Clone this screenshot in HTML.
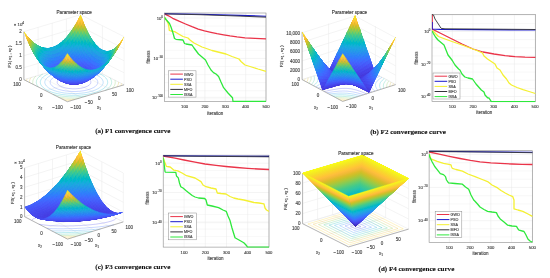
<!DOCTYPE html>
<html><head><meta charset="utf-8"><title>Convergence curves</title>
<style>html,body{margin:0;padding:0;background:#fff}svg{display:block}text{font-family:"Liberation Sans", sans-serif;stroke:#444;stroke-width:.13px;paint-order:stroke}</style></head>
<body><svg width="550" height="278" viewBox="0 0 550 278">
<rect width="550" height="278" fill="#fff"/>
<defs><filter id="bl" x="-5%" y="-5%" width="110%" height="110%"><feGaussianBlur stdDeviation=".7"/><feComponentTransfer><feFuncA type="linear" slope="2" intercept="-.5"/></feComponentTransfer></filter></defs>
<path d="M67.4 101.7L23.9 79.7M23.9 79.7L23.9 31.6M81.6 97.5L38.1 75.5M38.1 75.5L38.1 27.4M95.8 93.2L52.2 71.2M52.2 71.2L52.2 23.1M109.9 89L66.4 67M66.4 67L66.4 18.9M124.1 84.8L80.6 62.8M80.6 62.8L80.6 14.7M67.4 101.7L124.1 84.8M124.1 84.8L124.1 36.7M45.7 90.7L102.4 73.8M102.4 73.8L102.4 25.7M23.9 79.7L80.6 62.8M80.6 62.8L80.6 14.7M23.9 79.7L80.6 62.8M80.6 62.8L124.1 84.8M23.9 67.7L80.6 50.8M80.6 50.8L124.1 72.8M23.9 55.7L80.6 38.8M80.6 38.8L124.1 60.8M23.9 43.6L80.6 26.7M80.6 26.7L124.1 48.7M23.9 31.6L80.6 14.7M80.6 14.7L124.1 36.7" stroke="#e9e9e9" stroke-width=".5" fill="none"/>
<path d="M80.3 88.3L79.5 88.4L77.6 88.6L76.6 88.7L75.6 88.8L74.1 88.8L72.7 88.8L71.4 88.7L70.2 88.6L69.1 88.5L68.1 88.4L66.4 88.1L65.4 87.9L64.3 87.6L63.1 87.2L61.8 86.8L60.6 86.2L59.6 85.7L58.8 85L58.2 84.5L57.8 84L57.5 83.6L57.2 82.9L57.2 82.5L57.2 82L57.3 81.6L57.4 81.1L57.8 80.5L58.2 80L58.6 79.6L59 79.2L60 78.6L60.6 78.3L61.8 77.8L63.1 77.3L64.5 76.9L66 76.5L67.7 76.2L68.5 76.1L70.4 75.9L71.4 75.8L72.4 75.7L73.9 75.7L75.3 75.7L76.6 75.8L77.8 75.9L78.9 76L79.9 76.1L81.6 76.4L82.6 76.6L83.7 76.9L84.9 77.3L86.2 77.7L87.4 78.3L88.4 78.8L89.2 79.5L89.8 80L90.2 80.5L90.5 80.9L90.8 81.6L90.8 82L90.8 82.5L90.7 82.9L90.6 83.4L90.2 84L89.8 84.5L89.4 84.9L89 85.3L88 85.9L87.4 86.2L86.2 86.7L84.9 87.2L83.5 87.6L82 88L80.3 88.3L80.3 88.3" fill="none" stroke="#4747eb" stroke-width="0.45" opacity=".62"/>
<path d="M84.7 90.5L83.9 90.7L82.2 90.9L81 91.1L79.4 91.3L78.4 91.3L76.9 91.4L75.4 91.5L74.3 91.5L73.1 91.5L71.9 91.5L70.7 91.4L69.4 91.3L68 91.2L66.6 91L65.5 90.9L64.6 90.7L63.3 90.5L61.9 90.2L61.1 90L59.6 89.6L58.8 89.4L57.5 88.9L56.2 88.4L55.1 87.9L54.1 87.3L53.1 86.7L52.4 86.1L52 85.8L51.3 85.1L51 84.7L50.7 84.1L50.4 83.6L50.3 83.2L50.2 82.8L50.2 82.2L50.2 81.6L50.4 81.1L50.5 80.6L50.8 80.2L51.1 79.8L51.4 79.4L51.9 78.8L52.5 78.2L53 77.9L53.8 77.3L54.5 76.9L55.6 76.4L56.2 76.1L57.5 75.6L58.8 75.1L60.2 74.7L61.7 74.3L63.3 74L64.1 73.8L65.8 73.6L67 73.4L68.6 73.2L69.6 73.2L71.1 73.1L72.6 73L73.7 73L74.9 73L76.1 73L77.3 73.1L78.6 73.2L80 73.3L81.4 73.5L82.5 73.6L83.4 73.8L84.7 74L86.1 74.3L86.9 74.5L88.4 74.9L89.2 75.1L90.5 75.6L91.8 76.1L92.9 76.6L93.9 77.2L94.9 77.8L95.6 78.4L96 78.7L96.7 79.4L97 79.8L97.3 80.4L97.6 80.9L97.7 81.3L97.8 81.7L97.8 82.3L97.8 82.9L97.6 83.4L97.5 83.9L97.2 84.3L96.9 84.7L96.6 85.1L96.1 85.7L95.5 86.3L95 86.6L94.2 87.2L93.5 87.6L92.4 88.1L91.8 88.4L90.5 88.9L89.2 89.4L87.8 89.8L86.3 90.2L84.7 90.5L84.7 90.5" fill="none" stroke="#3e6fff" stroke-width="0.45" opacity=".62"/>
<path d="M87.2 92.3L86.4 92.5L84.7 92.8L83.6 92.9L82 93.1L81.1 93.2L79.1 93.4L78.1 93.5L77.1 93.5L75.7 93.6L74.1 93.6L72.7 93.6L71.5 93.5L70.3 93.5L69 93.4L67.7 93.3L66.6 93.2L65.5 93.1L64.5 93L63.3 92.8L61.6 92.5L60.7 92.3L59.8 92.1L58.2 91.8L57.4 91.6L55.9 91.1L54.9 90.8L53.8 90.4L52.6 89.9L51.4 89.4L50.3 88.9L49.3 88.3L48.4 87.7L47.8 87.2L47.2 86.7L46.5 86.1L46.2 85.7L45.7 85L45.5 84.6L45.3 84.2L45 83.5L44.9 83.1L44.8 82.6L44.8 82.2L44.9 81.8L44.9 81.2L45.1 80.7L45.3 80.3L45.5 79.8L45.9 79.3L46.3 78.7L46.8 78.2L47.2 77.8L47.6 77.4L48.5 76.8L49 76.4L49.9 75.9L50.6 75.5L51.7 75L52.3 74.7L53.5 74.2L54.9 73.7L56.2 73.3L57.7 72.9L59.2 72.5L60.8 72.2L61.6 72L63.3 71.7L64.4 71.6L66 71.4L66.9 71.3L68.9 71.1L69.9 71L70.9 71L72.3 70.9L73.9 70.9L75.3 70.9L76.5 71L77.7 71L79 71.1L80.3 71.2L81.4 71.3L82.5 71.4L83.5 71.5L84.7 71.7L86.4 72L87.3 72.2L88.2 72.4L89.8 72.7L90.6 72.9L92.1 73.4L93.1 73.7L94.2 74.1L95.4 74.6L96.6 75.1L97.7 75.6L98.7 76.2L99.6 76.8L100.2 77.3L100.8 77.8L101.5 78.4L101.8 78.8L102.3 79.5L102.5 79.9L102.7 80.3L103 81L103.1 81.4L103.2 81.9L103.2 82.3L103.1 82.7L103.1 83.3L102.9 83.8L102.7 84.2L102.5 84.7L102.1 85.2L101.7 85.8L101.2 86.3L100.8 86.7L100.4 87.1L99.5 87.7L99 88.1L98.1 88.6L97.4 89L96.3 89.5L95.7 89.8L94.5 90.3L93.1 90.8L91.8 91.2L90.3 91.6L88.8 92L87.2 92.3L87.2 92.3" fill="none" stroke="#2797eb" stroke-width="0.45" opacity=".62"/>
<path d="M89.2 93.9L88.4 94.1L86.7 94.4L85.6 94.5L84 94.7L83.1 94.8L81.2 95L80.3 95.1L79 95.2L77.3 95.3L76.1 95.3L75.1 95.3L73.9 95.3L72.7 95.3L71.3 95.3L70 95.2L68.8 95.2L67.6 95.1L66.4 95L65.2 94.9L63.7 94.7L62.2 94.5L61.2 94.4L60.3 94.2L58.8 93.9L57.6 93.7L56.8 93.5L55.2 93.1L54.4 92.9L52.9 92.5L51.7 92.1L50.9 91.8L49.6 91.3L48.4 90.8L47.3 90.2L46.2 89.7L45.2 89.1L44.4 88.5L43.8 88.1L43.2 87.5L42.5 86.8L42.1 86.5L41.6 85.8L41.3 85.4L41 84.9L40.7 84.3L40.6 83.9L40.5 83.5L40.4 82.9L40.3 82.3L40.3 81.8L40.4 81.3L40.5 80.9L40.7 80.4L40.9 79.9L41.1 79.4L41.4 78.9L41.8 78.5L42.1 78.1L42.5 77.7L43.1 77L43.6 76.6L44.1 76.2L45 75.6L45.5 75.3L46.5 74.7L47.1 74.4L48.3 73.8L48.9 73.5L50.1 73L51.4 72.5L52.8 72.1L54.2 71.7L55.7 71.3L57.2 70.9L58.8 70.6L59.6 70.4L61.3 70.1L62.4 70L64 69.8L64.9 69.7L66.8 69.5L67.7 69.4L69 69.3L70.7 69.2L71.9 69.2L72.9 69.2L74.1 69.2L75.3 69.2L76.7 69.2L78 69.3L79.2 69.3L80.4 69.4L81.6 69.5L82.8 69.6L84.3 69.8L85.8 70L86.8 70.1L87.7 70.3L89.2 70.6L90.4 70.8L91.2 71L92.8 71.4L93.6 71.6L95.1 72L96.3 72.4L97.1 72.7L98.4 73.2L99.6 73.7L100.7 74.3L101.8 74.8L102.8 75.4L103.6 76L104.2 76.4L104.8 77L105.5 77.7L105.9 78L106.4 78.7L106.7 79.1L107 79.6L107.3 80.2L107.4 80.6L107.5 81L107.6 81.6L107.7 82.2L107.7 82.7L107.6 83.2L107.5 83.6L107.3 84.1L107.1 84.6L106.9 85.1L106.6 85.6L106.2 86L105.9 86.4L105.5 86.8L104.9 87.5L104.4 87.9L103.9 88.3L103 88.9L102.5 89.2L101.5 89.8L100.9 90.1L99.7 90.7L99.1 91L97.9 91.5L96.6 92L95.2 92.4L93.8 92.8L92.3 93.2L90.8 93.6L89.2 93.9L89.2 93.9" fill="none" stroke="#08b5d0" stroke-width="0.45" opacity=".62"/>
<path d="M86.3 96.1L84.8 96.3L83.8 96.4L82 96.5L81 96.6L79.8 96.7L78 96.8L76.9 96.8L75.8 96.9L74.7 96.9L73.3 96.9L71.9 96.8L70.6 96.8L69.3 96.8L68.1 96.7L66.9 96.6L65.7 96.5L64.6 96.4L63.5 96.3L62 96.1L60.5 95.9L59.5 95.7L58.6 95.6L57 95.3L55.9 95.1L55.1 94.9L53.4 94.5L52.9 94.4" fill="none" stroke="#31c69f" stroke-width="0.45" opacity=".62"/>
<path d="M109.6 77.5L110.1 78.1L110.4 78.4L110.8 79.1L111 79.5L111.2 80L111.4 80.7L111.5 81.1L111.6 81.5L111.7 82L111.7 82.5L111.6 83L111.5 83.6L111.4 84.1L111.2 84.5L111 85L110.7 85.5L110.5 85.9L110.2 86.3L109.7 86.9L109.2 87.5L108.8 87.9L108.4 88.2L107.6 88.8L107 89.3L106.6 89.6L105.5 90.2L105.2 90.4" fill="none" stroke="#31c69f" stroke-width="0.45" opacity=".62"/>
<path d="M38.4 87L37.9 86.4L37.6 86.1L37.2 85.4L37 85L36.8 84.5L36.6 83.8L36.5 83.4L36.4 83L36.3 82.5L36.3 82L36.4 81.5L36.5 80.9L36.6 80.4L36.8 80L37 79.5L37.3 79L37.5 78.6L37.8 78.2L38.3 77.6L38.8 77L39.2 76.6L39.6 76.3L40.4 75.7L41 75.2L41.4 74.9L42.5 74.3L42.8 74.1" fill="none" stroke="#31c69f" stroke-width="0.45" opacity=".62"/>
<path d="M61.7 68.4L63.2 68.2L64.2 68.1L66 68L67 67.9L68.2 67.8L70 67.7L71.1 67.7L72.2 67.6L73.3 67.6L74.7 67.6L76.1 67.7L77.4 67.7L78.7 67.7L79.9 67.8L81.1 67.9L82.3 68L83.4 68.1L84.5 68.2L86 68.4L87.5 68.6L88.5 68.8L89.4 68.9L91 69.2L92.1 69.4L92.9 69.6L94.6 70L95.1 70.1" fill="none" stroke="#31c69f" stroke-width="0.45" opacity=".62"/>
<path d="M79.4 98.1L77.7 98.2L76.3 98.2L75.2 98.3L74.1 98.3L73 98.3L71.7 98.2L70.3 98.2L69 98.2L67.8 98.1L66.6 98L65.4 97.9L64.2 97.8L62.8 97.7L61.3 97.5L60.1 97.3L59.1 97.2L58.2 97.1" fill="none" stroke="#81cc59" stroke-width="0.45" opacity=".62"/>
<path d="M114.9 80.2L115.1 80.8L115.2 81.3L115.2 81.8L115.3 82.2L115.2 82.6L115.2 83.1L115.1 83.7L115 84.2L114.8 84.6L114.6 85.1L114.4 85.6L114.1 86L113.7 86.6L113.3 87.2L112.8 87.6L112.5 88L112.1 88.4" fill="none" stroke="#81cc59" stroke-width="0.45" opacity=".62"/>
<path d="M33.1 84.3L32.9 83.7L32.8 83.2L32.8 82.7L32.7 82.3L32.8 81.9L32.8 81.4L32.9 80.8L33 80.3L33.2 79.9L33.4 79.4L33.6 78.9L33.9 78.5L34.3 77.9L34.7 77.3L35.2 76.9L35.5 76.5L35.9 76.1" fill="none" stroke="#81cc59" stroke-width="0.45" opacity=".62"/>
<path d="M68.6 66.4L70.3 66.3L71.7 66.3L72.8 66.2L73.9 66.2L75 66.2L76.3 66.3L77.7 66.3L79 66.3L80.2 66.4L81.4 66.5L82.6 66.6L83.8 66.7L85.2 66.8L86.7 67L87.9 67.2L88.9 67.3L89.8 67.4" fill="none" stroke="#81cc59" stroke-width="0.45" opacity=".62"/>
<path d="M74.6 99.5L73.3 99.5L72.1 99.5L71 99.5L69.8 99.5L68.5 99.4L67.3 99.4L66 99.3L64.6 99.2L63.3 99L62.1 98.9L61.9 98.9" fill="none" stroke="#dcbd29" stroke-width="0.45" opacity=".62"/>
<path d="M118.6 82L118.6 82.5L118.5 83L118.5 83.4L118.4 83.9L118.2 84.4L118.1 84.9L117.8 85.4L117.6 85.9L117.3 86.4L116.9 86.9L116.9 87" fill="none" stroke="#dcbd29" stroke-width="0.45" opacity=".62"/>
<path d="M29.4 82.5L29.4 82L29.5 81.5L29.5 81.1L29.6 80.6L29.8 80.1L29.9 79.6L30.2 79.1L30.4 78.6L30.7 78.1L31.1 77.6L31.1 77.5" fill="none" stroke="#dcbd29" stroke-width="0.45" opacity=".62"/>
<path d="M73.4 65L74.7 65L75.9 65L77 65L78.2 65L79.5 65.1L80.7 65.1L82 65.2L83.4 65.3L84.7 65.5L85.9 65.6L86.1 65.6" fill="none" stroke="#dcbd29" stroke-width="0.45" opacity=".62"/>
<path d="M70.7 100.7L69.4 100.7L68.1 100.6L66.9 100.5L65.7 100.5L64.8 100.4" fill="none" stroke="#fccf30" stroke-width="0.45" opacity=".62"/>
<path d="M121.5 83.5L121.4 84L121.3 84.5L121.1 85L120.9 85.5L120.8 85.8" fill="none" stroke="#fccf30" stroke-width="0.45" opacity=".62"/>
<path d="M26.5 81L26.6 80.5L26.7 80L26.9 79.5L27.1 79L27.2 78.7" fill="none" stroke="#fccf30" stroke-width="0.45" opacity=".62"/>
<path d="M77.3 63.8L78.6 63.8L79.9 63.9L81.1 64L82.3 64L83.2 64.1" fill="none" stroke="#fccf30" stroke-width="0.45" opacity=".62"/>
<path d="M67.4 101.7L124.1 84.8" stroke="#8a8a8a" stroke-width="0.6"/>
<path d="M23.9 79.7L67.4 101.7" stroke="#8a8a8a" stroke-width="0.6"/>
<path d="M23.9 79.7L23.9 31.6" stroke="#8a8a8a" stroke-width="0.6"/>
<g fill="currentColor" stroke="currentColor" stroke-width=".4" stroke-linejoin="round" filter="url(#bl)">
<path color="#f6df29" d="M80.2 21.7l1.8-3.4-1.4-3.6-1.8 3.4z"/>
<path color="#fec438" d="M78.4 25l1.8-3.3-1.4-3.6-1.7 3.3z"/>
<path color="#e7bb2e" d="M76.6 28.1l1.8-3.1-1.3-3.6-1.8 3.1z"/>
<path color="#bfc32d" d="M74.9 30.9l1.7-2.8-1.3-3.6-1.8 2.8z"/>
<path color="#92ca4b" d="M73.1 33.6l1.8-2.7-1.4-3.6-1.8 2.7z"/>
<path color="#68cd6c" d="M71.3 36.1l1.8-2.5-1.4-3.6-1.7 2.5z"/>
<path color="#46cb88" d="M69.6 38.4l1.7-2.3-1.3-3.6-1.8 2.3z"/>
<path color="#33c79d" d="M67.8 40.6l1.8-2.2-1.4-3.6-1.8 2.2z"/>
<path color="#26c2ac" d="M66 42.5l1.8-1.9-1.4-3.6-1.7 1.9z"/>
<path color="#12beb9" d="M64.2 44.2l1.8-1.7-1.3-3.6-1.8 1.7z"/>
<path color="#02bbc3" d="M62.5 45.8l1.7-1.6-1.3-3.6-1.8 1.6z"/>
<path color="#02b7cb" d="M60.7 47.2l1.8-1.4-1.4-3.6-1.8 1.4z"/>
<path color="#09b4d1" d="M58.9 48.4l1.8-1.2-1.4-3.6-1.7 1.2z"/>
<path color="#10b2d5" d="M57.2 49.4l1.7-1-1.3-3.6-1.8 1z"/>
<path color="#14b0d8" d="M55.4 50.2l1.8-.8-1.4-3.6-1.8 .8z"/>
<path color="#16afd9" d="M53.6 50.8l1.8-.6-1.4-3.6-1.8 .6z"/>
<path color="#16afd9" d="M51.8 51.2l1.8-.4-1.4-3.6-1.7 .4z"/>
<path color="#14b0d8" d="M50.1 51.5l1.7-.3-1.3-3.6-1.8 .3z"/>
<path color="#10b2d5" d="M48.3 51.5l1.8 0-1.4-3.6-1.8 0z"/>
<path color="#09b4d1" d="M46.5 51.4l1.8 .1-1.4-3.6-1.7-.1z"/>
<path color="#02b7cb" d="M44.8 51.1l1.7 .3-1.3-3.6-1.8-.3z"/>
<path color="#02bbc3" d="M43 50.6l1.8 .5-1.4-3.6-1.8-.5z"/>
<path color="#12beb9" d="M41.2 49.9l1.8 .7-1.4-3.6-1.8-.7z"/>
<path color="#26c2ac" d="M39.4 49l1.8 .9-1.4-3.6-1.7-.9z"/>
<path color="#33c79d" d="M37.7 47.9l1.7 1.1-1.3-3.6-1.8-1.1z"/>
<path color="#46cb88" d="M35.9 46.7l1.8 1.2-1.4-3.6-1.8-1.2z"/>
<path color="#68cd6c" d="M34.1 45.2l1.8 1.5-1.4-3.6-1.7-1.5z"/>
<path color="#92ca4b" d="M32.3 43.6l1.8 1.6-1.3-3.6-1.8-1.6z"/>
<path color="#bfc32d" d="M30.6 41.8l1.7 1.8-1.3-3.6-1.8-1.8z"/>
<path color="#e7bb2e" d="M28.8 39.8l1.8 2-1.4-3.6-1.8-2z"/>
<path color="#fec438" d="M27 37.6l1.8 2.2-1.4-3.6-1.7-2.2z"/>
<path color="#f6df29" d="M25.3 35.2l1.7 2.4-1.3-3.6-1.8-2.4z"/>
<path color="#fec438" d="M81.5 25.2l1.8-3.5-1.3-3.4-1.8 3.4z"/>
<path color="#e5bb2d" d="M79.8 28.4l1.7-3.2-1.3-3.5-1.8 3.3z"/>
<path color="#b8c431" d="M78 31.5l1.8-3.1-1.4-3.4-1.8 3.1z"/>
<path color="#87cb54" d="M76.2 34.3l1.8-2.8-1.4-3.4-1.7 2.8z"/>
<path color="#5acc78" d="M74.5 37l1.7-2.7-1.3-3.4-1.8 2.7z"/>
<path color="#3ac994" d="M72.7 39.5l1.8-2.5-1.4-3.4-1.8 2.5z"/>
<path color="#2ac3a9" d="M70.9 41.8l1.8-2.3-1.4-3.4-1.7 2.3z"/>
<path color="#12beb9" d="M69.1 44l1.8-2.2-1.3-3.4-1.8 2.2z"/>
<path color="#01b9c6" d="M67.4 45.9l1.7-1.9-1.3-3.4-1.8 1.9z"/>
<path color="#09b4d1" d="M65.6 47.7l1.8-1.8-1.4-3.4-1.8 1.7z"/>
<path color="#16afd9" d="M63.8 49.2l1.8-1.5-1.4-3.5-1.7 1.6z"/>
<path color="#1baade" d="M62.1 50.6l1.7-1.4-1.3-3.4-1.8 1.4z"/>
<path color="#1fa6e2" d="M60.3 51.8l1.8-1.2-1.4-3.4-1.8 1.2z"/>
<path color="#21a3e3" d="M58.5 52.8l1.8-1-1.4-3.4-1.7 1z"/>
<path color="#23a1e4" d="M56.7 53.6l1.8-.8-1.3-3.4-1.8 .8z"/>
<path color="#23a0e5" d="M55 54.2l1.7-.6-1.3-3.4-1.8 .6z"/>
<path color="#23a0e5" d="M53.2 54.6l1.8-.4-1.4-3.4-1.8 .4z"/>
<path color="#23a1e4" d="M51.4 54.9l1.8-.3-1.4-3.4-1.7 .3z"/>
<path color="#21a3e3" d="M49.7 55l1.7-.1-1.3-3.4-1.8 0z"/>
<path color="#1fa6e2" d="M47.9 54.8l1.8 .2-1.4-3.5-1.8-.1z"/>
<path color="#1baade" d="M46.1 54.5l1.8 .3-1.4-3.4-1.7-.3z"/>
<path color="#16afd9" d="M44.3 54l1.8 .5-1.3-3.4-1.8-.5z"/>
<path color="#09b4d1" d="M42.6 53.3l1.7 .7-1.3-3.4-1.8-.7z"/>
<path color="#01b9c6" d="M40.8 52.4l1.8 .9-1.4-3.4-1.8-.9z"/>
<path color="#12beb9" d="M39 51.4l1.8 1-1.4-3.4-1.7-1.1z"/>
<path color="#2ac3a9" d="M37.2 50.1l1.8 1.3-1.3-3.5-1.8-1.2z"/>
<path color="#3ac994" d="M35.5 48.7l1.7 1.4-1.3-3.4-1.8-1.5z"/>
<path color="#5acc78" d="M33.7 47l1.8 1.7-1.4-3.5-1.8-1.6z"/>
<path color="#87cb54" d="M31.9 45.2l1.8 1.8-1.4-3.4-1.7-1.8z"/>
<path color="#b8c431" d="M30.2 43.2l1.7 2-1.3-3.4-1.8-2z"/>
<path color="#e5bb2d" d="M28.4 41l1.8 2.2-1.4-3.4-1.8-2.2z"/>
<path color="#fec438" d="M26.6 38.6l1.8 2.4-1.4-3.4-1.7-2.4z"/>
<path color="#e7bb2e" d="M82.9 28.4l1.8-3.5-1.4-3.2-1.8 3.5z"/>
<path color="#b8c431" d="M81.1 31.6l1.8-3.2-1.4-3.2-1.7 3.2z"/>
<path color="#83cc57" d="M79.4 34.7l1.7-3.1-1.3-3.2-1.8 3.1z"/>
<path color="#53cc7d" d="M77.6 37.6l1.8-2.9-1.4-3.2-1.8 2.8z"/>
<path color="#35c79b" d="M75.8 40.3l1.8-2.7-1.4-3.3-1.7 2.7z"/>
<path color="#21c1b0" d="M74 42.8l1.8-2.5-1.3-3.3-1.8 2.5z"/>
<path color="#04bbc1" d="M72.3 45.1l1.7-2.3-1.3-3.3-1.8 2.3z"/>
<path color="#07b5d0" d="M70.5 47.2l1.8-2.1-1.4-3.3-1.8 2.2z"/>
<path color="#17aeda" d="M68.7 49.1l1.8-1.9-1.4-3.2-1.7 1.9z"/>
<path color="#1ea7e1" d="M67 50.9l1.7-1.8-1.3-3.2-1.8 1.8z"/>
<path color="#23a1e4" d="M65.2 52.4l1.8-1.5-1.4-3.2-1.8 1.5z"/>
<path color="#259be7" d="M63.4 53.8l1.8-1.4-1.4-3.2-1.7 1.4z"/>
<path color="#2797eb" d="M61.6 55l1.8-1.2-1.3-3.2-1.8 1.2z"/>
<path color="#2994ed" d="M59.9 56l1.7-1-1.3-3.2-1.8 1z"/>
<path color="#2b91ef" d="M58.1 56.8l1.8-.8-1.4-3.2-1.8 .8z"/>
<path color="#2b90f0" d="M56.3 57.4l1.8-.6-1.4-3.2-1.7 .6z"/>
<path color="#2b90f0" d="M54.6 57.9l1.7-.5-1.3-3.2-1.8 .4z"/>
<path color="#2b91ef" d="M52.8 58.1l1.8-.2-1.4-3.3-1.8 .3z"/>
<path color="#2994ed" d="M51 58.2l1.8-.1-1.4-3.2-1.7 .1z"/>
<path color="#2797eb" d="M49.2 58l1.8 .2-1.3-3.2-1.8-.2z"/>
<path color="#259be7" d="M47.5 57.7l1.7 .3-1.3-3.2-1.8-.3z"/>
<path color="#23a1e4" d="M45.7 57.2l1.8 .5-1.4-3.2-1.8-.5z"/>
<path color="#1ea7e1" d="M43.9 56.5l1.8 .7-1.4-3.2-1.7-.7z"/>
<path color="#17aeda" d="M42.2 55.6l1.7 .9-1.3-3.2-1.8-.9z"/>
<path color="#07b5d0" d="M40.4 54.6l1.8 1-1.4-3.2-1.8-1z"/>
<path color="#04bbc1" d="M38.6 53.3l1.8 1.3-1.4-3.2-1.8-1.3z"/>
<path color="#21c1b0" d="M36.8 51.9l1.8 1.4-1.4-3.2-1.7-1.4z"/>
<path color="#35c79b" d="M35.1 50.2l1.7 1.7-1.3-3.2-1.8-1.7z"/>
<path color="#53cc7d" d="M33.3 48.4l1.8 1.8-1.4-3.2-1.8-1.8z"/>
<path color="#83cc57" d="M31.5 46.4l1.8 2-1.4-3.2-1.7-2z"/>
<path color="#b8c431" d="M29.8 44.2l1.7 2.2-1.3-3.2-1.8-2.2z"/>
<path color="#e7bb2e" d="M28 41.8l1.8 2.4-1.4-3.2-1.8-2.4z"/>
<path color="#bfc32d" d="M84.3 31.4l1.7-3.4-1.3-3.1-1.8 3.5z"/>
<path color="#87cb54" d="M82.5 34.7l1.8-3.3-1.4-3-1.8 3.2z"/>
<path color="#53cc7d" d="M80.7 37.7l1.8-3-1.4-3.1-1.7 3.1z"/>
<path color="#33c79d" d="M79 40.6l1.7-2.9-1.3-3-1.8 2.9z"/>
<path color="#1cc0b4" d="M77.2 43.3l1.8-2.7-1.4-3-1.8 2.7z"/>
<path color="#01b9c6" d="M75.4 45.8l1.8-2.5-1.4-3-1.8 2.5z"/>
<path color="#10b2d5" d="M73.6 48.1l1.8-2.3-1.4-3-1.7 2.3z"/>
<path color="#1ca9df" d="M71.9 50.2l1.7-2.1-1.3-3-1.8 2.1z"/>
<path color="#23a1e4" d="M70.1 52.2l1.8-2-1.4-3-1.8 1.9z"/>
<path color="#2699e9" d="M68.3 53.9l1.8-1.7-1.4-3.1-1.7 1.8z"/>
<path color="#2a93ee" d="M66.5 55.5l1.8-1.6-1.3-3-1.8 1.5z"/>
<path color="#2d8df2" d="M64.8 56.9l1.7-1.4-1.3-3.1-1.8 1.4z"/>
<path color="#2d88f6" d="M63 58l1.8-1.1-1.4-3.1-1.8 1.2z"/>
<path color="#2e85f8" d="M61.2 59l1.8-1-1.4-3-1.7 1z"/>
<path color="#2e83f9" d="M59.5 59.8l1.7-.8-1.3-3-1.8 .8z"/>
<path color="#2f81fa" d="M57.7 60.5l1.8-.7-1.4-3-1.8 .6z"/>
<path color="#2f81fa" d="M55.9 60.9l1.8-.4-1.4-3.1-1.7 .5z"/>
<path color="#2e83f9" d="M54.1 61.2l1.8-.3-1.3-3-1.8 .2z"/>
<path color="#2e85f8" d="M52.4 61.2l1.7 0-1.3-3.1-1.8 .1z"/>
<path color="#2d88f6" d="M50.6 61.1l1.8 .1-1.4-3-1.8-.2z"/>
<path color="#2d8df2" d="M48.8 60.8l1.8 .3-1.4-3.1-1.7-.3z"/>
<path color="#2a93ee" d="M47.1 60.3l1.7 .5-1.3-3.1-1.8-.5z"/>
<path color="#2699e9" d="M45.3 59.6l1.8 .7-1.4-3.1-1.8-.7z"/>
<path color="#23a1e4" d="M43.5 58.7l1.8 .9-1.4-3.1-1.7-.9z"/>
<path color="#1ca9df" d="M41.7 57.6l1.8 1.1-1.3-3.1-1.8-1z"/>
<path color="#10b2d5" d="M40 56.4l1.7 1.2-1.3-3-1.8-1.3z"/>
<path color="#01b9c6" d="M38.2 54.9l1.8 1.5-1.4-3.1-1.8-1.4z"/>
<path color="#1cc0b4" d="M36.4 53.3l1.8 1.6-1.4-3-1.7-1.7z"/>
<path color="#33c79d" d="M34.7 51.5l1.7 1.8-1.3-3.1-1.8-1.8z"/>
<path color="#53cc7d" d="M32.9 49.5l1.8 2-1.4-3.1-1.8-2z"/>
<path color="#87cb54" d="M31.1 47.3l1.8 2.2-1.4-3.1-1.7-2.2z"/>
<path color="#bfc32d" d="M29.3 44.9l1.8 2.4-1.3-3.1-1.8-2.4z"/>
<path color="#92ca4b" d="M85.6 34.3l1.8-3.5-1.4-2.8-1.7 3.4z"/>
<path color="#5acc78" d="M83.9 37.5l1.7-3.2-1.3-2.9-1.8 3.3z"/>
<path color="#35c79b" d="M82.1 40.6l1.8-3.1-1.4-2.8-1.8 3z"/>
<path color="#1cc0b4" d="M80.3 43.5l1.8-2.9-1.4-2.9-1.7 2.9z"/>
<path color="#01b9c8" d="M78.5 46.1l1.8-2.6-1.3-2.9-1.8 2.7z"/>
<path color="#14b0d8" d="M76.8 48.6l1.7-2.5-1.3-2.8-1.8 2.5z"/>
<path color="#1fa6e2" d="M75 51l1.8-2.4-1.4-2.8-1.8 2.3z"/>
<path color="#259ce7" d="M73.2 53.1l1.8-2.1-1.4-2.9-1.7 2.1z"/>
<path color="#2994ed" d="M71.5 55l1.7-1.9-1.3-2.9-1.8 2z"/>
<path color="#2d8cf3" d="M69.7 56.8l1.8-1.8-1.4-2.8-1.8 1.7z"/>
<path color="#2e85f8" d="M67.9 58.3l1.8-1.5-1.4-2.9-1.8 1.6z"/>
<path color="#307ffb" d="M66.1 59.7l1.8-1.4-1.4-2.8-1.7 1.4z"/>
<path color="#337afd" d="M64.4 60.9l1.7-1.2-1.3-2.8-1.8 1.1z"/>
<path color="#3776fe" d="M62.6 61.9l1.8-1-1.4-2.9-1.8 1z"/>
<path color="#3a74fe" d="M60.8 62.7l1.8-.8-1.4-2.9-1.7 .8z"/>
<path color="#3b73fe" d="M59 63.3l1.8-.6-1.3-2.9-1.8 .7z"/>
<path color="#3b73fe" d="M57.3 63.8l1.7-.5-1.3-2.8-1.8 .4z"/>
<path color="#3a74fe" d="M55.5 64l1.8-.2-1.4-2.9-1.8 .3z"/>
<path color="#3776fe" d="M53.7 64.1l1.8-.1-1.4-2.8-1.7 0z"/>
<path color="#337afd" d="M52 63.9l1.7 .2-1.3-2.9-1.8-.1z"/>
<path color="#307ffb" d="M50.2 63.6l1.8 .3-1.4-2.8-1.8-.3z"/>
<path color="#2e85f8" d="M48.4 63.1l1.8 .5-1.4-2.8-1.7-.5z"/>
<path color="#2d8cf3" d="M46.6 62.4l1.8 .7-1.3-2.8-1.8-.7z"/>
<path color="#2994ed" d="M44.9 61.5l1.7 .9-1.3-2.8-1.8-.9z"/>
<path color="#259ce7" d="M43.1 60.5l1.8 1-1.4-2.8-1.8-1.1z"/>
<path color="#1fa6e2" d="M41.3 59.2l1.8 1.3-1.4-2.9-1.7-1.2z"/>
<path color="#14b0d8" d="M39.6 57.8l1.7 1.4-1.3-2.8-1.8-1.5z"/>
<path color="#01b9c8" d="M37.8 56.1l1.8 1.7-1.4-2.9-1.8-1.6z"/>
<path color="#1cc0b4" d="M36 54.3l1.8 1.8-1.4-2.8-1.7-1.8z"/>
<path color="#35c79b" d="M34.2 52.3l1.8 2-1.3-2.8-1.8-2z"/>
<path color="#5acc78" d="M32.5 50.1l1.7 2.2-1.3-2.8-1.8-2.2z"/>
<path color="#92ca4b" d="M30.7 47.7l1.8 2.4-1.4-2.8-1.8-2.4z"/>
<path color="#68cd6c" d="M87 36.9l1.8-3.4-1.4-2.7-1.8 3.5z"/>
<path color="#3ac994" d="M85.2 40.2l1.8-3.3-1.4-2.6-1.7 3.2z"/>
<path color="#21c1b0" d="M83.4 43.2l1.8-3-1.3-2.7-1.8 3.1z"/>
<path color="#01b9c6" d="M81.7 46.1l1.7-2.9-1.3-2.6-1.8 2.9z"/>
<path color="#14b0d8" d="M79.9 48.8l1.8-2.7-1.4-2.6-1.8 2.6z"/>
<path color="#20a5e2" d="M78.1 51.3l1.8-2.5-1.4-2.7-1.7 2.5z"/>
<path color="#269ae8" d="M76.4 53.6l1.7-2.3-1.3-2.7-1.8 2.4z"/>
<path color="#2b90f0" d="M74.6 55.7l1.8-2.1-1.4-2.6-1.8 2.1z"/>
<path color="#2e87f7" d="M72.8 57.7l1.8-2-1.4-2.6-1.7 1.9z"/>
<path color="#307ffb" d="M71 59.4l1.8-1.7-1.3-2.7-1.8 1.8z"/>
<path color="#3678fe" d="M69.3 61l1.7-1.6-1.3-2.6-1.8 1.5z"/>
<path color="#3c71ff" d="M67.5 62.4l1.8-1.4-1.4-2.7-1.8 1.4z"/>
<path color="#406dfe" d="M65.7 63.6l1.8-1.2-1.4-2.7-1.7 1.2z"/>
<path color="#4269fe" d="M64 64.5l1.7-.9-1.3-2.7-1.8 1z"/>
<path color="#4367fd" d="M62.2 65.4l1.8-.9-1.4-2.6-1.8 .8z"/>
<path color="#4466fd" d="M60.4 66l1.8-.6-1.4-2.7-1.8 .6z"/>
<path color="#4466fd" d="M58.6 66.4l1.8-.4-1.4-2.7-1.7 .5z"/>
<path color="#4367fd" d="M56.9 66.7l1.7-.3-1.3-2.6-1.8 .2z"/>
<path color="#4269fe" d="M55.1 66.7l1.8 0-1.4-2.7-1.8 .1z"/>
<path color="#406dfe" d="M53.3 66.6l1.8 .1-1.4-2.6-1.7-.2z"/>
<path color="#3c71ff" d="M51.5 66.3l1.8 .3-1.3-2.7-1.8-.3z"/>
<path color="#3678fe" d="M49.8 65.8l1.7 .5-1.3-2.7-1.8-.5z"/>
<path color="#307ffb" d="M48 65.1l1.8 .7-1.4-2.7-1.8-.7z"/>
<path color="#2e87f7" d="M46.2 64.2l1.8 .9-1.4-2.7-1.7-.9z"/>
<path color="#2b90f0" d="M44.5 63.1l1.7 1.1-1.3-2.7-1.8-1z"/>
<path color="#269ae8" d="M42.7 61.9l1.8 1.2-1.4-2.6-1.8-1.3z"/>
<path color="#20a5e2" d="M40.9 60.4l1.8 1.5-1.4-2.7-1.7-1.4z"/>
<path color="#14b0d8" d="M39.1 58.8l1.8 1.6-1.3-2.6-1.8-1.7z"/>
<path color="#01b9c6" d="M37.4 57l1.7 1.8-1.3-2.7-1.8-1.8z"/>
<path color="#21c1b0" d="M35.6 55l1.8 2-1.4-2.7-1.8-2z"/>
<path color="#3ac994" d="M33.8 52.8l1.8 2.2-1.4-2.7-1.7-2.2z"/>
<path color="#68cd6c" d="M32.1 50.4l1.7 2.4-1.3-2.7-1.8-2.4z"/>
<path color="#46cb88" d="M88.3 39.4l1.8-3.4-1.3-2.5-1.8 3.4z"/>
<path color="#2ac3a9" d="M86.6 42.6l1.7-3.2-1.3-2.5-1.8 3.3z"/>
<path color="#04bbc1" d="M84.8 45.7l1.8-3.1-1.4-2.4-1.8 3z"/>
<path color="#10b2d5" d="M83 48.6l1.8-2.9-1.4-2.5-1.7 2.9z"/>
<path color="#1fa6e2" d="M81.3 51.3l1.7-2.7-1.3-2.5-1.8 2.7z"/>
<path color="#269ae8" d="M79.5 53.8l1.8-2.5-1.4-2.5-1.8 2.5z"/>
<path color="#2c8ff0" d="M77.7 56.1l1.8-2.3-1.4-2.5-1.7 2.3z"/>
<path color="#2e85f8" d="M75.9 58.2l1.8-2.1-1.3-2.5-1.8 2.1z"/>
<path color="#327bfc" d="M74.2 60.2l1.7-2-1.3-2.5-1.8 2z"/>
<path color="#3b73fe" d="M72.4 61.9l1.8-1.7-1.4-2.5-1.8 1.7z"/>
<path color="#416bfe" d="M70.6 63.5l1.8-1.6-1.4-2.5-1.7 1.6z"/>
<path color="#4466fd" d="M68.9 64.8l1.7-1.3-1.3-2.5-1.8 1.4z"/>
<path color="#4561fc" d="M67.1 66l1.8-1.2-1.4-2.4-1.8 1.2z"/>
<path color="#465efb" d="M65.3 67l1.8-1-1.4-2.4-1.7 .9z"/>
<path color="#475cfa" d="M63.5 67.8l1.8-.8-1.3-2.5-1.8 .9z"/>
<path color="#475bfa" d="M61.8 68.5l1.7-.7-1.3-2.4-1.8 .6z"/>
<path color="#475bfa" d="M60 68.9l1.8-.4-1.4-2.5-1.8 .4z"/>
<path color="#475cfa" d="M58.2 69.1l1.8-.2-1.4-2.5-1.7 .3z"/>
<path color="#465efb" d="M56.4 69.2l1.8-.1-1.3-2.4-1.8 0z"/>
<path color="#4561fc" d="M54.7 69.1l1.7 .1-1.3-2.5-1.8-.1z"/>
<path color="#4466fd" d="M52.9 68.7l1.8 .4-1.4-2.5-1.8-.3z"/>
<path color="#416bfe" d="M51.1 68.2l1.8 .5-1.4-2.4-1.7-.5z"/>
<path color="#3b73fe" d="M49.4 67.5l1.7 .7-1.3-2.4-1.8-.7z"/>
<path color="#327bfc" d="M47.6 66.7l1.8 .8-1.4-2.4-1.8-.9z"/>
<path color="#2e85f8" d="M45.8 65.6l1.8 1.1-1.4-2.5-1.7-1.1z"/>
<path color="#2c8ff0" d="M44 64.3l1.8 1.3-1.3-2.5-1.8-1.2z"/>
<path color="#269ae8" d="M42.3 62.9l1.7 1.4-1.3-2.4-1.8-1.5z"/>
<path color="#1fa6e2" d="M40.5 61.3l1.8 1.6-1.4-2.5-1.8-1.6z"/>
<path color="#10b2d5" d="M38.7 59.4l1.8 1.9-1.4-2.5-1.7-1.8z"/>
<path color="#04bbc1" d="M37 57.4l1.7 2-1.3-2.4-1.8-2z"/>
<path color="#2ac3a9" d="M35.2 55.2l1.8 2.2-1.4-2.4-1.8-2.2z"/>
<path color="#46cb88" d="M33.4 52.9l1.8 2.3-1.4-2.4-1.7-2.4z"/>
<path color="#33c79d" d="M89.7 41.7l1.8-3.5-1.4-2.2-1.8 3.4z"/>
<path color="#12beb9" d="M87.9 44.9l1.8-3.2-1.4-2.3-1.7 3.2z"/>
<path color="#07b5d0" d="M86.2 48l1.7-3.1-1.3-2.3-1.8 3.1z"/>
<path color="#1ca9df" d="M84.4 50.9l1.8-2.9-1.4-2.3-1.8 2.9z"/>
<path color="#259ce7" d="M82.6 53.6l1.8-2.7-1.4-2.3-1.7 2.7z"/>
<path color="#2b90f0" d="M80.8 56.1l1.8-2.5-1.3-2.3-1.8 2.5z"/>
<path color="#2e85f8" d="M79.1 58.4l1.7-2.3-1.3-2.3-1.8 2.3z"/>
<path color="#337afd" d="M77.3 60.5l1.8-2.1-1.4-2.3-1.8 2.1z"/>
<path color="#3d70ff" d="M75.5 62.4l1.8-1.9-1.4-2.3-1.7 2z"/>
<path color="#4368fe" d="M73.8 64.2l1.7-1.8-1.3-2.2-1.8 1.7z"/>
<path color="#4561fc" d="M72 65.7l1.8-1.5-1.4-2.3-1.8 1.6z"/>
<path color="#475cfa" d="M70.2 67.1l1.8-1.4-1.4-2.2-1.7 1.3z"/>
<path color="#4758f8" d="M68.4 68.3l1.8-1.2-1.3-2.3-1.8 1.2z"/>
<path color="#4755f6" d="M66.7 69.3l1.7-1-1.3-2.3-1.8 1z"/>
<path color="#4854f5" d="M64.9 70.1l1.8-.8-1.4-2.3-1.8 .8z"/>
<path color="#4853f4" d="M63.1 70.7l1.8-.6-1.4-2.3-1.7 .7z"/>
<path color="#4853f4" d="M61.4 71.2l1.7-.5-1.3-2.2-1.8 .4z"/>
<path color="#4854f5" d="M59.6 71.4l1.8-.2-1.4-2.3-1.8 .2z"/>
<path color="#4755f6" d="M57.8 71.5l1.8-.1-1.4-2.3-1.8 .1z"/>
<path color="#4758f8" d="M56 71.3l1.8 .2-1.4-2.3-1.7-.1z"/>
<path color="#475cfa" d="M54.3 71l1.7 .3-1.3-2.2-1.8-.4z"/>
<path color="#4561fc" d="M52.5 70.5l1.8 .5-1.4-2.3-1.8-.5z"/>
<path color="#4368fe" d="M50.7 69.8l1.8 .7-1.4-2.3-1.7-.7z"/>
<path color="#3d70ff" d="M49 69l1.7 .8-1.3-2.3-1.8-.8z"/>
<path color="#337afd" d="M47.2 67.9l1.8 1.1-1.4-2.3-1.8-1.1z"/>
<path color="#2e85f8" d="M45.4 66.6l1.8 1.3-1.4-2.3-1.8-1.3z"/>
<path color="#2b90f0" d="M43.6 65.2l1.8 1.4-1.4-2.3-1.7-1.4z"/>
<path color="#259ce7" d="M41.9 63.5l1.7 1.7-1.3-2.3-1.8-1.6z"/>
<path color="#1ca9df" d="M40.1 61.7l1.8 1.8-1.4-2.2-1.8-1.9z"/>
<path color="#07b5d0" d="M38.3 59.7l1.8 2-1.4-2.3-1.7-2z"/>
<path color="#12beb9" d="M36.5 57.5l1.8 2.2-1.3-2.3-1.8-2.2z"/>
<path color="#33c79d" d="M34.8 55.1l1.7 2.4-1.3-2.3-1.8-2.3z"/>
<path color="#26c2ac" d="M91.1 43.8l1.7-3.5-1.3-2.1-1.8 3.5z"/>
<path color="#01b9c6" d="M89.3 47l1.8-3.2-1.4-2.1-1.8 3.2z"/>
<path color="#17aeda" d="M87.5 50.1l1.8-3.1-1.4-2.1-1.7 3.1z"/>
<path color="#23a1e4" d="M85.7 53l1.8-2.9-1.3-2.1-1.8 2.9z"/>
<path color="#2994ed" d="M84 55.7l1.7-2.7-1.3-2.1-1.8 2.7z"/>
<path color="#2e87f7" d="M82.2 58.2l1.8-2.5-1.4-2.1-1.8 2.5z"/>
<path color="#327bfc" d="M80.4 60.5l1.8-2.3-1.4-2.1-1.7 2.3z"/>
<path color="#3d70ff" d="M78.7 62.6l1.7-2.1-1.3-2.1-1.8 2.1z"/>
<path color="#4367fd" d="M76.9 64.5l1.8-1.9-1.4-2.1-1.8 1.9z"/>
<path color="#465ffb" d="M75.1 66.3l1.8-1.8-1.4-2.1-1.7 1.8z"/>
<path color="#4759f9" d="M73.3 67.8l1.8-1.5-1.3-2.1-1.8 1.5z"/>
<path color="#4855f6" d="M71.6 69.2l1.7-1.4-1.3-2.1-1.8 1.4z"/>
<path color="#4851f3" d="M69.8 70.4l1.8-1.2-1.4-2.1-1.8 1.2z"/>
<path color="#484ef1" d="M68 71.4l1.8-1-1.4-2.1-1.7 1z"/>
<path color="#484cf0" d="M66.3 72.2l1.7-.8-1.3-2.1-1.8 .8z"/>
<path color="#484bef" d="M64.5 72.8l1.8-.6-1.4-2.1-1.8 .6z"/>
<path color="#484bef" d="M62.7 73.3l1.8-.5-1.4-2.1-1.7 .5z"/>
<path color="#484cf0" d="M60.9 73.5l1.8-.2-1.3-2.1-1.8 .2z"/>
<path color="#484ef1" d="M59.2 73.6l1.7-.1-1.3-2.1-1.8 .1z"/>
<path color="#4851f3" d="M57.4 73.4l1.8 .2-1.4-2.1-1.8-.2z"/>
<path color="#4855f6" d="M55.6 73.1l1.8 .3-1.4-2.1-1.7-.3z"/>
<path color="#4759f9" d="M53.9 72.6l1.7 .5-1.3-2.1-1.8-.5z"/>
<path color="#465ffb" d="M52.1 71.9l1.8 .7-1.4-2.1-1.8-.7z"/>
<path color="#4367fd" d="M50.3 71l1.8 .9-1.4-2.1-1.7-.8z"/>
<path color="#3d70ff" d="M48.5 70l1.8 1-1.3-2-1.8-1.1z"/>
<path color="#327bfc" d="M46.8 68.7l1.7 1.3-1.3-2.1-1.8-1.3z"/>
<path color="#2e87f7" d="M45 67.3l1.8 1.4-1.4-2.1-1.8-1.4z"/>
<path color="#2994ed" d="M43.2 65.6l1.8 1.7-1.4-2.1-1.7-1.7z"/>
<path color="#23a1e4" d="M41.4 63.8l1.8 1.8-1.3-2.1-1.8-1.8z"/>
<path color="#17aeda" d="M39.7 61.8l1.7 2-1.3-2.1-1.8-2z"/>
<path color="#01b9c6" d="M37.9 59.6l1.8 2.2-1.4-2.1-1.8-2.2z"/>
<path color="#26c2ac" d="M36.1 57.2l1.8 2.4-1.4-2.1-1.7-2.4z"/>
<path color="#12beb9" d="M92.4 45.7l1.8-3.5-1.4-1.9-1.7 3.5z"/>
<path color="#09b4d1" d="M90.6 48.9l1.8-3.2-1.3-1.9-1.8 3.2z"/>
<path color="#1ea7e1" d="M88.9 52l1.7-3.1-1.3-1.9-1.8 3.1z"/>
<path color="#2699e9" d="M87.1 54.9l1.8-2.9-1.4-1.9-1.8 2.9z"/>
<path color="#2d8cf3" d="M85.3 57.6l1.8-2.7-1.4-1.9-1.7 2.7z"/>
<path color="#307ffb" d="M83.6 60.1l1.7-2.5-1.3-1.9-1.8 2.5z"/>
<path color="#3b73fe" d="M81.8 62.4l1.8-2.3-1.4-1.9-1.8 2.3z"/>
<path color="#4368fe" d="M80 64.5l1.8-2.1-1.4-1.9-1.7 2.1z"/>
<path color="#465ffb" d="M78.2 66.4l1.8-1.9-1.3-1.9-1.8 1.9z"/>
<path color="#4758f8" d="M76.5 68.2l1.7-1.8-1.3-1.9-1.8 1.8z"/>
<path color="#4853f4" d="M74.7 69.8l1.8-1.6-1.4-1.9-1.8 1.5z"/>
<path color="#484ef1" d="M72.9 71.1l1.8-1.3-1.4-2-1.7 1.4z"/>
<path color="#484bee" d="M71.2 72.3l1.7-1.2-1.3-1.9-1.8 1.2z"/>
<path color="#4848ec" d="M69.4 73.3l1.8-1-1.4-1.9-1.8 1z"/>
<path color="#4746eb" d="M67.6 74.1l1.8-.8-1.4-1.9-1.7 .8z"/>
<path color="#4746ea" d="M65.8 74.7l1.8-.6-1.3-1.9-1.8 .6z"/>
<path color="#4746ea" d="M64.1 75.2l1.7-.5-1.3-1.9-1.8 .5z"/>
<path color="#4746eb" d="M62.3 75.4l1.8-.2-1.4-1.9-1.8 .2z"/>
<path color="#4848ec" d="M60.5 75.5l1.8-.1-1.4-1.9-1.7 .1z"/>
<path color="#484bee" d="M58.8 75.4l1.7 .1-1.3-1.9-1.8-.2z"/>
<path color="#484ef1" d="M57 75l1.8 .4-1.4-2-1.8-.3z"/>
<path color="#4853f4" d="M55.2 74.5l1.8 .5-1.4-1.9-1.7-.5z"/>
<path color="#4758f8" d="M53.4 73.8l1.8 .7-1.3-1.9-1.8-.7z"/>
<path color="#465ffb" d="M51.7 73l1.7 .8-1.3-1.9-1.8-.9z"/>
<path color="#4368fe" d="M49.9 71.9l1.8 1.1-1.4-2-1.8-1z"/>
<path color="#3b73fe" d="M48.1 70.6l1.8 1.3-1.4-1.9-1.7-1.3z"/>
<path color="#307ffb" d="M46.4 69.2l1.7 1.4-1.3-1.9-1.8-1.4z"/>
<path color="#2d8cf3" d="M44.6 67.6l1.8 1.6-1.4-1.9-1.8-1.7z"/>
<path color="#2699e9" d="M42.8 65.7l1.8 1.9-1.4-2-1.8-1.8z"/>
<path color="#1ea7e1" d="M41 63.7l1.8 2-1.4-1.9-1.7-2z"/>
<path color="#09b4d1" d="M39.3 61.5l1.7 2.2-1.3-1.9-1.8-2.2z"/>
<path color="#12beb9" d="M37.5 59.1l1.8 2.4-1.4-1.9-1.8-2.4z"/>
<path color="#02bbc3" d="M93.8 47.4l1.8-3.4-1.4-1.8-1.8 3.5z"/>
<path color="#16afd9" d="M92 50.7l1.8-3.3-1.4-1.7-1.8 3.2z"/>
<path color="#23a1e4" d="M90.2 53.7l1.8-3-1.4-1.8-1.7 3.1z"/>
<path color="#2a93ee" d="M88.5 56.6l1.7-2.9-1.3-1.7-1.8 2.9z"/>
<path color="#2e85f8" d="M86.7 59.3l1.8-2.7-1.4-1.7-1.8 2.7z"/>
<path color="#3678fe" d="M84.9 61.8l1.8-2.5-1.4-1.7-1.7 2.5z"/>
<path color="#416bfe" d="M83.2 64.1l1.7-2.3-1.3-1.7-1.8 2.3z"/>
<path color="#4561fc" d="M81.4 66.2l1.8-2.1-1.4-1.7-1.8 2.1z"/>
<path color="#4759f9" d="M79.6 68.2l1.8-2-1.4-1.7-1.8 1.9z"/>
<path color="#4853f4" d="M77.8 69.9l1.8-1.7-1.4-1.8-1.7 1.8z"/>
<path color="#484df0" d="M76.1 71.5l1.7-1.6-1.3-1.7-1.8 1.6z"/>
<path color="#4849ed" d="M74.3 72.8l1.8-1.3-1.4-1.7-1.8 1.3z"/>
<path color="#4746ea" d="M72.5 74l1.8-1.2-1.4-1.7-1.7 1.2z"/>
<path color="#4743e7" d="M70.7 75l1.8-1-1.3-1.7-1.8 1z"/>
<path color="#4742e6" d="M69 75.8l1.7-.8-1.3-1.7-1.8 .8z"/>
<path color="#4741e5" d="M67.2 76.5l1.8-.7-1.4-1.7-1.8 .6z"/>
<path color="#4741e5" d="M65.4 76.9l1.8-.4-1.4-1.8-1.7 .5z"/>
<path color="#4742e6" d="M63.7 77.1l1.7-.2-1.3-1.7-1.8 .2z"/>
<path color="#4743e7" d="M61.9 77.2l1.8-.1-1.4-1.7-1.8 .1z"/>
<path color="#4746ea" d="M60.1 77.1l1.8 .1-1.4-1.7-1.7-.1z"/>
<path color="#4849ed" d="M58.3 76.8l1.8 .3-1.3-1.7-1.8-.4z"/>
<path color="#484df0" d="M56.6 76.3l1.7 .5-1.3-1.8-1.8-.5z"/>
<path color="#4853f4" d="M54.8 75.6l1.8 .7-1.4-1.8-1.8-.7z"/>
<path color="#4759f9" d="M53 74.7l1.8 .9-1.4-1.8-1.7-.8z"/>
<path color="#4561fc" d="M51.3 73.6l1.7 1.1-1.3-1.7-1.8-1.1z"/>
<path color="#416bfe" d="M49.5 72.4l1.8 1.2-1.4-1.7-1.8-1.3z"/>
<path color="#3678fe" d="M47.7 70.9l1.8 1.5-1.4-1.8-1.7-1.4z"/>
<path color="#2e85f8" d="M45.9 69.3l1.8 1.6-1.3-1.7-1.8-1.6z"/>
<path color="#2a93ee" d="M44.2 67.5l1.7 1.8-1.3-1.7-1.8-1.9z"/>
<path color="#23a1e4" d="M42.4 65.4l1.8 2.1-1.4-1.8-1.8-2z"/>
<path color="#16afd9" d="M40.6 63.2l1.8 2.2-1.4-1.7-1.7-2.2z"/>
<path color="#02bbc3" d="M38.9 60.9l1.7 2.3-1.3-1.7-1.8-2.4z"/>
<path color="#02b7cb" d="M95.1 48.9l1.8-3.4-1.3-1.5-1.8 3.4z"/>
<path color="#1baade" d="M93.4 52.2l1.7-3.3-1.3-1.5-1.8 3.3z"/>
<path color="#259be7" d="M91.6 55.3l1.8-3.1-1.4-1.5-1.8 3z"/>
<path color="#2d8df2" d="M89.8 58.1l1.8-2.8-1.4-1.6-1.7 2.9z"/>
<path color="#307ffb" d="M88.1 60.8l1.7-2.7-1.3-1.5-1.8 2.7z"/>
<path color="#3c71ff" d="M86.3 63.3l1.8-2.5-1.4-1.5-1.8 2.5z"/>
<path color="#4466fd" d="M84.5 65.6l1.8-2.3-1.4-1.5-1.7 2.3z"/>
<path color="#475cfa" d="M82.7 67.8l1.8-2.2-1.3-1.5-1.8 2.1z"/>
<path color="#4855f6" d="M81 69.7l1.7-1.9-1.3-1.6-1.8 2z"/>
<path color="#484ef1" d="M79.2 71.4l1.8-1.7-1.4-1.5-1.8 1.7z"/>
<path color="#4849ed" d="M77.4 73l1.8-1.6-1.4-1.5-1.7 1.6z"/>
<path color="#4745e9" d="M75.6 74.4l1.8-1.4-1.3-1.5-1.8 1.3z"/>
<path color="#4742e6" d="M73.9 75.6l1.7-1.2-1.3-1.6-1.8 1.2z"/>
<path color="#4740e3" d="M72.1 76.6l1.8-1-1.4-1.6-1.8 1z"/>
<path color="#473ee1" d="M70.3 77.4l1.8-.8-1.4-1.6-1.7 .8z"/>
<path color="#463ee0" d="M68.6 78l1.7-.6-1.3-1.6-1.8 .7z"/>
<path color="#463ee0" d="M66.8 78.4l1.8-.4-1.4-1.5-1.8 .4z"/>
<path color="#473ee1" d="M65 78.7l1.8-.3-1.4-1.5-1.7 .2z"/>
<path color="#4740e3" d="M63.2 78.7l1.8 0-1.3-1.6-1.8 .1z"/>
<path color="#4742e6" d="M61.5 78.6l1.7 .1-1.3-1.5-1.8-.1z"/>
<path color="#4745e9" d="M59.7 78.3l1.8 .3-1.4-1.5-1.8-.3z"/>
<path color="#4849ed" d="M57.9 77.8l1.8 .5-1.4-1.5-1.7-.5z"/>
<path color="#484ef1" d="M56.2 77.1l1.7 .7-1.3-1.5-1.8-.7z"/>
<path color="#4855f6" d="M54.4 76.2l1.8 .9-1.4-1.5-1.8-.9z"/>
<path color="#475cfa" d="M52.6 75.1l1.8 1.1-1.4-1.5-1.7-1.1z"/>
<path color="#4466fd" d="M50.8 73.9l1.8 1.2-1.3-1.5-1.8-1.2z"/>
<path color="#3c71ff" d="M49.1 72.4l1.7 1.5-1.3-1.5-1.8-1.5z"/>
<path color="#307ffb" d="M47.3 70.8l1.8 1.6-1.4-1.5-1.8-1.6z"/>
<path color="#2d8df2" d="M45.5 69l1.8 1.8-1.4-1.5-1.7-1.8z"/>
<path color="#259be7" d="M43.8 67l1.7 2-1.3-1.5-1.8-2.1z"/>
<path color="#1baade" d="M42 64.8l1.8 2.2-1.4-1.6-1.8-2.2z"/>
<path color="#02b7cb" d="M40.2 62.4l1.8 2.4-1.4-1.6-1.7-2.3z"/>
<path color="#09b4d1" d="M96.5 50.3l1.8-3.5-1.4-1.3-1.8 3.4z"/>
<path color="#1fa6e2" d="M94.7 53.5l1.8-3.2-1.4-1.4-1.7 3.3z"/>
<path color="#2797eb" d="M93 56.6l1.7-3.1-1.3-1.3-1.8 3.1z"/>
<path color="#2d88f6" d="M91.2 59.5l1.8-2.9-1.4-1.3-1.8 2.8z"/>
<path color="#337afd" d="M89.4 62.2l1.8-2.7-1.4-1.4-1.7 2.7z"/>
<path color="#406dfe" d="M87.6 64.7l1.8-2.5-1.3-1.4-1.8 2.5z"/>
<path color="#4561fc" d="M85.9 67l1.7-2.3-1.3-1.4-1.8 2.3z"/>
<path color="#4758f8" d="M84.1 69.1l1.8-2.1-1.4-1.4-1.8 2.2z"/>
<path color="#4851f3" d="M82.3 71l1.8-1.9-1.4-1.3-1.7 1.9z"/>
<path color="#484bee" d="M80.6 72.8l1.7-1.8-1.3-1.3-1.8 1.7z"/>
<path color="#4746ea" d="M78.8 74.4l1.8-1.6-1.4-1.4-1.8 1.6z"/>
<path color="#4742e6" d="M77 75.7l1.8-1.3-1.4-1.4-1.8 1.4z"/>
<path color="#473fe2" d="M75.2 76.9l1.8-1.2-1.4-1.3-1.7 1.2z"/>
<path color="#463de0" d="M73.5 77.9l1.7-1-1.3-1.3-1.8 1z"/>
<path color="#463cde" d="M71.7 78.7l1.8-.8-1.4-1.3-1.8 .8z"/>
<path color="#463bdd" d="M69.9 79.3l1.8-.6-1.4-1.3-1.7 .6z"/>
<path color="#463bdd" d="M68.2 79.8l1.7-.5-1.3-1.3-1.8 .4z"/>
<path color="#463cde" d="M66.4 80l1.8-.2-1.4-1.4-1.8 .3z"/>
<path color="#463de0" d="M64.6 80.1l1.8-.1-1.4-1.3-1.8 0z"/>
<path color="#473fe2" d="M62.8 80l1.8 .1-1.4-1.4-1.7-.1z"/>
<path color="#4742e6" d="M61.1 79.6l1.7 .4-1.3-1.4-1.8-.3z"/>
<path color="#4746ea" d="M59.3 79.1l1.8 .5-1.4-1.3-1.8-.5z"/>
<path color="#484bee" d="M57.5 78.4l1.8 .7-1.4-1.3-1.7-.7z"/>
<path color="#4851f3" d="M55.7 77.6l1.8 .8-1.3-1.3-1.8-.9z"/>
<path color="#4758f8" d="M54 76.5l1.7 1.1-1.3-1.4-1.8-1.1z"/>
<path color="#4561fc" d="M52.2 75.2l1.8 1.3-1.4-1.4-1.8-1.2z"/>
<path color="#406dfe" d="M50.4 73.8l1.8 1.4-1.4-1.3-1.7-1.5z"/>
<path color="#337afd" d="M48.7 72.2l1.7 1.6-1.3-1.4-1.8-1.6z"/>
<path color="#2d88f6" d="M46.9 70.3l1.8 1.9-1.4-1.4-1.8-1.8z"/>
<path color="#2797eb" d="M45.1 68.3l1.8 2-1.4-1.3-1.7-2z"/>
<path color="#1fa6e2" d="M43.3 66.1l1.8 2.2-1.3-1.3-1.8-2.2z"/>
<path color="#09b4d1" d="M41.6 63.7l1.7 2.4-1.3-1.3-1.8-2.4z"/>
<path color="#10b2d5" d="M97.9 51.4l1.7-3.4-1.3-1.2-1.8 3.5z"/>
<path color="#21a3e3" d="M96.1 54.7l1.8-3.3-1.4-1.1-1.8 3.2z"/>
<path color="#2994ed" d="M94.3 57.8l1.8-3.1-1.4-1.2-1.7 3.1z"/>
<path color="#2e85f8" d="M92.5 60.6l1.8-2.8-1.3-1.2-1.8 2.9z"/>
<path color="#3776fe" d="M90.8 63.3l1.7-2.7-1.3-1.1-1.8 2.7z"/>
<path color="#4269fe" d="M89 65.8l1.8-2.5-1.4-1.1-1.8 2.5z"/>
<path color="#465efb" d="M87.2 68.1l1.8-2.3-1.4-1.1-1.7 2.3z"/>
<path color="#4755f6" d="M85.5 70.3l1.7-2.2-1.3-1.1-1.8 2.1z"/>
<path color="#484ef1" d="M83.7 72.2l1.8-1.9-1.4-1.2-1.8 1.9z"/>
<path color="#4848ec" d="M81.9 73.9l1.8-1.7-1.4-1.2-1.7 1.8z"/>
<path color="#4743e7" d="M80.1 75.5l1.8-1.6-1.3-1.1-1.8 1.6z"/>
<path color="#4740e3" d="M78.4 76.9l1.7-1.4-1.3-1.1-1.8 1.3z"/>
<path color="#463de0" d="M76.6 78.1l1.8-1.2-1.4-1.2-1.8 1.2z"/>
<path color="#463bdd" d="M74.8 79.1l1.8-1-1.4-1.2-1.7 1z"/>
<path color="#463adc" d="M73.1 79.9l1.7-.8-1.3-1.2-1.8 .8z"/>
<path color="#463adb" d="M71.3 80.5l1.8-.6-1.4-1.2-1.8 .6z"/>
<path color="#463adb" d="M69.5 80.9l1.8-.4-1.4-1.2-1.7 .5z"/>
<path color="#463adc" d="M67.7 81.2l1.8-.3-1.3-1.1-1.8 .2z"/>
<path color="#463bdd" d="M66 81.2l1.7 0-1.3-1.2-1.8 .1z"/>
<path color="#463de0" d="M64.2 81.1l1.8 .1-1.4-1.1-1.8-.1z"/>
<path color="#4740e3" d="M62.4 80.8l1.8 .3-1.4-1.1-1.7-.4z"/>
<path color="#4743e7" d="M60.6 80.3l1.8 .5-1.3-1.2-1.8-.5z"/>
<path color="#4848ec" d="M58.9 79.6l1.7 .7-1.3-1.2-1.8-.7z"/>
<path color="#484ef1" d="M57.1 78.7l1.8 .9-1.4-1.2-1.8-.8z"/>
<path color="#4755f6" d="M55.3 77.6l1.8 1.1-1.4-1.1-1.7-1.1z"/>
<path color="#465efb" d="M53.6 76.4l1.7 1.2-1.3-1.1-1.8-1.3z"/>
<path color="#4269fe" d="M51.8 74.9l1.8 1.5-1.4-1.2-1.8-1.4z"/>
<path color="#3776fe" d="M50 73.3l1.8 1.6-1.4-1.1-1.7-1.6z"/>
<path color="#2e85f8" d="M48.2 71.5l1.8 1.8-1.3-1.1-1.8-1.9z"/>
<path color="#2994ed" d="M46.5 69.5l1.7 2-1.3-1.2-1.8-2z"/>
<path color="#21a3e3" d="M44.7 67.3l1.8 2.2-1.4-1.2-1.8-2.2z"/>
<path color="#10b2d5" d="M42.9 64.9l1.8 2.4-1.4-1.2-1.7-2.4z"/>
<path color="#14b0d8" d="M99.2 52.4l1.8-3.4-1.4-1-1.7 3.4z"/>
<path color="#23a1e4" d="M97.4 55.7l1.8-3.3-1.3-1-1.8 3.3z"/>
<path color="#2b91ef" d="M95.7 58.7l1.7-3-1.3-1-1.8 3.1z"/>
<path color="#2e83f9" d="M93.9 61.6l1.8-2.9-1.4-.9-1.8 2.8z"/>
<path color="#3a74fe" d="M92.1 64.3l1.8-2.7-1.4-1-1.7 2.7z"/>
<path color="#4367fd" d="M90.4 66.8l1.7-2.5-1.3-1-1.8 2.5z"/>
<path color="#475cfa" d="M88.6 69.1l1.8-2.3-1.4-1-1.8 2.3z"/>
<path color="#4854f5" d="M86.8 71.2l1.8-2.1-1.4-1-1.7 2.2z"/>
<path color="#484cf0" d="M85 73.2l1.8-2-1.3-.9-1.8 1.9z"/>
<path color="#4746eb" d="M83.3 74.9l1.7-1.7-1.3-1-1.8 1.7z"/>
<path color="#4742e6" d="M81.5 76.5l1.8-1.6-1.4-1-1.8 1.6z"/>
<path color="#473ee1" d="M79.7 77.9l1.8-1.4-1.4-1-1.7 1.4z"/>
<path color="#463cde" d="M78 79l1.7-1.1-1.3-1-1.8 1.2z"/>
<path color="#463adc" d="M76.2 80l1.8-1-1.4-.9-1.8 1z"/>
<path color="#4639da" d="M74.4 80.8l1.8-.8-1.4-.9-1.7 .8z"/>
<path color="#4639da" d="M72.6 81.5l1.8-.7-1.3-.9-1.8 .6z"/>
<path color="#4639da" d="M70.9 81.9l1.7-.4-1.3-1-1.8 .4z"/>
<path color="#4639da" d="M69.1 82.1l1.8-.2-1.4-1-1.8 .3z"/>
<path color="#463adc" d="M67.3 82.2l1.8-.1-1.4-.9-1.7 0z"/>
<path color="#463cde" d="M65.6 82.1l1.7 .1-1.3-1-1.8-.1z"/>
<path color="#473ee1" d="M63.8 81.8l1.8 .3-1.4-1-1.8-.3z"/>
<path color="#4742e6" d="M62 81.3l1.8 .5-1.4-1-1.8-.5z"/>
<path color="#4746eb" d="M60.2 80.6l1.8 .7-1.4-1-1.7-.7z"/>
<path color="#484cf0" d="M58.5 79.7l1.7 .9-1.3-1-1.8-.9z"/>
<path color="#4854f5" d="M56.7 78.6l1.8 1.1-1.4-1-1.8-1.1z"/>
<path color="#475cfa" d="M54.9 77.4l1.8 1.2-1.4-1-1.7-1.2z"/>
<path color="#4367fd" d="M53.2 75.9l1.7 1.5-1.3-1-1.8-1.5z"/>
<path color="#3a74fe" d="M51.4 74.3l1.8 1.6-1.4-1-1.8-1.6z"/>
<path color="#2e83f9" d="M49.6 72.5l1.8 1.8-1.4-1-1.8-1.8z"/>
<path color="#2b91ef" d="M47.8 70.4l1.8 2.1-1.4-1-1.7-2z"/>
<path color="#23a1e4" d="M46.1 68.3l1.7 2.1-1.3-.9-1.8-2.2z"/>
<path color="#14b0d8" d="M44.3 65.9l1.8 2.4-1.4-1-1.8-2.4z"/>
<path color="#16afd9" d="M100.6 53.2l1.8-3.4-1.4-.8-1.8 3.4z"/>
<path color="#23a0e5" d="M98.8 56.4l1.8-3.2-1.4-.8-1.8 3.3z"/>
<path color="#2b90f0" d="M97 59.5l1.8-3.1-1.4-.7-1.7 3z"/>
<path color="#2f81fa" d="M95.3 62.4l1.7-2.9-1.3-.8-1.8 2.9z"/>
<path color="#3b73fe" d="M93.5 65.1l1.8-2.7-1.4-.8-1.8 2.7z"/>
<path color="#4466fd" d="M91.7 67.6l1.8-2.5-1.4-.8-1.7 2.5z"/>
<path color="#475bfa" d="M89.9 69.9l1.8-2.3-1.3-.8-1.8 2.3z"/>
<path color="#4853f4" d="M88.2 72l1.7-2.1-1.3-.8-1.8 2.1z"/>
<path color="#484bef" d="M86.4 73.9l1.8-1.9-1.4-.8-1.8 2z"/>
<path color="#4746ea" d="M84.6 75.7l1.8-1.8-1.4-.7-1.7 1.7z"/>
<path color="#4741e5" d="M82.9 77.3l1.7-1.6-1.3-.8-1.8 1.6z"/>
<path color="#463ee0" d="M81.1 78.6l1.8-1.3-1.4-.8-1.8 1.4z"/>
<path color="#463bdd" d="M79.3 79.8l1.8-1.2-1.4-.7-1.7 1.1z"/>
<path color="#463adb" d="M77.5 80.8l1.8-1-1.3-.8-1.8 1z"/>
<path color="#4639da" d="M75.8 81.6l1.7-.8-1.3-.8-1.8 .8z"/>
<path color="#4539d9" d="M74 82.2l1.8-.6-1.4-.8-1.8 .7z"/>
<path color="#4539d9" d="M72.2 82.7l1.8-.5-1.4-.7-1.7 .4z"/>
<path color="#4639da" d="M70.5 82.9l1.7-.2-1.3-.8-1.8 .2z"/>
<path color="#463adb" d="M68.7 83l1.8-.1-1.4-.8-1.8 .1z"/>
<path color="#463bdd" d="M66.9 82.9l1.8 .1-1.4-.8-1.7-.1z"/>
<path color="#463ee0" d="M65.1 82.5l1.8 .4-1.3-.8-1.8-.3z"/>
<path color="#4741e5" d="M63.4 82l1.7 .5-1.3-.7-1.8-.5z"/>
<path color="#4746ea" d="M61.6 81.3l1.8 .7-1.4-.7-1.8-.7z"/>
<path color="#484bef" d="M59.8 80.5l1.8 .8-1.4-.7-1.7-.9z"/>
<path color="#4853f4" d="M58.1 79.4l1.7 1.1-1.3-.8-1.8-1.1z"/>
<path color="#475bfa" d="M56.3 78.1l1.8 1.3-1.4-.8-1.8-1.2z"/>
<path color="#4466fd" d="M54.5 76.7l1.8 1.4-1.4-.7-1.7-1.5z"/>
<path color="#3b73fe" d="M52.7 75.1l1.8 1.6-1.3-.8-1.8-1.6z"/>
<path color="#2f81fa" d="M51 73.2l1.7 1.9-1.3-.8-1.8-1.8z"/>
<path color="#2b90f0" d="M49.2 71.2l1.8 2-1.4-.7-1.8-2.1z"/>
<path color="#23a0e5" d="M47.4 69l1.8 2.2-1.4-.8-1.7-2.1z"/>
<path color="#16afd9" d="M45.7 66.6l1.7 2.4-1.3-.7-1.8-2.4z"/>
<path color="#16afd9" d="M101.9 53.8l1.8-3.5-1.3-.5-1.8 3.4z"/>
<path color="#23a0e5" d="M100.2 57l1.7-3.2-1.3-.6-1.8 3.2z"/>
<path color="#2b90f0" d="M98.4 60.1l1.8-3.1-1.4-.6-1.8 3.1z"/>
<path color="#2f81fa" d="M96.6 63l1.8-2.9-1.4-.6-1.7 2.9z"/>
<path color="#3b73fe" d="M94.9 65.7l1.7-2.7-1.3-.6-1.8 2.7z"/>
<path color="#4466fd" d="M93.1 68.2l1.8-2.5-1.4-.6-1.8 2.5z"/>
<path color="#475bfa" d="M91.3 70.5l1.8-2.3-1.4-.6-1.8 2.3z"/>
<path color="#4853f4" d="M89.5 72.6l1.8-2.1-1.4-.6-1.7 2.1z"/>
<path color="#484bef" d="M87.8 74.5l1.7-1.9-1.3-.6-1.8 1.9z"/>
<path color="#4746ea" d="M86 76.3l1.8-1.8-1.4-.6-1.8 1.8z"/>
<path color="#4741e5" d="M84.2 77.9l1.8-1.6-1.4-.6-1.7 1.6z"/>
<path color="#463ee0" d="M82.4 79.2l1.8-1.3-1.3-.6-1.8 1.3z"/>
<path color="#463bdd" d="M80.7 80.4l1.7-1.2-1.3-.6-1.8 1.2z"/>
<path color="#463adb" d="M78.9 81.4l1.8-1-1.4-.6-1.8 1z"/>
<path color="#4639da" d="M77.1 82.2l1.8-.8-1.4-.6-1.7 .8z"/>
<path color="#4539d9" d="M75.4 82.8l1.7-.6-1.3-.6-1.8 .6z"/>
<path color="#4539d9" d="M73.6 83.3l1.8-.5-1.4-.6-1.8 .5z"/>
<path color="#4639da" d="M71.8 83.5l1.8-.2-1.4-.6-1.7 .2z"/>
<path color="#463adb" d="M70 83.6l1.8-.1-1.3-.6-1.8 .1z"/>
<path color="#463bdd" d="M68.3 83.5l1.7 .1-1.3-.6-1.8-.1z"/>
<path color="#463ee0" d="M66.5 83.1l1.8 .4-1.4-.6-1.8-.4z"/>
<path color="#4741e5" d="M64.7 82.6l1.8 .5-1.4-.6-1.7-.5z"/>
<path color="#4746ea" d="M63 81.9l1.7 .7-1.3-.6-1.8-.7z"/>
<path color="#484bef" d="M61.2 81.1l1.8 .8-1.4-.6-1.8-.8z"/>
<path color="#4853f4" d="M59.4 80l1.8 1.1-1.4-.6-1.7-1.1z"/>
<path color="#475bfa" d="M57.6 78.7l1.8 1.3-1.3-.6-1.8-1.3z"/>
<path color="#4466fd" d="M55.9 77.3l1.7 1.4-1.3-.6-1.8-1.4z"/>
<path color="#3b73fe" d="M54.1 75.7l1.8 1.6-1.4-.6-1.8-1.6z"/>
<path color="#2f81fa" d="M52.3 73.8l1.8 1.9-1.4-.6-1.7-1.9z"/>
<path color="#2b90f0" d="M50.6 71.8l1.7 2-1.3-.6-1.8-2z"/>
<path color="#23a0e5" d="M48.8 69.6l1.8 2.2-1.4-.6-1.8-2.2z"/>
<path color="#16afd9" d="M47 67.2l1.8 2.4-1.4-.6-1.7-2.4z"/>
<path color="#14b0d8" d="M103.3 54.2l1.8-3.5-1.4-.4-1.8 3.5z"/>
<path color="#23a1e4" d="M101.5 57.4l1.8-3.2-1.4-.4-1.7 3.2z"/>
<path color="#2b91ef" d="M99.8 60.5l1.7-3.1-1.3-.4-1.8 3.1z"/>
<path color="#2e83f9" d="M98 63.4l1.8-2.9-1.4-.4-1.8 2.9z"/>
<path color="#3a74fe" d="M96.2 66.1l1.8-2.7-1.4-.4-1.7 2.7z"/>
<path color="#4367fd" d="M94.4 68.6l1.8-2.5-1.3-.4-1.8 2.5z"/>
<path color="#475cfa" d="M92.7 70.9l1.7-2.3-1.3-.4-1.8 2.3z"/>
<path color="#4854f5" d="M90.9 73l1.8-2.1-1.4-.4-1.8 2.1z"/>
<path color="#484cf0" d="M89.1 74.9l1.8-1.9-1.4-.4-1.7 1.9z"/>
<path color="#4746eb" d="M87.4 76.7l1.7-1.8-1.3-.4-1.8 1.8z"/>
<path color="#4742e6" d="M85.6 78.3l1.8-1.6-1.4-.4-1.8 1.6z"/>
<path color="#473ee1" d="M83.8 79.6l1.8-1.3-1.4-.4-1.8 1.3z"/>
<path color="#463cde" d="M82 80.8l1.8-1.2-1.4-.4-1.7 1.2z"/>
<path color="#463adc" d="M80.3 81.8l1.7-1-1.3-.4-1.8 1z"/>
<path color="#4639da" d="M78.5 82.6l1.8-.8-1.4-.4-1.8 .8z"/>
<path color="#4639da" d="M76.7 83.2l1.8-.6-1.4-.4-1.7 .6z"/>
<path color="#4639da" d="M74.9 83.7l1.8-.5-1.3-.4-1.8 .5z"/>
<path color="#4639da" d="M73.2 83.9l1.7-.2-1.3-.4-1.8 .2z"/>
<path color="#463adc" d="M71.4 84l1.8-.1-1.4-.4-1.8 .1z"/>
<path color="#463cde" d="M69.6 83.9l1.8 .1-1.4-.4-1.7-.1z"/>
<path color="#473ee1" d="M67.9 83.5l1.7 .4-1.3-.4-1.8-.4z"/>
<path color="#4742e6" d="M66.1 83l1.8 .5-1.4-.4-1.8-.5z"/>
<path color="#4746eb" d="M64.3 82.3l1.8 .7-1.4-.4-1.7-.7z"/>
<path color="#484cf0" d="M62.5 81.5l1.8 .8-1.3-.4-1.8-.8z"/>
<path color="#4854f5" d="M60.8 80.4l1.7 1.1-1.3-.4-1.8-1.1z"/>
<path color="#475cfa" d="M59 79.1l1.8 1.3-1.4-.4-1.8-1.3z"/>
<path color="#4367fd" d="M57.2 77.7l1.8 1.4-1.4-.4-1.7-1.4z"/>
<path color="#3a74fe" d="M55.5 76.1l1.7 1.6-1.3-.4-1.8-1.6z"/>
<path color="#2e83f9" d="M53.7 74.2l1.8 1.9-1.4-.4-1.8-1.9z"/>
<path color="#2b91ef" d="M51.9 72.2l1.8 2-1.4-.4-1.7-2z"/>
<path color="#23a1e4" d="M50.1 70l1.8 2.2-1.3-.4-1.8-2.2z"/>
<path color="#14b0d8" d="M48.4 67.6l1.7 2.4-1.3-.4-1.8-2.4z"/>
<path color="#10b2d5" d="M104.7 54.4l1.7-3.4-1.3-.3-1.8 3.5z"/>
<path color="#21a3e3" d="M102.9 57.7l1.8-3.3-1.4-.2-1.8 3.2z"/>
<path color="#2994ed" d="M101.1 60.7l1.8-3-1.4-.3-1.7 3.1z"/>
<path color="#2e85f8" d="M99.3 63.6l1.8-2.9-1.3-.2-1.8 2.9z"/>
<path color="#3776fe" d="M97.6 66.3l1.7-2.7-1.3-.2-1.8 2.7z"/>
<path color="#4269fe" d="M95.8 68.8l1.8-2.5-1.4-.2-1.8 2.5z"/>
<path color="#465efb" d="M94 71.1l1.8-2.3-1.4-.2-1.7 2.3z"/>
<path color="#4755f6" d="M92.3 73.2l1.7-2.1-1.3-.2-1.8 2.1z"/>
<path color="#484ef1" d="M90.5 75.2l1.8-2-1.4-.2-1.8 1.9z"/>
<path color="#4848ec" d="M88.7 76.9l1.8-1.7-1.4-.3-1.7 1.8z"/>
<path color="#4743e7" d="M86.9 78.5l1.8-1.6-1.3-.2-1.8 1.6z"/>
<path color="#4740e3" d="M85.2 79.9l1.7-1.4-1.3-.2-1.8 1.3z"/>
<path color="#463de0" d="M83.4 81l1.8-1.1-1.4-.3-1.8 1.2z"/>
<path color="#463bdd" d="M81.6 82l1.8-1-1.4-.2-1.7 1z"/>
<path color="#463adc" d="M79.9 82.8l1.7-.8-1.3-.2-1.8 .8z"/>
<path color="#463adb" d="M78.1 83.5l1.8-.7-1.4-.2-1.8 .6z"/>
<path color="#463adb" d="M76.3 83.9l1.8-.4-1.4-.3-1.8 .5z"/>
<path color="#463adc" d="M74.5 84.1l1.8-.2-1.4-.2-1.7 .2z"/>
<path color="#463bdd" d="M72.8 84.2l1.7-.1-1.3-.2-1.8 .1z"/>
<path color="#463de0" d="M71 84.1l1.8 .1-1.4-.2-1.8-.1z"/>
<path color="#4740e3" d="M69.2 83.8l1.8 .3-1.4-.2-1.7-.4z"/>
<path color="#4743e7" d="M67.4 83.3l1.8 .5-1.3-.3-1.8-.5z"/>
<path color="#4848ec" d="M65.7 82.6l1.7 .7-1.3-.3-1.8-.7z"/>
<path color="#484ef1" d="M63.9 81.7l1.8 .9-1.4-.3-1.8-.8z"/>
<path color="#4755f6" d="M62.1 80.6l1.8 1.1-1.4-.2-1.7-1.1z"/>
<path color="#465efb" d="M60.4 79.4l1.7 1.2-1.3-.2-1.8-1.3z"/>
<path color="#4269fe" d="M58.6 77.9l1.8 1.5-1.4-.3-1.8-1.4z"/>
<path color="#3776fe" d="M56.8 76.3l1.8 1.6-1.4-.2-1.7-1.6z"/>
<path color="#2e85f8" d="M55 74.5l1.8 1.8-1.3-.2-1.8-1.9z"/>
<path color="#2994ed" d="M53.3 72.4l1.7 2.1-1.3-.3-1.8-2z"/>
<path color="#21a3e3" d="M51.5 70.3l1.8 2.1-1.4-.2-1.8-2.2z"/>
<path color="#10b2d5" d="M49.7 67.9l1.8 2.4-1.4-.3-1.7-2.4z"/>
<path color="#09b4d1" d="M106 54.4l1.8-3.4-1.4 0-1.7 3.4z"/>
<path color="#1fa6e2" d="M104.2 57.7l1.8-3.3-1.3 0-1.8 3.3z"/>
<path color="#2797eb" d="M102.5 60.8l1.7-3.1-1.3 0-1.8 3z"/>
<path color="#2d88f6" d="M100.7 63.6l1.8-2.8-1.4-.1-1.8 2.9z"/>
<path color="#337afd" d="M98.9 66.3l1.8-2.7-1.4 0-1.7 2.7z"/>
<path color="#406dfe" d="M97.2 68.8l1.7-2.5-1.3 0-1.8 2.5z"/>
<path color="#4561fc" d="M95.4 71.1l1.8-2.3-1.4 0-1.8 2.3z"/>
<path color="#4758f8" d="M93.6 73.3l1.8-2.2-1.4 0-1.7 2.1z"/>
<path color="#4851f3" d="M91.8 75.2l1.8-1.9-1.3-.1-1.8 2z"/>
<path color="#484bee" d="M90.1 76.9l1.7-1.7-1.3 0-1.8 1.7z"/>
<path color="#4746ea" d="M88.3 78.5l1.8-1.6-1.4 0-1.8 1.6z"/>
<path color="#4742e6" d="M86.5 79.9l1.8-1.4-1.4 0-1.7 1.4z"/>
<path color="#473fe2" d="M84.8 81.1l1.7-1.2-1.3 0-1.8 1.1z"/>
<path color="#463de0" d="M83 82.1l1.8-1-1.4-.1-1.8 1z"/>
<path color="#463cde" d="M81.2 82.9l1.8-.8-1.4-.1-1.7 .8z"/>
<path color="#463bdd" d="M79.4 83.5l1.8-.6-1.3-.1-1.8 .7z"/>
<path color="#463bdd" d="M77.7 83.9l1.7-.4-1.3 0-1.8 .4z"/>
<path color="#463cde" d="M75.9 84.2l1.8-.3-1.4 0-1.8 .2z"/>
<path color="#463de0" d="M74.1 84.2l1.8 0-1.4-.1-1.7 .1z"/>
<path color="#473fe2" d="M72.4 84.1l1.7 .1-1.3 0-1.8-.1z"/>
<path color="#4742e6" d="M70.6 83.8l1.8 .3-1.4 0-1.8-.3z"/>
<path color="#4746ea" d="M68.8 83.3l1.8 .5-1.4 0-1.8-.5z"/>
<path color="#484bee" d="M67 82.6l1.8 .7-1.4 0-1.7-.7z"/>
<path color="#4851f3" d="M65.3 81.7l1.7 .9-1.3 0-1.8-.9z"/>
<path color="#4758f8" d="M63.5 80.6l1.8 1.1-1.4 0-1.8-1.1z"/>
<path color="#4561fc" d="M61.7 79.4l1.8 1.2-1.4 0-1.7-1.2z"/>
<path color="#406dfe" d="M59.9 77.9l1.8 1.5-1.3 0-1.8-1.5z"/>
<path color="#337afd" d="M58.2 76.3l1.7 1.6-1.3 0-1.8-1.6z"/>
<path color="#2d88f6" d="M56.4 74.5l1.8 1.8-1.4 0-1.8-1.8z"/>
<path color="#2797eb" d="M54.6 72.5l1.8 2-1.4 0-1.7-2.1z"/>
<path color="#1fa6e2" d="M52.9 70.3l1.7 2.2-1.3-.1-1.8-2.1z"/>
<path color="#09b4d1" d="M51.1 67.9l1.8 2.4-1.4 0-1.8-2.4z"/>
<path color="#02b7cb" d="M107.4 54.3l1.7-3.5-1.3 .2-1.8 3.4z"/>
<path color="#1baade" d="M105.6 57.5l1.8-3.2-1.4 .1-1.8 3.3z"/>
<path color="#259be7" d="M103.8 60.6l1.8-3.1-1.4 .2-1.7 3.1z"/>
<path color="#2d8df2" d="M102.1 63.5l1.7-2.9-1.3 .2-1.8 2.8z"/>
<path color="#307ffb" d="M100.3 66.2l1.8-2.7-1.4 .1-1.8 2.7z"/>
<path color="#3c71ff" d="M98.5 68.7l1.8-2.5-1.4 .1-1.7 2.5z"/>
<path color="#4466fd" d="M96.7 71l1.8-2.3-1.3 .1-1.8 2.3z"/>
<path color="#475cfa" d="M95 73.1l1.7-2.1-1.3 .1-1.8 2.2z"/>
<path color="#4855f6" d="M93.2 75l1.8-1.9-1.4 .2-1.8 1.9z"/>
<path color="#484ef1" d="M91.4 76.8l1.8-1.8-1.4 .2-1.7 1.7z"/>
<path color="#4849ed" d="M89.7 78.3l1.7-1.5-1.3 .1-1.8 1.6z"/>
<path color="#4745e9" d="M87.9 79.7l1.8-1.4-1.4 .2-1.8 1.4z"/>
<path color="#4742e6" d="M86.1 80.9l1.8-1.2-1.4 .2-1.7 1.2z"/>
<path color="#4740e3" d="M84.3 81.9l1.8-1-1.3 .2-1.8 1z"/>
<path color="#473ee1" d="M82.6 82.7l1.7-.8-1.3 .2-1.8 .8z"/>
<path color="#463ee0" d="M80.8 83.3l1.8-.6-1.4 .2-1.8 .6z"/>
<path color="#463ee0" d="M79 83.8l1.8-.5-1.4 .2-1.7 .4z"/>
<path color="#473ee1" d="M77.3 84l1.7-.2-1.3 .1-1.8 .3z"/>
<path color="#4740e3" d="M75.5 84.1l1.8-.1-1.4 .2-1.8 0z"/>
<path color="#4742e6" d="M73.7 83.9l1.8 .2-1.4 .1-1.7-.1z"/>
<path color="#4745e9" d="M71.9 83.6l1.8 .3-1.3 .2-1.8-.3z"/>
<path color="#4849ed" d="M70.2 83.1l1.7 .5-1.3 .2-1.8-.5z"/>
<path color="#484ef1" d="M68.4 82.4l1.8 .7-1.4 .2-1.8-.7z"/>
<path color="#4855f6" d="M66.6 81.6l1.8 .8-1.4 .2-1.7-.9z"/>
<path color="#475cfa" d="M64.9 80.5l1.7 1.1-1.3 .1-1.8-1.1z"/>
<path color="#4466fd" d="M63.1 79.2l1.8 1.3-1.4 .1-1.8-1.2z"/>
<path color="#3c71ff" d="M61.3 77.8l1.8 1.4-1.4 .2-1.8-1.5z"/>
<path color="#307ffb" d="M59.5 76.1l1.8 1.7-1.4 .1-1.7-1.6z"/>
<path color="#2d8df2" d="M57.8 74.3l1.7 1.8-1.3 .2-1.8-1.8z"/>
<path color="#259be7" d="M56 72.3l1.8 2-1.4 .2-1.8-2z"/>
<path color="#1baade" d="M54.2 70.1l1.8 2.2-1.4 .2-1.7-2.2z"/>
<path color="#02b7cb" d="M52.4 67.7l1.8 2.4-1.3 .2-1.8-2.4z"/>
<path color="#02bbc3" d="M108.7 53.9l1.8-3.4-1.4 .3-1.7 3.5z"/>
<path color="#16afd9" d="M107 57.2l1.7-3.3-1.3 .4-1.8 3.2z"/>
<path color="#23a1e4" d="M105.2 60.3l1.8-3.1-1.4 .3-1.8 3.1z"/>
<path color="#2a93ee" d="M103.4 63.1l1.8-2.8-1.4 .3-1.7 2.9z"/>
<path color="#2e85f8" d="M101.6 65.8l1.8-2.7-1.3 .4-1.8 2.7z"/>
<path color="#3678fe" d="M99.9 68.3l1.7-2.5-1.3 .4-1.8 2.5z"/>
<path color="#416bfe" d="M98.1 70.6l1.8-2.3-1.4 .4-1.8 2.3z"/>
<path color="#4561fc" d="M96.3 72.8l1.8-2.2-1.4 .4-1.7 2.1z"/>
<path color="#4759f9" d="M94.6 74.7l1.7-1.9-1.3 .3-1.8 1.9z"/>
<path color="#4853f4" d="M92.8 76.4l1.8-1.7-1.4 .3-1.8 1.8z"/>
<path color="#484df0" d="M91 78l1.8-1.6-1.4 .4-1.7 1.5z"/>
<path color="#4849ed" d="M89.2 79.4l1.8-1.4-1.3 .3-1.8 1.4z"/>
<path color="#4746ea" d="M87.5 80.6l1.7-1.2-1.3 .3-1.8 1.2z"/>
<path color="#4743e7" d="M85.7 81.6l1.8-1-1.4 .3-1.8 1z"/>
<path color="#4742e6" d="M83.9 82.4l1.8-.8-1.4 .3-1.7 .8z"/>
<path color="#4741e5" d="M82.2 83l1.7-.6-1.3 .3-1.8 .6z"/>
<path color="#4741e5" d="M80.4 83.4l1.8-.4-1.4 .3-1.8 .5z"/>
<path color="#4742e6" d="M78.6 83.7l1.8-.3-1.4 .4-1.7 .2z"/>
<path color="#4743e7" d="M76.8 83.7l1.8 0-1.3 .3-1.8 .1z"/>
<path color="#4746ea" d="M75.1 83.6l1.7 .1-1.3 .4-1.8-.2z"/>
<path color="#4849ed" d="M73.3 83.3l1.8 .3-1.4 .3-1.8-.3z"/>
<path color="#484df0" d="M71.5 82.8l1.8 .5-1.4 .3-1.7-.5z"/>
<path color="#4853f4" d="M69.8 82.1l1.7 .7-1.3 .3-1.8-.7z"/>
<path color="#4759f9" d="M68 81.2l1.8 .9-1.4 .3-1.8-.8z"/>
<path color="#4561fc" d="M66.2 80.1l1.8 1.1-1.4 .4-1.7-1.1z"/>
<path color="#416bfe" d="M64.4 78.9l1.8 1.2-1.3 .4-1.8-1.3z"/>
<path color="#3678fe" d="M62.7 77.4l1.7 1.5-1.3 .3-1.8-1.4z"/>
<path color="#2e85f8" d="M60.9 75.8l1.8 1.6-1.4 .4-1.8-1.7z"/>
<path color="#2a93ee" d="M59.1 74l1.8 1.8-1.4 .3-1.7-1.8z"/>
<path color="#23a1e4" d="M57.4 72l1.7 2-1.3 .3-1.8-2z"/>
<path color="#16afd9" d="M55.6 69.8l1.8 2.2-1.4 .3-1.8-2.2z"/>
<path color="#02bbc3" d="M53.8 67.4l1.8 2.4-1.4 .3-1.8-2.4z"/>
<path color="#12beb9" d="M110.1 53.4l1.8-3.4-1.4 .5-1.8 3.4z"/>
<path color="#09b4d1" d="M108.3 56.7l1.8-3.3-1.4 .5-1.7 3.3z"/>
<path color="#1ea7e1" d="M106.6 59.7l1.7-3-1.3 .5-1.8 3.1z"/>
<path color="#2699e9" d="M104.8 62.6l1.8-2.9-1.4 .6-1.8 2.8z"/>
<path color="#2d8cf3" d="M103 65.3l1.8-2.7-1.4 .5-1.8 2.7z"/>
<path color="#307ffb" d="M101.2 67.8l1.8-2.5-1.4 .5-1.7 2.5z"/>
<path color="#3b73fe" d="M99.5 70.1l1.7-2.3-1.3 .5-1.8 2.3z"/>
<path color="#4368fe" d="M97.7 72.2l1.8-2.1-1.4 .5-1.8 2.2z"/>
<path color="#465ffb" d="M95.9 74.2l1.8-2-1.4 .6-1.7 1.9z"/>
<path color="#4758f8" d="M94.1 75.9l1.8-1.7-1.3 .5-1.8 1.7z"/>
<path color="#4853f4" d="M92.4 77.5l1.7-1.6-1.3 .5-1.8 1.6z"/>
<path color="#484ef1" d="M90.6 78.8l1.8-1.3-1.4 .5-1.8 1.4z"/>
<path color="#484bee" d="M88.8 80l1.8-1.2-1.4 .6-1.7 1.2z"/>
<path color="#4848ec" d="M87.1 81l1.7-1-1.3 .6-1.8 1z"/>
<path color="#4746eb" d="M85.3 81.8l1.8-.8-1.4 .6-1.8 .8z"/>
<path color="#4746ea" d="M83.5 82.5l1.8-.7-1.4 .6-1.7 .6z"/>
<path color="#4746ea" d="M81.7 82.9l1.8-.4-1.3 .5-1.8 .4z"/>
<path color="#4746eb" d="M80 83.1l1.7-.2-1.3 .5-1.8 .3z"/>
<path color="#4848ec" d="M78.2 83.2l1.8-.1-1.4 .6-1.8 0z"/>
<path color="#484bee" d="M76.4 83.1l1.8 .1-1.4 .5-1.7-.1z"/>
<path color="#484ef1" d="M74.7 82.8l1.7 .3-1.3 .5-1.8-.3z"/>
<path color="#4853f4" d="M72.9 82.2l1.8 .6-1.4 .5-1.8-.5z"/>
<path color="#4758f8" d="M71.1 81.6l1.8 .6-1.4 .6-1.7-.7z"/>
<path color="#465ffb" d="M69.3 80.7l1.8 .9-1.3 .5-1.8-.9z"/>
<path color="#4368fe" d="M67.6 79.6l1.7 1.1-1.3 .5-1.8-1.1z"/>
<path color="#3b73fe" d="M65.8 78.3l1.8 1.3-1.4 .5-1.8-1.2z"/>
<path color="#307ffb" d="M64 76.9l1.8 1.4-1.4 .6-1.7-1.5z"/>
<path color="#2d8cf3" d="M62.3 75.3l1.7 1.6-1.3 .5-1.8-1.6z"/>
<path color="#2699e9" d="M60.5 73.4l1.8 1.9-1.4 .5-1.8-1.8z"/>
<path color="#1ea7e1" d="M58.7 71.4l1.8 2-1.4 .6-1.7-2z"/>
<path color="#09b4d1" d="M56.9 69.2l1.8 2.2-1.3 .6-1.8-2.2z"/>
<path color="#12beb9" d="M55.2 66.9l1.7 2.3-1.3 .6-1.8-2.4z"/>
<path color="#26c2ac" d="M111.5 52.7l1.7-3.5-1.3 .8-1.8 3.4z"/>
<path color="#01b9c6" d="M109.7 55.9l1.8-3.2-1.4 .7-1.8 3.3z"/>
<path color="#17aeda" d="M107.9 59l1.8-3.1-1.4 .8-1.7 3z"/>
<path color="#23a1e4" d="M106.1 61.9l1.8-2.9-1.3 .7-1.8 2.9z"/>
<path color="#2994ed" d="M104.4 64.6l1.7-2.7-1.3 .7-1.8 2.7z"/>
<path color="#2e87f7" d="M102.6 67.1l1.8-2.5-1.4 .7-1.8 2.5z"/>
<path color="#327bfc" d="M100.8 69.4l1.8-2.3-1.4 .7-1.7 2.3z"/>
<path color="#3d70ff" d="M99.1 71.5l1.7-2.1-1.3 .7-1.8 2.1z"/>
<path color="#4367fd" d="M97.3 73.4l1.8-1.9-1.4 .7-1.8 2z"/>
<path color="#465ffb" d="M95.5 75.2l1.8-1.8-1.4 .8-1.8 1.7z"/>
<path color="#4759f9" d="M93.7 76.7l1.8-1.5-1.4 .7-1.7 1.6z"/>
<path color="#4855f6" d="M92 78.1l1.7-1.4-1.3 .8-1.8 1.3z"/>
<path color="#4851f3" d="M90.2 79.3l1.8-1.2-1.4 .7-1.8 1.2z"/>
<path color="#484ef1" d="M88.4 80.3l1.8-1-1.4 .7-1.7 1z"/>
<path color="#484cf0" d="M86.6 81.1l1.8-.8-1.3 .7-1.8 .8z"/>
<path color="#484bef" d="M84.9 81.7l1.7-.6-1.3 .7-1.8 .7z"/>
<path color="#484bef" d="M83.1 82.2l1.8-.5-1.4 .8-1.8 .4z"/>
<path color="#484cf0" d="M81.3 82.4l1.8-.2-1.4 .7-1.7 .2z"/>
<path color="#484ef1" d="M79.6 82.5l1.7-.1-1.3 .7-1.8 .1z"/>
<path color="#4851f3" d="M77.8 82.3l1.8 .2-1.4 .7-1.8-.1z"/>
<path color="#4855f6" d="M76 82l1.8 .3-1.4 .8-1.7-.3z"/>
<path color="#4759f9" d="M74.2 81.5l1.8 .5-1.3 .8-1.8-.6z"/>
<path color="#465ffb" d="M72.5 80.8l1.7 .7-1.3 .7-1.8-.6z"/>
<path color="#4367fd" d="M70.7 80l1.8 .8-1.4 .8-1.8-.9z"/>
<path color="#3d70ff" d="M68.9 78.9l1.8 1.1-1.4 .7-1.7-1.1z"/>
<path color="#327bfc" d="M67.2 77.6l1.7 1.3-1.3 .7-1.8-1.3z"/>
<path color="#2e87f7" d="M65.4 76.2l1.8 1.4-1.4 .7-1.8-1.4z"/>
<path color="#2994ed" d="M63.6 74.5l1.8 1.7-1.4 .7-1.7-1.6z"/>
<path color="#23a1e4" d="M61.8 72.7l1.8 1.8-1.3 .8-1.8-1.9z"/>
<path color="#17aeda" d="M60.1 70.7l1.7 2-1.3 .7-1.8-2z"/>
<path color="#01b9c6" d="M58.3 68.5l1.8 2.2-1.4 .7-1.8-2.2z"/>
<path color="#26c2ac" d="M56.5 66.1l1.8 2.4-1.4 .7-1.7-2.3z"/>
<path color="#33c79d" d="M112.8 51.8l1.8-3.5-1.4 .9-1.7 3.5z"/>
<path color="#12beb9" d="M111 55l1.8-3.2-1.3 .9-1.8 3.2z"/>
<path color="#07b5d0" d="M109.3 58.1l1.7-3.1-1.3 .9-1.8 3.1z"/>
<path color="#1ca9df" d="M107.5 61l1.8-2.9-1.4 .9-1.8 2.9z"/>
<path color="#259ce7" d="M105.7 63.7l1.8-2.7-1.4 .9-1.7 2.7z"/>
<path color="#2b90f0" d="M104 66.2l1.7-2.5-1.3 .9-1.8 2.5z"/>
<path color="#2e85f8" d="M102.2 68.5l1.8-2.3-1.4 .9-1.8 2.3z"/>
<path color="#337afd" d="M100.4 70.6l1.8-2.1-1.4 .9-1.7 2.1z"/>
<path color="#3d70ff" d="M98.6 72.5l1.8-1.9-1.3 .9-1.8 1.9z"/>
<path color="#4368fe" d="M96.9 74.3l1.7-1.8-1.3 .9-1.8 1.8z"/>
<path color="#4561fc" d="M95.1 75.8l1.8-1.5-1.4 .9-1.8 1.5z"/>
<path color="#475cfa" d="M93.3 77.2l1.8-1.4-1.4 .9-1.7 1.4z"/>
<path color="#4758f8" d="M91.6 78.4l1.7-1.2-1.3 .9-1.8 1.2z"/>
<path color="#4755f6" d="M89.8 79.4l1.8-1-1.4 .9-1.8 1z"/>
<path color="#4854f5" d="M88 80.2l1.8-.8-1.4 .9-1.8 .8z"/>
<path color="#4853f4" d="M86.2 80.8l1.8-.6-1.4 .9-1.7 .6z"/>
<path color="#4853f4" d="M84.5 81.3l1.7-.5-1.3 .9-1.8 .5z"/>
<path color="#4854f5" d="M82.7 81.5l1.8-.2-1.4 .9-1.8 .2z"/>
<path color="#4755f6" d="M80.9 81.6l1.8-.1-1.4 .9-1.7 .1z"/>
<path color="#4758f8" d="M79.1 81.4l1.8 .2-1.3 .9-1.8-.2z"/>
<path color="#475cfa" d="M77.4 81.1l1.7 .3-1.3 .9-1.8-.3z"/>
<path color="#4561fc" d="M75.6 80.6l1.8 .5-1.4 .9-1.8-.5z"/>
<path color="#4368fe" d="M73.8 79.9l1.8 .7-1.4 .9-1.7-.7z"/>
<path color="#3d70ff" d="M72.1 79l1.7 .9-1.3 .9-1.8-.8z"/>
<path color="#337afd" d="M70.3 78l1.8 1-1.4 1-1.8-1.1z"/>
<path color="#2e85f8" d="M68.5 76.7l1.8 1.3-1.4 .9-1.7-1.3z"/>
<path color="#2b90f0" d="M66.7 75.3l1.8 1.4-1.3 .9-1.8-1.4z"/>
<path color="#259ce7" d="M65 73.6l1.7 1.7-1.3 .9-1.8-1.7z"/>
<path color="#1ca9df" d="M63.2 71.8l1.8 1.8-1.4 .9-1.8-1.8z"/>
<path color="#07b5d0" d="M61.4 69.8l1.8 2-1.4 .9-1.7-2z"/>
<path color="#12beb9" d="M59.7 67.6l1.7 2.2-1.3 .9-1.8-2.2z"/>
<path color="#33c79d" d="M57.9 65.2l1.8 2.4-1.4 .9-1.8-2.4z"/>
<path color="#46cb88" d="M114.2 50.7l1.7-3.5-1.3 1.1-1.8 3.5z"/>
<path color="#2ac3a9" d="M112.4 53.9l1.8-3.2-1.4 1.1-1.8 3.2z"/>
<path color="#04bbc1" d="M110.6 57l1.8-3.1-1.4 1.1-1.7 3.1z"/>
<path color="#10b2d5" d="M108.9 59.9l1.7-2.9-1.3 1.1-1.8 2.9z"/>
<path color="#1fa6e2" d="M107.1 62.6l1.8-2.7-1.4 1.1-1.8 2.7z"/>
<path color="#269ae8" d="M105.3 65.1l1.8-2.5-1.4 1.1-1.7 2.5z"/>
<path color="#2c8ff0" d="M103.5 67.4l1.8-2.3-1.3 1.1-1.8 2.3z"/>
<path color="#2e85f8" d="M101.8 69.5l1.7-2.1-1.3 1.1-1.8 2.1z"/>
<path color="#327bfc" d="M100 71.4l1.8-1.9-1.4 1.1-1.8 1.9z"/>
<path color="#3b73fe" d="M98.2 73.2l1.8-1.8-1.4 1.1-1.7 1.8z"/>
<path color="#416bfe" d="M96.5 74.7l1.7-1.5-1.3 1.1-1.8 1.5z"/>
<path color="#4466fd" d="M94.7 76.1l1.8-1.4-1.4 1.1-1.8 1.4z"/>
<path color="#4561fc" d="M92.9 77.3l1.8-1.2-1.4 1.1-1.7 1.2z"/>
<path color="#465efb" d="M91.1 78.3l1.8-1-1.3 1.1-1.8 1z"/>
<path color="#475cfa" d="M89.4 79.1l1.7-.8-1.3 1.1-1.8 .8z"/>
<path color="#475bfa" d="M87.6 79.7l1.8-.6-1.4 1.1-1.8 .6z"/>
<path color="#475bfa" d="M85.8 80.2l1.8-.5-1.4 1.1-1.7 .5z"/>
<path color="#475cfa" d="M84.1 80.4l1.7-.2-1.3 1.1-1.8 .2z"/>
<path color="#465efb" d="M82.3 80.5l1.8-.1-1.4 1.1-1.8 .1z"/>
<path color="#4561fc" d="M80.5 80.3l1.8 .2-1.4 1.1-1.8-.2z"/>
<path color="#4466fd" d="M78.7 80l1.8 .3-1.4 1.1-1.7-.3z"/>
<path color="#416bfe" d="M77 79.5l1.7 .5-1.3 1.1-1.8-.5z"/>
<path color="#3b73fe" d="M75.2 78.8l1.8 .7-1.4 1.1-1.8-.7z"/>
<path color="#327bfc" d="M73.4 77.9l1.8 .9-1.4 1.1-1.7-.9z"/>
<path color="#2e85f8" d="M71.6 76.9l1.8 1-1.3 1.1-1.8-1z"/>
<path color="#2c8ff0" d="M69.9 75.6l1.7 1.3-1.3 1.1-1.8-1.3z"/>
<path color="#269ae8" d="M68.1 74.2l1.8 1.4-1.4 1.1-1.8-1.4z"/>
<path color="#1fa6e2" d="M66.3 72.5l1.8 1.7-1.4 1.1-1.7-1.7z"/>
<path color="#10b2d5" d="M64.6 70.7l1.7 1.8-1.3 1.1-1.8-1.8z"/>
<path color="#04bbc1" d="M62.8 68.7l1.8 2-1.4 1.1-1.8-2z"/>
<path color="#2ac3a9" d="M61 66.5l1.8 2.2-1.4 1.1-1.7-2.2z"/>
<path color="#46cb88" d="M59.2 64.1l1.8 2.4-1.3 1.1-1.8-2.4z"/>
<path color="#68cd6c" d="M115.5 49.4l1.8-3.5-1.4 1.3-1.7 3.5z"/>
<path color="#3ac994" d="M113.8 52.6l1.7-3.2-1.3 1.3-1.8 3.2z"/>
<path color="#21c1b0" d="M112 55.7l1.8-3.1-1.4 1.3-1.8 3.1z"/>
<path color="#01b9c6" d="M110.2 58.6l1.8-2.9-1.4 1.3-1.7 2.9z"/>
<path color="#14b0d8" d="M108.4 61.3l1.8-2.7-1.3 1.3-1.8 2.7z"/>
<path color="#20a5e2" d="M106.7 63.8l1.7-2.5-1.3 1.3-1.8 2.5z"/>
<path color="#269ae8" d="M104.9 66.1l1.8-2.3-1.4 1.3-1.8 2.3z"/>
<path color="#2b90f0" d="M103.1 68.2l1.8-2.1-1.4 1.3-1.7 2.1z"/>
<path color="#2e87f7" d="M101.4 70.1l1.7-1.9-1.3 1.3-1.8 1.9z"/>
<path color="#307ffb" d="M99.6 71.9l1.8-1.8-1.4 1.3-1.8 1.8z"/>
<path color="#3678fe" d="M97.8 73.5l1.8-1.6-1.4 1.3-1.7 1.5z"/>
<path color="#3c71ff" d="M96 74.8l1.8-1.3-1.3 1.2-1.8 1.4z"/>
<path color="#406dfe" d="M94.3 76l1.7-1.2-1.3 1.3-1.8 1.2z"/>
<path color="#4269fe" d="M92.5 77l1.8-1-1.4 1.3-1.8 1z"/>
<path color="#4367fd" d="M90.7 77.8l1.8-.8-1.4 1.3-1.7 .8z"/>
<path color="#4466fd" d="M89 78.4l1.7-.6-1.3 1.3-1.8 .6z"/>
<path color="#4466fd" d="M87.2 78.9l1.8-.5-1.4 1.3-1.8 .5z"/>
<path color="#4367fd" d="M85.4 79.1l1.8-.2-1.4 1.3-1.7 .2z"/>
<path color="#4269fe" d="M83.6 79.2l1.8-.1-1.3 1.3-1.8 .1z"/>
<path color="#406dfe" d="M81.9 79.1l1.7 .1-1.3 1.3-1.8-.2z"/>
<path color="#3c71ff" d="M80.1 78.7l1.8 .4-1.4 1.2-1.8-.3z"/>
<path color="#3678fe" d="M78.3 78.2l1.8 .5-1.4 1.3-1.7-.5z"/>
<path color="#307ffb" d="M76.6 77.5l1.7 .7-1.3 1.3-1.8-.7z"/>
<path color="#2e87f7" d="M74.8 76.7l1.8 .8-1.4 1.3-1.8-.9z"/>
<path color="#2b90f0" d="M73 75.6l1.8 1.1-1.4 1.2-1.8-1z"/>
<path color="#269ae8" d="M71.2 74.3l1.8 1.3-1.4 1.3-1.7-1.3z"/>
<path color="#20a5e2" d="M69.5 72.9l1.7 1.4-1.3 1.3-1.8-1.4z"/>
<path color="#14b0d8" d="M67.7 71.3l1.8 1.6-1.4 1.3-1.8-1.7z"/>
<path color="#01b9c6" d="M65.9 69.4l1.8 1.9-1.4 1.2-1.7-1.8z"/>
<path color="#21c1b0" d="M64.1 67.4l1.8 2-1.3 1.3-1.8-2z"/>
<path color="#3ac994" d="M62.4 65.2l1.7 2.2-1.3 1.3-1.8-2.2z"/>
<path color="#68cd6c" d="M60.6 62.8l1.8 2.4-1.4 1.3-1.8-2.4z"/>
<path color="#92ca4b" d="M116.9 47.9l1.8-3.4-1.4 1.4-1.8 3.5z"/>
<path color="#5acc78" d="M115.1 51.2l1.8-3.3-1.4 1.5-1.7 3.2z"/>
<path color="#35c79b" d="M113.3 54.2l1.8-3-1.3 1.4-1.8 3.1z"/>
<path color="#1cc0b4" d="M111.6 57.1l1.7-2.9-1.3 1.5-1.8 2.9z"/>
<path color="#01b9c8" d="M109.8 59.8l1.8-2.7-1.4 1.5-1.8 2.7z"/>
<path color="#14b0d8" d="M108 62.3l1.8-2.5-1.4 1.5-1.7 2.5z"/>
<path color="#1fa6e2" d="M106.3 64.6l1.7-2.3-1.3 1.5-1.8 2.3z"/>
<path color="#259ce7" d="M104.5 66.7l1.8-2.1-1.4 1.5-1.8 2.1z"/>
<path color="#2994ed" d="M102.7 68.7l1.8-2-1.4 1.5-1.7 1.9z"/>
<path color="#2d8cf3" d="M100.9 70.4l1.8-1.7-1.3 1.4-1.8 1.8z"/>
<path color="#2e85f8" d="M99.2 72l1.7-1.6-1.3 1.5-1.8 1.6z"/>
<path color="#307ffb" d="M97.4 73.4l1.8-1.4-1.4 1.5-1.8 1.3z"/>
<path color="#337afd" d="M95.6 74.5l1.8-1.1-1.4 1.4-1.7 1.2z"/>
<path color="#3776fe" d="M93.9 75.5l1.7-1-1.3 1.5-1.8 1z"/>
<path color="#3a74fe" d="M92.1 76.3l1.8-.8-1.4 1.5-1.8 .8z"/>
<path color="#3b73fe" d="M90.3 77l1.8-.7-1.4 1.5-1.7 .6z"/>
<path color="#3b73fe" d="M88.5 77.4l1.8-.4-1.3 1.4-1.8 .5z"/>
<path color="#3a74fe" d="M86.8 77.7l1.7-.3-1.3 1.5-1.8 .2z"/>
<path color="#3776fe" d="M85 77.7l1.8 0-1.4 1.4-1.8 .1z"/>
<path color="#337afd" d="M83.2 77.6l1.8 .1-1.4 1.5-1.7-.1z"/>
<path color="#307ffb" d="M81.5 77.3l1.7 .3-1.3 1.5-1.8-.4z"/>
<path color="#2e85f8" d="M79.7 76.8l1.8 .5-1.4 1.4-1.8-.5z"/>
<path color="#2d8cf3" d="M77.9 76.1l1.8 .7-1.4 1.4-1.7-.7z"/>
<path color="#2994ed" d="M76.1 75.2l1.8 .9-1.3 1.4-1.8-.8z"/>
<path color="#259ce7" d="M74.4 74.1l1.7 1.1-1.3 1.5-1.8-1.1z"/>
<path color="#1fa6e2" d="M72.6 72.9l1.8 1.2-1.4 1.5-1.8-1.3z"/>
<path color="#14b0d8" d="M70.8 71.4l1.8 1.5-1.4 1.4-1.7-1.4z"/>
<path color="#01b9c8" d="M69.1 69.8l1.7 1.6-1.3 1.5-1.8-1.6z"/>
<path color="#1cc0b4" d="M67.3 68l1.8 1.8-1.4 1.5-1.8-1.9z"/>
<path color="#35c79b" d="M65.5 66l1.8 2-1.4 1.4-1.8-2z"/>
<path color="#5acc78" d="M63.7 63.8l1.8 2.2-1.4 1.4-1.7-2.2z"/>
<path color="#92ca4b" d="M62 61.4l1.7 2.4-1.3 1.4-1.8-2.4z"/>
<path color="#bfc32d" d="M118.2 46.3l1.8-3.5-1.3 1.7-1.8 3.4z"/>
<path color="#87cb54" d="M116.5 49.5l1.7-3.2-1.3 1.6-1.8 3.3z"/>
<path color="#53cc7d" d="M114.7 52.6l1.8-3.1-1.4 1.7-1.8 3z"/>
<path color="#33c79d" d="M112.9 55.4l1.8-2.8-1.4 1.6-1.7 2.9z"/>
<path color="#1cc0b4" d="M111.2 58.1l1.7-2.7-1.3 1.7-1.8 2.7z"/>
<path color="#01b9c6" d="M109.4 60.6l1.8-2.5-1.4 1.7-1.8 2.5z"/>
<path color="#10b2d5" d="M107.6 62.9l1.8-2.3-1.4 1.7-1.7 2.3z"/>
<path color="#1ca9df" d="M105.8 65.1l1.8-2.2-1.3 1.7-1.8 2.1z"/>
<path color="#23a1e4" d="M104.1 67l1.7-1.9-1.3 1.6-1.8 2z"/>
<path color="#2699e9" d="M102.3 68.8l1.8-1.8-1.4 1.7-1.8 1.7z"/>
<path color="#2a93ee" d="M100.5 70.3l1.8-1.5-1.4 1.6-1.7 1.6z"/>
<path color="#2d8df2" d="M98.8 71.7l1.7-1.4-1.3 1.7-1.8 1.4z"/>
<path color="#2d88f6" d="M97 72.9l1.8-1.2-1.4 1.7-1.8 1.1z"/>
<path color="#2e85f8" d="M95.2 73.9l1.8-1-1.4 1.6-1.7 1z"/>
<path color="#2e83f9" d="M93.4 74.7l1.8-.8-1.3 1.6-1.8 .8z"/>
<path color="#2f81fa" d="M91.7 75.3l1.7-.6-1.3 1.6-1.8 .7z"/>
<path color="#2f81fa" d="M89.9 75.7l1.8-.4-1.4 1.7-1.8 .4z"/>
<path color="#2e83f9" d="M88.1 76l1.8-.3-1.4 1.7-1.7 .3z"/>
<path color="#2e85f8" d="M86.4 76l1.7 0-1.3 1.7-1.8 0z"/>
<path color="#2d88f6" d="M84.6 75.9l1.8 .1-1.4 1.7-1.8-.1z"/>
<path color="#2d8df2" d="M82.8 75.6l1.8 .3-1.4 1.7-1.7-.3z"/>
<path color="#2a93ee" d="M81 75.1l1.8 .5-1.3 1.7-1.8-.5z"/>
<path color="#2699e9" d="M79.3 74.4l1.7 .7-1.3 1.7-1.8-.7z"/>
<path color="#23a1e4" d="M77.5 73.5l1.8 .9-1.4 1.7-1.8-.9z"/>
<path color="#1ca9df" d="M75.7 72.5l1.8 1-1.4 1.7-1.7-1.1z"/>
<path color="#10b2d5" d="M74 71.2l1.7 1.3-1.3 1.6-1.8-1.2z"/>
<path color="#01b9c6" d="M72.2 69.8l1.8 1.4-1.4 1.7-1.8-1.5z"/>
<path color="#1cc0b4" d="M70.4 68.1l1.8 1.7-1.4 1.6-1.7-1.6z"/>
<path color="#33c79d" d="M68.6 66.3l1.8 1.8-1.3 1.7-1.8-1.8z"/>
<path color="#53cc7d" d="M66.9 64.3l1.7 2-1.3 1.7-1.8-2z"/>
<path color="#87cb54" d="M65.1 62.1l1.8 2.2-1.4 1.7-1.8-2.2z"/>
<path color="#bfc32d" d="M63.3 59.7l1.8 2.4-1.4 1.7-1.7-2.4z"/>
<path color="#e7bb2e" d="M119.6 44.4l1.8-3.4-1.4 1.8-1.8 3.5z"/>
<path color="#b8c431" d="M117.8 47.7l1.8-3.3-1.4 1.9-1.7 3.2z"/>
<path color="#83cc57" d="M116.1 50.7l1.7-3-1.3 1.8-1.8 3.1z"/>
<path color="#53cc7d" d="M114.3 53.6l1.8-2.9-1.4 1.9-1.8 2.8z"/>
<path color="#35c79b" d="M112.5 56.3l1.8-2.7-1.4 1.8-1.7 2.7z"/>
<path color="#21c1b0" d="M110.8 58.8l1.7-2.5-1.3 1.8-1.8 2.5z"/>
<path color="#04bbc1" d="M109 61.1l1.8-2.3-1.4 1.8-1.8 2.3z"/>
<path color="#07b5d0" d="M107.2 63.2l1.8-2.1-1.4 1.8-1.8 2.2z"/>
<path color="#17aeda" d="M105.4 65.2l1.8-2-1.4 1.9-1.7 1.9z"/>
<path color="#1ea7e1" d="M103.7 66.9l1.7-1.7-1.3 1.8-1.8 1.8z"/>
<path color="#23a1e4" d="M101.9 68.5l1.8-1.6-1.4 1.9-1.8 1.5z"/>
<path color="#259be7" d="M100.1 69.8l1.8-1.3-1.4 1.8-1.7 1.4z"/>
<path color="#2797eb" d="M98.3 71l1.8-1.2-1.3 1.9-1.8 1.2z"/>
<path color="#2994ed" d="M96.6 72l1.7-1-1.3 1.9-1.8 1z"/>
<path color="#2b91ef" d="M94.8 72.8l1.8-.8-1.4 1.9-1.8 .8z"/>
<path color="#2b90f0" d="M93 73.5l1.8-.7-1.4 1.9-1.7 .6z"/>
<path color="#2b90f0" d="M91.3 73.9l1.7-.4-1.3 1.8-1.8 .4z"/>
<path color="#2b91ef" d="M89.5 74.1l1.8-.2-1.4 1.8-1.8 .3z"/>
<path color="#2994ed" d="M87.7 74.2l1.8-.1-1.4 1.9-1.7 0z"/>
<path color="#2797eb" d="M85.9 74.1l1.8 .1-1.3 1.8-1.8-.1z"/>
<path color="#259be7" d="M84.2 73.8l1.7 .3-1.3 1.8-1.8-.3z"/>
<path color="#23a1e4" d="M82.4 73.2l1.8 .6-1.4 1.8-1.8-.5z"/>
<path color="#1ea7e1" d="M80.6 72.6l1.8 .6-1.4 1.9-1.7-.7z"/>
<path color="#17aeda" d="M78.9 71.7l1.7 .9-1.3 1.8-1.8-.9z"/>
<path color="#07b5d0" d="M77.1 70.6l1.8 1.1-1.4 1.8-1.8-1z"/>
<path color="#04bbc1" d="M75.3 69.3l1.8 1.3-1.4 1.9-1.7-1.3z"/>
<path color="#21c1b0" d="M73.5 67.9l1.8 1.4-1.3 1.9-1.8-1.4z"/>
<path color="#35c79b" d="M71.8 66.3l1.7 1.6-1.3 1.9-1.8-1.7z"/>
<path color="#53cc7d" d="M70 64.5l1.8 1.8-1.4 1.8-1.8-1.8z"/>
<path color="#83cc57" d="M68.2 62.4l1.8 2.1-1.4 1.8-1.7-2z"/>
<path color="#b8c431" d="M66.5 60.2l1.7 2.2-1.3 1.9-1.8-2.2z"/>
<path color="#e7bb2e" d="M64.7 57.9l1.8 2.3-1.4 1.9-1.8-2.4z"/>
<path color="#fec438" d="M121 42.4l1.7-3.5-1.3 2.1-1.8 3.4z"/>
<path color="#e5bb2d" d="M119.2 45.6l1.8-3.2-1.4 2-1.8 3.3z"/>
<path color="#b8c431" d="M117.4 48.7l1.8-3.1-1.4 2.1-1.7 3z"/>
<path color="#87cb54" d="M115.7 51.6l1.7-2.9-1.3 2-1.8 2.9z"/>
<path color="#5acc78" d="M113.9 54.2l1.8-2.6-1.4 2-1.8 2.7z"/>
<path color="#3ac994" d="M112.1 56.7l1.8-2.5-1.4 2.1-1.7 2.5z"/>
<path color="#2ac3a9" d="M110.3 59.1l1.8-2.4-1.3 2.1-1.8 2.3z"/>
<path color="#12beb9" d="M108.6 61.2l1.7-2.1-1.3 2-1.8 2.1z"/>
<path color="#01b9c6" d="M106.8 63.1l1.8-1.9-1.4 2-1.8 2z"/>
<path color="#09b4d1" d="M105 64.9l1.8-1.8-1.4 2.1-1.7 1.7z"/>
<path color="#16afd9" d="M103.2 66.4l1.8-1.5-1.3 2-1.8 1.6z"/>
<path color="#1baade" d="M101.5 67.8l1.7-1.4-1.3 2.1-1.8 1.3z"/>
<path color="#1fa6e2" d="M99.7 69l1.8-1.2-1.4 2-1.8 1.2z"/>
<path color="#21a3e3" d="M97.9 70l1.8-1-1.4 2-1.7 1z"/>
<path color="#23a1e4" d="M96.2 70.8l1.7-.8-1.3 2-1.8 .8z"/>
<path color="#23a0e5" d="M94.4 71.4l1.8-.6-1.4 2-1.8 .7z"/>
<path color="#23a0e5" d="M92.6 71.9l1.8-.5-1.4 2.1-1.7 .4z"/>
<path color="#23a1e4" d="M90.8 72.1l1.8-.2-1.3 2-1.8 .2z"/>
<path color="#21a3e3" d="M89.1 72.2l1.7-.1-1.3 2-1.8 .1z"/>
<path color="#1fa6e2" d="M87.3 72l1.8 .2-1.4 2-1.8-.1z"/>
<path color="#1baade" d="M85.5 71.7l1.8 .3-1.4 2.1-1.7-.3z"/>
<path color="#16afd9" d="M83.8 71.2l1.7 .5-1.3 2.1-1.8-.6z"/>
<path color="#09b4d1" d="M82 70.5l1.8 .7-1.4 2-1.8-.6z"/>
<path color="#01b9c6" d="M80.2 69.6l1.8 .9-1.4 2.1-1.7-.9z"/>
<path color="#12beb9" d="M78.4 68.6l1.8 1-1.3 2.1-1.8-1.1z"/>
<path color="#2ac3a9" d="M76.7 67.3l1.7 1.3-1.3 2-1.8-1.3z"/>
<path color="#3ac994" d="M74.9 65.9l1.8 1.4-1.4 2-1.8-1.4z"/>
<path color="#5acc78" d="M73.1 64.2l1.8 1.7-1.4 2-1.7-1.6z"/>
<path color="#87cb54" d="M71.4 62.4l1.7 1.8-1.3 2.1-1.8-1.8z"/>
<path color="#b8c431" d="M69.6 60.4l1.8 2-1.4 2.1-1.8-2.1z"/>
<path color="#e5bb2d" d="M67.8 58.2l1.8 2.2-1.4 2-1.7-2.2z"/>
<path color="#fec438" d="M66 55.8l1.8 2.4-1.3 2-1.8-2.3z"/>
<path color="#f6df29" d="M122.3 40.1l1.8-3.4-1.4 2.2-1.7 3.5z"/>
<path color="#fec438" d="M120.6 43.4l1.7-3.3-1.3 2.3-1.8 3.2z"/>
<path color="#e7bb2e" d="M118.8 46.5l1.8-3.1-1.4 2.2-1.8 3.1z"/>
<path color="#bfc32d" d="M117 49.3l1.8-2.8-1.4 2.2-1.7 2.9z"/>
<path color="#92ca4b" d="M115.2 52l1.8-2.7-1.3 2.3-1.8 2.6z"/>
<path color="#68cd6c" d="M113.5 54.5l1.7-2.5-1.3 2.2-1.8 2.5z"/>
<path color="#46cb88" d="M111.7 56.8l1.8-2.3-1.4 2.2-1.8 2.4z"/>
<path color="#33c79d" d="M109.9 59l1.8-2.2-1.4 2.3-1.7 2.1z"/>
<path color="#26c2ac" d="M108.2 60.9l1.7-1.9-1.3 2.2-1.8 1.9z"/>
<path color="#12beb9" d="M106.4 62.6l1.8-1.7-1.4 2.2-1.8 1.8z"/>
<path color="#02bbc3" d="M104.6 64.2l1.8-1.6-1.4 2.3-1.8 1.5z"/>
<path color="#02b7cb" d="M102.8 65.6l1.8-1.4-1.4 2.2-1.7 1.4z"/>
<path color="#09b4d1" d="M101.1 66.8l1.7-1.2-1.3 2.2-1.8 1.2z"/>
<path color="#10b2d5" d="M99.3 67.8l1.8-1-1.4 2.2-1.8 1z"/>
<path color="#14b0d8" d="M97.5 68.6l1.8-.8-1.4 2.2-1.7 .8z"/>
<path color="#16afd9" d="M95.8 69.2l1.7-.6-1.3 2.2-1.8 .6z"/>
<path color="#16afd9" d="M94 69.6l1.8-.4-1.4 2.2-1.8 .5z"/>
<path color="#14b0d8" d="M92.2 69.9l1.8-.3-1.4 2.3-1.8 .2z"/>
<path color="#10b2d5" d="M90.4 69.9l1.8 0-1.4 2.2-1.7 .1z"/>
<path color="#09b4d1" d="M88.7 69.8l1.7 .1-1.3 2.3-1.8-.2z"/>
<path color="#02b7cb" d="M86.9 69.5l1.8 .3-1.4 2.2-1.8-.3z"/>
<path color="#02bbc3" d="M85.1 69l1.8 .5-1.4 2.2-1.7-.5z"/>
<path color="#12beb9" d="M83.3 68.3l1.8 .7-1.3 2.2-1.8-.7z"/>
<path color="#26c2ac" d="M81.6 67.4l1.7 .9-1.3 2.2-1.8-.9z"/>
<path color="#33c79d" d="M79.8 66.3l1.8 1.1-1.4 2.2-1.8-1z"/>
<path color="#46cb88" d="M78 65.1l1.8 1.2-1.4 2.3-1.7-1.3z"/>
<path color="#68cd6c" d="M76.3 63.6l1.7 1.5-1.3 2.2-1.8-1.4z"/>
<path color="#92ca4b" d="M74.5 62l1.8 1.6-1.4 2.3-1.8-1.7z"/>
<path color="#bfc32d" d="M72.7 60.2l1.8 1.8-1.4 2.2-1.7-1.8z"/>
<path color="#e7bb2e" d="M70.9 58.2l1.8 2-1.3 2.2-1.8-2z"/>
<path color="#fec438" d="M69.2 56l1.7 2.2-1.3 2.2-1.8-2.2z"/>
<path color="#f6df29" d="M67.4 53.6l1.8 2.4-1.4 2.2-1.8-2.4z"/>
</g>
<text x="70.6" y="108.6" font-size="4.5" text-anchor="start" fill="#444">− 100</text>
<text x="84.8" y="104.4" font-size="4.5" text-anchor="start" fill="#444">− 50</text>
<text x="98" y="100.2" font-size="4.5" text-anchor="start" fill="#444">0</text>
<text x="112.1" y="95.9" font-size="4.5" text-anchor="start" fill="#444">50</text>
<text x="126.3" y="91.7" font-size="4.5" text-anchor="start" fill="#444">100</text>
<text x="62.8" y="108.9" font-size="4.5" text-anchor="end" fill="#444">− 100</text>
<text x="42.5" y="97.3" font-size="4.5" text-anchor="end" fill="#444">0</text>
<text x="20.7" y="86.3" font-size="4.5" text-anchor="end" fill="#444">100</text>
<text x="21.7" y="81.3" font-size="4.5" text-anchor="end" fill="#444">0</text>
<text x="21.7" y="69.3" font-size="4.5" text-anchor="end" fill="#444">0.5</text>
<text x="21.7" y="57.3" font-size="4.5" text-anchor="end" fill="#444">1</text>
<text x="21.7" y="45.2" font-size="4.5" text-anchor="end" fill="#444">1.5</text>
<text x="21.7" y="33.2" font-size="4.5" text-anchor="end" fill="#444">2</text>
<text x="74.2" y="14" font-size="4.65" text-anchor="middle" fill="#333">Parameter space</text>
<text x="18.9" y="25.6" font-size="4.4" fill="#444" text-anchor="middle">× 10<tspan dy="-2" font-size="3.2">4</tspan></text>
<text x="11" y="56.5" font-size="4.4" fill="#444" text-anchor="middle" transform="rotate(-90 11 56.5)">F1( x<tspan dy="1.2" font-size="3.2">1</tspan><tspan dy="-1.2"> , x</tspan><tspan dy="1.2" font-size="3.2">2</tspan><tspan dy="-1.2"> )</tspan></text>
<text x="99" y="108.6" font-size="4.6" fill="#444" text-anchor="middle">x<tspan dy="1.2" font-size="3.2">1</tspan></text>
<text x="40.3" y="108.6" font-size="4.6" fill="#444" text-anchor="middle">x<tspan dy="1.2" font-size="3.2">2</tspan></text>
<path d="M342.7 101.4L302.1 79.6M302.1 79.6L302.1 31.9M369.2 93L328.6 71.2M328.6 71.2L328.6 23.5M395.7 84.6L355.1 62.8M355.1 62.8L355.1 15.1M342.7 101.4L395.7 84.6M395.7 84.6L395.7 36.9M322.4 90.5L375.4 73.7M375.4 73.7L375.4 26M302.1 79.6L355.1 62.8M355.1 62.8L355.1 15.1M302.1 79.6L355.1 62.8M355.1 62.8L395.7 84.6M302.1 70.2L355.1 53.4M355.1 53.4L395.7 75.2M302.1 60.9L355.1 44.1M355.1 44.1L395.7 65.9M302.1 51.5L355.1 34.7M355.1 34.7L395.7 56.5M302.1 42.2L355.1 25.4M355.1 25.4L395.7 47.2M302.1 32.8L355.1 16M355.1 16L395.7 37.8" stroke="#e9e9e9" stroke-width=".5" fill="none"/>
<path d="M366.5 93.9L365.3 93.4L364.1 92.9L362.9 92.4L362.3 92.1L361.1 91.7L359.8 91.2L359.1 91L357.8 90.5L356.5 90.1L355.7 89.9L354.4 89.6L353.4 89.3L352.5 89.1L350.9 88.8L350 88.7L349 88.6L347.9 88.5L346.8 88.4L345.6 88.4L344.2 88.4L342.7 88.4L341.8 88.5L340.9 88.5L339.1 88.7L338.2 88.8L336.6 89.1L335.8 89.2L334.2 89.5L333.4 89.6L331.9 89.9L330.3 90.2L329.4 90.4L328.1 90.7L326.6 91.1L325.2 91.4L324.5 91.6" fill="none" stroke="#4747eb" stroke-width="0.45" opacity=".62"/>
<path d="M377.5 74.8L376.3 75.3L375.1 75.8L373.9 76.3L373.3 76.5L372.2 77.1L371 77.6L370.5 77.9L369.4 78.4L368.4 78.9L367.9 79.3L367 79.8L366.5 80.2L366 80.6L365.3 81.2L364.9 81.6L364.6 82.1L364.4 82.5L364.2 83L364.1 83.5L364.1 84L364.2 84.6L364.3 85L364.5 85.4L364.9 86.1L365.2 86.5L365.7 87.2L366.1 87.5L366.7 88.2L367.1 88.5L367.8 89.1L368.6 89.7L369.1 90.1L369.8 90.6L370.6 91.2L371.5 91.8L371.9 92.1" fill="none" stroke="#4747eb" stroke-width="0.45" opacity=".62"/>
<path d="M320.3 89.4L321.5 88.9L322.7 88.4L323.9 87.9L324.5 87.7L325.6 87.1L326.8 86.6L327.3 86.3L328.4 85.8L329.4 85.3L329.9 84.9L330.8 84.4L331.3 84L331.8 83.6L332.5 83L332.9 82.6L333.2 82.1L333.4 81.7L333.6 81.2L333.7 80.7L333.7 80.2L333.6 79.6L333.5 79.2L333.3 78.8L332.9 78.1L332.6 77.7L332.1 77L331.7 76.7L331.1 76L330.7 75.7L330 75.1L329.2 74.5L328.7 74.1L328 73.6L327.2 73L326.3 72.4L325.9 72.1" fill="none" stroke="#4747eb" stroke-width="0.45" opacity=".62"/>
<path d="M331.3 70.3L332.5 70.8L333.7 71.3L334.9 71.8L335.5 72.1L336.7 72.5L338 73L338.7 73.2L340 73.7L341.3 74.1L342.1 74.3L343.4 74.6L344.4 74.9L345.3 75.1L346.9 75.4L347.8 75.5L348.8 75.6L349.9 75.7L351 75.8L352.2 75.8L353.6 75.8L355.1 75.8L356 75.7L356.9 75.7L358.7 75.5L359.6 75.4L361.2 75.1L362 75L363.6 74.7L364.4 74.6L365.9 74.3L367.5 74L368.4 73.8L369.7 73.5L371.2 73.1L372.6 72.8L373.3 72.6" fill="none" stroke="#4747eb" stroke-width="0.45" opacity=".62"/>
<path d="M363.5 94.8L362.3 94.4L361.5 94.1L360.1 93.7L359.4 93.5L358 93.1L357.2 92.9L355.7 92.5L354.9 92.3L353.8 92.1L352.4 91.8L351.5 91.7L350.6 91.5L349.3 91.4L348 91.2L346.8 91.1L345.6 91.1L344.5 91L343.4 91L342.3 91L341.2 91.1L339.6 91.1L338.4 91.2L337.5 91.3L335.9 91.4L334.9 91.5L333.7 91.7L332.3 91.9L331.1 92.1L329.9 92.3L328.3 92.5L327.5 92.7L326.8 92.8" fill="none" stroke="#3e6fff" stroke-width="0.45" opacity=".62"/>
<path d="M379.8 76L378.8 76.5L378.1 76.9L377.1 77.4L376.6 77.7L375.6 78.3L375.1 78.6L374.2 79.3L373.7 79.6L373.2 80L372.5 80.6L372.1 81L371.8 81.4L371.4 81.9L371.1 82.4L370.8 82.9L370.7 83.4L370.6 83.9L370.5 84.3L370.5 84.8L370.6 85.3L370.8 85.9L370.9 86.4L371.1 86.8L371.5 87.4L371.8 87.9L372.1 88.4L372.6 88.9L373 89.4L373.5 89.9L374.2 90.6L374.5 90.9L374.9 91.2" fill="none" stroke="#3e6fff" stroke-width="0.45" opacity=".62"/>
<path d="M318 88.2L319 87.7L319.7 87.3L320.7 86.8L321.2 86.5L322.2 85.9L322.7 85.6L323.6 84.9L324.1 84.6L324.6 84.2L325.3 83.6L325.7 83.2L326 82.8L326.4 82.3L326.7 81.8L327 81.3L327.1 80.8L327.2 80.3L327.3 79.9L327.3 79.4L327.2 78.9L327 78.3L326.9 77.8L326.7 77.4L326.3 76.8L326 76.3L325.7 75.8L325.2 75.3L324.8 74.8L324.3 74.3L323.6 73.6L323.3 73.3L322.9 73" fill="none" stroke="#3e6fff" stroke-width="0.45" opacity=".62"/>
<path d="M334.3 69.4L335.5 69.8L336.3 70.1L337.7 70.5L338.4 70.7L339.8 71.1L340.6 71.3L342.1 71.7L342.9 71.9L344 72.1L345.4 72.4L346.3 72.5L347.2 72.7L348.5 72.8L349.8 73L351 73.1L352.2 73.1L353.3 73.2L354.4 73.2L355.5 73.2L356.6 73.1L358.2 73.1L359.4 73L360.3 72.9L361.9 72.8L362.9 72.7L364.1 72.5L365.5 72.3L366.7 72.1L367.9 71.9L369.5 71.7L370.3 71.5L371 71.4" fill="none" stroke="#3e6fff" stroke-width="0.45" opacity=".62"/>
<path d="M360.5 95.7L359.1 95.3L358.3 95.2L356.7 94.8L355.9 94.6L354.9 94.4L353.4 94.1L352.5 94L351.6 93.8L350.3 93.6L349 93.5L347.7 93.3L346.6 93.2L345.4 93.2L344.2 93.1L343 93.1L341.9 93.1L340.9 93.1L339.9 93.1L338.7 93.1L337.1 93.2L336 93.3L335.1 93.4L333.4 93.5L332.4 93.6L331.2 93.8L329.9 93.9L329 94.1" fill="none" stroke="#2797eb" stroke-width="0.45" opacity=".62"/>
<path d="M382 77.3L381.1 77.9L380.6 78.2L379.7 78.8L379.2 79.2L378.7 79.6L378 80.2L377.7 80.6L377.3 80.9L376.9 81.5L376.5 82L376.1 82.6L375.9 83L375.7 83.5L375.6 84L375.5 84.5L375.5 84.9L375.5 85.4L375.5 85.8L375.6 86.3L375.8 86.9L376 87.4L376.2 87.8L376.6 88.5L376.8 88.9L377.1 89.3L377.6 89.9L377.9 90.3" fill="none" stroke="#2797eb" stroke-width="0.45" opacity=".62"/>
<path d="M315.8 86.9L316.7 86.3L317.2 86L318.1 85.4L318.6 85L319.1 84.6L319.8 84L320.1 83.6L320.5 83.3L320.9 82.7L321.3 82.2L321.7 81.6L321.9 81.2L322.1 80.7L322.2 80.2L322.3 79.7L322.3 79.3L322.3 78.8L322.3 78.4L322.2 77.9L322 77.3L321.8 76.8L321.6 76.4L321.2 75.7L321 75.3L320.7 74.9L320.2 74.3L319.9 73.9" fill="none" stroke="#2797eb" stroke-width="0.45" opacity=".62"/>
<path d="M337.3 68.5L338.7 68.9L339.5 69L341.1 69.4L341.9 69.6L342.9 69.8L344.4 70.1L345.3 70.2L346.2 70.4L347.5 70.6L348.8 70.7L350.1 70.9L351.2 71L352.4 71L353.6 71.1L354.8 71.1L355.9 71.1L356.9 71.1L357.9 71.1L359.1 71.1L360.7 71L361.8 70.9L362.7 70.8L364.4 70.7L365.4 70.6L366.6 70.4L367.9 70.3L368.8 70.1" fill="none" stroke="#2797eb" stroke-width="0.45" opacity=".62"/>
<path d="M357.6 96.7L356.8 96.5L355.1 96.2L354.2 96L353.4 95.9L352 95.6L350.6 95.4L349.6 95.3L348.6 95.2L347.5 95.1L346.5 95L345.3 94.9L344.2 94.9L342.9 94.8L341.6 94.8L340.3 94.8L338.9 94.8L337.9 94.8L336.9 94.9L335.8 94.9L334 95L333.1 95.1L332.2 95.2L331.3 95.3" fill="none" stroke="#08b5d0" stroke-width="0.45" opacity=".62"/>
<path d="M384.3 78.5L383.9 78.8L383.1 79.5L382.7 79.9L382.3 80.2L381.8 80.8L381.3 81.4L381 81.8L380.7 82.2L380.4 82.6L380.2 83.1L380 83.5L379.9 84L379.8 84.5L379.7 85.1L379.7 85.6L379.7 86.2L379.8 86.6L379.9 87L380 87.5L380.3 88.2L380.4 88.6L380.6 89L380.8 89.3" fill="none" stroke="#08b5d0" stroke-width="0.45" opacity=".62"/>
<path d="M313.5 85.7L313.9 85.4L314.7 84.7L315.1 84.3L315.5 84L316 83.4L316.5 82.8L316.8 82.4L317.1 82L317.4 81.6L317.6 81.1L317.8 80.7L317.9 80.2L318 79.7L318.1 79.1L318.1 78.6L318.1 78L318 77.6L317.9 77.2L317.8 76.7L317.5 76L317.4 75.6L317.2 75.2L317 74.9" fill="none" stroke="#08b5d0" stroke-width="0.45" opacity=".62"/>
<path d="M340.2 67.5L341 67.7L342.7 68L343.6 68.2L344.4 68.3L345.8 68.6L347.2 68.8L348.2 68.9L349.2 69L350.3 69.1L351.3 69.2L352.5 69.3L353.6 69.3L354.9 69.4L356.2 69.4L357.5 69.4L358.9 69.4L359.9 69.4L360.9 69.3L362 69.3L363.8 69.2L364.7 69.1L365.6 69L366.5 68.9" fill="none" stroke="#08b5d0" stroke-width="0.45" opacity=".62"/>
<path d="M354.6 97.6L353.1 97.4L351.9 97.2L350.9 97.1L350 96.9L348.9 96.8L347.6 96.7L346.4 96.6L345.1 96.5L344 96.4L342.8 96.4L341.7 96.3L340.6 96.3L339.6 96.3L338.2 96.3L336.7 96.4L335.5 96.4L334.5 96.5L333.6 96.5" fill="none" stroke="#31c69f" stroke-width="0.45" opacity=".62"/>
<path d="M386.6 79.7L386 80.3L385.5 80.8L385.2 81.2L384.9 81.6L384.6 82.1L384.3 82.6L384 83.1L383.8 83.6L383.6 84.1L383.5 84.6L383.4 85L383.4 85.5L383.4 85.9L383.4 86.5L383.5 87.1L383.6 87.6L383.7 88L383.8 88.4" fill="none" stroke="#31c69f" stroke-width="0.45" opacity=".62"/>
<path d="M311.2 84.5L311.8 83.9L312.3 83.4L312.6 83L312.9 82.6L313.2 82.1L313.5 81.6L313.8 81.1L314 80.6L314.2 80.1L314.3 79.6L314.4 79.2L314.4 78.7L314.4 78.3L314.4 77.7L314.3 77.1L314.2 76.6L314.1 76.2L314 75.8" fill="none" stroke="#31c69f" stroke-width="0.45" opacity=".62"/>
<path d="M343.2 66.6L344.7 66.8L345.9 67L346.9 67.1L347.8 67.3L348.9 67.4L350.2 67.5L351.4 67.6L352.7 67.7L353.8 67.8L355 67.8L356.1 67.9L357.2 67.9L358.2 67.9L359.6 67.9L361.1 67.8L362.3 67.8L363.3 67.7L364.2 67.7" fill="none" stroke="#31c69f" stroke-width="0.45" opacity=".62"/>
<path d="M351.6 98.6L350.7 98.4L349.6 98.3L348.3 98.2L347 98L345.7 97.9L344.5 97.9L343.4 97.8L342.2 97.8L341.1 97.7L340 97.7L339 97.7L337.9 97.7L336.6 97.7L335.9 97.7" fill="none" stroke="#81cc59" stroke-width="0.45" opacity=".62"/>
<path d="M388.9 80.9L388.6 81.3L388.2 81.8L387.9 82.3L387.6 82.8L387.3 83.4L387.1 83.9L387 84.3L386.8 84.8L386.8 85.3L386.7 85.7L386.7 86.2L386.7 86.6L386.7 87.1L386.8 87.4" fill="none" stroke="#81cc59" stroke-width="0.45" opacity=".62"/>
<path d="M308.9 83.3L309.2 82.9L309.6 82.4L309.9 81.9L310.2 81.4L310.5 80.8L310.7 80.3L310.8 79.9L311 79.4L311 78.9L311.1 78.5L311.1 78L311.1 77.6L311.1 77.1L311 76.8" fill="none" stroke="#81cc59" stroke-width="0.45" opacity=".62"/>
<path d="M346.2 65.6L347.1 65.8L348.2 65.9L349.5 66L350.8 66.2L352.1 66.3L353.3 66.3L354.4 66.4L355.6 66.4L356.7 66.5L357.8 66.5L358.8 66.5L359.9 66.5L361.2 66.5L361.9 66.5" fill="none" stroke="#81cc59" stroke-width="0.45" opacity=".62"/>
<path d="M348.6 99.5L347.4 99.4L346.1 99.3L344.9 99.2L343.7 99.1L342.5 99.1L341.4 99L340.3 99L339.2 99L338.1 99" fill="none" stroke="#dcbd29" stroke-width="0.45" opacity=".62"/>
<path d="M391.1 82.2L390.8 82.7L390.6 83.2L390.3 83.7L390.2 84.2L390 84.7L389.9 85.1L389.8 85.6L389.8 86L389.8 86.5" fill="none" stroke="#dcbd29" stroke-width="0.45" opacity=".62"/>
<path d="M306.7 82L307 81.5L307.2 81L307.5 80.5L307.6 80L307.8 79.5L307.9 79.1L308 78.6L308 78.2L308 77.7" fill="none" stroke="#dcbd29" stroke-width="0.45" opacity=".62"/>
<path d="M349.2 64.7L350.4 64.8L351.7 64.9L352.9 65L354.1 65.1L355.3 65.1L356.4 65.2L357.5 65.2L358.6 65.2L359.7 65.2" fill="none" stroke="#dcbd29" stroke-width="0.45" opacity=".62"/>
<path d="M345.7 100.5L344.6 100.4L343.4 100.3L342.2 100.2L341 100.2L340.4 100.2" fill="none" stroke="#fccf30" stroke-width="0.45" opacity=".62"/>
<path d="M393.4 83.4L393.2 83.8L393 84.3L392.9 84.8L392.8 85.3L392.7 85.5" fill="none" stroke="#fccf30" stroke-width="0.45" opacity=".62"/>
<path d="M304.4 80.8L304.6 80.4L304.8 79.9L304.9 79.4L305 78.9L305.1 78.7" fill="none" stroke="#fccf30" stroke-width="0.45" opacity=".62"/>
<path d="M352.1 63.7L353.2 63.8L354.4 63.9L355.6 64L356.8 64L357.4 64" fill="none" stroke="#fccf30" stroke-width="0.45" opacity=".62"/>
<path d="M342.7 101.4L395.7 84.6" stroke="#8a8a8a" stroke-width="0.6"/>
<path d="M302.1 79.6L342.7 101.4" stroke="#8a8a8a" stroke-width="0.6"/>
<path d="M302.1 79.6L302.1 31.9" stroke="#8a8a8a" stroke-width="0.6"/>
<g fill="currentColor" stroke="currentColor" stroke-width=".4" stroke-linejoin="round" filter="url(#bl)">
<path color="#f6df29" d="M354.7 22l1.7-3.3-1.3-3.6-1.7 3.5z"/>
<path color="#fec338" d="M353.1 25.3l1.6-3.3-1.3-3.4-1.6 3.5z"/>
<path color="#e2bc2b" d="M351.4 28.6l1.7-3.3-1.3-3.2-1.7 3.4z"/>
<path color="#b0c636" d="M349.7 31.9l1.7-3.3-1.3-3.1-1.6 3.5z"/>
<path color="#75cc61" d="M348.1 35.2l1.6-3.3-1.2-2.9-1.7 3.5z"/>
<path color="#41ca8c" d="M346.4 38.5l1.7-3.3-1.3-2.7-1.6 3.5z"/>
<path color="#26c2ad" d="M344.8 41.8l1.6-3.3-1.2-2.5-1.7 3.4z"/>
<path color="#01b9c7" d="M343.1 45.1l1.7-3.3-1.3-2.4-1.7 3.5z"/>
<path color="#19acdc" d="M341.5 48.4l1.6-3.3-1.3-2.2-1.6 3.5z"/>
<path color="#259ce7" d="M339.8 51.7l1.7-3.3-1.3-2-1.7 3.5z"/>
<path color="#2d8bf4" d="M338.2 55l1.6-3.3-1.3-1.8-1.6 3.4z"/>
<path color="#3579fd" d="M336.5 58.3l1.7-3.3-1.3-1.7-1.7 3.5z"/>
<path color="#4367fd" d="M334.8 61.6l1.7-3.3-1.3-1.5-1.6 3.5z"/>
<path color="#4757f7" d="M333.2 64.9l1.6-3.3-1.2-1.3-1.7 3.5z"/>
<path color="#4849ed" d="M331.5 68.1l1.7-3.2-1.3-1.1-1.6 3.5z"/>
<path color="#463de0" d="M329.9 71.4l1.6-3.3-1.2-.8-1.7 3.4z"/>
<path color="#463de0" d="M328.2 69.2l1.7 2.2-1.3-.7-1.7-2.4z"/>
<path color="#4849ed" d="M326.6 67l1.6 2.2-1.3-.9-1.6-2.4z"/>
<path color="#4757f7" d="M324.9 64.7l1.7 2.3-1.3-1.1-1.7-2.4z"/>
<path color="#4367fd" d="M323.2 62.5l1.7 2.2-1.3-1.2-1.6-2.5z"/>
<path color="#3579fd" d="M321.6 60.2l1.6 2.3-1.2-1.5-1.7-2.4z"/>
<path color="#2d8bf4" d="M319.9 58l1.7 2.2-1.3-1.6-1.6-2.4z"/>
<path color="#259ce7" d="M318.3 55.7l1.6 2.3-1.2-1.8-1.7-2.5z"/>
<path color="#19acdc" d="M316.6 53.5l1.7 2.2-1.3-2-1.7-2.4z"/>
<path color="#01b9c7" d="M315 51.2l1.6 2.3-1.3-2.2-1.6-2.4z"/>
<path color="#26c2ad" d="M313.3 49l1.7 2.2-1.3-2.3-1.7-2.4z"/>
<path color="#41ca8c" d="M311.6 46.8l1.7 2.2-1.3-2.5-1.6-2.5z"/>
<path color="#75cc61" d="M310 44.5l1.6 2.3-1.2-2.8-1.7-2.4z"/>
<path color="#b0c636" d="M308.3 42.3l1.7 2.2-1.3-2.9-1.6-2.4z"/>
<path color="#e2bc2b" d="M306.7 40l1.6 2.3-1.2-3.1-1.7-2.4z"/>
<path color="#fec338" d="M305 37.8l1.7 2.2-1.3-3.2-1.6-2.5z"/>
<path color="#f6df29" d="M303.4 35.5l1.6 2.3-1.2-3.5-1.7-2.4z"/>
<path color="#fec338" d="M356 25.5l1.6-3.1-1.2-3.7-1.7 3.3z"/>
<path color="#e5bb2d" d="M354.3 28.6l1.7-3.1-1.3-3.5-1.6 3.3z"/>
<path color="#b7c532" d="M352.7 31.7l1.6-3.1-1.2-3.3-1.7 3.3z"/>
<path color="#81cc59" d="M351 34.8l1.7-3.1-1.3-3.1-1.7 3.3z"/>
<path color="#4ccb82" d="M349.4 37.9l1.6-3.1-1.3-2.9-1.6 3.3z"/>
<path color="#2ec5a4" d="M347.7 41l1.7-3.1-1.3-2.7-1.7 3.3z"/>
<path color="#0abdbe" d="M346 44.1l1.7-3.1-1.3-2.5-1.6 3.3z"/>
<path color="#0eb2d4" d="M344.4 47.3l1.6-3.2-1.2-2.3-1.7 3.3z"/>
<path color="#20a5e3" d="M342.7 50.4l1.7-3.1-1.3-2.2-1.6 3.3z"/>
<path color="#2895ec" d="M341.1 53.5l1.6-3.1-1.2-2-1.7 3.3z"/>
<path color="#2e85f8" d="M339.4 56.6l1.7-3.1-1.3-1.8-1.6 3.3z"/>
<path color="#3a73fe" d="M337.8 59.7l1.6-3.1-1.2-1.6-1.7 3.3z"/>
<path color="#4563fc" d="M336.1 62.8l1.7-3.1-1.3-1.4-1.7 3.3z"/>
<path color="#4854f6" d="M334.4 65.9l1.7-3.1-1.3-1.2-1.6 3.3z"/>
<path color="#4747ec" d="M332.8 69l1.6-3.1-1.2-1-1.7 3.2z"/>
<path color="#463de0" d="M331.1 72.2l1.7-3.2-1.3-.9-1.6 3.3z"/>
<path color="#463de0" d="M329.5 70.1l1.6 2.1-1.2-.8-1.7-2.2z"/>
<path color="#4747ec" d="M327.8 68l1.7 2.1-1.3-.9-1.6-2.2z"/>
<path color="#4854f6" d="M326.2 66l1.6 2-1.2-1-1.7-2.3z"/>
<path color="#4563fc" d="M324.5 63.9l1.7 2.1-1.3-1.3-1.7-2.2z"/>
<path color="#3a73fe" d="M322.9 61.8l1.6 2.1-1.3-1.4-1.6-2.3z"/>
<path color="#2e85f8" d="M321.2 59.8l1.7 2-1.3-1.6-1.7-2.2z"/>
<path color="#2895ec" d="M319.5 57.7l1.7 2.1-1.3-1.8-1.6-2.3z"/>
<path color="#20a5e3" d="M317.9 55.7l1.6 2-1.2-2-1.7-2.2z"/>
<path color="#0eb2d4" d="M316.2 53.6l1.7 2.1-1.3-2.2-1.6-2.3z"/>
<path color="#0abdbe" d="M314.6 51.5l1.6 2.1-1.2-2.4-1.7-2.2z"/>
<path color="#2ec5a4" d="M312.9 49.5l1.7 2-1.3-2.5-1.7-2.2z"/>
<path color="#4ccb82" d="M311.3 47.4l1.6 2.1-1.3-2.7-1.6-2.3z"/>
<path color="#81cc59" d="M309.6 45.4l1.7 2-1.3-2.9-1.7-2.2z"/>
<path color="#b7c532" d="M308 43.3l1.6 2.1-1.3-3.1-1.6-2.3z"/>
<path color="#e5bb2d" d="M306.3 41.2l1.7 2.1-1.3-3.3-1.7-2.2z"/>
<path color="#fec338" d="M304.6 39.2l1.7 2-1.3-3.4-1.6-2.3z"/>
<path color="#e2bc2b" d="M357.2 28.9l1.7-2.9-1.3-3.6-1.6 3.1z"/>
<path color="#b7c532" d="M355.6 31.9l1.6-3-1.2-3.4-1.7 3.1z"/>
<path color="#84cb56" d="M353.9 34.8l1.7-2.9-1.3-3.3-1.6 3.1z"/>
<path color="#53cc7d" d="M352.3 37.7l1.6-2.9-1.2-3.1-1.7 3.1z"/>
<path color="#33c69e" d="M350.6 40.6l1.7-2.9-1.3-2.9-1.6 3.1z"/>
<path color="#16bfb7" d="M349 43.6l1.6-3-1.2-2.7-1.7 3.1z"/>
<path color="#04b6cd" d="M347.3 46.5l1.7-2.9-1.3-2.6-1.7 3.1z"/>
<path color="#1babde" d="M345.7 49.4l1.6-2.9-1.3-2.4-1.6 3.2z"/>
<path color="#259ce7" d="M344 52.4l1.7-3-1.3-2.1-1.7 3.1z"/>
<path color="#2c8ef2" d="M342.3 55.3l1.7-2.9-1.3-2-1.6 3.1z"/>
<path color="#317efb" d="M340.7 58.2l1.6-2.9-1.2-1.8-1.7 3.1z"/>
<path color="#3f6efe" d="M339 61.1l1.7-2.9-1.3-1.6-1.6 3.1z"/>
<path color="#465ffb" d="M337.4 64.1l1.6-3-1.2-1.4-1.7 3.1z"/>
<path color="#4852f4" d="M335.7 67l1.7-2.9-1.3-1.3-1.7 3.1z"/>
<path color="#4746ea" d="M334.1 69.9l1.6-2.9-1.3-1.1-1.6 3.1z"/>
<path color="#463ddf" d="M332.4 72.9l1.7-3-1.3-.9-1.7 3.2z"/>
<path color="#463ddf" d="M330.8 71l1.6 1.9-1.3-.7-1.6-2.1z"/>
<path color="#4746ea" d="M329.1 69.1l1.7 1.9-1.3-.9-1.7-2.1z"/>
<path color="#4852f4" d="M327.4 67.2l1.7 1.9-1.3-1.1-1.6-2z"/>
<path color="#465ffb" d="M325.8 65.3l1.6 1.9-1.2-1.2-1.7-2.1z"/>
<path color="#3f6efe" d="M324.1 63.5l1.7 1.8-1.3-1.4-1.6-2.1z"/>
<path color="#317efb" d="M322.5 61.6l1.6 1.9-1.2-1.7-1.7-2z"/>
<path color="#2c8ef2" d="M320.8 59.7l1.7 1.9-1.3-1.8-1.7-2.1z"/>
<path color="#259ce7" d="M319.2 57.8l1.6 1.9-1.3-2-1.6-2z"/>
<path color="#1babde" d="M317.5 56l1.7 1.8-1.3-2.1-1.7-2.1z"/>
<path color="#04b6cd" d="M315.8 54.1l1.7 1.9-1.3-2.4-1.6-2.1z"/>
<path color="#16bfb7" d="M314.2 52.2l1.6 1.9-1.2-2.6-1.7-2z"/>
<path color="#33c69e" d="M312.5 50.3l1.7 1.9-1.3-2.7-1.6-2.1z"/>
<path color="#53cc7d" d="M310.9 48.4l1.6 1.9-1.2-2.9-1.7-2z"/>
<path color="#84cb56" d="M309.2 46.6l1.7 1.8-1.3-3-1.6-2.1z"/>
<path color="#b7c532" d="M307.6 44.7l1.6 1.9-1.2-3.3-1.7-2.1z"/>
<path color="#e2bc2b" d="M305.9 42.8l1.7 1.9-1.3-3.5-1.7-2z"/>
<path color="#b0c636" d="M358.5 32.4l1.7-2.8-1.3-3.6-1.7 2.9z"/>
<path color="#81cc59" d="M356.9 35.1l1.6-2.7-1.3-3.5-1.6 3z"/>
<path color="#53cc7d" d="M355.2 37.9l1.7-2.8-1.3-3.2-1.7 2.9z"/>
<path color="#34c79b" d="M353.6 40.6l1.6-2.7-1.3-3.1-1.6 2.9z"/>
<path color="#1cc0b3" d="M351.9 43.4l1.7-2.8-1.3-2.9-1.7 2.9z"/>
<path color="#01b8c8" d="M350.2 46.1l1.7-2.7-1.3-2.8-1.6 3z"/>
<path color="#17aeda" d="M348.6 48.9l1.6-2.8-1.2-2.5-1.7 2.9z"/>
<path color="#22a2e4" d="M346.9 51.6l1.7-2.7-1.3-2.4-1.6 2.9z"/>
<path color="#2994ed" d="M345.3 54.4l1.6-2.8-1.2-2.2-1.7 3z"/>
<path color="#2e86f7" d="M343.6 57.1l1.7-2.7-1.3-2-1.7 2.9z"/>
<path color="#3677fe" d="M342 59.8l1.6-2.7-1.3-1.8-1.6 2.9z"/>
<path color="#4368fe" d="M340.3 62.6l1.7-2.8-1.3-1.6-1.7 2.9z"/>
<path color="#475bf9" d="M338.6 65.3l1.7-2.7-1.3-1.5-1.6 3z"/>
<path color="#484ff2" d="M337 68.1l1.6-2.8-1.2-1.2-1.7 2.9z"/>
<path color="#4745e9" d="M335.3 70.8l1.7-2.7-1.3-1.1-1.6 2.9z"/>
<path color="#463cdf" d="M333.7 73.6l1.6-2.8-1.2-.9-1.7 3z"/>
<path color="#463cdf" d="M332 71.9l1.7 1.7-1.3-.7-1.6-1.9z"/>
<path color="#4745e9" d="M330.4 70.2l1.6 1.7-1.2-.9-1.7-1.9z"/>
<path color="#484ff2" d="M328.7 68.5l1.7 1.7-1.3-1.1-1.7-1.9z"/>
<path color="#475bf9" d="M327 66.8l1.7 1.7-1.3-1.3-1.6-1.9z"/>
<path color="#4368fe" d="M325.4 65.1l1.6 1.7-1.2-1.5-1.7-1.8z"/>
<path color="#3677fe" d="M323.7 63.4l1.7 1.7-1.3-1.6-1.6-1.9z"/>
<path color="#2e86f7" d="M322.1 61.7l1.6 1.7-1.2-1.8-1.7-1.9z"/>
<path color="#2994ed" d="M320.4 60l1.7 1.7-1.3-2-1.6-1.9z"/>
<path color="#22a2e4" d="M318.8 58.3l1.6 1.7-1.2-2.2-1.7-1.8z"/>
<path color="#17aeda" d="M317.1 56.6l1.7 1.7-1.3-2.3-1.7-1.9z"/>
<path color="#01b8c8" d="M315.5 54.9l1.6 1.7-1.3-2.5-1.6-1.9z"/>
<path color="#1cc0b3" d="M313.8 53.2l1.7 1.7-1.3-2.7-1.7-1.9z"/>
<path color="#34c79b" d="M312.1 51.5l1.7 1.7-1.3-2.9-1.6-1.9z"/>
<path color="#53cc7d" d="M310.5 49.8l1.6 1.7-1.2-3.1-1.7-1.8z"/>
<path color="#81cc59" d="M308.8 48.1l1.7 1.7-1.3-3.2-1.6-1.9z"/>
<path color="#b0c636" d="M307.2 46.4l1.6 1.7-1.2-3.4-1.7-1.9z"/>
<path color="#75cc61" d="M359.8 35.8l1.6-2.5-1.2-3.7-1.7 2.8z"/>
<path color="#4ccb82" d="M358.1 38.4l1.7-2.6-1.3-3.4-1.6 2.7z"/>
<path color="#33c69e" d="M356.5 41l1.6-2.6-1.2-3.3-1.7 2.8z"/>
<path color="#1cc0b3" d="M354.8 43.5l1.7-2.5-1.3-3.1-1.6 2.7z"/>
<path color="#01b9c7" d="M353.2 46.1l1.6-2.6-1.2-2.9-1.7 2.8z"/>
<path color="#13b0d7" d="M351.5 48.6l1.7-2.5-1.3-2.7-1.7 2.7z"/>
<path color="#20a5e2" d="M349.8 51.2l1.7-2.6-1.3-2.5-1.6 2.8z"/>
<path color="#2699e9" d="M348.2 53.8l1.6-2.6-1.2-2.3-1.7 2.7z"/>
<path color="#2d8cf3" d="M346.5 56.3l1.7-2.5-1.3-2.2-1.6 2.8z"/>
<path color="#307ffb" d="M344.9 58.9l1.6-2.6-1.2-1.9-1.7 2.7z"/>
<path color="#3d70ff" d="M343.2 61.5l1.7-2.6-1.3-1.8-1.6 2.7z"/>
<path color="#4563fd" d="M341.6 64l1.6-2.5-1.2-1.7-1.7 2.8z"/>
<path color="#4758f8" d="M339.9 66.6l1.7-2.6-1.3-1.4-1.7 2.7z"/>
<path color="#484df0" d="M338.3 69.2l1.6-2.6-1.3-1.3-1.6 2.8z"/>
<path color="#4744e8" d="M336.6 71.7l1.7-2.5-1.3-1.1-1.7 2.7z"/>
<path color="#463cde" d="M334.9 74.3l1.7-2.6-1.3-.9-1.6 2.8z"/>
<path color="#463cde" d="M333.3 72.8l1.6 1.5-1.2-.7-1.7-1.7z"/>
<path color="#4744e8" d="M331.6 71.3l1.7 1.5-1.3-.9-1.6-1.7z"/>
<path color="#484df0" d="M330 69.7l1.6 1.6-1.2-1.1-1.7-1.7z"/>
<path color="#4758f8" d="M328.3 68.2l1.7 1.5-1.3-1.2-1.7-1.7z"/>
<path color="#4563fd" d="M326.7 66.7l1.6 1.5-1.3-1.4-1.6-1.7z"/>
<path color="#3d70ff" d="M325 65.2l1.7 1.5-1.3-1.6-1.7-1.7z"/>
<path color="#307ffb" d="M323.3 63.7l1.7 1.5-1.3-1.8-1.6-1.7z"/>
<path color="#2d8cf3" d="M321.7 62.2l1.6 1.5-1.2-2-1.7-1.7z"/>
<path color="#2699e9" d="M320 60.7l1.7 1.5-1.3-2.2-1.6-1.7z"/>
<path color="#20a5e2" d="M318.4 59.1l1.6 1.6-1.2-2.4-1.7-1.7z"/>
<path color="#13b0d7" d="M316.7 57.6l1.7 1.5-1.3-2.5-1.6-1.7z"/>
<path color="#01b9c7" d="M315.1 56.1l1.6 1.5-1.2-2.7-1.7-1.7z"/>
<path color="#1cc0b3" d="M313.4 54.6l1.7 1.5-1.3-2.9-1.7-1.7z"/>
<path color="#33c69e" d="M311.8 53.1l1.6 1.5-1.3-3.1-1.6-1.7z"/>
<path color="#4ccb82" d="M310.1 51.6l1.7 1.5-1.3-3.3-1.7-1.7z"/>
<path color="#75cc61" d="M308.4 50.1l1.7 1.5-1.3-3.5-1.6-1.7z"/>
<path color="#41ca8c" d="M361.1 39.3l1.6-2.4-1.3-3.6-1.6 2.5z"/>
<path color="#2ec5a4" d="M359.4 41.7l1.7-2.4-1.3-3.5-1.7 2.6z"/>
<path color="#16bfb7" d="M357.7 44l1.7-2.3-1.3-3.3-1.6 2.6z"/>
<path color="#01b8c8" d="M356.1 46.4l1.6-2.4-1.2-3-1.7 2.5z"/>
<path color="#13b0d7" d="M354.4 48.8l1.7-2.4-1.3-2.9-1.6 2.6z"/>
<path color="#1fa6e2" d="M352.8 51.2l1.6-2.4-1.2-2.7-1.7 2.5z"/>
<path color="#259be8" d="M351.1 53.6l1.7-2.4-1.3-2.6-1.7 2.6z"/>
<path color="#2c8ff0" d="M349.5 55.9l1.6-2.3-1.3-2.4-1.6 2.6z"/>
<path color="#2e83f9" d="M347.8 58.3l1.7-2.4-1.3-2.1-1.7 2.5z"/>
<path color="#3777fe" d="M346.2 60.7l1.6-2.4-1.3-2-1.6 2.6z"/>
<path color="#426afe" d="M344.5 63.1l1.7-2.4-1.3-1.8-1.7 2.6z"/>
<path color="#465ffb" d="M342.8 65.5l1.7-2.4-1.3-1.6-1.6 2.5z"/>
<path color="#4854f6" d="M341.2 67.9l1.6-2.4-1.2-1.5-1.7 2.6z"/>
<path color="#484bee" d="M339.5 70.2l1.7-2.3-1.3-1.3-1.6 2.6z"/>
<path color="#4742e6" d="M337.9 72.6l1.6-2.4-1.2-1-1.7 2.5z"/>
<path color="#463bde" d="M336.2 75l1.7-2.4-1.3-.9-1.7 2.6z"/>
<path color="#463bde" d="M334.6 73.7l1.6 1.3-1.3-.7-1.6-1.5z"/>
<path color="#4742e6" d="M332.9 72.3l1.7 1.4-1.3-.9-1.7-1.5z"/>
<path color="#484bee" d="M331.2 71l1.7 1.3-1.3-1-1.6-1.6z"/>
<path color="#4854f6" d="M329.6 69.7l1.6 1.3-1.2-1.3-1.7-1.5z"/>
<path color="#465ffb" d="M327.9 68.3l1.7 1.4-1.3-1.5-1.6-1.5z"/>
<path color="#426afe" d="M326.3 67l1.6 1.3-1.2-1.6-1.7-1.5z"/>
<path color="#3777fe" d="M324.6 65.7l1.7 1.3-1.3-1.8-1.7-1.5z"/>
<path color="#2e83f9" d="M323 64.3l1.6 1.4-1.3-2-1.6-1.5z"/>
<path color="#2c8ff0" d="M321.3 63l1.7 1.3-1.3-2.1-1.7-1.5z"/>
<path color="#259be8" d="M319.6 61.7l1.7 1.3-1.3-2.3-1.6-1.6z"/>
<path color="#1fa6e2" d="M318 60.4l1.6 1.3-1.2-2.6-1.7-1.5z"/>
<path color="#13b0d7" d="M316.3 59l1.7 1.4-1.3-2.8-1.6-1.5z"/>
<path color="#01b8c8" d="M314.7 57.7l1.6 1.3-1.2-2.9-1.7-1.5z"/>
<path color="#16bfb7" d="M313 56.4l1.7 1.3-1.3-3.1-1.6-1.5z"/>
<path color="#2ec5a4" d="M311.4 55l1.6 1.4-1.2-3.3-1.7-1.5z"/>
<path color="#41ca8c" d="M309.7 53.7l1.7 1.3-1.3-3.4-1.7-1.5z"/>
<path color="#26c2ad" d="M362.3 42.7l1.7-2.2-1.3-3.6-1.6 2.4z"/>
<path color="#0abdbe" d="M360.7 44.9l1.6-2.2-1.2-3.4-1.7 2.4z"/>
<path color="#04b6cd" d="M359 47.1l1.7-2.2-1.3-3.2-1.7 2.3z"/>
<path color="#17aeda" d="M357.4 49.3l1.6-2.2-1.3-3.1-1.6 2.4z"/>
<path color="#20a5e2" d="M355.7 51.5l1.7-2.2-1.3-2.9-1.7 2.4z"/>
<path color="#259be8" d="M354 53.7l1.7-2.2-1.3-2.7-1.6 2.4z"/>
<path color="#2b90f0" d="M352.4 55.9l1.6-2.2-1.2-2.5-1.7 2.4z"/>
<path color="#2e85f8" d="M350.7 58.1l1.7-2.2-1.3-2.3-1.6 2.3z"/>
<path color="#337afd" d="M349.1 60.3l1.6-2.2-1.2-2.2-1.7 2.4z"/>
<path color="#3f6eff" d="M347.4 62.5l1.7-2.2-1.3-2-1.6 2.4z"/>
<path color="#4564fd" d="M345.8 64.7l1.6-2.2-1.2-1.8-1.7 2.4z"/>
<path color="#475af9" d="M344.1 66.9l1.7-2.2-1.3-1.6-1.7 2.4z"/>
<path color="#4851f3" d="M342.4 69.1l1.7-2.2-1.3-1.4-1.6 2.4z"/>
<path color="#4849ed" d="M340.8 71.3l1.6-2.2-1.2-1.2-1.7 2.3z"/>
<path color="#4741e5" d="M339.1 73.5l1.7-2.2-1.3-1.1-1.6 2.4z"/>
<path color="#463bdd" d="M337.5 75.7l1.6-2.2-1.2-.9-1.7 2.4z"/>
<path color="#463bdd" d="M335.8 74.6l1.7 1.1-1.3-.7-1.6-1.3z"/>
<path color="#4741e5" d="M334.2 73.4l1.6 1.2-1.2-.9-1.7-1.4z"/>
<path color="#4849ed" d="M332.5 72.3l1.7 1.1-1.3-1.1-1.7-1.3z"/>
<path color="#4851f3" d="M330.9 71.1l1.6 1.2-1.3-1.3-1.6-1.3z"/>
<path color="#475af9" d="M329.2 70l1.7 1.1-1.3-1.4-1.7-1.4z"/>
<path color="#4564fd" d="M327.5 68.8l1.7 1.2-1.3-1.7-1.6-1.3z"/>
<path color="#3f6eff" d="M325.9 67.7l1.6 1.1-1.2-1.8-1.7-1.3z"/>
<path color="#337afd" d="M324.2 66.5l1.7 1.2-1.3-2-1.6-1.4z"/>
<path color="#2e85f8" d="M322.6 65.4l1.6 1.1-1.2-2.2-1.7-1.3z"/>
<path color="#2b90f0" d="M320.9 64.2l1.7 1.2-1.3-2.4-1.7-1.3z"/>
<path color="#259be8" d="M319.3 63.1l1.6 1.1-1.3-2.5-1.6-1.3z"/>
<path color="#20a5e2" d="M317.6 61.9l1.7 1.2-1.3-2.7-1.7-1.4z"/>
<path color="#17aeda" d="M316 60.8l1.6 1.1-1.3-2.9-1.6-1.3z"/>
<path color="#04b6cd" d="M314.3 59.6l1.7 1.2-1.3-3.1-1.7-1.3z"/>
<path color="#0abdbe" d="M312.6 58.5l1.7 1.1-1.3-3.2-1.6-1.4z"/>
<path color="#26c2ad" d="M311 57.3l1.6 1.2-1.2-3.5-1.7-1.3z"/>
<path color="#01b9c7" d="M363.6 46.2l1.6-2-1.2-3.7-1.7 2.2z"/>
<path color="#0eb2d4" d="M361.9 48.2l1.7-2-1.3-3.5-1.6 2.2z"/>
<path color="#1babde" d="M360.3 50.2l1.6-2-1.2-3.3-1.7 2.2z"/>
<path color="#22a2e4" d="M358.6 52.2l1.7-2-1.3-3.1-1.6 2.2z"/>
<path color="#2699e9" d="M357 54.2l1.6-2-1.2-2.9-1.7 2.2z"/>
<path color="#2c8ff0" d="M355.3 56.3l1.7-2.1-1.3-2.7-1.7 2.2z"/>
<path color="#2e85f8" d="M353.7 58.3l1.6-2-1.3-2.6-1.6 2.2z"/>
<path color="#327bfc" d="M352 60.3l1.7-2-1.3-2.4-1.7 2.2z"/>
<path color="#3d71ff" d="M350.3 62.3l1.7-2-1.3-2.2-1.6 2.2z"/>
<path color="#4367fd" d="M348.7 64.3l1.6-2-1.2-2-1.7 2.2z"/>
<path color="#465efb" d="M347 66.3l1.7-2-1.3-1.8-1.6 2.2z"/>
<path color="#4756f6" d="M345.4 68.4l1.6-2.1-1.2-1.6-1.7 2.2z"/>
<path color="#484ef1" d="M343.7 70.4l1.7-2-1.3-1.5-1.7 2.2z"/>
<path color="#4746eb" d="M342.1 72.4l1.6-2-1.3-1.3-1.6 2.2z"/>
<path color="#4740e4" d="M340.4 74.4l1.7-2-1.3-1.1-1.7 2.2z"/>
<path color="#463bdc" d="M338.8 76.4l1.6-2-1.3-.9-1.6 2.2z"/>
<path color="#463bdc" d="M337.1 75.5l1.7 .9-1.3-.7-1.7-1.1z"/>
<path color="#4740e4" d="M335.4 74.5l1.7 1-1.3-.9-1.6-1.2z"/>
<path color="#4746eb" d="M333.8 73.5l1.6 1-1.2-1.1-1.7-1.1z"/>
<path color="#484ef1" d="M332.1 72.6l1.7 .9-1.3-1.2-1.6-1.2z"/>
<path color="#4756f6" d="M330.5 71.6l1.6 1-1.2-1.5-1.7-1.1z"/>
<path color="#465efb" d="M328.8 70.6l1.7 1-1.3-1.6-1.7-1.2z"/>
<path color="#4367fd" d="M327.2 69.7l1.6 .9-1.3-1.8-1.6-1.1z"/>
<path color="#3d71ff" d="M325.5 68.7l1.7 1-1.3-2-1.7-1.2z"/>
<path color="#327bfc" d="M323.8 67.7l1.7 1-1.3-2.2-1.6-1.1z"/>
<path color="#2e85f8" d="M322.2 66.8l1.6 .9-1.2-2.3-1.7-1.2z"/>
<path color="#2c8ff0" d="M320.5 65.8l1.7 1-1.3-2.6-1.6-1.1z"/>
<path color="#2699e9" d="M318.9 64.8l1.6 1-1.2-2.7-1.7-1.2z"/>
<path color="#22a2e4" d="M317.2 63.9l1.7 .9-1.3-2.9-1.6-1.1z"/>
<path color="#1babde" d="M315.6 62.9l1.6 1-1.2-3.1-1.7-1.2z"/>
<path color="#0eb2d4" d="M313.9 61.9l1.7 1-1.3-3.3-1.7-1.1z"/>
<path color="#01b9c7" d="M312.2 61l1.7 .9-1.3-3.4-1.6-1.2z"/>
<path color="#19acdc" d="M364.9 49.6l1.6-1.8-1.3-3.6-1.6 2z"/>
<path color="#20a5e3" d="M363.2 51.5l1.7-1.9-1.3-3.4-1.7 2z"/>
<path color="#259ce7" d="M361.6 53.3l1.6-1.8-1.3-3.3-1.6 2z"/>
<path color="#2994ed" d="M359.9 55.1l1.7-1.8-1.3-3.1-1.7 2z"/>
<path color="#2d8cf3" d="M358.2 57l1.7-1.9-1.3-2.9-1.6 2z"/>
<path color="#2e83f9" d="M356.6 58.8l1.6-1.8-1.2-2.8-1.7 2.1z"/>
<path color="#337afd" d="M354.9 60.6l1.7-1.8-1.3-2.5-1.6 2z"/>
<path color="#3d71ff" d="M353.3 62.5l1.6-1.9-1.2-2.3-1.7 2z"/>
<path color="#4368fe" d="M351.6 64.3l1.7-1.8-1.3-2.2-1.7 2z"/>
<path color="#4660fb" d="M350 66.1l1.6-1.8-1.3-2-1.6 2z"/>
<path color="#4758f8" d="M348.3 68l1.7-1.9-1.3-1.8-1.7 2z"/>
<path color="#4851f3" d="M346.6 69.8l1.7-1.8-1.3-1.7-1.6 2.1z"/>
<path color="#484bee" d="M345 71.6l1.6-1.8-1.2-1.4-1.7 2z"/>
<path color="#4744e8" d="M343.3 73.5l1.7-1.9-1.3-1.2-1.6 2z"/>
<path color="#473fe2" d="M341.7 75.3l1.6-1.8-1.2-1.1-1.7 2z"/>
<path color="#463bdc" d="M340 77.1l1.7-1.8-1.3-.9-1.6 2z"/>
<path color="#463bdc" d="M338.4 76.3l1.6 .8-1.2-.7-1.7-.9z"/>
<path color="#473fe2" d="M336.7 75.6l1.7 .7-1.3-.8-1.7-1z"/>
<path color="#4744e8" d="M335 74.8l1.7 .8-1.3-1.1-1.6-1z"/>
<path color="#484bee" d="M333.4 74l1.6 .8-1.2-1.3-1.7-.9z"/>
<path color="#4851f3" d="M331.7 73.2l1.7 .8-1.3-1.4-1.6-1z"/>
<path color="#4758f8" d="M330.1 72.4l1.6 .8-1.2-1.6-1.7-1z"/>
<path color="#4660fb" d="M328.4 71.6l1.7 .8-1.3-1.8-1.6-.9z"/>
<path color="#4368fe" d="M326.8 70.9l1.6 .7-1.2-1.9-1.7-1z"/>
<path color="#3d71ff" d="M325.1 70.1l1.7 .8-1.3-2.2-1.7-1z"/>
<path color="#337afd" d="M323.5 69.3l1.6 .8-1.3-2.4-1.6-.9z"/>
<path color="#2e83f9" d="M321.8 68.5l1.7 .8-1.3-2.5-1.7-1z"/>
<path color="#2d8cf3" d="M320.1 67.7l1.7 .8-1.3-2.7-1.6-1z"/>
<path color="#2994ed" d="M318.5 66.9l1.6 .8-1.2-2.9-1.7-.9z"/>
<path color="#259ce7" d="M316.8 66.2l1.7 .7-1.3-3-1.6-1z"/>
<path color="#20a5e3" d="M315.2 65.4l1.6 .8-1.2-3.3-1.7-1z"/>
<path color="#19acdc" d="M313.5 64.6l1.7 .8-1.3-3.5-1.7-.9z"/>
<path color="#259ce7" d="M366.1 53.1l1.7-1.7-1.3-3.6-1.6 1.8z"/>
<path color="#2895ec" d="M364.5 54.7l1.6-1.6-1.2-3.5-1.7 1.9z"/>
<path color="#2c8ef2" d="M362.8 56.4l1.7-1.7-1.3-3.2-1.6 1.8z"/>
<path color="#2e86f7" d="M361.2 58l1.6-1.6-1.2-3.1-1.7 1.8z"/>
<path color="#307ffb" d="M359.5 59.7l1.7-1.7-1.3-2.9-1.7 1.9z"/>
<path color="#3777fe" d="M357.8 61.3l1.7-1.6-1.3-2.7-1.6 1.8z"/>
<path color="#3f6eff" d="M356.2 63l1.6-1.7-1.2-2.5-1.7 1.8z"/>
<path color="#4367fd" d="M354.5 64.6l1.7-1.6-1.3-2.4-1.6 1.9z"/>
<path color="#4660fb" d="M352.9 66.3l1.6-1.7-1.2-2.1-1.7 1.8z"/>
<path color="#4759f9" d="M351.2 67.9l1.7-1.6-1.3-2-1.6 1.8z"/>
<path color="#4853f5" d="M349.6 69.6l1.6-1.7-1.2-1.8-1.7 1.9z"/>
<path color="#484df0" d="M347.9 71.2l1.7-1.6-1.3-1.6-1.7 1.8z"/>
<path color="#4747ec" d="M346.3 72.9l1.6-1.7-1.3-1.4-1.6 1.8z"/>
<path color="#4742e6" d="M344.6 74.5l1.7-1.6-1.3-1.3-1.7 1.9z"/>
<path color="#463ee1" d="M342.9 76.2l1.7-1.7-1.3-1-1.6 1.8z"/>
<path color="#463adb" d="M341.3 77.8l1.6-1.6-1.2-.9-1.7 1.8z"/>
<path color="#463adb" d="M339.6 77.2l1.7 .6-1.3-.7-1.6-.8z"/>
<path color="#463ee1" d="M338 76.6l1.6 .6-1.2-.9-1.7-.7z"/>
<path color="#4742e6" d="M336.3 76l1.7 .6-1.3-1-1.7-.8z"/>
<path color="#4747ec" d="M334.7 75.4l1.6 .6-1.3-1.2-1.6-.8z"/>
<path color="#484df0" d="M333 74.8l1.7 .6-1.3-1.4-1.7-.8z"/>
<path color="#4853f5" d="M331.3 74.2l1.7 .6-1.3-1.6-1.6-.8z"/>
<path color="#4759f9" d="M329.7 73.6l1.6 .6-1.2-1.8-1.7-.8z"/>
<path color="#4660fb" d="M328 73l1.7 .6-1.3-2-1.6-.7z"/>
<path color="#4367fd" d="M326.4 72.4l1.6 .6-1.2-2.1-1.7-.8z"/>
<path color="#3f6eff" d="M324.7 71.8l1.7 .6-1.3-2.3-1.6-.8z"/>
<path color="#3777fe" d="M323.1 71.2l1.6 .6-1.2-2.5-1.7-.8z"/>
<path color="#307ffb" d="M321.4 70.6l1.7 .6-1.3-2.7-1.7-.8z"/>
<path color="#2e86f7" d="M319.8 70l1.6 .6-1.3-2.9-1.6-.8z"/>
<path color="#2c8ef2" d="M318.1 69.4l1.7 .6-1.3-3.1-1.7-.7z"/>
<path color="#2895ec" d="M316.4 68.8l1.7 .6-1.3-3.2-1.6-.8z"/>
<path color="#259ce7" d="M314.8 68.2l1.6 .6-1.2-3.4-1.7-.8z"/>
<path color="#2d8bf4" d="M367.4 56.5l1.7-1.4-1.3-3.7-1.7 1.7z"/>
<path color="#2e85f8" d="M365.7 58l1.7-1.5-1.3-3.4-1.6 1.6z"/>
<path color="#317efb" d="M364.1 59.5l1.6-1.5-1.2-3.3-1.7 1.7z"/>
<path color="#3677fe" d="M362.4 60.9l1.7-1.4-1.3-3.1-1.6 1.6z"/>
<path color="#3d70ff" d="M360.8 62.4l1.6-1.5-1.2-2.9-1.7 1.7z"/>
<path color="#426afe" d="M359.1 63.9l1.7-1.5-1.3-2.7-1.7 1.6z"/>
<path color="#4564fd" d="M357.5 65.3l1.6-1.4-1.3-2.6-1.6 1.7z"/>
<path color="#465efb" d="M355.8 66.8l1.7-1.5-1.3-2.3-1.7 1.6z"/>
<path color="#4758f8" d="M354.2 68.3l1.6-1.5-1.3-2.2-1.6 1.7z"/>
<path color="#4853f5" d="M352.5 69.7l1.7-1.4-1.3-2-1.7 1.6z"/>
<path color="#484ef1" d="M350.8 71.2l1.7-1.5-1.3-1.8-1.6 1.7z"/>
<path color="#4849ed" d="M349.2 72.7l1.6-1.5-1.2-1.6-1.7 1.6z"/>
<path color="#4745e9" d="M347.5 74.1l1.7-1.4-1.3-1.5-1.6 1.7z"/>
<path color="#4740e4" d="M345.9 75.6l1.6-1.5-1.2-1.2-1.7 1.6z"/>
<path color="#463ddf" d="M344.2 77.1l1.7-1.5-1.3-1.1-1.7 1.7z"/>
<path color="#463adb" d="M342.6 78.5l1.6-1.4-1.3-.9-1.6 1.6z"/>
<path color="#463adb" d="M340.9 78.1l1.7 .4-1.3-.7-1.7-.6z"/>
<path color="#463ddf" d="M339.2 77.7l1.7 .4-1.3-.9-1.6-.6z"/>
<path color="#4740e4" d="M337.6 77.3l1.6 .4-1.2-1.1-1.7-.6z"/>
<path color="#4745e9" d="M335.9 76.9l1.7 .4-1.3-1.3-1.6-.6z"/>
<path color="#4849ed" d="M334.3 76.5l1.6 .4-1.2-1.5-1.7-.6z"/>
<path color="#484ef1" d="M332.6 76l1.7 .5-1.3-1.7-1.7-.6z"/>
<path color="#4853f5" d="M331 75.6l1.6 .4-1.3-1.8-1.6-.6z"/>
<path color="#4758f8" d="M329.3 75.2l1.7 .4-1.3-2-1.7-.6z"/>
<path color="#465efb" d="M327.6 74.8l1.7 .4-1.3-2.2-1.6-.6z"/>
<path color="#4564fd" d="M326 74.4l1.6 .4-1.2-2.4-1.7-.6z"/>
<path color="#426afe" d="M324.3 74l1.7 .4-1.3-2.6-1.6-.6z"/>
<path color="#3d70ff" d="M322.7 73.5l1.6 .5-1.2-2.8-1.7-.6z"/>
<path color="#3677fe" d="M321 73.1l1.7 .4-1.3-2.9-1.6-.6z"/>
<path color="#317efb" d="M319.4 72.7l1.6 .4-1.2-3.1-1.7-.6z"/>
<path color="#2e85f8" d="M317.7 72.3l1.7 .4-1.3-3.3-1.7-.6z"/>
<path color="#2d8bf4" d="M316.1 71.9l1.6 .4-1.3-3.5-1.6-.6z"/>
<path color="#3579fd" d="M368.7 60l1.6-1.3-1.2-3.6-1.7 1.4z"/>
<path color="#3a73fe" d="M367 61.3l1.7-1.3-1.3-3.5-1.7 1.5z"/>
<path color="#3f6efe" d="M365.4 62.6l1.6-1.3-1.3-3.3-1.6 1.5z"/>
<path color="#4368fe" d="M363.7 63.8l1.7-1.2-1.3-3.1-1.7 1.4z"/>
<path color="#4563fd" d="M362 65.1l1.7-1.3-1.3-2.9-1.6 1.5z"/>
<path color="#465ffb" d="M360.4 66.4l1.6-1.3-1.2-2.7-1.7 1.5z"/>
<path color="#475af9" d="M358.7 67.7l1.7-1.3-1.3-2.5-1.6 1.4z"/>
<path color="#4756f6" d="M357.1 69l1.6-1.3-1.2-2.4-1.7 1.5z"/>
<path color="#4851f3" d="M355.4 70.3l1.7-1.3-1.3-2.2-1.6 1.5z"/>
<path color="#484df0" d="M353.8 71.5l1.6-1.2-1.2-2-1.7 1.4z"/>
<path color="#4849ed" d="M352.1 72.8l1.7-1.3-1.3-1.8-1.7 1.5z"/>
<path color="#4745e9" d="M350.4 74.1l1.7-1.3-1.3-1.6-1.6 1.5z"/>
<path color="#4742e6" d="M348.8 75.4l1.6-1.3-1.2-1.4-1.7 1.4z"/>
<path color="#473fe2" d="M347.1 76.7l1.7-1.3-1.3-1.3-1.6 1.5z"/>
<path color="#463cde" d="M345.5 78l1.6-1.3-1.2-1.1-1.7 1.5z"/>
<path color="#463ada" d="M343.8 79.3l1.7-1.3-1.3-.9-1.6 1.4z"/>
<path color="#463ada" d="M342.2 79l1.6 .3-1.2-.8-1.7-.4z"/>
<path color="#463cde" d="M340.5 78.8l1.7 .2-1.3-.9-1.7-.4z"/>
<path color="#473fe2" d="M338.9 78.6l1.6 .2-1.3-1.1-1.6-.4z"/>
<path color="#4742e6" d="M337.2 78.3l1.7 .3-1.3-1.3-1.7-.4z"/>
<path color="#4745e9" d="M335.5 78.1l1.7 .2-1.3-1.4-1.6-.4z"/>
<path color="#4849ed" d="M333.9 77.8l1.6 .3-1.2-1.6-1.7-.5z"/>
<path color="#484df0" d="M332.2 77.6l1.7 .2-1.3-1.8-1.6-.4z"/>
<path color="#4851f3" d="M330.6 77.4l1.6 .2-1.2-2-1.7-.4z"/>
<path color="#4756f6" d="M328.9 77.1l1.7 .3-1.3-2.2-1.7-.4z"/>
<path color="#475af9" d="M327.3 76.9l1.6 .2-1.3-2.3-1.6-.4z"/>
<path color="#465ffb" d="M325.6 76.7l1.7 .2-1.3-2.5-1.7-.4z"/>
<path color="#4563fd" d="M324 76.4l1.6 .3-1.3-2.7-1.6-.5z"/>
<path color="#4368fe" d="M322.3 76.2l1.7 .2-1.3-2.9-1.7-.4z"/>
<path color="#3f6efe" d="M320.6 76l1.7 .2-1.3-3.1-1.6-.4z"/>
<path color="#3a73fe" d="M319 75.7l1.6 .3-1.2-3.3-1.7-.4z"/>
<path color="#3579fd" d="M317.3 75.5l1.7 .2-1.3-3.4-1.6-.4z"/>
<path color="#4367fd" d="M369.9 63.4l1.7-1.1-1.3-3.6-1.6 1.3z"/>
<path color="#4563fc" d="M368.3 64.5l1.6-1.1-1.2-3.4-1.7 1.3z"/>
<path color="#465ffb" d="M366.6 65.6l1.7-1.1-1.3-3.2-1.6 1.3z"/>
<path color="#475bf9" d="M365 66.7l1.6-1.1-1.2-3-1.7 1.2z"/>
<path color="#4758f8" d="M363.3 67.8l1.7-1.1-1.3-2.9-1.7 1.3z"/>
<path color="#4854f6" d="M361.7 68.9l1.6-1.1-1.3-2.7-1.6 1.3z"/>
<path color="#4851f3" d="M360 70l1.7-1.1-1.3-2.5-1.7 1.3z"/>
<path color="#484ef1" d="M358.3 71.2l1.7-1.2-1.3-2.3-1.6 1.3z"/>
<path color="#484bee" d="M356.7 72.3l1.6-1.1-1.2-2.2-1.7 1.3z"/>
<path color="#4747ec" d="M355 73.4l1.7-1.1-1.3-2-1.6 1.2z"/>
<path color="#4745e9" d="M353.4 74.5l1.6-1.1-1.2-1.9-1.7 1.3z"/>
<path color="#4742e6" d="M351.7 75.6l1.7-1.1-1.3-1.7-1.7 1.3z"/>
<path color="#473fe3" d="M350.1 76.7l1.6-1.1-1.3-1.5-1.6 1.3z"/>
<path color="#463de0" d="M348.4 77.8l1.7-1.1-1.3-1.3-1.7 1.3z"/>
<path color="#463bdd" d="M346.8 78.9l1.6-1.1-1.3-1.1-1.6 1.3z"/>
<path color="#4639da" d="M345.1 80l1.7-1.1-1.3-.9-1.7 1.3z"/>
<path color="#4639da" d="M343.4 79.9l1.7 .1-1.3-.7-1.6-.3z"/>
<path color="#463bdd" d="M341.8 79.9l1.6 0-1.2-.9-1.7-.2z"/>
<path color="#463de0" d="M340.1 79.8l1.7 .1-1.3-1.1-1.6-.2z"/>
<path color="#473fe3" d="M338.5 79.8l1.6 0-1.2-1.2-1.7-.3z"/>
<path color="#4742e6" d="M336.8 79.7l1.7 .1-1.3-1.5-1.7-.2z"/>
<path color="#4745e9" d="M335.2 79.7l1.6 0-1.3-1.6-1.6-.3z"/>
<path color="#4747ec" d="M333.5 79.6l1.7 .1-1.3-1.9-1.7-.2z"/>
<path color="#484bee" d="M331.8 79.6l1.7 0-1.3-2-1.6-.2z"/>
<path color="#484ef1" d="M330.2 79.5l1.6 .1-1.2-2.2-1.7-.3z"/>
<path color="#4851f3" d="M328.5 79.4l1.7 .1-1.3-2.4-1.6-.2z"/>
<path color="#4854f6" d="M326.9 79.4l1.6 0-1.2-2.5-1.7-.2z"/>
<path color="#4758f8" d="M325.2 79.3l1.7 .1-1.3-2.7-1.6-.3z"/>
<path color="#475bf9" d="M323.6 79.3l1.6 0-1.2-2.9-1.7-.2z"/>
<path color="#465ffb" d="M321.9 79.2l1.7 .1-1.3-3.1-1.7-.2z"/>
<path color="#4563fc" d="M320.2 79.2l1.7 0-1.3-3.2-1.6-.3z"/>
<path color="#4367fd" d="M318.6 79.1l1.6 .1-1.2-3.5-1.7-.2z"/>
<path color="#4757f7" d="M371.2 66.9l1.7-.9-1.3-3.7-1.7 1.1z"/>
<path color="#4854f6" d="M369.6 67.8l1.6-.9-1.3-3.5-1.6 1.1z"/>
<path color="#4852f4" d="M367.9 68.7l1.7-.9-1.3-3.3-1.7 1.1z"/>
<path color="#484ff2" d="M366.2 69.6l1.7-.9-1.3-3.1-1.6 1.1z"/>
<path color="#484df0" d="M364.6 70.6l1.6-1-1.2-2.9-1.7 1.1z"/>
<path color="#484bee" d="M362.9 71.5l1.7-.9-1.3-2.8-1.6 1.1z"/>
<path color="#4849ed" d="M361.3 72.4l1.6-.9-1.2-2.6-1.7 1.1z"/>
<path color="#4746eb" d="M359.6 73.3l1.7-.9-1.3-2.4-1.7 1.2z"/>
<path color="#4744e8" d="M358 74.2l1.6-.9-1.3-2.1-1.6 1.1z"/>
<path color="#4742e6" d="M356.3 75.2l1.7-1-1.3-1.9-1.7 1.1z"/>
<path color="#4740e4" d="M354.6 76.1l1.7-.9-1.3-1.8-1.6 1.1z"/>
<path color="#473fe2" d="M353 77l1.6-.9-1.2-1.6-1.7 1.1z"/>
<path color="#463de0" d="M351.3 77.9l1.7-.9-1.3-1.4-1.6 1.1z"/>
<path color="#463bde" d="M349.7 78.8l1.6-.9-1.2-1.2-1.7 1.1z"/>
<path color="#463adb" d="M348 79.8l1.7-1-1.3-1-1.6 1.1z"/>
<path color="#4639da" d="M346.4 80.7l1.6-.9-1.2-.9-1.7 1.1z"/>
<path color="#4639da" d="M344.7 80.8l1.7-.1-1.3-.7-1.7-.1z"/>
<path color="#463adb" d="M343 80.9l1.7-.1-1.3-.9-1.6 0z"/>
<path color="#463bde" d="M341.4 81.1l1.6-.2-1.2-1-1.7-.1z"/>
<path color="#463de0" d="M339.7 81.2l1.7-.1-1.3-1.3-1.6 0z"/>
<path color="#473fe2" d="M338.1 81.3l1.6-.1-1.2-1.4-1.7-.1z"/>
<path color="#4740e4" d="M336.4 81.5l1.7-.2-1.3-1.6-1.6 0z"/>
<path color="#4742e6" d="M334.8 81.6l1.6-.1-1.2-1.8-1.7-.1z"/>
<path color="#4744e8" d="M333.1 81.7l1.7-.1-1.3-2-1.7 0z"/>
<path color="#4746eb" d="M331.5 81.9l1.6-.2-1.3-2.1-1.6-.1z"/>
<path color="#4849ed" d="M329.8 82l1.7-.1-1.3-2.4-1.7-.1z"/>
<path color="#484bee" d="M328.1 82.1l1.7-.1-1.3-2.6-1.6 0z"/>
<path color="#484df0" d="M326.5 82.2l1.6-.1-1.2-2.7-1.7-.1z"/>
<path color="#484ff2" d="M324.8 82.4l1.7-.2-1.3-2.9-1.6 0z"/>
<path color="#4852f4" d="M323.2 82.5l1.6-.1-1.2-3.1-1.7-.1z"/>
<path color="#4854f6" d="M321.5 82.6l1.7-.1-1.3-3.3-1.7 0z"/>
<path color="#4757f7" d="M319.9 82.8l1.6-.2-1.3-3.4-1.6-.1z"/>
<path color="#4849ed" d="M372.5 70.3l1.6-.7-1.2-3.6-1.7 .9z"/>
<path color="#4747ec" d="M370.8 71.1l1.7-.8-1.3-3.4-1.6 .9z"/>
<path color="#4746ea" d="M369.2 71.8l1.6-.7-1.2-3.3-1.7 .9z"/>
<path color="#4745e9" d="M367.5 72.5l1.7-.7-1.3-3.1-1.7 .9z"/>
<path color="#4744e8" d="M365.8 73.3l1.7-.8-1.3-2.9-1.6 1z"/>
<path color="#4742e6" d="M364.2 74l1.6-.7-1.2-2.7-1.7 .9z"/>
<path color="#4741e5" d="M362.5 74.8l1.7-.8-1.3-2.5-1.6 .9z"/>
<path color="#4740e4" d="M360.9 75.5l1.6-.7-1.2-2.4-1.7 .9z"/>
<path color="#473fe2" d="M359.2 76.2l1.7-.7-1.3-2.2-1.6 .9z"/>
<path color="#463ee1" d="M357.6 77l1.6-.8-1.2-2-1.7 1z"/>
<path color="#463ddf" d="M355.9 77.7l1.7-.7-1.3-1.8-1.7 .9z"/>
<path color="#463cde" d="M354.3 78.4l1.6-.7-1.3-1.6-1.6 .9z"/>
<path color="#463bdd" d="M352.6 79.2l1.7-.8-1.3-1.4-1.7 .9z"/>
<path color="#463adb" d="M350.9 79.9l1.7-.7-1.3-1.3-1.6 .9z"/>
<path color="#463ada" d="M349.3 80.7l1.6-.8-1.2-1.1-1.7 1z"/>
<path color="#4639d9" d="M347.6 81.4l1.7-.7-1.3-.9-1.6 .9z"/>
<path color="#4639d9" d="M346 81.7l1.6-.3-1.2-.7-1.7 .1z"/>
<path color="#463ada" d="M344.3 82l1.7-.3-1.3-.9-1.7 .1z"/>
<path color="#463adb" d="M342.7 82.3l1.6-.3-1.3-1.1-1.6 .2z"/>
<path color="#463bdd" d="M341 82.6l1.7-.3-1.3-1.2-1.7 .1z"/>
<path color="#463cde" d="M339.3 83l1.7-.4-1.3-1.4-1.6 .1z"/>
<path color="#463ddf" d="M337.7 83.3l1.6-.3-1.2-1.7-1.7 .2z"/>
<path color="#463ee1" d="M336 83.6l1.7-.3-1.3-1.8-1.6 .1z"/>
<path color="#473fe2" d="M334.4 83.9l1.6-.3-1.2-2-1.7 .1z"/>
<path color="#4740e4" d="M332.7 84.2l1.7-.3-1.3-2.2-1.6 .2z"/>
<path color="#4741e5" d="M331.1 84.5l1.6-.3-1.2-2.3-1.7 .1z"/>
<path color="#4742e6" d="M329.4 84.8l1.7-.3-1.3-2.5-1.7 .1z"/>
<path color="#4744e8" d="M327.8 85.1l1.6-.3-1.3-2.7-1.6 .1z"/>
<path color="#4745e9" d="M326.1 85.5l1.7-.4-1.3-2.9-1.7 .2z"/>
<path color="#4746ea" d="M324.4 85.8l1.7-.3-1.3-3.1-1.6 .1z"/>
<path color="#4747ec" d="M322.8 86.1l1.6-.3-1.2-3.3-1.7 .1z"/>
<path color="#4849ed" d="M321.1 86.4l1.7-.3-1.3-3.5-1.6 .2z"/>
<path color="#463de0" d="M373.7 73.8l1.7-.6-1.3-3.6-1.6 .7z"/>
<path color="#463de0" d="M372.1 74.3l1.6-.5-1.2-3.5-1.7 .8z"/>
<path color="#463ddf" d="M370.4 74.9l1.7-.6-1.3-3.2-1.6 .7z"/>
<path color="#463cdf" d="M368.8 75.4l1.6-.5-1.2-3.1-1.7 .7z"/>
<path color="#463cde" d="M367.1 76l1.7-.6-1.3-2.9-1.7 .8z"/>
<path color="#463bde" d="M365.5 76.6l1.6-.6-1.3-2.7-1.6 .7z"/>
<path color="#463bdd" d="M363.8 77.1l1.7-.5-1.3-2.6-1.7 .8z"/>
<path color="#463bdc" d="M362.2 77.7l1.6-.6-1.3-2.3-1.6 .7z"/>
<path color="#463bdc" d="M360.5 78.2l1.7-.5-1.3-2.2-1.7 .7z"/>
<path color="#463adb" d="M358.8 78.8l1.7-.6-1.3-2-1.6 .8z"/>
<path color="#463adb" d="M357.2 79.3l1.6-.5-1.2-1.8-1.7 .7z"/>
<path color="#463ada" d="M355.5 79.9l1.7-.6-1.3-1.6-1.6 .7z"/>
<path color="#4639da" d="M353.9 80.4l1.6-.5-1.2-1.5-1.7 .8z"/>
<path color="#4639da" d="M352.2 81l1.7-.6-1.3-1.2-1.7 .7z"/>
<path color="#4639d9" d="M350.6 81.5l1.6-.5-1.3-1.1-1.6 .8z"/>
<path color="#4539d9" d="M348.9 82.1l1.7-.6-1.3-.8-1.7 .7z"/>
<path color="#4539d9" d="M347.2 82.6l1.7-.5-1.3-.7-1.6 .3z"/>
<path color="#4639d9" d="M345.6 83.1l1.6-.5-1.2-.9-1.7 .3z"/>
<path color="#4639da" d="M343.9 83.6l1.7-.5-1.3-1.1-1.6 .3z"/>
<path color="#4639da" d="M342.3 84.1l1.6-.5-1.2-1.3-1.7 .3z"/>
<path color="#463ada" d="M340.6 84.6l1.7-.5-1.3-1.5-1.7 .4z"/>
<path color="#463adb" d="M339 85.1l1.6-.5-1.3-1.6-1.6 .3z"/>
<path color="#463adb" d="M337.3 85.6l1.7-.5-1.3-1.8-1.7 .3z"/>
<path color="#463bdc" d="M335.6 86.1l1.7-.5-1.3-2-1.6 .3z"/>
<path color="#463bdc" d="M334 86.6l1.6-.5-1.2-2.2-1.7 .3z"/>
<path color="#463bdd" d="M332.3 87.1l1.7-.5-1.3-2.4-1.6 .3z"/>
<path color="#463bde" d="M330.7 87.6l1.6-.5-1.2-2.6-1.7 .3z"/>
<path color="#463cde" d="M329 88l1.7-.4-1.3-2.8-1.6 .3z"/>
<path color="#463cdf" d="M327.4 88.5l1.6-.5-1.2-2.9-1.7 .4z"/>
<path color="#463ddf" d="M325.7 89l1.7-.5-1.3-3-1.7 .3z"/>
<path color="#463de0" d="M324.1 89.5l1.6-.5-1.3-3.2-1.6 .3z"/>
<path color="#463de0" d="M322.4 90l1.7-.5-1.3-3.4-1.7 .3z"/>
<path color="#463de0" d="M375 71.7l1.7-.7-1.3 2.2-1.7 .6z"/>
<path color="#463de0" d="M373.4 72.4l1.6-.7-1.3 2.1-1.6 .5z"/>
<path color="#463ddf" d="M371.7 73.2l1.7-.8-1.3 1.9-1.7 .6z"/>
<path color="#463cdf" d="M370 73.9l1.7-.7-1.3 1.7-1.6 .5z"/>
<path color="#463cde" d="M368.4 74.6l1.6-.7-1.2 1.5-1.7 .6z"/>
<path color="#463bde" d="M366.7 75.4l1.7-.8-1.3 1.4-1.6 .6z"/>
<path color="#463bdd" d="M365.1 76.1l1.6-.7-1.2 1.2-1.7 .5z"/>
<path color="#463bdc" d="M363.4 76.9l1.7-.8-1.3 1-1.6 .6z"/>
<path color="#463bdc" d="M361.8 77.6l1.6-.7-1.2 .8-1.7 .5z"/>
<path color="#463adb" d="M360.1 78.3l1.7-.7-1.3 .6-1.7 .6z"/>
<path color="#463adb" d="M358.4 79.1l1.7-.8-1.3 .5-1.6 .5z"/>
<path color="#463ada" d="M356.8 79.8l1.6-.7-1.2 .2-1.7 .6z"/>
<path color="#4639da" d="M355.1 80.5l1.7-.7-1.3 .1-1.6 .5z"/>
<path color="#4639da" d="M353.5 81.3l1.6-.8-1.2-.1-1.7 .6z"/>
<path color="#4639d9" d="M351.8 82l1.7-.7-1.3-.3-1.6 .5z"/>
<path color="#4539d9" d="M350.2 82.8l1.6-.8-1.2-.5-1.7 .6z"/>
<path color="#4539d9" d="M348.5 83.1l1.7-.3-1.3-.7-1.7 .5z"/>
<path color="#4639d9" d="M346.9 83.4l1.6-.3-1.3-.5-1.6 .5z"/>
<path color="#4639da" d="M345.2 83.7l1.7-.3-1.3-.3-1.7 .5z"/>
<path color="#4639da" d="M343.5 84l1.7-.3-1.3-.1-1.6 .5z"/>
<path color="#463ada" d="M341.9 84.3l1.6-.3-1.2 .1-1.7 .5z"/>
<path color="#463adb" d="M340.2 84.6l1.7-.3-1.3 .3-1.6 .5z"/>
<path color="#463adb" d="M338.6 84.9l1.6-.3-1.2 .5-1.7 .5z"/>
<path color="#463bdc" d="M336.9 85.3l1.7-.4-1.3 .7-1.7 .5z"/>
<path color="#463bdc" d="M335.3 85.6l1.6-.3-1.3 .8-1.6 .5z"/>
<path color="#463bdd" d="M333.6 85.9l1.7-.3-1.3 1-1.7 .5z"/>
<path color="#463bde" d="M332 86.2l1.6-.3-1.3 1.2-1.6 .5z"/>
<path color="#463cde" d="M330.3 86.5l1.7-.3-1.3 1.4-1.7 .4z"/>
<path color="#463cdf" d="M328.6 86.8l1.7-.3-1.3 1.5-1.6 .5z"/>
<path color="#463ddf" d="M327 87.1l1.6-.3-1.2 1.7-1.7 .5z"/>
<path color="#463de0" d="M325.3 87.4l1.7-.3-1.3 1.9-1.6 .5z"/>
<path color="#463de0" d="M323.7 87.8l1.6-.4-1.2 2.1-1.7 .5z"/>
<path color="#4849ed" d="M376.3 69.6l1.6-.9-1.2 2.3-1.7 .7z"/>
<path color="#4747ec" d="M374.6 70.5l1.7-.9-1.3 2.1-1.6 .7z"/>
<path color="#4746ea" d="M373 71.4l1.6-.9-1.2 1.9-1.7 .8z"/>
<path color="#4745e9" d="M371.3 72.4l1.7-1-1.3 1.8-1.7 .7z"/>
<path color="#4744e8" d="M369.7 73.3l1.6-.9-1.3 1.5-1.6 .7z"/>
<path color="#4742e6" d="M368 74.2l1.7-.9-1.3 1.3-1.7 .8z"/>
<path color="#4741e5" d="M366.3 75.1l1.7-.9-1.3 1.2-1.6 .7z"/>
<path color="#4740e4" d="M364.7 76l1.6-.9-1.2 1-1.7 .8z"/>
<path color="#473fe2" d="M363 77l1.7-1-1.3 .9-1.6 .7z"/>
<path color="#463ee1" d="M361.4 77.9l1.6-.9-1.2 .6-1.7 .7z"/>
<path color="#463ddf" d="M359.7 78.8l1.7-.9-1.3 .4-1.7 .8z"/>
<path color="#463cde" d="M358.1 79.7l1.6-.9-1.3 .3-1.6 .7z"/>
<path color="#463bdd" d="M356.4 80.6l1.7-.9-1.3 .1-1.7 .7z"/>
<path color="#463adb" d="M354.8 81.6l1.6-1-1.3-.1-1.6 .8z"/>
<path color="#463ada" d="M353.1 82.5l1.7-.9-1.3-.3-1.7 .7z"/>
<path color="#4639d9" d="M351.4 83.4l1.7-.9-1.3-.5-1.6 .8z"/>
<path color="#4639d9" d="M349.8 83.5l1.6-.1-1.2-.6-1.7 .3z"/>
<path color="#463ada" d="M348.1 83.7l1.7-.2-1.3-.4-1.6 .3z"/>
<path color="#463adb" d="M346.5 83.8l1.6-.1-1.2-.3-1.7 .3z"/>
<path color="#463bdd" d="M344.8 83.9l1.7-.1-1.3-.1-1.7 .3z"/>
<path color="#463cde" d="M343.2 84.1l1.6-.2-1.3 .1-1.6 .3z"/>
<path color="#463ddf" d="M341.5 84.2l1.7-.1-1.3 .2-1.7 .3z"/>
<path color="#463ee1" d="M339.8 84.3l1.7-.1-1.3 .4-1.6 .3z"/>
<path color="#473fe2" d="M338.2 84.4l1.6-.1-1.2 .6-1.7 .4z"/>
<path color="#4740e4" d="M336.5 84.6l1.7-.2-1.3 .9-1.6 .3z"/>
<path color="#4741e5" d="M334.9 84.7l1.6-.1-1.2 1-1.7 .3z"/>
<path color="#4742e6" d="M333.2 84.8l1.7-.1-1.3 1.2-1.6 .3z"/>
<path color="#4744e8" d="M331.6 85l1.6-.2-1.2 1.4-1.7 .3z"/>
<path color="#4745e9" d="M329.9 85.1l1.7-.1-1.3 1.5-1.7 .3z"/>
<path color="#4746ea" d="M328.2 85.2l1.7-.1-1.3 1.7-1.6 .3z"/>
<path color="#4747ec" d="M326.6 85.4l1.6-.2-1.2 1.9-1.7 .3z"/>
<path color="#4849ed" d="M324.9 85.5l1.7-.1-1.3 2-1.6 .4z"/>
<path color="#4757f7" d="M377.6 67.5l1.6-1.1-1.3 2.3-1.6 .9z"/>
<path color="#4854f6" d="M375.9 68.6l1.7-1.1-1.3 2.1-1.7 .9z"/>
<path color="#4852f4" d="M374.2 69.7l1.7-1.1-1.3 1.9-1.6 .9z"/>
<path color="#484ff2" d="M372.6 70.8l1.6-1.1-1.2 1.7-1.7 1z"/>
<path color="#484df0" d="M370.9 71.9l1.7-1.1-1.3 1.6-1.6 .9z"/>
<path color="#484bee" d="M369.3 73l1.6-1.1-1.2 1.4-1.7 .9z"/>
<path color="#4849ed" d="M367.6 74.1l1.7-1.1-1.3 1.2-1.7 .9z"/>
<path color="#4746eb" d="M366 75.2l1.6-1.1-1.3 1-1.6 .9z"/>
<path color="#4744e8" d="M364.3 76.3l1.7-1.1-1.3 .8-1.7 1z"/>
<path color="#4742e6" d="M362.6 77.4l1.7-1.1-1.3 .7-1.6 .9z"/>
<path color="#4740e4" d="M361 78.5l1.6-1.1-1.2 .5-1.7 .9z"/>
<path color="#473fe2" d="M359.3 79.6l1.7-1.1-1.3 .3-1.6 .9z"/>
<path color="#463de0" d="M357.7 80.7l1.6-1.1-1.2 .1-1.7 .9z"/>
<path color="#463bde" d="M356 81.9l1.7-1.2-1.3-.1-1.6 1z"/>
<path color="#463adb" d="M354.4 83l1.6-1.1-1.2-.3-1.7 .9z"/>
<path color="#4639da" d="M352.7 84.1l1.7-1.1-1.3-.5-1.7 .9z"/>
<path color="#4639da" d="M351 84l1.7 .1-1.3-.7-1.6 .1z"/>
<path color="#463adb" d="M349.4 84l1.6 0-1.2-.5-1.7 .2z"/>
<path color="#463bde" d="M347.7 83.9l1.7 .1-1.3-.3-1.6 .1z"/>
<path color="#463de0" d="M346.1 83.8l1.6 .1-1.2-.1-1.7 .1z"/>
<path color="#473fe2" d="M344.4 83.8l1.7 0-1.3 .1-1.6 .2z"/>
<path color="#4740e4" d="M342.8 83.7l1.6 .1-1.2 .3-1.7 .1z"/>
<path color="#4742e6" d="M341.1 83.7l1.7 0-1.3 .5-1.7 .1z"/>
<path color="#4744e8" d="M339.5 83.6l1.6 .1-1.3 .6-1.6 .1z"/>
<path color="#4746eb" d="M337.8 83.6l1.7 0-1.3 .8-1.7 .2z"/>
<path color="#4849ed" d="M336.1 83.5l1.7 .1-1.3 1-1.6 .1z"/>
<path color="#484bee" d="M334.5 83.5l1.6 0-1.2 1.2-1.7 .1z"/>
<path color="#484df0" d="M332.8 83.4l1.7 .1-1.3 1.3-1.6 .2z"/>
<path color="#484ff2" d="M331.2 83.4l1.6 0-1.2 1.6-1.7 .1z"/>
<path color="#4852f4" d="M329.5 83.3l1.7 .1-1.3 1.7-1.7 .1z"/>
<path color="#4854f6" d="M327.9 83.3l1.6 0-1.3 1.9-1.6 .2z"/>
<path color="#4757f7" d="M326.2 83.2l1.7 .1-1.3 2.1-1.7 .1z"/>
<path color="#4367fd" d="M378.8 65.4l1.7-1.3-1.3 2.3-1.6 1.1z"/>
<path color="#4563fc" d="M377.2 66.7l1.6-1.3-1.2 2.1-1.7 1.1z"/>
<path color="#465ffb" d="M375.5 68l1.7-1.3-1.3 1.9-1.7 1.1z"/>
<path color="#475bf9" d="M373.8 69.3l1.7-1.3-1.3 1.7-1.6 1.1z"/>
<path color="#4758f8" d="M372.2 70.6l1.6-1.3-1.2 1.5-1.7 1.1z"/>
<path color="#4854f6" d="M370.5 71.9l1.7-1.3-1.3 1.3-1.6 1.1z"/>
<path color="#4851f3" d="M368.9 73.1l1.6-1.2-1.2 1.1-1.7 1.1z"/>
<path color="#484ef1" d="M367.2 74.4l1.7-1.3-1.3 1-1.6 1.1z"/>
<path color="#484bee" d="M365.6 75.7l1.6-1.3-1.2 .8-1.7 1.1z"/>
<path color="#4747ec" d="M363.9 77l1.7-1.3-1.3 .6-1.7 1.1z"/>
<path color="#4745e9" d="M362.3 78.3l1.6-1.3-1.3 .4-1.6 1.1z"/>
<path color="#4742e6" d="M360.6 79.6l1.7-1.3-1.3 .2-1.7 1.1z"/>
<path color="#473fe3" d="M358.9 80.9l1.7-1.3-1.3 0-1.6 1.1z"/>
<path color="#463de0" d="M357.3 82.1l1.6-1.2-1.2-.2-1.7 1.2z"/>
<path color="#463bdd" d="M355.6 83.4l1.7-1.3-1.3-.2-1.6 1.1z"/>
<path color="#4639da" d="M354 84.7l1.6-1.3-1.2-.4-1.7 1.1z"/>
<path color="#4639da" d="M352.3 84.5l1.7 .2-1.3-.6-1.7-.1z"/>
<path color="#463bdd" d="M350.7 84.2l1.6 .3-1.3-.5-1.6 0z"/>
<path color="#463de0" d="M349 84l1.7 .2-1.3-.2-1.7-.1z"/>
<path color="#473fe3" d="M347.3 83.8l1.7 .2-1.3-.1-1.6-.1z"/>
<path color="#4742e6" d="M345.7 83.5l1.6 .3-1.2 0-1.7 0z"/>
<path color="#4745e9" d="M344 83.3l1.7 .2-1.3 .3-1.6-.1z"/>
<path color="#4747ec" d="M342.4 83.1l1.6 .2-1.2 .4-1.7 0z"/>
<path color="#484bee" d="M340.7 82.8l1.7 .3-1.3 .6-1.6-.1z"/>
<path color="#484ef1" d="M339.1 82.6l1.6 .2-1.2 .8-1.7 0z"/>
<path color="#4851f3" d="M337.4 82.4l1.7 .2-1.3 1-1.7-.1z"/>
<path color="#4854f6" d="M335.8 82.1l1.6 .3-1.3 1.1-1.6 0z"/>
<path color="#4758f8" d="M334.1 81.9l1.7 .2-1.3 1.4-1.7-.1z"/>
<path color="#475bf9" d="M332.4 81.7l1.7 .2-1.3 1.5-1.6 0z"/>
<path color="#465ffb" d="M330.8 81.4l1.6 .3-1.2 1.7-1.7-.1z"/>
<path color="#4563fc" d="M329.1 81.2l1.7 .2-1.3 1.9-1.6 0z"/>
<path color="#4367fd" d="M327.5 80.9l1.6 .3-1.2 2.1-1.7-.1z"/>
<path color="#3579fd" d="M380.1 63.3l1.6-1.4-1.2 2.2-1.7 1.3z"/>
<path color="#3a73fe" d="M378.4 64.8l1.7-1.5-1.3 2.1-1.6 1.3z"/>
<path color="#3f6efe" d="M376.8 66.3l1.6-1.5-1.2 1.9-1.7 1.3z"/>
<path color="#4368fe" d="M375.1 67.7l1.7-1.4-1.3 1.7-1.7 1.3z"/>
<path color="#4563fd" d="M373.5 69.2l1.6-1.5-1.3 1.6-1.6 1.3z"/>
<path color="#465ffb" d="M371.8 70.7l1.7-1.5-1.3 1.4-1.7 1.3z"/>
<path color="#475af9" d="M370.2 72.2l1.6-1.5-1.3 1.2-1.6 1.2z"/>
<path color="#4756f6" d="M368.5 73.6l1.7-1.4-1.3 .9-1.7 1.3z"/>
<path color="#4851f3" d="M366.8 75.1l1.7-1.5-1.3 .8-1.6 1.3z"/>
<path color="#484df0" d="M365.2 76.6l1.6-1.5-1.2 .6-1.7 1.3z"/>
<path color="#4849ed" d="M363.5 78l1.7-1.4-1.3 .4-1.6 1.3z"/>
<path color="#4745e9" d="M361.9 79.5l1.6-1.5-1.2 .3-1.7 1.3z"/>
<path color="#4742e6" d="M360.2 81l1.7-1.5-1.3 .1-1.7 1.3z"/>
<path color="#473fe2" d="M358.6 82.4l1.6-1.4-1.3-.1-1.6 1.2z"/>
<path color="#463cde" d="M356.9 83.9l1.7-1.5-1.3-.3-1.7 1.3z"/>
<path color="#463ada" d="M355.2 85.4l1.7-1.5-1.3-.5-1.6 1.3z"/>
<path color="#463ada" d="M353.6 84.9l1.6 .5-1.2-.7-1.7-.2z"/>
<path color="#463cde" d="M351.9 84.5l1.7 .4-1.3-.4-1.6-.3z"/>
<path color="#473fe2" d="M350.3 84.1l1.6 .4-1.2-.3-1.7-.2z"/>
<path color="#4742e6" d="M348.6 83.7l1.7 .4-1.3-.1-1.7-.2z"/>
<path color="#4745e9" d="M347 83.3l1.6 .4-1.3 .1-1.6-.3z"/>
<path color="#4849ed" d="M345.3 82.9l1.7 .4-1.3 .2-1.7-.2z"/>
<path color="#484df0" d="M343.6 82.4l1.7 .5-1.3 .4-1.6-.2z"/>
<path color="#4851f3" d="M342 82l1.6 .4-1.2 .7-1.7-.3z"/>
<path color="#4756f6" d="M340.3 81.6l1.7 .4-1.3 .8-1.6-.2z"/>
<path color="#475af9" d="M338.7 81.2l1.6 .4-1.2 1-1.7-.2z"/>
<path color="#465ffb" d="M337 80.8l1.7 .4-1.3 1.2-1.6-.3z"/>
<path color="#4563fd" d="M335.4 80.3l1.6 .5-1.2 1.3-1.7-.2z"/>
<path color="#4368fe" d="M333.7 79.9l1.7 .4-1.3 1.6-1.7-.2z"/>
<path color="#3f6efe" d="M332.1 79.5l1.6 .4-1.3 1.8-1.6-.3z"/>
<path color="#3a73fe" d="M330.4 79.1l1.7 .4-1.3 1.9-1.7-.2z"/>
<path color="#3579fd" d="M328.7 78.7l1.7 .4-1.3 2.1-1.6-.3z"/>
<path color="#2d8bf4" d="M381.4 61.3l1.6-1.7-1.3 2.3-1.6 1.4z"/>
<path color="#2e85f8" d="M379.7 62.9l1.7-1.6-1.3 2-1.7 1.5z"/>
<path color="#317efb" d="M378 64.6l1.7-1.7-1.3 1.9-1.6 1.5z"/>
<path color="#3677fe" d="M376.4 66.2l1.6-1.6-1.2 1.7-1.7 1.4z"/>
<path color="#3d70ff" d="M374.7 67.9l1.7-1.7-1.3 1.5-1.6 1.5z"/>
<path color="#426afe" d="M373.1 69.5l1.6-1.6-1.2 1.3-1.7 1.5z"/>
<path color="#4564fd" d="M371.4 71.2l1.7-1.7-1.3 1.2-1.6 1.5z"/>
<path color="#465efb" d="M369.8 72.8l1.6-1.6-1.2 1-1.7 1.4z"/>
<path color="#4758f8" d="M368.1 74.5l1.7-1.7-1.3 .8-1.7 1.5z"/>
<path color="#4853f5" d="M366.4 76.1l1.7-1.6-1.3 .6-1.6 1.5z"/>
<path color="#484ef1" d="M364.8 77.8l1.6-1.7-1.2 .5-1.7 1.4z"/>
<path color="#4849ed" d="M363.1 79.4l1.7-1.6-1.3 .2-1.6 1.5z"/>
<path color="#4745e9" d="M361.5 81.1l1.6-1.7-1.2 .1-1.7 1.5z"/>
<path color="#4740e4" d="M359.8 82.7l1.7-1.6-1.3-.1-1.6 1.4z"/>
<path color="#463ddf" d="M358.2 84.4l1.6-1.7-1.2-.3-1.7 1.5z"/>
<path color="#463adb" d="M356.5 86l1.7-1.6-1.3-.5-1.7 1.5z"/>
<path color="#463adb" d="M354.9 85.4l1.6 .6-1.3-.6-1.6-.5z"/>
<path color="#463ddf" d="M353.2 84.8l1.7 .6-1.3-.5-1.7-.4z"/>
<path color="#4740e4" d="M351.5 84.2l1.7 .6-1.3-.3-1.6-.4z"/>
<path color="#4745e9" d="M349.9 83.6l1.6 .6-1.2-.1-1.7-.4z"/>
<path color="#4849ed" d="M348.2 83l1.7 .6-1.3 .1-1.6-.4z"/>
<path color="#484ef1" d="M346.6 82.4l1.6 .6-1.2 .3-1.7-.4z"/>
<path color="#4853f5" d="M344.9 81.8l1.7 .6-1.3 .5-1.7-.5z"/>
<path color="#4758f8" d="M343.3 81.2l1.6 .6-1.3 .6-1.6-.4z"/>
<path color="#465efb" d="M341.6 80.6l1.7 .6-1.3 .8-1.7-.4z"/>
<path color="#4564fd" d="M340 80l1.6 .6-1.3 1-1.6-.4z"/>
<path color="#426afe" d="M338.3 79.4l1.7 .6-1.3 1.2-1.7-.4z"/>
<path color="#3d70ff" d="M336.6 78.8l1.7 .6-1.3 1.4-1.6-.5z"/>
<path color="#3677fe" d="M335 78.2l1.6 .6-1.2 1.5-1.7-.4z"/>
<path color="#317efb" d="M333.3 77.6l1.7 .6-1.3 1.7-1.6-.4z"/>
<path color="#2e85f8" d="M331.7 77l1.6 .6-1.2 1.9-1.7-.4z"/>
<path color="#2d8bf4" d="M330 76.4l1.7 .6-1.3 2.1-1.7-.4z"/>
<path color="#259ce7" d="M382.6 59.2l1.7-1.9-1.3 2.3-1.6 1.7z"/>
<path color="#2895ec" d="M381 61l1.6-1.8-1.2 2.1-1.7 1.6z"/>
<path color="#2c8ef2" d="M379.3 62.8l1.7-1.8-1.3 1.9-1.7 1.7z"/>
<path color="#2e86f7" d="M377.7 64.7l1.6-1.9-1.3 1.8-1.6 1.6z"/>
<path color="#307ffb" d="M376 66.5l1.7-1.8-1.3 1.5-1.7 1.7z"/>
<path color="#3777fe" d="M374.3 68.3l1.7-1.8-1.3 1.4-1.6 1.6z"/>
<path color="#3f6eff" d="M372.7 70.2l1.6-1.9-1.2 1.2-1.7 1.7z"/>
<path color="#4367fd" d="M371 72l1.7-1.8-1.3 1-1.6 1.6z"/>
<path color="#4660fb" d="M369.4 73.8l1.6-1.8-1.2 .8-1.7 1.7z"/>
<path color="#4759f9" d="M367.7 75.7l1.7-1.9-1.3 .7-1.7 1.6z"/>
<path color="#4853f5" d="M366.1 77.5l1.6-1.8-1.3 .4-1.6 1.7z"/>
<path color="#484df0" d="M364.4 79.3l1.7-1.8-1.3 .3-1.7 1.6z"/>
<path color="#4747ec" d="M362.8 81.2l1.6-1.9-1.3 .1-1.6 1.7z"/>
<path color="#4742e6" d="M361.1 83l1.7-1.8-1.3-.1-1.7 1.6z"/>
<path color="#463ee1" d="M359.4 84.8l1.7-1.8-1.3-.3-1.6 1.7z"/>
<path color="#463adb" d="M357.8 86.7l1.6-1.9-1.2-.4-1.7 1.6z"/>
<path color="#463adb" d="M356.1 85.9l1.7 .8-1.3-.7-1.6-.6z"/>
<path color="#463ee1" d="M354.5 85.1l1.6 .8-1.2-.5-1.7-.6z"/>
<path color="#4742e6" d="M352.8 84.3l1.7 .8-1.3-.3-1.7-.6z"/>
<path color="#4747ec" d="M351.2 83.5l1.6 .8-1.3-.1-1.6-.6z"/>
<path color="#484df0" d="M349.5 82.7l1.7 .8-1.3 .1-1.7-.6z"/>
<path color="#4853f5" d="M347.8 82l1.7 .7-1.3 .3-1.6-.6z"/>
<path color="#4759f9" d="M346.2 81.2l1.6 .8-1.2 .4-1.7-.6z"/>
<path color="#4660fb" d="M344.5 80.4l1.7 .8-1.3 .6-1.6-.6z"/>
<path color="#4367fd" d="M342.9 79.6l1.6 .8-1.2 .8-1.7-.6z"/>
<path color="#3f6eff" d="M341.2 78.8l1.7 .8-1.3 1-1.6-.6z"/>
<path color="#3777fe" d="M339.6 78.1l1.6 .7-1.2 1.2-1.7-.6z"/>
<path color="#307ffb" d="M337.9 77.3l1.7 .8-1.3 1.3-1.7-.6z"/>
<path color="#2e86f7" d="M336.2 76.5l1.7 .8-1.3 1.5-1.6-.6z"/>
<path color="#2c8ef2" d="M334.6 75.7l1.6 .8-1.2 1.7-1.7-.6z"/>
<path color="#2895ec" d="M332.9 74.9l1.7 .8-1.3 1.9-1.6-.6z"/>
<path color="#259ce7" d="M331.3 74.1l1.6 .8-1.2 2.1-1.7-.6z"/>
<path color="#19acdc" d="M383.9 57.1l1.7-2-1.3 2.2-1.7 1.9z"/>
<path color="#20a5e3" d="M382.2 59.1l1.7-2-1.3 2.1-1.6 1.8z"/>
<path color="#259ce7" d="M380.6 61.1l1.6-2-1.2 1.9-1.7 1.8z"/>
<path color="#2994ed" d="M378.9 63.1l1.7-2-1.3 1.7-1.6 1.9z"/>
<path color="#2d8cf3" d="M377.3 65.1l1.6-2-1.2 1.6-1.7 1.8z"/>
<path color="#2e83f9" d="M375.6 67.2l1.7-2.1-1.3 1.4-1.7 1.8z"/>
<path color="#337afd" d="M374 69.2l1.6-2-1.3 1.1-1.6 1.9z"/>
<path color="#3d71ff" d="M372.3 71.2l1.7-2-1.3 1-1.7 1.8z"/>
<path color="#4368fe" d="M370.6 73.2l1.7-2-1.3 .8-1.6 1.8z"/>
<path color="#4660fb" d="M369 75.2l1.6-2-1.2 .6-1.7 1.9z"/>
<path color="#4758f8" d="M367.3 77.2l1.7-2-1.3 .5-1.6 1.8z"/>
<path color="#4851f3" d="M365.7 79.3l1.6-2.1-1.2 .3-1.7 1.8z"/>
<path color="#484bee" d="M364 81.3l1.7-2-1.3 0-1.6 1.9z"/>
<path color="#4744e8" d="M362.4 83.3l1.6-2-1.2-.1-1.7 1.8z"/>
<path color="#473fe2" d="M360.7 85.3l1.7-2-1.3-.3-1.7 1.8z"/>
<path color="#463bdc" d="M359 87.3l1.7-2-1.3-.5-1.6 1.9z"/>
<path color="#463bdc" d="M357.4 86.4l1.6 .9-1.2-.6-1.7-.8z"/>
<path color="#473fe2" d="M355.7 85.4l1.7 1-1.3-.5-1.6-.8z"/>
<path color="#4744e8" d="M354.1 84.4l1.6 1-1.2-.3-1.7-.8z"/>
<path color="#484bee" d="M352.4 83.5l1.7 .9-1.3-.1-1.6-.8z"/>
<path color="#4851f3" d="M350.8 82.5l1.6 1-1.2 0-1.7-.8z"/>
<path color="#4758f8" d="M349.1 81.5l1.7 1-1.3 .2-1.7-.7z"/>
<path color="#4660fb" d="M347.5 80.6l1.6 .9-1.3 .5-1.6-.8z"/>
<path color="#4368fe" d="M345.8 79.6l1.7 1-1.3 .6-1.7-.8z"/>
<path color="#3d71ff" d="M344.1 78.6l1.7 1-1.3 .8-1.6-.8z"/>
<path color="#337afd" d="M342.5 77.7l1.6 .9-1.2 1-1.7-.8z"/>
<path color="#2e83f9" d="M340.8 76.7l1.7 1-1.3 1.1-1.6-.7z"/>
<path color="#2d8cf3" d="M339.2 75.7l1.6 1-1.2 1.4-1.7-.8z"/>
<path color="#2994ed" d="M337.5 74.8l1.7 .9-1.3 1.6-1.7-.8z"/>
<path color="#259ce7" d="M335.9 73.8l1.6 1-1.3 1.7-1.6-.8z"/>
<path color="#20a5e3" d="M334.2 72.8l1.7 1-1.3 1.9-1.7-.8z"/>
<path color="#19acdc" d="M332.6 71.9l1.6 .9-1.3 2.1-1.6-.8z"/>
<path color="#01b9c7" d="M385.2 55l1.6-2.2-1.2 2.3-1.7 2z"/>
<path color="#0eb2d4" d="M383.5 57.2l1.7-2.2-1.3 2.1-1.7 2z"/>
<path color="#1babde" d="M381.8 59.4l1.7-2.2-1.3 1.9-1.6 2z"/>
<path color="#22a2e4" d="M380.2 61.6l1.6-2.2-1.2 1.7-1.7 2z"/>
<path color="#2699e9" d="M378.5 63.8l1.7-2.2-1.3 1.5-1.6 2z"/>
<path color="#2c8ff0" d="M376.9 66l1.6-2.2-1.2 1.3-1.7 2.1z"/>
<path color="#2e85f8" d="M375.2 68.2l1.7-2.2-1.3 1.2-1.6 2z"/>
<path color="#327bfc" d="M373.6 70.4l1.6-2.2-1.2 1-1.7 2z"/>
<path color="#3d71ff" d="M371.9 72.6l1.7-2.2-1.3 .8-1.7 2z"/>
<path color="#4367fd" d="M370.3 74.8l1.6-2.2-1.3 .6-1.6 2z"/>
<path color="#465efb" d="M368.6 77l1.7-2.2-1.3 .4-1.7 2z"/>
<path color="#4756f6" d="M366.9 79.2l1.7-2.2-1.3 .2-1.6 2.1z"/>
<path color="#484ef1" d="M365.3 81.4l1.6-2.2-1.2 .1-1.7 2z"/>
<path color="#4746eb" d="M363.6 83.6l1.7-2.2-1.3-.1-1.6 2z"/>
<path color="#4740e4" d="M362 85.8l1.6-2.2-1.2-.3-1.7 2z"/>
<path color="#463bdc" d="M360.3 88l1.7-2.2-1.3-.5-1.7 2z"/>
<path color="#463bdc" d="M358.7 86.8l1.6 1.2-1.3-.7-1.6-.9z"/>
<path color="#4740e4" d="M357 85.7l1.7 1.1-1.3-.4-1.7-1z"/>
<path color="#4746eb" d="M355.3 84.5l1.7 1.2-1.3-.3-1.6-1z"/>
<path color="#484ef1" d="M353.7 83.4l1.6 1.1-1.2-.1-1.7-.9z"/>
<path color="#4756f6" d="M352 82.2l1.7 1.2-1.3 .1-1.6-1z"/>
<path color="#465efb" d="M350.4 81.1l1.6 1.1-1.2 .3-1.7-1z"/>
<path color="#4367fd" d="M348.7 79.9l1.7 1.2-1.3 .4-1.6-.9z"/>
<path color="#3d71ff" d="M347.1 78.8l1.6 1.1-1.2 .7-1.7-1z"/>
<path color="#327bfc" d="M345.4 77.6l1.7 1.2-1.3 .8-1.7-1z"/>
<path color="#2e85f8" d="M343.8 76.5l1.6 1.1-1.3 1-1.6-.9z"/>
<path color="#2c8ff0" d="M342.1 75.3l1.7 1.2-1.3 1.2-1.7-1z"/>
<path color="#2699e9" d="M340.4 74.2l1.7 1.1-1.3 1.4-1.6-1z"/>
<path color="#22a2e4" d="M338.8 73l1.6 1.2-1.2 1.5-1.7-.9z"/>
<path color="#1babde" d="M337.1 71.9l1.7 1.1-1.3 1.8-1.6-1z"/>
<path color="#0eb2d4" d="M335.5 70.7l1.6 1.2-1.2 1.9-1.7-1z"/>
<path color="#01b9c7" d="M333.8 69.6l1.7 1.1-1.3 2.1-1.6-.9z"/>
<path color="#26c2ad" d="M386.4 52.9l1.7-2.4-1.3 2.3-1.6 2.2z"/>
<path color="#0abdbe" d="M384.8 55.3l1.6-2.4-1.2 2.1-1.7 2.2z"/>
<path color="#04b6cd" d="M383.1 57.7l1.7-2.4-1.3 1.9-1.7 2.2z"/>
<path color="#17aeda" d="M381.5 60l1.6-2.3-1.3 1.7-1.6 2.2z"/>
<path color="#20a5e2" d="M379.8 62.4l1.7-2.4-1.3 1.6-1.7 2.2z"/>
<path color="#259be8" d="M378.2 64.8l1.6-2.4-1.3 1.4-1.6 2.2z"/>
<path color="#2b90f0" d="M376.5 67.2l1.7-2.4-1.3 1.2-1.7 2.2z"/>
<path color="#2e85f8" d="M374.8 69.6l1.7-2.4-1.3 1-1.6 2.2z"/>
<path color="#337afd" d="M373.2 72l1.6-2.4-1.2 .8-1.7 2.2z"/>
<path color="#3f6eff" d="M371.5 74.3l1.7-2.3-1.3 .6-1.6 2.2z"/>
<path color="#4564fd" d="M369.9 76.7l1.6-2.4-1.2 .5-1.7 2.2z"/>
<path color="#475af9" d="M368.2 79.1l1.7-2.4-1.3 .3-1.7 2.2z"/>
<path color="#4851f3" d="M366.6 81.5l1.6-2.4-1.3 .1-1.6 2.2z"/>
<path color="#4849ed" d="M364.9 83.9l1.7-2.4-1.3-.1-1.7 2.2z"/>
<path color="#4741e5" d="M363.2 86.2l1.7-2.3-1.3-.3-1.6 2.2z"/>
<path color="#463bdd" d="M361.6 88.6l1.6-2.4-1.2-.4-1.7 2.2z"/>
<path color="#463bdd" d="M359.9 87.3l1.7 1.3-1.3-.6-1.6-1.2z"/>
<path color="#4741e5" d="M358.3 86l1.6 1.3-1.2-.5-1.7-1.1z"/>
<path color="#4849ed" d="M356.6 84.6l1.7 1.4-1.3-.3-1.7-1.2z"/>
<path color="#4851f3" d="M355 83.3l1.6 1.3-1.3-.1-1.6-1.1z"/>
<path color="#475af9" d="M353.3 82l1.7 1.3-1.3 .1-1.7-1.2z"/>
<path color="#4564fd" d="M351.6 80.6l1.7 1.4-1.3 .2-1.6-1.1z"/>
<path color="#3f6eff" d="M350 79.3l1.6 1.3-1.2 .5-1.7-1.2z"/>
<path color="#337afd" d="M348.3 78l1.7 1.3-1.3 .6-1.6-1.1z"/>
<path color="#2e85f8" d="M346.7 76.6l1.6 1.4-1.2 .8-1.7-1.2z"/>
<path color="#2b90f0" d="M345 75.3l1.7 1.3-1.3 1-1.6-1.1z"/>
<path color="#259be8" d="M343.4 74l1.6 1.3-1.2 1.2-1.7-1.2z"/>
<path color="#20a5e2" d="M341.7 72.6l1.7 1.4-1.3 1.3-1.7-1.1z"/>
<path color="#17aeda" d="M340.1 71.3l1.6 1.3-1.3 1.6-1.6-1.2z"/>
<path color="#04b6cd" d="M338.4 70l1.7 1.3-1.3 1.7-1.7-1.1z"/>
<path color="#0abdbe" d="M336.7 68.7l1.7 1.3-1.3 1.9-1.6-1.2z"/>
<path color="#26c2ad" d="M335.1 67.3l1.6 1.4-1.2 2-1.7-1.1z"/>
<path color="#41ca8c" d="M387.7 50.8l1.7-2.5-1.3 2.2-1.7 2.4z"/>
<path color="#2ec5a4" d="M386 53.4l1.7-2.6-1.3 2.1-1.6 2.4z"/>
<path color="#16bfb7" d="M384.4 55.9l1.6-2.5-1.2 1.9-1.7 2.4z"/>
<path color="#01b8c8" d="M382.7 58.5l1.7-2.6-1.3 1.8-1.6 2.3z"/>
<path color="#13b0d7" d="M381.1 61.1l1.6-2.6-1.2 1.5-1.7 2.4z"/>
<path color="#1fa6e2" d="M379.4 63.6l1.7-2.5-1.3 1.3-1.6 2.4z"/>
<path color="#259be8" d="M377.8 66.2l1.6-2.6-1.2 1.2-1.7 2.4z"/>
<path color="#2c8ff0" d="M376.1 68.8l1.7-2.6-1.3 1-1.7 2.4z"/>
<path color="#2e83f9" d="M374.4 71.3l1.7-2.5-1.3 .8-1.6 2.4z"/>
<path color="#3777fe" d="M372.8 73.9l1.6-2.6-1.2 .7-1.7 2.3z"/>
<path color="#426afe" d="M371.1 76.5l1.7-2.6-1.3 .4-1.6 2.4z"/>
<path color="#465ffb" d="M369.5 79l1.6-2.5-1.2 .2-1.7 2.4z"/>
<path color="#4854f6" d="M367.8 81.6l1.7-2.6-1.3 .1-1.6 2.4z"/>
<path color="#484bee" d="M366.2 84.1l1.6-2.5-1.2-.1-1.7 2.4z"/>
<path color="#4742e6" d="M364.5 86.7l1.7-2.6-1.3-.2-1.7 2.3z"/>
<path color="#463bde" d="M362.9 89.3l1.6-2.6-1.3-.5-1.6 2.4z"/>
<path color="#463bde" d="M361.2 87.8l1.7 1.5-1.3-.7-1.7-1.3z"/>
<path color="#4742e6" d="M359.5 86.2l1.7 1.6-1.3-.5-1.6-1.3z"/>
<path color="#484bee" d="M357.9 84.7l1.6 1.5-1.2-.2-1.7-1.4z"/>
<path color="#4854f6" d="M356.2 83.2l1.7 1.5-1.3-.1-1.6-1.3z"/>
<path color="#465ffb" d="M354.6 81.7l1.6 1.5-1.2 .1-1.7-1.3z"/>
<path color="#426afe" d="M352.9 80.2l1.7 1.5-1.3 .3-1.7-1.4z"/>
<path color="#3777fe" d="M351.3 78.7l1.6 1.5-1.3 .4-1.6-1.3z"/>
<path color="#2e83f9" d="M349.6 77.2l1.7 1.5-1.3 .6-1.7-1.3z"/>
<path color="#2c8ff0" d="M348 75.6l1.6 1.6-1.3 .8-1.6-1.4z"/>
<path color="#259be8" d="M346.3 74.1l1.7 1.5-1.3 1-1.7-1.3z"/>
<path color="#1fa6e2" d="M344.6 72.6l1.7 1.5-1.3 1.2-1.6-1.3z"/>
<path color="#13b0d7" d="M343 71.1l1.6 1.5-1.2 1.4-1.7-1.4z"/>
<path color="#01b8c8" d="M341.3 69.6l1.7 1.5-1.3 1.5-1.6-1.3z"/>
<path color="#16bfb7" d="M339.7 68.1l1.6 1.5-1.2 1.7-1.7-1.3z"/>
<path color="#2ec5a4" d="M338 66.6l1.7 1.5-1.3 1.9-1.7-1.3z"/>
<path color="#41ca8c" d="M336.4 65.1l1.6 1.5-1.3 2.1-1.6-1.4z"/>
<path color="#75cc61" d="M389 48.7l1.6-2.7-1.2 2.3-1.7 2.5z"/>
<path color="#4ccb82" d="M387.3 51.5l1.7-2.8-1.3 2.1-1.7 2.6z"/>
<path color="#33c69e" d="M385.7 54.2l1.6-2.7-1.3 1.9-1.6 2.5z"/>
<path color="#1cc0b3" d="M384 57l1.7-2.8-1.3 1.7-1.7 2.6z"/>
<path color="#01b9c7" d="M382.3 59.7l1.7-2.7-1.3 1.5-1.6 2.6z"/>
<path color="#13b0d7" d="M380.7 62.5l1.6-2.8-1.2 1.4-1.7 2.5z"/>
<path color="#20a5e2" d="M379 65.2l1.7-2.7-1.3 1.1-1.6 2.6z"/>
<path color="#2699e9" d="M377.4 68l1.6-2.8-1.2 1-1.7 2.6z"/>
<path color="#2d8cf3" d="M375.7 70.7l1.7-2.7-1.3 .8-1.7 2.5z"/>
<path color="#307ffb" d="M374.1 73.4l1.6-2.7-1.3 .6-1.6 2.6z"/>
<path color="#3d70ff" d="M372.4 76.2l1.7-2.8-1.3 .5-1.7 2.6z"/>
<path color="#4563fd" d="M370.8 78.9l1.6-2.7-1.3 .3-1.6 2.5z"/>
<path color="#4758f8" d="M369.1 81.7l1.7-2.8-1.3 .1-1.7 2.6z"/>
<path color="#484df0" d="M367.4 84.4l1.7-2.7-1.3-.1-1.6 2.5z"/>
<path color="#4744e8" d="M365.8 87.2l1.6-2.8-1.2-.3-1.7 2.6z"/>
<path color="#463cde" d="M364.1 89.9l1.7-2.7-1.3-.5-1.6 2.6z"/>
<path color="#463cde" d="M362.5 88.2l1.6 1.7-1.2-.6-1.7-1.5z"/>
<path color="#4744e8" d="M360.8 86.5l1.7 1.7-1.3-.4-1.7-1.6z"/>
<path color="#484df0" d="M359.2 84.8l1.6 1.7-1.3-.3-1.6-1.5z"/>
<path color="#4758f8" d="M357.5 83.1l1.7 1.7-1.3-.1-1.7-1.5z"/>
<path color="#4563fd" d="M355.8 81.4l1.7 1.7-1.3 .1-1.6-1.5z"/>
<path color="#3d70ff" d="M354.2 79.7l1.6 1.7-1.2 .3-1.7-1.5z"/>
<path color="#307ffb" d="M352.5 78.1l1.7 1.6-1.3 .5-1.6-1.5z"/>
<path color="#2d8cf3" d="M350.9 76.4l1.6 1.7-1.2 .6-1.7-1.5z"/>
<path color="#2699e9" d="M349.2 74.7l1.7 1.7-1.3 .8-1.6-1.6z"/>
<path color="#20a5e2" d="M347.6 73l1.6 1.7-1.2 .9-1.7-1.5z"/>
<path color="#13b0d7" d="M345.9 71.3l1.7 1.7-1.3 1.1-1.7-1.5z"/>
<path color="#01b9c7" d="M344.2 69.6l1.7 1.7-1.3 1.3-1.6-1.5z"/>
<path color="#1cc0b3" d="M342.6 67.9l1.6 1.7-1.2 1.5-1.7-1.5z"/>
<path color="#33c69e" d="M340.9 66.2l1.7 1.7-1.3 1.7-1.6-1.5z"/>
<path color="#4ccb82" d="M339.3 64.5l1.6 1.7-1.2 1.9-1.7-1.5z"/>
<path color="#75cc61" d="M337.6 62.8l1.7 1.7-1.3 2.1-1.6-1.5z"/>
<path color="#b0c636" d="M390.2 46.6l1.7-2.9-1.3 2.3-1.6 2.7z"/>
<path color="#81cc59" d="M388.6 49.6l1.6-3-1.2 2.1-1.7 2.8z"/>
<path color="#53cc7d" d="M386.9 52.5l1.7-2.9-1.3 1.9-1.6 2.7z"/>
<path color="#34c79b" d="M385.3 55.4l1.6-2.9-1.2 1.7-1.7 2.8z"/>
<path color="#1cc0b3" d="M383.6 58.4l1.7-3-1.3 1.6-1.7 2.7z"/>
<path color="#01b8c8" d="M382 61.3l1.6-2.9-1.3 1.3-1.6 2.8z"/>
<path color="#17aeda" d="M380.3 64.2l1.7-2.9-1.3 1.2-1.7 2.7z"/>
<path color="#22a2e4" d="M378.6 67.1l1.7-2.9-1.3 1-1.6 2.8z"/>
<path color="#2994ed" d="M377 70.1l1.6-3-1.2 .9-1.7 2.7z"/>
<path color="#2e86f7" d="M375.3 73l1.7-2.9-1.3 .6-1.6 2.7z"/>
<path color="#3677fe" d="M373.7 75.9l1.6-2.9-1.2 .4-1.7 2.8z"/>
<path color="#4368fe" d="M372 78.9l1.7-3-1.3 .3-1.6 2.7z"/>
<path color="#475bf9" d="M370.4 81.8l1.6-2.9-1.2 0-1.7 2.8z"/>
<path color="#484ff2" d="M368.7 84.7l1.7-2.9-1.3-.1-1.7 2.7z"/>
<path color="#4745e9" d="M367 87.6l1.7-2.9-1.3-.3-1.6 2.8z"/>
<path color="#463cdf" d="M365.4 90.6l1.6-3-1.2-.4-1.7 2.7z"/>
<path color="#463cdf" d="M363.7 88.7l1.7 1.9-1.3-.7-1.6-1.7z"/>
<path color="#4745e9" d="M362.1 86.8l1.6 1.9-1.2-.5-1.7-1.7z"/>
<path color="#484ff2" d="M360.4 84.9l1.7 1.9-1.3-.3-1.6-1.7z"/>
<path color="#475bf9" d="M358.8 83.1l1.6 1.8-1.2-.1-1.7-1.7z"/>
<path color="#4368fe" d="M357.1 81.2l1.7 1.9-1.3 0-1.7-1.7z"/>
<path color="#3677fe" d="M355.5 79.3l1.6 1.9-1.3 .2-1.6-1.7z"/>
<path color="#2e86f7" d="M353.8 77.4l1.7 1.9-1.3 .4-1.7-1.6z"/>
<path color="#2994ed" d="M352.1 75.5l1.7 1.9-1.3 .7-1.6-1.7z"/>
<path color="#22a2e4" d="M350.5 73.7l1.6 1.8-1.2 .9-1.7-1.7z"/>
<path color="#17aeda" d="M348.8 71.8l1.7 1.9-1.3 1-1.6-1.7z"/>
<path color="#01b8c8" d="M347.2 69.9l1.6 1.9-1.2 1.2-1.7-1.7z"/>
<path color="#1cc0b3" d="M345.5 68l1.7 1.9-1.3 1.4-1.7-1.7z"/>
<path color="#34c79b" d="M343.9 66.1l1.6 1.9-1.3 1.6-1.6-1.7z"/>
<path color="#53cc7d" d="M342.2 64.3l1.7 1.8-1.3 1.8-1.7-1.7z"/>
<path color="#81cc59" d="M340.6 62.4l1.6 1.9-1.3 1.9-1.6-1.7z"/>
<path color="#b0c636" d="M338.9 60.5l1.7 1.9-1.3 2.1-1.7-1.7z"/>
<path color="#e2bc2b" d="M391.5 44.6l1.7-3.2-1.3 2.3-1.7 2.9z"/>
<path color="#b7c532" d="M389.8 47.7l1.7-3.1-1.3 2-1.6 3z"/>
<path color="#84cb56" d="M388.2 50.8l1.6-3.1-1.2 1.9-1.7 2.9z"/>
<path color="#53cc7d" d="M386.5 53.9l1.7-3.1-1.3 1.7-1.6 2.9z"/>
<path color="#33c69e" d="M384.9 57l1.6-3.1-1.2 1.5-1.7 3z"/>
<path color="#16bfb7" d="M383.2 60.1l1.7-3.1-1.3 1.4-1.6 2.9z"/>
<path color="#04b6cd" d="M381.6 63.2l1.6-3.1-1.2 1.2-1.7 2.9z"/>
<path color="#1babde" d="M379.9 66.3l1.7-3.1-1.3 1-1.7 2.9z"/>
<path color="#259ce7" d="M378.3 69.4l1.6-3.1-1.3 .8-1.6 3z"/>
<path color="#2c8ef2" d="M376.6 72.6l1.7-3.2-1.3 .7-1.7 2.9z"/>
<path color="#317efb" d="M374.9 75.7l1.7-3.1-1.3 .4-1.6 2.9z"/>
<path color="#3f6efe" d="M373.3 78.8l1.6-3.1-1.2 .2-1.7 3z"/>
<path color="#465ffb" d="M371.6 81.9l1.7-3.1-1.3 .1-1.6 2.9z"/>
<path color="#4852f4" d="M370 85l1.6-3.1-1.2-.1-1.7 2.9z"/>
<path color="#4746ea" d="M368.3 88.1l1.7-3.1-1.3-.3-1.7 2.9z"/>
<path color="#463ddf" d="M366.7 91.2l1.6-3.1-1.3-.5-1.6 3z"/>
<path color="#463ddf" d="M365 89.2l1.7 2-1.3-.6-1.7-1.9z"/>
<path color="#4746ea" d="M363.3 87.1l1.7 2.1-1.3-.5-1.6-1.9z"/>
<path color="#4852f4" d="M361.7 85l1.6 2.1-1.2-.3-1.7-1.9z"/>
<path color="#465ffb" d="M360 83l1.7 2-1.3-.1-1.6-1.8z"/>
<path color="#3f6efe" d="M358.4 80.9l1.6 2.1-1.2 .1-1.7-1.9z"/>
<path color="#317efb" d="M356.7 78.9l1.7 2-1.3 .3-1.6-1.9z"/>
<path color="#2c8ef2" d="M355.1 76.8l1.6 2.1-1.2 .4-1.7-1.9z"/>
<path color="#259ce7" d="M353.4 74.7l1.7 2.1-1.3 .6-1.7-1.9z"/>
<path color="#1babde" d="M351.8 72.7l1.6 2-1.3 .8-1.6-1.8z"/>
<path color="#04b6cd" d="M350.1 70.6l1.7 2.1-1.3 1-1.7-1.9z"/>
<path color="#16bfb7" d="M348.4 68.5l1.7 2.1-1.3 1.2-1.6-1.9z"/>
<path color="#33c69e" d="M346.8 66.5l1.6 2-1.2 1.4-1.7-1.9z"/>
<path color="#53cc7d" d="M345.1 64.4l1.7 2.1-1.3 1.5-1.6-1.9z"/>
<path color="#84cb56" d="M343.5 62.4l1.6 2-1.2 1.7-1.7-1.8z"/>
<path color="#b7c532" d="M341.8 60.3l1.7 2.1-1.3 1.9-1.6-1.9z"/>
<path color="#e2bc2b" d="M340.2 58.2l1.6 2.1-1.2 2.1-1.7-1.9z"/>
<path color="#fec338" d="M392.8 42.5l1.6-3.3-1.2 2.2-1.7 3.2z"/>
<path color="#e5bb2d" d="M391.1 45.8l1.7-3.3-1.3 2.1-1.7 3.1z"/>
<path color="#b7c532" d="M389.5 49.1l1.6-3.3-1.3 1.9-1.6 3.1z"/>
<path color="#81cc59" d="M387.8 52.3l1.7-3.2-1.3 1.7-1.7 3.1z"/>
<path color="#4ccb82" d="M386.2 55.6l1.6-3.3-1.3 1.6-1.6 3.1z"/>
<path color="#2ec5a4" d="M384.5 58.9l1.7-3.3-1.3 1.4-1.7 3.1z"/>
<path color="#0abdbe" d="M382.8 62.2l1.7-3.3-1.3 1.2-1.6 3.1z"/>
<path color="#0eb2d4" d="M381.2 65.5l1.6-3.3-1.2 1-1.7 3.1z"/>
<path color="#20a5e3" d="M379.5 68.8l1.7-3.3-1.3 .8-1.6 3.1z"/>
<path color="#2895ec" d="M377.9 72.1l1.6-3.3-1.2 .6-1.7 3.2z"/>
<path color="#2e85f8" d="M376.2 75.4l1.7-3.3-1.3 .5-1.7 3.1z"/>
<path color="#3a73fe" d="M374.6 78.7l1.6-3.3-1.3 .3-1.6 3.1z"/>
<path color="#4563fc" d="M372.9 82l1.7-3.3-1.3 .1-1.7 3.1z"/>
<path color="#4854f6" d="M371.2 85.3l1.7-3.3-1.3-.1-1.6 3.1z"/>
<path color="#4747ec" d="M369.6 88.6l1.6-3.3-1.2-.3-1.7 3.1z"/>
<path color="#463de0" d="M367.9 91.9l1.7-3.3-1.3-.5-1.6 3.1z"/>
<path color="#463de0" d="M366.3 89.6l1.6 2.3-1.2-.7-1.7-2z"/>
<path color="#4747ec" d="M364.6 87.4l1.7 2.2-1.3-.4-1.7-2.1z"/>
<path color="#4854f6" d="M363 85.1l1.6 2.3-1.3-.3-1.6-2.1z"/>
<path color="#4563fc" d="M361.3 82.9l1.7 2.2-1.3-.1-1.7-2z"/>
<path color="#3a73fe" d="M359.6 80.7l1.7 2.2-1.3 .1-1.6-2.1z"/>
<path color="#2e85f8" d="M358 78.4l1.6 2.3-1.2 .2-1.7-2z"/>
<path color="#2895ec" d="M356.3 76.2l1.7 2.2-1.3 .5-1.6-2.1z"/>
<path color="#20a5e3" d="M354.7 73.9l1.6 2.3-1.2 .6-1.7-2.1z"/>
<path color="#0eb2d4" d="M353 71.7l1.7 2.2-1.3 .8-1.6-2z"/>
<path color="#0abdbe" d="M351.4 69.4l1.6 2.3-1.2 1-1.7-2.1z"/>
<path color="#2ec5a4" d="M349.7 67.2l1.7 2.2-1.3 1.2-1.7-2.1z"/>
<path color="#4ccb82" d="M348.1 64.9l1.6 2.3-1.3 1.3-1.6-2z"/>
<path color="#81cc59" d="M346.4 62.7l1.7 2.2-1.3 1.6-1.7-2.1z"/>
<path color="#b7c532" d="M344.7 60.5l1.7 2.2-1.3 1.7-1.6-2z"/>
<path color="#e5bb2d" d="M343.1 58.2l1.6 2.3-1.2 1.9-1.7-2.1z"/>
<path color="#fec338" d="M341.4 56l1.7 2.2-1.3 2.1-1.6-2.1z"/>
<path color="#f6df29" d="M394 40.4l1.7-3.5-1.3 2.3-1.6 3.3z"/>
<path color="#fec338" d="M392.4 43.9l1.6-3.5-1.2 2.1-1.7 3.3z"/>
<path color="#e2bc2b" d="M390.7 47.3l1.7-3.4-1.3 1.9-1.6 3.3z"/>
<path color="#b0c636" d="M389.1 50.8l1.6-3.5-1.2 1.8-1.7 3.2z"/>
<path color="#75cc61" d="M387.4 54.3l1.7-3.5-1.3 1.5-1.6 3.3z"/>
<path color="#41ca8c" d="M385.8 57.8l1.6-3.5-1.2 1.3-1.7 3.3z"/>
<path color="#26c2ad" d="M384.1 61.2l1.7-3.4-1.3 1.1-1.7 3.3z"/>
<path color="#01b9c7" d="M382.4 64.7l1.7-3.5-1.3 1-1.6 3.3z"/>
<path color="#19acdc" d="M380.8 68.2l1.6-3.5-1.2 .8-1.7 3.3z"/>
<path color="#259ce7" d="M379.1 71.7l1.7-3.5-1.3 .6-1.6 3.3z"/>
<path color="#2d8bf4" d="M377.5 75.1l1.6-3.4-1.2 .4-1.7 3.3z"/>
<path color="#3579fd" d="M375.8 78.6l1.7-3.5-1.3 .3-1.6 3.3z"/>
<path color="#4367fd" d="M374.2 82.1l1.6-3.5-1.2 .1-1.7 3.3z"/>
<path color="#4757f7" d="M372.5 85.6l1.7-3.5-1.3-.1-1.7 3.3z"/>
<path color="#4849ed" d="M370.9 89.1l1.6-3.5-1.3-.3-1.6 3.3z"/>
<path color="#463de0" d="M369.2 92.5l1.7-3.4-1.3-.5-1.7 3.3z"/>
<path color="#463de0" d="M367.5 90.1l1.7 2.4-1.3-.6-1.6-2.3z"/>
<path color="#4849ed" d="M365.9 87.7l1.6 2.4-1.2-.5-1.7-2.2z"/>
<path color="#4757f7" d="M364.2 85.3l1.7 2.4-1.3-.3-1.6-2.3z"/>
<path color="#4367fd" d="M362.6 82.8l1.6 2.5-1.2-.2-1.7-2.2z"/>
<path color="#3579fd" d="M360.9 80.4l1.7 2.4-1.3 .1-1.7-2.2z"/>
<path color="#2d8bf4" d="M359.3 78l1.6 2.4-1.3 .3-1.6-2.3z"/>
<path color="#259ce7" d="M357.6 75.5l1.7 2.5-1.3 .4-1.7-2.2z"/>
<path color="#19acdc" d="M356 73.1l1.6 2.4-1.3 .7-1.6-2.3z"/>
<path color="#01b9c7" d="M354.3 70.7l1.7 2.4-1.3 .8-1.7-2.2z"/>
<path color="#26c2ad" d="M352.6 68.3l1.7 2.4-1.3 1-1.6-2.3z"/>
<path color="#41ca8c" d="M351 65.8l1.6 2.5-1.2 1.1-1.7-2.2z"/>
<path color="#75cc61" d="M349.3 63.4l1.7 2.4-1.3 1.4-1.6-2.3z"/>
<path color="#b0c636" d="M347.7 61l1.6 2.4-1.2 1.5-1.7-2.2z"/>
<path color="#e2bc2b" d="M346 58.6l1.7 2.4-1.3 1.7-1.7-2.2z"/>
<path color="#fec338" d="M344.4 56.1l1.6 2.5-1.3 1.9-1.6-2.3z"/>
<path color="#f6df29" d="M342.7 53.7l1.7 2.4-1.3 2.1-1.7-2.2z"/>
</g>
<text x="345.9" y="108.3" font-size="4.5" text-anchor="start" fill="#444">− 100</text>
<text x="371.4" y="99.9" font-size="4.5" text-anchor="start" fill="#444">0</text>
<text x="397.9" y="91.5" font-size="4.5" text-anchor="start" fill="#444">100</text>
<text x="338.1" y="108.6" font-size="4.5" text-anchor="end" fill="#444">− 100</text>
<text x="319.2" y="97.1" font-size="4.5" text-anchor="end" fill="#444">0</text>
<text x="298.9" y="86.2" font-size="4.5" text-anchor="end" fill="#444">100</text>
<text x="299.9" y="81.2" font-size="4.5" text-anchor="end" fill="#444">0</text>
<text x="299.9" y="71.9" font-size="4.5" text-anchor="end" fill="#444">2000</text>
<text x="299.9" y="62.5" font-size="4.5" text-anchor="end" fill="#444">4000</text>
<text x="299.9" y="53.2" font-size="4.5" text-anchor="end" fill="#444">6000</text>
<text x="299.9" y="43.8" font-size="4.5" text-anchor="end" fill="#444">8000</text>
<text x="299.9" y="34.5" font-size="4.5" text-anchor="end" fill="#444">10,000</text>
<text x="349.5" y="13.7" font-size="4.65" text-anchor="middle" fill="#333">Parameter space</text>
<text x="283" y="56.3" font-size="4.4" fill="#444" text-anchor="middle" transform="rotate(-90 283 56.3)">F2( x<tspan dy="1.2" font-size="3.2">1</tspan><tspan dy="-1.2"> , x</tspan><tspan dy="1.2" font-size="3.2">2</tspan><tspan dy="-1.2"> )</tspan></text>
<text x="371" y="109.1" font-size="4.6" fill="#444" text-anchor="middle">x<tspan dy="1.2" font-size="3.2">1</tspan></text>
<text x="316" y="108.6" font-size="4.6" fill="#444" text-anchor="middle">x<tspan dy="1.2" font-size="3.2">2</tspan></text>
<path d="M67.5 239.1L24.6 216.7M24.6 216.7L24.6 167.8M81.5 234.8L38.6 212.4M38.6 212.4L38.6 163.5M95.4 230.5L52.5 208.1M52.5 208.1L52.5 159.2M109.3 226.2L66.4 203.8M66.4 203.8L66.4 154.9M123.3 221.9L80.4 199.5M80.4 199.5L80.4 150.6M67.5 239.1L123.3 221.9M123.3 221.9L123.3 173M46 227.9L101.8 210.7M101.8 210.7L101.8 161.8M24.6 216.7L80.4 199.5M80.4 199.5L80.4 150.6M24.6 216.7L80.4 199.5M80.4 199.5L123.3 221.9M24.6 206.9L80.4 189.7M80.4 189.7L123.3 212.1M24.6 197.1L80.4 179.9M80.4 179.9L123.3 202.3M24.6 187.4L80.4 170.2M80.4 170.2L123.3 192.6M24.6 177.6L80.4 160.4M80.4 160.4L123.3 182.8M24.6 167.8L80.4 150.6M80.4 150.6L123.3 173" stroke="#e9e9e9" stroke-width=".5" fill="none"/>
<path d="M116.1 218.2L115.9 218.6L115.5 219L114.6 219.7L114 220L112.8 220.5L111.5 221L110.2 221.4L108.7 221.8L107.2 222.2L105.6 222.5L104.8 222.7L103.2 223L101.6 223.3L100.7 223.4L99 223.7L98.1 223.8L96.4 224.1L95.5 224.2L93.7 224.4L92.8 224.5L91.2 224.7L90 224.8L89.1 224.9L87.2 225L86.2 225.1L85.1 225.2L83.3 225.3L82.3 225.4L81.3 225.5L79.6 225.6L78.3 225.6L77.3 225.7L76.1 225.7L74.5 225.8L73.2 225.9L72.1 225.9L71.1 225.9L69.7 225.9L68.2 226L66.8 226L65.7 226L64.6 226L63.5 226L62.4 226L61 226L59.6 225.9L58.3 225.9L57 225.9L55.7 225.8L54.4 225.8L53.2 225.7L51.9 225.6L50.7 225.6L49.6 225.5L48.4 225.4L47.3 225.3L46.2 225.2L45.1 225.1L43.6 224.9L42.2 224.7L41.1 224.5L40.1 224.4L38.9 224.2L38.9 224.2" fill="none" stroke="#4747eb" stroke-width="0.45" opacity=".62"/>
<path d="M31.8 220.4L32 220L32.4 219.6L33.3 218.9L33.9 218.6L35.1 218.1L36.4 217.6L37.7 217.2L39.2 216.8L40.7 216.4L42.3 216.1L43.1 215.9L44.7 215.6L46.3 215.3L47.2 215.2L48.9 214.9L49.8 214.8L51.5 214.5L52.4 214.4L54.2 214.2L55.1 214.1L56.7 213.9L57.9 213.8L58.8 213.7L60.7 213.6L61.7 213.5L62.8 213.4L64.6 213.3L65.6 213.2L66.6 213.1L68.3 213L69.6 213L70.6 212.9L71.8 212.9L73.4 212.8L74.7 212.7L75.8 212.7L76.8 212.7L78.2 212.7L79.7 212.6L81.1 212.6L82.2 212.6L83.3 212.6L84.4 212.6L85.5 212.6L86.9 212.6L88.3 212.7L89.6 212.7L90.9 212.7L92.2 212.8L93.5 212.8L94.7 212.9L96 213L97.2 213L98.3 213.1L99.5 213.2L100.6 213.3L101.7 213.4L102.8 213.5L104.3 213.7L105.7 213.9L106.8 214.1L107.8 214.2L109 214.4L109 214.4" fill="none" stroke="#4747eb" stroke-width="0.45" opacity=".62"/>
<path d="M114 224.8L112.6 225L110.9 225.3L110.1 225.4L108.3 225.7L107.4 225.8L105.7 226L104.8 226.1L103.1 226.4L102.1 226.5L100.7 226.6L99.4 226.8L98.4 226.9L96.6 227.1L95.6 227.2L94.3 227.3L92.8 227.4L91.9 227.5L90.3 227.6L89 227.7L88 227.8L86.5 227.9L85.1 228L84.1 228.1L82.9 228.1L81.1 228.2L80.1 228.3L79 228.3L77.7 228.4L76 228.5L74.9 228.5L73.9 228.5L72.7 228.6L71.1 228.6L69.7 228.7L68.6 228.7L67.6 228.7L66.5 228.7L65 228.7L63.5 228.8L62.1 228.8L61 228.8L59.9 228.8L58.8 228.8L57.7 228.8L56.3 228.7L54.9 228.7L53.6 228.7L52.2 228.7L50.9 228.6L49.6 228.6L48.4 228.5L47.2 228.5L47.2 228.5" fill="none" stroke="#3e6fff" stroke-width="0.45" opacity=".62"/>
<path d="M33.9 213.8L35.3 213.6L37 213.3L37.8 213.2L39.6 212.9L40.5 212.8L42.2 212.6L43.1 212.5L44.8 212.2L45.8 212.1L47.2 212L48.5 211.8L49.5 211.7L51.3 211.5L52.3 211.4L53.6 211.3L55.1 211.2L56 211.1L57.6 211L58.9 210.9L59.9 210.8L61.4 210.7L62.8 210.6L63.8 210.5L65 210.5L66.8 210.4L67.8 210.3L68.9 210.3L70.2 210.2L71.9 210.1L73 210.1L74 210.1L75.2 210L76.8 210L78.2 209.9L79.3 209.9L80.3 209.9L81.4 209.9L82.9 209.9L84.4 209.8L85.8 209.8L86.9 209.8L88 209.8L89.1 209.8L90.2 209.8L91.6 209.9L93 209.9L94.3 209.9L95.7 209.9L97 210L98.3 210L99.5 210.1L100.7 210.1L100.7 210.1" fill="none" stroke="#3e6fff" stroke-width="0.45" opacity=".62"/>
<path d="M100.5 228.9L99.3 229L98.3 229.1L96.4 229.3L95.5 229.4L94.5 229.4L92.6 229.6L91.6 229.7L90.6 229.7L88.8 229.9L87.7 229.9L86.7 230L85.2 230.1L83.7 230.2L82.7 230.2L81.6 230.3L79.9 230.4L78.6 230.4L77.6 230.5L76.6 230.5L74.9 230.6L73.5 230.6L72.4 230.7L71.4 230.7L70.1 230.7L68.5 230.8L67.1 230.8L66.1 230.8L65 230.8L63.9 230.9L62.4 230.9L60.9 230.9L59.6 230.9L58.4 230.9L57.3 230.9L56.2 230.9L55.1 230.9L53.7 230.9L52.3 230.9L51.7 230.9" fill="none" stroke="#2797eb" stroke-width="0.45" opacity=".62"/>
<path d="M47.4 209.7L48.6 209.6L49.6 209.5L51.5 209.3L52.4 209.2L53.4 209.2L55.3 209L56.3 208.9L57.3 208.9L59.1 208.7L60.2 208.7L61.2 208.6L62.7 208.5L64.2 208.4L65.2 208.4L66.3 208.3L68 208.2L69.3 208.2L70.3 208.1L71.3 208.1L73 208L74.4 208L75.5 207.9L76.5 207.9L77.8 207.9L79.4 207.8L80.8 207.8L81.8 207.8L82.9 207.8L84 207.7L85.5 207.7L87 207.7L88.3 207.7L89.5 207.7L90.6 207.7L91.7 207.7L92.8 207.7L94.2 207.7L95.6 207.7L96.2 207.7" fill="none" stroke="#2797eb" stroke-width="0.45" opacity=".62"/>
<path d="M92.5 231.4L90.7 231.5L89.7 231.6L88.7 231.7L87 231.8L85.7 231.8L84.7 231.9L83.5 232L81.7 232L80.7 232.1L79.7 232.1L78.3 232.2L76.7 232.3L75.6 232.3L74.5 232.3L73.4 232.4L71.8 232.4L70.4 232.5L69.3 232.5L68.2 232.5L67 232.6L65.5 232.6L64 232.6L62.9 232.6L61.8 232.7L60.7 232.7L59.4 232.7L58 232.7L56.5 232.7L55.2 232.7L55.2 232.7" fill="none" stroke="#08b5d0" stroke-width="0.45" opacity=".62"/>
<path d="M55.4 207.2L57.2 207.1L58.2 207L59.2 206.9L60.9 206.8L62.2 206.8L63.2 206.7L64.4 206.6L66.2 206.6L67.2 206.5L68.2 206.5L69.6 206.4L71.2 206.3L72.3 206.3L73.4 206.3L74.5 206.2L76.1 206.2L77.5 206.1L78.6 206.1L79.7 206.1L80.9 206L82.4 206L83.9 206L85 206L86.1 205.9L87.2 205.9L88.5 205.9L89.9 205.9L91.4 205.9L92.7 205.9L92.7 205.9" fill="none" stroke="#08b5d0" stroke-width="0.45" opacity=".62"/>
<path d="M86.1 233.4L84.4 233.5L83.4 233.5L82.4 233.6L80.9 233.6L79.3 233.7L78.3 233.7L77.3 233.8L75.9 233.8L74.3 233.9L73.1 233.9L72.1 234L71 234L69.4 234L67.9 234.1L66.8 234.1L65.8 234.1L64.7 234.2L63.2 234.2L61.7 234.2L60.4 234.2L59.3 234.2L58.2 234.3L58.2 234.3" fill="none" stroke="#31c69f" stroke-width="0.45" opacity=".62"/>
<path d="M61.8 205.2L63.5 205.1L64.5 205.1L65.5 205L67 205L68.6 204.9L69.6 204.9L70.6 204.8L72 204.8L73.6 204.7L74.8 204.7L75.8 204.6L76.9 204.6L78.5 204.6L80 204.5L81.1 204.5L82.1 204.5L83.2 204.4L84.7 204.4L86.2 204.4L87.5 204.4L88.6 204.4L89.7 204.3L89.7 204.3" fill="none" stroke="#31c69f" stroke-width="0.45" opacity=".62"/>
<path d="M80.7 235L79 235.1L77.7 235.2L76.7 235.2L75.6 235.2L74 235.3L72.5 235.4L71.5 235.4L70.4 235.4L69.2 235.5L67.6 235.5L66.2 235.5L65.1 235.6L64.1 235.6L63 235.6L61.5 235.6L60.9 235.6" fill="none" stroke="#81cc59" stroke-width="0.45" opacity=".62"/>
<path d="M67.2 203.6L68.9 203.5L70.2 203.4L71.2 203.4L72.3 203.4L73.9 203.3L75.4 203.2L76.4 203.2L77.5 203.2L78.7 203.1L80.3 203.1L81.7 203.1L82.8 203L83.8 203L84.9 203L86.4 203L87 203" fill="none" stroke="#81cc59" stroke-width="0.45" opacity=".62"/>
<path d="M75.9 236.5L74.8 236.6L73.8 236.6L72.6 236.6L71 236.7L69.6 236.7L68.6 236.8L67.5 236.8L66.3 236.8L64.7 236.8L63.2 236.9L63.2 236.9" fill="none" stroke="#dcbd29" stroke-width="0.45" opacity=".62"/>
<path d="M72 202.1L73.1 202L74.1 202L75.3 202L76.9 201.9L78.3 201.9L79.3 201.8L80.4 201.8L81.6 201.8L83.2 201.8L84.7 201.7L84.7 201.7" fill="none" stroke="#dcbd29" stroke-width="0.45" opacity=".62"/>
<path d="M71.5 237.9L69.9 237.9L68.6 237.9L67.6 238L66.5 238L65.4 238" fill="none" stroke="#fccf30" stroke-width="0.45" opacity=".62"/>
<path d="M76.4 200.7L78 200.7L79.3 200.7L80.3 200.6L81.4 200.6L82.5 200.6" fill="none" stroke="#fccf30" stroke-width="0.45" opacity=".62"/>
<path d="M67.5 239.1L123.3 221.9" stroke="#8a8a8a" stroke-width="0.6"/>
<path d="M24.6 216.7L67.5 239.1" stroke="#8a8a8a" stroke-width="0.6"/>
<path d="M24.6 216.7L24.6 167.8" stroke="#8a8a8a" stroke-width="0.6"/>
<g fill="currentColor" stroke="currentColor" stroke-width=".4" stroke-linejoin="round" filter="url(#bl)">
<path color="#f6df29" d="M80 157.8l1.7-2.9-1.3-4.3-1.7 2.9z"/>
<path color="#fec834" d="M78.3 160.6l1.7-2.8-1.3-4.3-1.8 2.9z"/>
<path color="#f4ba39" d="M76.5 163.3l1.8-2.7-1.4-4.2-1.7 2.8z"/>
<path color="#d5be28" d="M74.8 165.9l1.7-2.6-1.3-4.1-1.8 2.7z"/>
<path color="#afc637" d="M73 168.5l1.8-2.6-1.4-4-1.7 2.7z"/>
<path color="#86cb54" d="M71.3 171l1.7-2.5-1.3-3.9-1.8 2.5z"/>
<path color="#5fcd73" d="M69.5 173.4l1.8-2.4-1.4-3.9-1.7 2.5z"/>
<path color="#40ca8d" d="M67.8 175.7l1.7-2.3-1.3-3.8-1.8 2.4z"/>
<path color="#30c5a2" d="M66 178l1.8-2.3-1.4-3.7-1.7 2.3z"/>
<path color="#1dc0b3" d="M64.3 180.1l1.7-2.1-1.3-3.7-1.7 2.3z"/>
<path color="#04bbc2" d="M62.6 182.2l1.7-2.1-1.3-3.5-1.8 2.2z"/>
<path color="#06b5cf" d="M60.8 184.3l1.8-2.1-1.4-3.4-1.7 2.1z"/>
<path color="#16afd9" d="M59.1 186.2l1.7-1.9-1.3-3.4-1.8 2z"/>
<path color="#1ea8e1" d="M57.3 188.1l1.8-1.9-1.4-3.3-1.7 2z"/>
<path color="#23a0e5" d="M55.6 189.9l1.7-1.8-1.3-3.2-1.8 1.8z"/>
<path color="#2699e9" d="M53.8 191.6l1.8-1.7-1.4-3.2-1.7 1.8z"/>
<path color="#2a92ee" d="M52.1 193.3l1.7-1.7-1.3-3.1-1.7 1.8z"/>
<path color="#2d8cf3" d="M50.4 194.8l1.7-1.5-1.3-3-1.8 1.6z"/>
<path color="#2e85f8" d="M48.6 196.3l1.8-1.5-1.4-2.9-1.7 1.6z"/>
<path color="#3080fb" d="M46.9 197.7l1.7-1.4-1.3-2.8-1.8 1.5z"/>
<path color="#347afd" d="M45.1 199.1l1.8-1.4-1.4-2.7-1.7 1.4z"/>
<path color="#3975fe" d="M43.4 200.3l1.7-1.2-1.3-2.7-1.8 1.3z"/>
<path color="#3d70ff" d="M41.6 201.5l1.8-1.2-1.4-2.6-1.7 1.3z"/>
<path color="#406cfe" d="M39.9 202.6l1.7-1.1-1.3-2.5-1.7 1.2z"/>
<path color="#4369fe" d="M38.1 203.7l1.8-1.1-1.3-2.4-1.8 1.1z"/>
<path color="#4466fd" d="M36.4 204.6l1.7-.9-1.3-2.4-1.7 1z"/>
<path color="#4563fd" d="M34.7 205.5l1.7-.9-1.3-2.3-1.8 1z"/>
<path color="#4561fc" d="M32.9 206.3l1.8-.8-1.4-2.2-1.7 .9z"/>
<path color="#4660fb" d="M31.2 207l1.7-.7-1.3-2.1-1.8 .8z"/>
<path color="#465ffb" d="M29.4 207.7l1.8-.7-1.4-2-1.7 .7z"/>
<path color="#465efb" d="M27.7 208.3l1.7-.6-1.3-2-1.8 .6z"/>
<path color="#465efb" d="M25.9 208.8l1.8-.5-1.4-2-1.7 .6z"/>
<path color="#febe3c" d="M81.3 161.8l1.8-2.8-1.4-4.1-1.7 2.9z"/>
<path color="#e4bb2c" d="M79.6 164.5l1.7-2.7-1.3-4-1.7 2.8z"/>
<path color="#c1c32c" d="M77.8 167.2l1.8-2.7-1.3-3.9-1.8 2.7z"/>
<path color="#98c947" d="M76.1 169.7l1.7-2.5-1.3-3.9-1.7 2.6z"/>
<path color="#6fcd66" d="M74.4 172.2l1.7-2.5-1.3-3.8-1.8 2.6z"/>
<path color="#4bcb83" d="M72.6 174.6l1.8-2.4-1.4-3.7-1.7 2.5z"/>
<path color="#35c79b" d="M70.9 177l1.7-2.4-1.3-3.6-1.8 2.4z"/>
<path color="#25c2ad" d="M69.1 179.2l1.8-2.2-1.4-3.6-1.7 2.3z"/>
<path color="#0abdbd" d="M67.4 181.4l1.7-2.2-1.3-3.5-1.8 2.3z"/>
<path color="#02b7cb" d="M65.6 183.5l1.8-2.1-1.4-3.4-1.7 2.1z"/>
<path color="#13b0d7" d="M63.9 185.5l1.7-2-1.3-3.4-1.7 2.1z"/>
<path color="#1ca9e0" d="M62.2 187.5l1.7-2-1.3-3.3-1.8 2.1z"/>
<path color="#22a1e4" d="M60.4 189.4l1.8-1.9-1.4-3.2-1.7 1.9z"/>
<path color="#269ae9" d="M58.7 191.2l1.7-1.8-1.3-3.2-1.8 1.9z"/>
<path color="#2a92ee" d="M56.9 192.9l1.8-1.7-1.4-3.1-1.7 1.8z"/>
<path color="#2d8bf3" d="M55.2 194.5l1.7-1.6-1.3-3-1.8 1.7z"/>
<path color="#2e85f8" d="M53.4 196.1l1.8-1.6-1.4-2.9-1.7 1.7z"/>
<path color="#307efb" d="M51.7 197.6l1.7-1.5-1.3-2.8-1.7 1.5z"/>
<path color="#3578fd" d="M50 199l1.7-1.4-1.3-2.8-1.8 1.5z"/>
<path color="#3b73fe" d="M48.2 200.3l1.8-1.3-1.4-2.7-1.7 1.4z"/>
<path color="#3f6dfe" d="M46.5 201.6l1.7-1.3-1.3-2.6-1.8 1.4z"/>
<path color="#4269fe" d="M44.7 202.8l1.8-1.2-1.4-2.5-1.7 1.2z"/>
<path color="#4465fd" d="M43 203.9l1.7-1.1-1.3-2.5-1.8 1.2z"/>
<path color="#4562fc" d="M41.2 204.9l1.8-1-1.4-2.4-1.7 1.1z"/>
<path color="#465ffb" d="M39.5 205.9l1.7-1-1.3-2.3-1.8 1.1z"/>
<path color="#465dfa" d="M37.7 206.8l1.8-.9-1.4-2.2-1.7 .9z"/>
<path color="#475bf9" d="M36 207.6l1.7-.8-1.3-2.2-1.7 .9z"/>
<path color="#475af9" d="M34.3 208.3l1.7-.7-1.3-2.1-1.8 .8z"/>
<path color="#4759f8" d="M32.5 209l1.8-.7-1.4-2-1.7 .7z"/>
<path color="#4758f8" d="M30.8 209.5l1.7-.5-1.3-2-1.8 .7z"/>
<path color="#4758f8" d="M29 210l1.8-.5-1.4-1.8-1.7 .6z"/>
<path color="#4758f8" d="M27.3 210.5l1.7-.5-1.3-1.7-1.8 .5z"/>
<path color="#d4bf28" d="M82.7 165.7l1.7-2.7-1.3-4-1.8 2.8z"/>
<path color="#adc638" d="M80.9 168.4l1.8-2.7-1.4-3.9-1.7 2.7z"/>
<path color="#82cc57" d="M79.2 170.9l1.7-2.5-1.3-3.9-1.8 2.7z"/>
<path color="#5bcc77" d="M77.4 173.4l1.8-2.5-1.4-3.7-1.7 2.5z"/>
<path color="#3cc991" d="M75.7 175.8l1.7-2.4-1.3-3.7-1.7 2.5z"/>
<path color="#2cc4a6" d="M74 178.2l1.7-2.4-1.3-3.6-1.8 2.4z"/>
<path color="#15bfb7" d="M72.2 180.4l1.8-2.2-1.4-3.6-1.7 2.4z"/>
<path color="#01b9c6" d="M70.5 182.6l1.7-2.2-1.3-3.4-1.8 2.2z"/>
<path color="#0db3d3" d="M68.7 184.7l1.8-2.1-1.4-3.4-1.7 2.2z"/>
<path color="#1aabdd" d="M67 186.7l1.7-2-1.3-3.3-1.8 2.1z"/>
<path color="#21a3e3" d="M65.2 188.7l1.8-2-1.4-3.2-1.7 2z"/>
<path color="#259be8" d="M63.5 190.6l1.7-1.9-1.3-3.2-1.7 2z"/>
<path color="#2994ed" d="M61.8 192.4l1.7-1.8-1.3-3.1-1.8 1.9z"/>
<path color="#2d8cf3" d="M60 194.1l1.8-1.7-1.4-3-1.7 1.8z"/>
<path color="#2e85f8" d="M58.3 195.7l1.7-1.6-1.3-2.9-1.8 1.7z"/>
<path color="#317efb" d="M56.5 197.3l1.8-1.6-1.4-2.8-1.7 1.6z"/>
<path color="#3678fe" d="M54.8 198.8l1.7-1.5-1.3-2.8-1.8 1.6z"/>
<path color="#3c71ff" d="M53 200.2l1.8-1.4-1.4-2.7-1.7 1.5z"/>
<path color="#406cfe" d="M51.3 201.5l1.7-1.3-1.3-2.6-1.7 1.4z"/>
<path color="#4367fd" d="M49.5 202.8l1.8-1.3-1.3-2.5-1.8 1.3z"/>
<path color="#4563fc" d="M47.8 204l1.7-1.2-1.3-2.5-1.7 1.3z"/>
<path color="#465ffb" d="M46.1 205.1l1.7-1.1-1.3-2.4-1.8 1.2z"/>
<path color="#475cfa" d="M44.3 206.1l1.8-1-1.4-2.3-1.7 1.1z"/>
<path color="#475af9" d="M42.6 207.1l1.7-1-1.3-2.2-1.8 1z"/>
<path color="#4758f8" d="M40.8 208l1.8-.9-1.4-2.2-1.7 1z"/>
<path color="#4756f6" d="M39.1 208.8l1.7-.8-1.3-2.1-1.8 .9z"/>
<path color="#4854f6" d="M37.3 209.5l1.8-.7-1.4-2-1.7 .8z"/>
<path color="#4854f5" d="M35.6 210.2l1.7-.7-1.3-1.9-1.7 .7z"/>
<path color="#4853f5" d="M33.9 210.7l1.7-.5-1.3-1.9-1.8 .7z"/>
<path color="#4853f5" d="M32.1 211.2l1.8-.5-1.4-1.7-1.7 .5z"/>
<path color="#4853f5" d="M30.4 211.7l1.7-.5-1.3-1.7-1.8 .5z"/>
<path color="#4854f5" d="M28.6 212l1.8-.3-1.4-1.7-1.7 .5z"/>
<path color="#99c946" d="M84 169.5l1.8-2.7-1.4-3.8-1.7 2.7z"/>
<path color="#6ecd67" d="M82.3 172l1.7-2.5-1.3-3.8-1.8 2.7z"/>
<path color="#49cb85" d="M80.5 174.5l1.8-2.5-1.4-3.6-1.7 2.5z"/>
<path color="#33c69d" d="M78.8 176.9l1.7-2.4-1.3-3.6-1.8 2.5z"/>
<path color="#22c1b0" d="M77 179.3l1.8-2.4-1.4-3.5-1.7 2.4z"/>
<path color="#06bcc0" d="M75.3 181.5l1.7-2.2-1.3-3.5-1.7 2.4z"/>
<path color="#06b5cf" d="M73.6 183.7l1.7-2.2-1.3-3.3-1.8 2.2z"/>
<path color="#17aeda" d="M71.8 185.8l1.8-2.1-1.4-3.3-1.7 2.2z"/>
<path color="#1fa6e2" d="M70.1 187.8l1.7-2-1.3-3.2-1.8 2.1z"/>
<path color="#249ee6" d="M68.3 189.8l1.8-2-1.4-3.1-1.7 2z"/>
<path color="#2896ec" d="M66.6 191.7l1.7-1.9-1.3-3.1-1.8 2z"/>
<path color="#2c8ef2" d="M64.8 193.5l1.8-1.8-1.4-3-1.7 1.9z"/>
<path color="#2e86f7" d="M63.1 195.2l1.7-1.7-1.3-2.9-1.7 1.8z"/>
<path color="#307ffb" d="M61.4 196.8l1.7-1.6-1.3-2.8-1.8 1.7z"/>
<path color="#3678fe" d="M59.6 198.4l1.8-1.6-1.4-2.7-1.7 1.6z"/>
<path color="#3c71ff" d="M57.9 199.9l1.7-1.5-1.3-2.7-1.8 1.6z"/>
<path color="#416bfe" d="M56.1 201.3l1.8-1.4-1.4-2.6-1.7 1.5z"/>
<path color="#4466fd" d="M54.4 202.7l1.7-1.4-1.3-2.5-1.8 1.4z"/>
<path color="#4561fc" d="M52.6 203.9l1.8-1.2-1.4-2.5-1.7 1.3z"/>
<path color="#465dfb" d="M50.9 205.1l1.7-1.2-1.3-2.4-1.8 1.3z"/>
<path color="#475af9" d="M49.1 206.2l1.8-1.1-1.4-2.3-1.7 1.2z"/>
<path color="#4757f7" d="M47.4 207.2l1.7-1-1.3-2.2-1.7 1.1z"/>
<path color="#4755f6" d="M45.7 208.2l1.7-1-1.3-2.1-1.8 1z"/>
<path color="#4853f4" d="M43.9 209.1l1.8-.9-1.4-2.1-1.7 1z"/>
<path color="#4851f3" d="M42.2 209.9l1.7-.8-1.3-2-1.8 .9z"/>
<path color="#4850f2" d="M40.4 210.6l1.8-.7-1.4-1.9-1.7 .8z"/>
<path color="#484ff2" d="M38.7 211.3l1.7-.7-1.3-1.8-1.8 .7z"/>
<path color="#484ef1" d="M36.9 211.8l1.8-.5-1.4-1.8-1.7 .7z"/>
<path color="#484ef1" d="M35.2 212.3l1.7-.5-1.3-1.6-1.7 .5z"/>
<path color="#484ef1" d="M33.4 212.8l1.8-.5-1.3-1.6-1.8 .5z"/>
<path color="#484ff2" d="M31.7 213.1l1.7-.3-1.3-1.6-1.7 .5z"/>
<path color="#4850f2" d="M30 213.4l1.7-.3-1.3-1.4-1.8 .3z"/>
<path color="#5dcc75" d="M85.4 173.1l1.7-2.6-1.3-3.7-1.8 2.7z"/>
<path color="#3cc991" d="M83.6 175.6l1.8-2.5-1.4-3.6-1.7 2.5z"/>
<path color="#2cc4a7" d="M81.9 178l1.7-2.4-1.3-3.6-1.8 2.5z"/>
<path color="#13beb8" d="M80.1 180.3l1.8-2.3-1.4-3.5-1.7 2.4z"/>
<path color="#01b8c8" d="M78.4 182.6l1.7-2.3-1.3-3.4-1.8 2.4z"/>
<path color="#11b2d5" d="M76.6 184.8l1.8-2.2-1.4-3.3-1.7 2.2z"/>
<path color="#1ca9df" d="M74.9 186.9l1.7-2.1-1.3-3.3-1.7 2.2z"/>
<path color="#23a1e4" d="M73.2 188.9l1.7-2-1.3-3.2-1.8 2.1z"/>
<path color="#2698ea" d="M71.4 190.8l1.8-1.9-1.4-3.1-1.7 2z"/>
<path color="#2b90f0" d="M69.7 192.7l1.7-1.9-1.3-3-1.8 2z"/>
<path color="#2d88f6" d="M67.9 194.5l1.8-1.8-1.4-2.9-1.7 1.9z"/>
<path color="#2f81fa" d="M66.2 196.2l1.7-1.7-1.3-2.8-1.8 1.8z"/>
<path color="#3579fd" d="M64.4 197.9l1.8-1.7-1.4-2.7-1.7 1.7z"/>
<path color="#3c72ff" d="M62.7 199.4l1.7-1.5-1.3-2.7-1.7 1.6z"/>
<path color="#416bfe" d="M60.9 200.9l1.8-1.5-1.3-2.6-1.8 1.6z"/>
<path color="#4466fd" d="M59.2 202.4l1.7-1.5-1.3-2.5-1.7 1.5z"/>
<path color="#4561fc" d="M57.5 203.7l1.7-1.3-1.3-2.5-1.8 1.4z"/>
<path color="#475cfa" d="M55.7 205l1.8-1.3-1.4-2.4-1.7 1.4z"/>
<path color="#4759f8" d="M54 206.1l1.7-1.1-1.3-2.3-1.8 1.2z"/>
<path color="#4755f6" d="M52.2 207.3l1.8-1.2-1.4-2.2-1.7 1.2z"/>
<path color="#4853f4" d="M50.5 208.3l1.7-1-1.3-2.2-1.8 1.1z"/>
<path color="#4850f3" d="M48.7 209.2l1.8-.9-1.4-2.1-1.7 1z"/>
<path color="#484ef1" d="M47 210.1l1.7-.9-1.3-2-1.7 1z"/>
<path color="#484df0" d="M45.3 210.9l1.7-.8-1.3-1.9-1.8 .9z"/>
<path color="#484bef" d="M43.5 211.7l1.8-.8-1.4-1.8-1.7 .8z"/>
<path color="#484aee" d="M41.8 212.3l1.7-.6-1.3-1.8-1.8 .7z"/>
<path color="#484aee" d="M40 212.9l1.8-.6-1.4-1.7-1.7 .7z"/>
<path color="#484aee" d="M38.3 213.4l1.7-.5-1.3-1.6-1.8 .5z"/>
<path color="#484aee" d="M36.5 213.8l1.8-.4-1.4-1.6-1.7 .5z"/>
<path color="#484aee" d="M34.8 214.2l1.7-.4-1.3-1.5-1.8 .5z"/>
<path color="#484bef" d="M33 214.4l1.8-.2-1.4-1.4-1.7 .3z"/>
<path color="#484df0" d="M31.3 214.6l1.7-.2-1.3-1.3-1.7 .3z"/>
<path color="#35c79b" d="M86.7 176.5l1.7-2.4-1.3-3.6-1.7 2.6z"/>
<path color="#23c1af" d="M85 178.9l1.7-2.4-1.3-3.4-1.8 2.5z"/>
<path color="#06bcc0" d="M83.2 181.3l1.8-2.4-1.4-3.3-1.7 2.4z"/>
<path color="#06b5cf" d="M81.5 183.5l1.7-2.2-1.3-3.3-1.8 2.3z"/>
<path color="#18aedb" d="M79.7 185.7l1.8-2.2-1.4-3.2-1.7 2.3z"/>
<path color="#20a5e2" d="M78 187.8l1.7-2.1-1.3-3.1-1.8 2.2z"/>
<path color="#259ce7" d="M76.2 189.9l1.8-2.1-1.4-3-1.7 2.1z"/>
<path color="#2994ed" d="M74.5 191.8l1.7-1.9-1.3-3-1.7 2z"/>
<path color="#2d8bf4" d="M72.8 193.7l1.7-1.9-1.3-2.9-1.8 1.9z"/>
<path color="#2e83f9" d="M71 195.5l1.8-1.8-1.4-2.9-1.7 1.9z"/>
<path color="#327bfc" d="M69.3 197.2l1.7-1.7-1.3-2.8-1.8 1.8z"/>
<path color="#3a74fe" d="M67.5 198.8l1.8-1.6-1.4-2.7-1.7 1.7z"/>
<path color="#406dfe" d="M65.8 200.4l1.7-1.6-1.3-2.6-1.8 1.7z"/>
<path color="#4466fd" d="M64 201.9l1.8-1.5-1.4-2.5-1.7 1.5z"/>
<path color="#4561fc" d="M62.3 203.3l1.7-1.4-1.3-2.5-1.8 1.5z"/>
<path color="#475cfa" d="M60.5 204.7l1.8-1.4-1.4-2.4-1.7 1.5z"/>
<path color="#4758f8" d="M58.8 205.9l1.7-1.2-1.3-2.3-1.7 1.3z"/>
<path color="#4854f6" d="M57.1 207.1l1.7-1.2-1.3-2.2-1.8 1.3z"/>
<path color="#4851f4" d="M55.3 208.2l1.8-1.1-1.4-2.1-1.7 1.1z"/>
<path color="#484ff1" d="M53.6 209.3l1.7-1.1-1.3-2.1-1.8 1.2z"/>
<path color="#484cf0" d="M51.8 210.2l1.8-.9-1.4-2-1.7 1z"/>
<path color="#484aee" d="M50.1 211.1l1.7-.9-1.3-1.9-1.8 .9z"/>
<path color="#4849ed" d="M48.3 211.9l1.8-.8-1.4-1.9-1.7 .9z"/>
<path color="#4848ec" d="M46.6 212.6l1.7-.7-1.3-1.8-1.7 .8z"/>
<path color="#4747eb" d="M44.8 213.3l1.8-.7-1.3-1.7-1.8 .8z"/>
<path color="#4746ea" d="M43.1 213.9l1.7-.6-1.3-1.6-1.7 .6z"/>
<path color="#4746ea" d="M41.4 214.4l1.7-.5-1.3-1.6-1.8 .6z"/>
<path color="#4746ea" d="M39.6 214.8l1.8-.4-1.4-1.5-1.7 .5z"/>
<path color="#4747eb" d="M37.9 215.1l1.7-.3-1.3-1.4-1.8 .4z"/>
<path color="#4848ec" d="M36.1 215.4l1.8-.3-1.4-1.3-1.7 .4z"/>
<path color="#4849ed" d="M34.4 215.6l1.7-.2-1.3-1.2-1.8 .2z"/>
<path color="#484aee" d="M32.6 215.7l1.8-.1-1.4-1.2-1.7 .2z"/>
<path color="#18bfb6" d="M88 179.8l1.8-2.4-1.4-3.3-1.7 2.4z"/>
<path color="#01b9c6" d="M86.3 182.2l1.7-2.4-1.3-3.3-1.7 2.4z"/>
<path color="#0fb2d5" d="M84.6 184.4l1.7-2.2-1.3-3.3-1.8 2.4z"/>
<path color="#1caadf" d="M82.8 186.6l1.8-2.2-1.4-3.1-1.7 2.2z"/>
<path color="#23a1e5" d="M81.1 188.7l1.7-2.1-1.3-3.1-1.8 2.2z"/>
<path color="#2798ea" d="M79.3 190.7l1.8-2-1.4-3-1.7 2.1z"/>
<path color="#2c8ff1" d="M77.6 192.7l1.7-2-1.3-2.9-1.8 2.1z"/>
<path color="#2e87f7" d="M75.8 194.6l1.8-1.9-1.4-2.8-1.7 1.9z"/>
<path color="#307efb" d="M74.1 196.4l1.7-1.8-1.3-2.8-1.7 1.9z"/>
<path color="#3776fe" d="M72.3 198.1l1.8-1.7-1.3-2.7-1.8 1.8z"/>
<path color="#3f6fff" d="M70.6 199.7l1.7-1.6-1.3-2.6-1.7 1.7z"/>
<path color="#4368fe" d="M68.9 201.3l1.7-1.6-1.3-2.5-1.8 1.6z"/>
<path color="#4562fc" d="M67.1 202.8l1.8-1.5-1.4-2.5-1.7 1.6z"/>
<path color="#465dfa" d="M65.4 204.2l1.7-1.4-1.3-2.4-1.8 1.5z"/>
<path color="#4758f8" d="M63.6 205.5l1.8-1.3-1.4-2.3-1.7 1.4z"/>
<path color="#4854f5" d="M61.9 206.8l1.7-1.3-1.3-2.2-1.8 1.4z"/>
<path color="#4851f3" d="M60.1 208l1.8-1.2-1.4-2.1-1.7 1.2z"/>
<path color="#484ef1" d="M58.4 209.1l1.7-1.1-1.3-2.1-1.7 1.2z"/>
<path color="#484bef" d="M56.7 210.1l1.7-1-1.3-2-1.8 1.1z"/>
<path color="#4849ed" d="M54.9 211.1l1.8-1-1.4-1.9-1.7 1.1z"/>
<path color="#4747eb" d="M53.2 212l1.7-.9-1.3-1.8-1.8 .9z"/>
<path color="#4745ea" d="M51.4 212.8l1.8-.8-1.4-1.8-1.7 .9z"/>
<path color="#4744e8" d="M49.7 213.5l1.7-.7-1.3-1.7-1.8 .8z"/>
<path color="#4744e8" d="M47.9 214.2l1.8-.7-1.4-1.6-1.7 .7z"/>
<path color="#4743e7" d="M46.2 214.7l1.7-.5-1.3-1.6-1.8 .7z"/>
<path color="#4743e7" d="M44.4 215.2l1.8-.5-1.4-1.4-1.7 .6z"/>
<path color="#4743e7" d="M42.7 215.7l1.7-.5-1.3-1.3-1.7 .5z"/>
<path color="#4744e8" d="M41 216l1.7-.3-1.3-1.3-1.8 .4z"/>
<path color="#4744e8" d="M39.2 216.3l1.8-.3-1.4-1.2-1.7 .3z"/>
<path color="#4745ea" d="M37.5 216.5l1.7-.2-1.3-1.2-1.8 .3z"/>
<path color="#4747eb" d="M35.7 216.6l1.8-.1-1.4-1.1-1.7 .2z"/>
<path color="#4849ed" d="M34 216.6l1.7 0-1.3-1-1.8 .1z"/>
<path color="#03b7cc" d="M89.4 183l1.7-2.3-1.3-3.3-1.8 2.4z"/>
<path color="#16afd9" d="M87.6 185.2l1.8-2.2-1.4-3.2-1.7 2.4z"/>
<path color="#1fa6e2" d="M85.9 187.4l1.7-2.2-1.3-3-1.7 2.2z"/>
<path color="#259de7" d="M84.1 189.5l1.8-2.1-1.3-3-1.8 2.2z"/>
<path color="#2994ed" d="M82.4 191.6l1.7-2.1-1.3-2.9-1.7 2.1z"/>
<path color="#2d8bf4" d="M80.7 193.5l1.7-1.9-1.3-2.9-1.8 2z"/>
<path color="#2f82f9" d="M78.9 195.4l1.8-1.9-1.4-2.8-1.7 2z"/>
<path color="#347afd" d="M77.2 197.2l1.7-1.8-1.3-2.7-1.8 1.9z"/>
<path color="#3c72ff" d="M75.4 198.9l1.8-1.7-1.4-2.6-1.7 1.8z"/>
<path color="#416afe" d="M73.7 200.5l1.7-1.6-1.3-2.5-1.8 1.7z"/>
<path color="#4564fd" d="M71.9 202.1l1.8-1.6-1.4-2.4-1.7 1.6z"/>
<path color="#465efb" d="M70.2 203.6l1.7-1.5-1.3-2.4-1.7 1.6z"/>
<path color="#4759f8" d="M68.5 205l1.7-1.4-1.3-2.3-1.8 1.5z"/>
<path color="#4755f6" d="M66.7 206.4l1.8-1.4-1.4-2.2-1.7 1.4z"/>
<path color="#4851f3" d="M65 207.6l1.7-1.2-1.3-2.2-1.8 1.3z"/>
<path color="#484df1" d="M63.2 208.8l1.8-1.2-1.4-2.1-1.7 1.3z"/>
<path color="#484aee" d="M61.5 209.9l1.7-1.1-1.3-2-1.8 1.2z"/>
<path color="#4848ec" d="M59.7 211l1.8-1.1-1.4-1.9-1.7 1.1z"/>
<path color="#4746ea" d="M58 211.9l1.7-.9-1.3-1.9-1.7 1z"/>
<path color="#4744e8" d="M56.2 212.8l1.8-.9-1.3-1.8-1.8 1z"/>
<path color="#4743e7" d="M54.5 213.6l1.7-.8-1.3-1.7-1.7 .9z"/>
<path color="#4742e6" d="M52.8 214.3l1.7-.7-1.3-1.6-1.8 .8z"/>
<path color="#4741e5" d="M51 215l1.8-.7-1.4-1.5-1.7 .7z"/>
<path color="#4740e4" d="M49.3 215.6l1.7-.6-1.3-1.5-1.8 .7z"/>
<path color="#4740e4" d="M47.5 216.1l1.8-.5-1.4-1.4-1.7 .5z"/>
<path color="#4740e4" d="M45.8 216.5l1.7-.4-1.3-1.4-1.8 .5z"/>
<path color="#4741e5" d="M44 216.8l1.8-.3-1.4-1.3-1.7 .5z"/>
<path color="#4742e6" d="M42.3 217.1l1.7-.3-1.3-1.1-1.7 .3z"/>
<path color="#4743e7" d="M40.6 217.3l1.7-.2-1.3-1.1-1.8 .3z"/>
<path color="#4744e8" d="M38.8 217.4l1.8-.1-1.4-1-1.7 .2z"/>
<path color="#4746ea" d="M37.1 217.4l1.7 0-1.3-.9-1.8 .1z"/>
<path color="#4848ec" d="M35.3 217.4l1.8 0-1.4-.8-1.7 0z"/>
<path color="#1aacdd" d="M90.7 186l1.8-2.3-1.4-3-1.7 2.3z"/>
<path color="#21a3e4" d="M89 188.2l1.7-2.2-1.3-3-1.8 2.2z"/>
<path color="#2699e9" d="M87.2 190.3l1.8-2.1-1.4-3-1.7 2.2z"/>
<path color="#2b90f0" d="M85.5 192.3l1.7-2-1.3-2.9-1.8 2.1z"/>
<path color="#2d87f7" d="M83.7 194.2l1.8-1.9-1.4-2.8-1.7 2.1z"/>
<path color="#307ffb" d="M82 196.1l1.7-1.9-1.3-2.6-1.7 1.9z"/>
<path color="#3876fe" d="M80.3 197.9l1.7-1.8-1.3-2.6-1.8 1.9z"/>
<path color="#3f6eff" d="M78.5 199.6l1.8-1.7-1.4-2.5-1.7 1.8z"/>
<path color="#4367fd" d="M76.8 201.3l1.7-1.7-1.3-2.4-1.8 1.7z"/>
<path color="#4661fc" d="M75 202.8l1.8-1.5-1.4-2.4-1.7 1.6z"/>
<path color="#475bf9" d="M73.3 204.3l1.7-1.5-1.3-2.3-1.8 1.6z"/>
<path color="#4756f7" d="M71.5 205.8l1.8-1.5-1.4-2.2-1.7 1.5z"/>
<path color="#4852f4" d="M69.8 207.1l1.7-1.3-1.3-2.2-1.7 1.4z"/>
<path color="#484ef1" d="M68.1 208.4l1.7-1.3-1.3-2.1-1.8 1.4z"/>
<path color="#484bee" d="M66.3 209.5l1.8-1.1-1.4-2-1.7 1.2z"/>
<path color="#4848ec" d="M64.6 210.7l1.7-1.2-1.3-1.9-1.8 1.2z"/>
<path color="#4745e9" d="M62.8 211.7l1.8-1-1.4-1.9-1.7 1.1z"/>
<path color="#4743e7" d="M61.1 212.6l1.7-.9-1.3-1.8-1.8 1.1z"/>
<path color="#4742e6" d="M59.3 213.5l1.8-.9-1.4-1.6-1.7 .9z"/>
<path color="#4740e4" d="M57.6 214.3l1.7-.8-1.3-1.6-1.8 .9z"/>
<path color="#473fe3" d="M55.8 215.1l1.8-.8-1.4-1.5-1.7 .8z"/>
<path color="#473fe2" d="M54.1 215.7l1.7-.6-1.3-1.5-1.7 .7z"/>
<path color="#473ee1" d="M52.4 216.3l1.7-.6-1.3-1.4-1.8 .7z"/>
<path color="#473ee1" d="M50.6 216.8l1.8-.5-1.4-1.3-1.7 .6z"/>
<path color="#473ee1" d="M48.9 217.2l1.7-.4-1.3-1.2-1.8 .5z"/>
<path color="#473fe2" d="M47.1 217.6l1.8-.4-1.4-1.1-1.7 .4z"/>
<path color="#473fe3" d="M45.4 217.8l1.7-.2-1.3-1.1-1.8 .3z"/>
<path color="#4740e4" d="M43.6 218l1.8-.2-1.4-1-1.7 .3z"/>
<path color="#4742e6" d="M41.9 218.1l1.7-.1-1.3-.9-1.7 .2z"/>
<path color="#4743e7" d="M40.2 218.2l1.7-.1-1.3-.8-1.8 .1z"/>
<path color="#4745e9" d="M38.4 218.1l1.8 .1-1.4-.8-1.7 0z"/>
<path color="#4848ec" d="M36.7 218l1.7 .1-1.3-.7-1.8 0z"/>
<path color="#23a0e5" d="M92.1 188.8l1.7-2.2-1.3-2.9-1.8 2.3z"/>
<path color="#2796eb" d="M90.3 190.9l1.8-2.1-1.4-2.8-1.7 2.2z"/>
<path color="#2d8df2" d="M88.6 192.9l1.7-2-1.3-2.7-1.8 2.1z"/>
<path color="#2e84f8" d="M86.8 194.9l1.8-2-1.4-2.6-1.7 2z"/>
<path color="#327bfc" d="M85.1 196.8l1.7-1.9-1.3-2.6-1.8 1.9z"/>
<path color="#3b73fe" d="M83.3 198.6l1.8-1.8-1.4-2.6-1.7 1.9z"/>
<path color="#416bfe" d="M81.6 200.3l1.7-1.7-1.3-2.5-1.7 1.8z"/>
<path color="#4564fd" d="M79.9 201.9l1.7-1.6-1.3-2.4-1.8 1.7z"/>
<path color="#465efb" d="M78.1 203.5l1.8-1.6-1.4-2.3-1.7 1.7z"/>
<path color="#4758f8" d="M76.4 205l1.7-1.5-1.3-2.2-1.8 1.5z"/>
<path color="#4854f5" d="M74.6 206.4l1.8-1.4-1.4-2.2-1.7 1.5z"/>
<path color="#484ff2" d="M72.9 207.8l1.7-1.4-1.3-2.1-1.8 1.5z"/>
<path color="#484cef" d="M71.1 209l1.8-1.2-1.4-2-1.7 1.3z"/>
<path color="#4848ec" d="M69.4 210.2l1.7-1.2-1.3-1.9-1.7 1.3z"/>
<path color="#4745ea" d="M67.6 211.3l1.8-1.1-1.3-1.8-1.8 1.1z"/>
<path color="#4743e7" d="M65.9 212.3l1.7-1-1.3-1.8-1.7 1.2z"/>
<path color="#4741e5" d="M64.2 213.3l1.7-1-1.3-1.6-1.8 1z"/>
<path color="#4740e3" d="M62.4 214.2l1.8-.9-1.4-1.6-1.7 .9z"/>
<path color="#473ee2" d="M60.7 215l1.7-.8-1.3-1.6-1.8 .9z"/>
<path color="#463de0" d="M58.9 215.7l1.8-.7-1.4-1.5-1.7 .8z"/>
<path color="#463de0" d="M57.2 216.4l1.7-.7-1.3-1.4-1.8 .8z"/>
<path color="#463ddf" d="M55.4 216.9l1.8-.5-1.4-1.3-1.7 .6z"/>
<path color="#463cdf" d="M53.7 217.4l1.7-.5-1.3-1.2-1.7 .6z"/>
<path color="#463ddf" d="M52 217.9l1.7-.5-1.3-1.1-1.8 .5z"/>
<path color="#463de0" d="M50.2 218.2l1.8-.3-1.4-1.1-1.7 .4z"/>
<path color="#463de0" d="M48.5 218.5l1.7-.3-1.3-1-1.8 .4z"/>
<path color="#473ee2" d="M46.7 218.7l1.8-.2-1.4-.9-1.7 .2z"/>
<path color="#4740e3" d="M45 218.8l1.7-.1-1.3-.9-1.8 .2z"/>
<path color="#4741e5" d="M43.2 218.8l1.8 0-1.4-.8-1.7 .1z"/>
<path color="#4743e7" d="M41.5 218.8l1.7 0-1.3-.7-1.7 .1z"/>
<path color="#4745ea" d="M39.8 218.7l1.7 .1-1.3-.6-1.8-.1z"/>
<path color="#4848ec" d="M38 218.5l1.8 .2-1.4-.6-1.7-.1z"/>
<path color="#2994ed" d="M93.4 191.5l1.7-2.1-1.3-2.8-1.7 2.2z"/>
<path color="#2d8af4" d="M91.7 193.5l1.7-2-1.3-2.7-1.8 2.1z"/>
<path color="#2f81fa" d="M89.9 195.5l1.8-2-1.4-2.6-1.7 2z"/>
<path color="#3578fd" d="M88.2 197.4l1.7-1.9-1.3-2.6-1.8 2z"/>
<path color="#3e70ff" d="M86.4 199.2l1.8-1.8-1.4-2.5-1.7 1.9z"/>
<path color="#4368fe" d="M84.7 200.9l1.7-1.7-1.3-2.4-1.8 1.8z"/>
<path color="#4561fc" d="M82.9 202.5l1.8-1.6-1.4-2.3-1.7 1.7z"/>
<path color="#475bf9" d="M81.2 204.1l1.7-1.6-1.3-2.2-1.7 1.6z"/>
<path color="#4756f7" d="M79.5 205.6l1.7-1.5-1.3-2.2-1.8 1.6z"/>
<path color="#4851f4" d="M77.7 207l1.8-1.4-1.4-2.1-1.7 1.5z"/>
<path color="#484df0" d="M76 208.3l1.7-1.3-1.3-2-1.8 1.4z"/>
<path color="#4849ed" d="M74.2 209.6l1.8-1.3-1.4-1.9-1.7 1.4z"/>
<path color="#4746ea" d="M72.5 210.8l1.7-1.2-1.3-1.8-1.8 1.2z"/>
<path color="#4744e8" d="M70.7 211.9l1.8-1.1-1.4-1.8-1.7 1.2z"/>
<path color="#4741e5" d="M69 212.9l1.7-1-1.3-1.7-1.8 1.1z"/>
<path color="#473fe3" d="M67.2 213.9l1.8-1-1.4-1.6-1.7 1z"/>
<path color="#463ee1" d="M65.5 214.8l1.7-.9-1.3-1.6-1.7 1z"/>
<path color="#463de0" d="M63.8 215.6l1.7-.8-1.3-1.5-1.8 .9z"/>
<path color="#463cdf" d="M62 216.3l1.8-.7-1.4-1.4-1.7 .8z"/>
<path color="#463bde" d="M60.3 217l1.7-.7-1.3-1.3-1.8 .7z"/>
<path color="#463bdd" d="M58.5 217.5l1.8-.5-1.4-1.3-1.7 .7z"/>
<path color="#463bdd" d="M56.8 218l1.7-.5-1.3-1.1-1.8 .5z"/>
<path color="#463bdd" d="M55 218.5l1.8-.5-1.4-1.1-1.7 .5z"/>
<path color="#463bde" d="M53.3 218.8l1.7-.3-1.3-1.1-1.7 .5z"/>
<path color="#463cdf" d="M51.6 219.1l1.7-.3-1.3-.9-1.8 .3z"/>
<path color="#463de0" d="M49.8 219.3l1.8-.2-1.4-.9-1.7 .3z"/>
<path color="#463ee1" d="M48.1 219.4l1.7-.1-1.3-.8-1.8 .2z"/>
<path color="#473fe3" d="M46.3 219.4l1.8 0-1.4-.7-1.7 .1z"/>
<path color="#4741e5" d="M44.6 219.4l1.7 0-1.3-.6-1.8 0z"/>
<path color="#4744e8" d="M42.8 219.3l1.8 .1-1.4-.6-1.7 0z"/>
<path color="#4746ea" d="M41.1 219.1l1.7 .2-1.3-.5-1.7-.1z"/>
<path color="#4849ed" d="M39.3 218.8l1.8 .3-1.3-.4-1.8-.2z"/>
<path color="#2d88f6" d="M94.7 194l1.8-2-1.4-2.6-1.7 2.1z"/>
<path color="#307ffb" d="M93 196l1.7-2-1.3-2.5-1.7 2z"/>
<path color="#3876fe" d="M91.3 197.9l1.7-1.9-1.3-2.5-1.8 2z"/>
<path color="#406dfe" d="M89.5 199.7l1.8-1.8-1.4-2.4-1.7 1.9z"/>
<path color="#4466fd" d="M87.8 201.4l1.7-1.7-1.3-2.3-1.8 1.8z"/>
<path color="#465ffb" d="M86 203l1.8-1.6-1.4-2.2-1.7 1.7z"/>
<path color="#4759f8" d="M84.3 204.6l1.7-1.6-1.3-2.1-1.8 1.6z"/>
<path color="#4854f5" d="M82.5 206.1l1.8-1.5-1.4-2.1-1.7 1.6z"/>
<path color="#484ff2" d="M80.8 207.5l1.7-1.4-1.3-2-1.7 1.5z"/>
<path color="#484bef" d="M79 208.8l1.8-1.3-1.3-1.9-1.8 1.4z"/>
<path color="#4848ec" d="M77.3 210.1l1.7-1.3-1.3-1.8-1.7 1.3z"/>
<path color="#4745e9" d="M75.6 211.3l1.7-1.2-1.3-1.8-1.8 1.3z"/>
<path color="#4742e6" d="M73.8 212.4l1.8-1.1-1.4-1.7-1.7 1.2z"/>
<path color="#4740e3" d="M72.1 213.4l1.7-1-1.3-1.6-1.8 1.1z"/>
<path color="#473ee1" d="M70.3 214.4l1.8-1-1.4-1.5-1.7 1z"/>
<path color="#463ddf" d="M68.6 215.3l1.7-.9-1.3-1.5-1.8 1z"/>
<path color="#463cde" d="M66.8 216.1l1.8-.8-1.4-1.4-1.7 .9z"/>
<path color="#463bdd" d="M65.1 216.8l1.7-.7-1.3-1.3-1.7 .8z"/>
<path color="#463bdc" d="M63.4 217.5l1.7-.7-1.3-1.2-1.8 .7z"/>
<path color="#463adc" d="M61.6 218l1.8-.5-1.4-1.2-1.7 .7z"/>
<path color="#463adb" d="M59.9 218.5l1.7-.5-1.3-1-1.8 .5z"/>
<path color="#463adc" d="M58.1 219l1.8-.5-1.4-1-1.7 .5z"/>
<path color="#463bdc" d="M56.4 219.3l1.7-.3-1.3-1-1.8 .5z"/>
<path color="#463bdd" d="M54.6 219.6l1.8-.3-1.4-.8-1.7 .3z"/>
<path color="#463cde" d="M52.9 219.8l1.7-.2-1.3-.8-1.7 .3z"/>
<path color="#463ddf" d="M51.2 219.9l1.7-.1-1.3-.7-1.8 .2z"/>
<path color="#473ee1" d="M49.4 219.9l1.8 0-1.4-.6-1.7 .1z"/>
<path color="#4740e3" d="M47.7 219.9l1.7 0-1.3-.5-1.8 0z"/>
<path color="#4742e6" d="M45.9 219.8l1.8 .1-1.4-.5-1.7 0z"/>
<path color="#4745e9" d="M44.2 219.6l1.7 .2-1.3-.4-1.8-.1z"/>
<path color="#4848ec" d="M42.4 219.3l1.8 .3-1.4-.3-1.7-.2z"/>
<path color="#484bef" d="M40.7 219l1.7 .3-1.3-.2-1.8-.3z"/>
<path color="#317dfc" d="M96.1 196.4l1.7-1.9-1.3-2.5-1.8 2z"/>
<path color="#3a74fe" d="M94.3 198.3l1.8-1.9-1.4-2.4-1.7 2z"/>
<path color="#416bfe" d="M92.6 200.1l1.7-1.8-1.3-2.3-1.7 1.9z"/>
<path color="#4564fd" d="M90.9 201.8l1.7-1.7-1.3-2.2-1.8 1.8z"/>
<path color="#465dfb" d="M89.1 203.5l1.8-1.7-1.4-2.1-1.7 1.7z"/>
<path color="#4758f8" d="M87.4 205l1.7-1.5-1.3-2.1-1.8 1.6z"/>
<path color="#4853f4" d="M85.6 206.5l1.8-1.5-1.4-2-1.7 1.6z"/>
<path color="#484ef1" d="M83.9 207.9l1.7-1.4-1.3-1.9-1.8 1.5z"/>
<path color="#484aee" d="M82.1 209.3l1.8-1.4-1.4-1.8-1.7 1.4z"/>
<path color="#4746eb" d="M80.4 210.5l1.7-1.2-1.3-1.8-1.8 1.3z"/>
<path color="#4743e7" d="M78.6 211.7l1.8-1.2-1.4-1.7-1.7 1.3z"/>
<path color="#4741e5" d="M76.9 212.8l1.7-1.1-1.3-1.6-1.7 1.2z"/>
<path color="#473fe2" d="M75.2 213.9l1.7-1.1-1.3-1.5-1.8 1.1z"/>
<path color="#463de0" d="M73.4 214.8l1.8-.9-1.4-1.5-1.7 1z"/>
<path color="#463cde" d="M71.7 215.7l1.7-.9-1.3-1.4-1.8 1z"/>
<path color="#463bdd" d="M69.9 216.5l1.8-.8-1.4-1.3-1.7 .9z"/>
<path color="#463adc" d="M68.2 217.2l1.7-.7-1.3-1.2-1.8 .8z"/>
<path color="#463adb" d="M66.4 217.9l1.8-.7-1.4-1.1-1.7 .7z"/>
<path color="#463ada" d="M64.7 218.5l1.7-.6-1.3-1.1-1.7 .7z"/>
<path color="#463ada" d="M63 219l1.7-.5-1.3-1-1.8 .5z"/>
<path color="#463ada" d="M61.2 219.4l1.8-.4-1.4-1-1.7 .5z"/>
<path color="#463adb" d="M59.5 219.7l1.7-.3-1.3-.9-1.8 .5z"/>
<path color="#463adc" d="M57.7 220l1.8-.3-1.4-.7-1.7 .3z"/>
<path color="#463bdd" d="M56 220.2l1.7-.2-1.3-.7-1.8 .3z"/>
<path color="#463cde" d="M54.2 220.3l1.8-.1-1.4-.6-1.7 .2z"/>
<path color="#463de0" d="M52.5 220.4l1.7-.1-1.3-.5-1.7 .1z"/>
<path color="#473fe2" d="M50.7 220.3l1.8 .1-1.3-.5-1.8 0z"/>
<path color="#4741e5" d="M49 220.2l1.7 .1-1.3-.4-1.7 0z"/>
<path color="#4743e7" d="M47.3 220l1.7 .2-1.3-.3-1.8-.1z"/>
<path color="#4746eb" d="M45.5 219.8l1.8 .2-1.4-.2-1.7-.2z"/>
<path color="#484aee" d="M43.8 219.4l1.7 .4-1.3-.2-1.8-.3z"/>
<path color="#484ef1" d="M42 219l1.8 .4-1.4-.1-1.7-.3z"/>
<path color="#3b72fe" d="M97.4 198.6l1.8-1.8-1.4-2.3-1.7 1.9z"/>
<path color="#426afe" d="M95.7 200.4l1.7-1.8-1.3-2.2-1.8 1.9z"/>
<path color="#4563fc" d="M93.9 202.2l1.8-1.8-1.4-2.1-1.7 1.8z"/>
<path color="#475cfa" d="M92.2 203.8l1.7-1.6-1.3-2.1-1.7 1.7z"/>
<path color="#4757f7" d="M90.4 205.4l1.8-1.6-1.3-2-1.8 1.7z"/>
<path color="#4851f4" d="M88.7 206.9l1.7-1.5-1.3-1.9-1.7 1.5z"/>
<path color="#484df0" d="M87 208.3l1.7-1.4-1.3-1.9-1.8 1.5z"/>
<path color="#4849ed" d="M85.2 209.6l1.8-1.3-1.4-1.8-1.7 1.4z"/>
<path color="#4745ea" d="M83.5 210.9l1.7-1.3-1.3-1.7-1.8 1.4z"/>
<path color="#4742e7" d="M81.7 212.1l1.8-1.2-1.4-1.6-1.7 1.2z"/>
<path color="#4740e4" d="M80 213.2l1.7-1.1-1.3-1.6-1.8 1.2z"/>
<path color="#463ee1" d="M78.2 214.2l1.8-1-1.4-1.5-1.7 1.1z"/>
<path color="#463cdf" d="M76.5 215.2l1.7-1-1.3-1.4-1.7 1.1z"/>
<path color="#463bdd" d="M74.8 216.1l1.7-.9-1.3-1.3-1.8 .9z"/>
<path color="#463adc" d="M73 216.9l1.8-.8-1.4-1.3-1.7 .9z"/>
<path color="#463adb" d="M71.3 217.6l1.7-.7-1.3-1.2-1.8 .8z"/>
<path color="#4639da" d="M69.5 218.2l1.8-.6-1.4-1.1-1.7 .7z"/>
<path color="#4639da" d="M67.8 218.8l1.7-.6-1.3-1-1.8 .7z"/>
<path color="#4639d9" d="M66 219.3l1.8-.5-1.4-.9-1.7 .6z"/>
<path color="#4639da" d="M64.3 219.7l1.7-.4-1.3-.8-1.7 .5z"/>
<path color="#4639da" d="M62.6 220.1l1.7-.4-1.3-.7-1.8 .4z"/>
<path color="#463adb" d="M60.8 220.4l1.8-.3-1.4-.7-1.7 .3z"/>
<path color="#463adc" d="M59.1 220.6l1.7-.2-1.3-.7-1.8 .3z"/>
<path color="#463bdd" d="M57.3 220.7l1.8-.1-1.4-.6-1.7 .2z"/>
<path color="#463cdf" d="M55.6 220.7l1.7 0-1.3-.5-1.8 .1z"/>
<path color="#463ee1" d="M53.8 220.7l1.8 0-1.4-.4-1.7 .1z"/>
<path color="#4740e4" d="M52.1 220.6l1.7 .1-1.3-.3-1.8-.1z"/>
<path color="#4742e7" d="M50.3 220.4l1.8 .2-1.4-.3-1.7-.1z"/>
<path color="#4745ea" d="M48.6 220.1l1.7 .3-1.3-.2-1.7-.2z"/>
<path color="#4849ed" d="M46.9 219.8l1.7 .3-1.3-.1-1.8-.2z"/>
<path color="#484df0" d="M45.1 219.4l1.8 .4-1.4 0-1.7-.4z"/>
<path color="#4851f4" d="M43.4 218.9l1.7 .5-1.3 0-1.8-.4z"/>
<path color="#4269fe" d="M98.8 200.7l1.7-1.8-1.3-2.1-1.8 1.8z"/>
<path color="#4562fc" d="M97 202.4l1.8-1.7-1.4-2.1-1.7 1.8z"/>
<path color="#475bfa" d="M95.3 204.1l1.7-1.7-1.3-2-1.8 1.8z"/>
<path color="#4756f6" d="M93.5 205.7l1.8-1.6-1.4-1.9-1.7 1.6z"/>
<path color="#4851f3" d="M91.8 207.1l1.7-1.4-1.3-1.9-1.8 1.6z"/>
<path color="#484cf0" d="M90 208.6l1.8-1.5-1.4-1.7-1.7 1.5z"/>
<path color="#4848ec" d="M88.3 209.9l1.7-1.3-1.3-1.7-1.7 1.4z"/>
<path color="#4745e9" d="M86.6 211.2l1.7-1.3-1.3-1.6-1.8 1.3z"/>
<path color="#4742e6" d="M84.8 212.4l1.8-1.2-1.4-1.6-1.7 1.3z"/>
<path color="#473fe3" d="M83.1 213.5l1.7-1.1-1.3-1.5-1.8 1.2z"/>
<path color="#463de0" d="M81.3 214.5l1.8-1-1.4-1.4-1.7 1.1z"/>
<path color="#463cde" d="M79.6 215.5l1.7-1-1.3-1.3-1.8 1z"/>
<path color="#463bdc" d="M77.8 216.3l1.8-.8-1.4-1.3-1.7 1z"/>
<path color="#463adb" d="M76.1 217.1l1.7-.8-1.3-1.1-1.7 .9z"/>
<path color="#4639da" d="M74.4 217.9l1.7-.8-1.3-1-1.8 .8z"/>
<path color="#4639d9" d="M72.6 218.5l1.8-.6-1.4-1-1.7 .7z"/>
<path color="#4639d9" d="M70.9 219.1l1.7-.6-1.3-.9-1.8 .6z"/>
<path color="#4539d9" d="M69.1 219.6l1.8-.5-1.4-.9-1.7 .6z"/>
<path color="#4639d9" d="M67.4 220l1.7-.4-1.3-.8-1.8 .5z"/>
<path color="#4639d9" d="M65.6 220.4l1.8-.4-1.4-.7-1.7 .4z"/>
<path color="#4639da" d="M63.9 220.6l1.7-.2-1.3-.7-1.7 .4z"/>
<path color="#463adb" d="M62.1 220.8l1.8-.2-1.3-.5-1.8 .3z"/>
<path color="#463bdc" d="M60.4 220.9l1.7-.1-1.3-.4-1.7 .2z"/>
<path color="#463cde" d="M58.7 221l1.7-.1-1.3-.3-1.8 .1z"/>
<path color="#463de0" d="M56.9 221l1.8 0-1.4-.3-1.7 0z"/>
<path color="#473fe3" d="M55.2 220.8l1.7 .2-1.3-.3-1.8 0z"/>
<path color="#4742e6" d="M53.4 220.7l1.8 .1-1.4-.1-1.7-.1z"/>
<path color="#4745e9" d="M51.7 220.4l1.7 .3-1.3-.1-1.8-.2z"/>
<path color="#4848ec" d="M49.9 220l1.8 .4-1.4 0-1.7-.3z"/>
<path color="#484cf0" d="M48.2 219.6l1.7 .4-1.3 .1-1.7-.3z"/>
<path color="#4851f3" d="M46.5 219.1l1.7 .5-1.3 .2-1.8-.4z"/>
<path color="#4756f6" d="M44.7 218.6l1.8 .5-1.4 .3-1.7-.5z"/>
<path color="#4561fc" d="M100.1 202.6l1.7-1.7-1.3-2-1.7 1.8z"/>
<path color="#475bf9" d="M98.4 204.3l1.7-1.7-1.3-1.9-1.8 1.7z"/>
<path color="#4755f6" d="M96.6 205.9l1.8-1.6-1.4-1.9-1.7 1.7z"/>
<path color="#4850f3" d="M94.9 207.3l1.7-1.4-1.3-1.8-1.8 1.6z"/>
<path color="#484cef" d="M93.1 208.8l1.8-1.5-1.4-1.6-1.7 1.4z"/>
<path color="#4848ec" d="M91.4 210.1l1.7-1.3-1.3-1.7-1.8 1.5z"/>
<path color="#4744e9" d="M89.6 211.4l1.8-1.3-1.4-1.5-1.7 1.3z"/>
<path color="#4742e6" d="M87.9 212.6l1.7-1.2-1.3-1.5-1.7 1.3z"/>
<path color="#473fe3" d="M86.2 213.7l1.7-1.1-1.3-1.4-1.8 1.2z"/>
<path color="#463de0" d="M84.4 214.7l1.8-1-1.4-1.3-1.7 1.1z"/>
<path color="#463cde" d="M82.7 215.7l1.7-1-1.3-1.2-1.8 1z"/>
<path color="#463bdc" d="M80.9 216.5l1.8-.8-1.4-1.2-1.7 1z"/>
<path color="#463adb" d="M79.2 217.3l1.7-.8-1.3-1-1.8 .8z"/>
<path color="#4639da" d="M77.4 218.1l1.8-.8-1.4-1-1.7 .8z"/>
<path color="#4639d9" d="M75.7 218.7l1.7-.6-1.3-1-1.7 .8z"/>
<path color="#4539d9" d="M74 219.3l1.7-.6-1.3-.8-1.8 .6z"/>
<path color="#4539d9" d="M72.2 219.8l1.8-.5-1.4-.8-1.7 .6z"/>
<path color="#4539d9" d="M70.5 220.2l1.7-.4-1.3-.7-1.8 .5z"/>
<path color="#4639d9" d="M68.7 220.6l1.8-.4-1.4-.6-1.7 .4z"/>
<path color="#4639da" d="M67 220.8l1.7-.2-1.3-.6-1.8 .4z"/>
<path color="#463adb" d="M65.2 221l1.8-.2-1.4-.4-1.7 .2z"/>
<path color="#463bdc" d="M63.5 221.1l1.7-.1-1.3-.4-1.8 .2z"/>
<path color="#463cde" d="M61.7 221.2l1.8-.1-1.4-.3-1.7 .1z"/>
<path color="#463de0" d="M60 221.2l1.7 0-1.3-.3-1.7 .1z"/>
<path color="#473fe3" d="M58.3 221l1.7 .2-1.3-.2-1.8 0z"/>
<path color="#4742e6" d="M56.5 220.9l1.8 .1-1.4 0-1.7-.2z"/>
<path color="#4744e9" d="M54.8 220.6l1.7 .3-1.3-.1-1.8-.1z"/>
<path color="#4848ec" d="M53 220.2l1.8 .4-1.4 .1-1.7-.3z"/>
<path color="#484cef" d="M51.3 219.8l1.7 .4-1.3 .2-1.8-.4z"/>
<path color="#4850f3" d="M49.5 219.3l1.8 .5-1.4 .2-1.7-.4z"/>
<path color="#4755f6" d="M47.8 218.8l1.7 .5-1.3 .3-1.7-.5z"/>
<path color="#475bf9" d="M46 218.1l1.8 .7-1.3 .3-1.8-.5z"/>
<path color="#475bf9" d="M101.4 204.4l1.8-1.6-1.4-1.9-1.7 1.7z"/>
<path color="#4755f6" d="M99.7 206l1.7-1.6-1.3-1.8-1.7 1.7z"/>
<path color="#4850f3" d="M98 207.5l1.7-1.5-1.3-1.7-1.8 1.6z"/>
<path color="#484cef" d="M96.2 208.9l1.8-1.4-1.4-1.6-1.7 1.4z"/>
<path color="#4848ec" d="M94.5 210.2l1.7-1.3-1.3-1.6-1.8 1.5z"/>
<path color="#4744e9" d="M92.7 211.5l1.8-1.3-1.4-1.4-1.7 1.3z"/>
<path color="#4742e6" d="M91 212.7l1.7-1.2-1.3-1.4-1.8 1.3z"/>
<path color="#473fe3" d="M89.2 213.8l1.8-1.1-1.4-1.3-1.7 1.2z"/>
<path color="#463de0" d="M87.5 214.8l1.7-1-1.3-1.2-1.7 1.1z"/>
<path color="#463cde" d="M85.8 215.8l1.7-1-1.3-1.1-1.8 1z"/>
<path color="#463bdc" d="M84 216.7l1.8-.9-1.4-1.1-1.7 1z"/>
<path color="#463adb" d="M82.3 217.5l1.7-.8-1.3-1-1.8 .8z"/>
<path color="#4639da" d="M80.5 218.2l1.8-.7-1.4-1-1.7 .8z"/>
<path color="#4639d9" d="M78.8 218.8l1.7-.6-1.3-.9-1.8 .8z"/>
<path color="#4539d9" d="M77 219.4l1.8-.6-1.4-.7-1.7 .6z"/>
<path color="#4539d9" d="M75.3 219.9l1.7-.5-1.3-.7-1.7 .6z"/>
<path color="#4539d9" d="M73.5 220.3l1.8-.4-1.3-.6-1.8 .5z"/>
<path color="#4639d9" d="M71.8 220.7l1.7-.4-1.3-.5-1.7 .4z"/>
<path color="#4639da" d="M70.1 221l1.7-.3-1.3-.5-1.8 .4z"/>
<path color="#463adb" d="M68.3 221.2l1.8-.2-1.4-.4-1.7 .2z"/>
<path color="#463bdc" d="M66.6 221.3l1.7-.1-1.3-.4-1.8 .2z"/>
<path color="#463cde" d="M64.8 221.3l1.8 0-1.4-.3-1.7 .1z"/>
<path color="#463de0" d="M63.1 221.3l1.7 0-1.3-.2-1.8 .1z"/>
<path color="#473fe3" d="M61.3 221.2l1.8 .1-1.4-.1-1.7 0z"/>
<path color="#4742e6" d="M59.6 221l1.7 .2-1.3 0-1.7-.2z"/>
<path color="#4744e9" d="M57.9 220.7l1.7 .3-1.3 0-1.8-.1z"/>
<path color="#4848ec" d="M56.1 220.4l1.8 .3-1.4 .2-1.7-.3z"/>
<path color="#484cef" d="M54.4 220l1.7 .4-1.3 .2-1.8-.4z"/>
<path color="#4850f3" d="M52.6 219.5l1.8 .5-1.4 .2-1.7-.4z"/>
<path color="#4755f6" d="M50.9 218.9l1.7 .6-1.3 .3-1.8-.5z"/>
<path color="#475bf9" d="M49.1 218.2l1.8 .7-1.4 .4-1.7-.5z"/>
<path color="#4561fc" d="M47.4 217.5l1.7 .7-1.3 .6-1.8-.7z"/>
<path color="#4756f6" d="M102.8 206l1.7-1.5-1.3-1.7-1.8 1.6z"/>
<path color="#4851f3" d="M101 207.5l1.8-1.5-1.4-1.6-1.7 1.6z"/>
<path color="#484cf0" d="M99.3 208.9l1.7-1.4-1.3-1.5-1.7 1.5z"/>
<path color="#4848ec" d="M97.6 210.3l1.7-1.4-1.3-1.4-1.8 1.4z"/>
<path color="#4745e9" d="M95.8 211.5l1.8-1.2-1.4-1.4-1.7 1.3z"/>
<path color="#4742e6" d="M94.1 212.7l1.7-1.2-1.3-1.3-1.8 1.3z"/>
<path color="#473fe3" d="M92.3 213.8l1.8-1.1-1.4-1.2-1.7 1.2z"/>
<path color="#463de0" d="M90.6 214.9l1.7-1.1-1.3-1.1-1.8 1.1z"/>
<path color="#463cde" d="M88.8 215.8l1.8-.9-1.4-1.1-1.7 1z"/>
<path color="#463bdc" d="M87.1 216.7l1.7-.9-1.3-1-1.7 1z"/>
<path color="#463adb" d="M85.4 217.5l1.7-.8-1.3-.9-1.8 .9z"/>
<path color="#4639da" d="M83.6 218.2l1.8-.7-1.4-.8-1.7 .8z"/>
<path color="#4639d9" d="M81.9 218.9l1.7-.7-1.3-.7-1.8 .7z"/>
<path color="#4639d9" d="M80.1 219.5l1.8-.6-1.4-.7-1.7 .6z"/>
<path color="#4539d9" d="M78.4 220l1.7-.5-1.3-.7-1.8 .6z"/>
<path color="#4639d9" d="M76.6 220.4l1.8-.4-1.4-.6-1.7 .5z"/>
<path color="#4639d9" d="M74.9 220.7l1.7-.3-1.3-.5-1.8 .4z"/>
<path color="#4639da" d="M73.1 221l1.8-.3-1.4-.4-1.7 .4z"/>
<path color="#463adb" d="M71.4 221.2l1.7-.2-1.3-.3-1.7 .3z"/>
<path color="#463bdc" d="M69.7 221.3l1.7-.1-1.3-.2-1.8 .2z"/>
<path color="#463cde" d="M67.9 221.4l1.8-.1-1.4-.1-1.7 .1z"/>
<path color="#463de0" d="M66.2 221.3l1.7 .1-1.3-.1-1.8 0z"/>
<path color="#473fe3" d="M64.4 221.2l1.8 .1-1.4 0-1.7 0z"/>
<path color="#4742e6" d="M62.7 221l1.7 .2-1.3 .1-1.8-.1z"/>
<path color="#4745e9" d="M60.9 220.8l1.8 .2-1.4 .2-1.7-.2z"/>
<path color="#4848ec" d="M59.2 220.4l1.7 .4-1.3 .2-1.7-.3z"/>
<path color="#484cf0" d="M57.4 220l1.8 .4-1.3 .3-1.8-.3z"/>
<path color="#4851f3" d="M55.7 219.5l1.7 .5-1.3 .4-1.7-.4z"/>
<path color="#4756f6" d="M54 218.9l1.7 .6-1.3 .5-1.8-.5z"/>
<path color="#475bfa" d="M52.2 218.3l1.8 .6-1.4 .6-1.7-.6z"/>
<path color="#4562fc" d="M50.5 217.6l1.7 .7-1.3 .6-1.8-.7z"/>
<path color="#4269fe" d="M48.7 216.8l1.8 .8-1.4 .6-1.7-.7z"/>
<path color="#4851f4" d="M104.1 207.5l1.8-1.5-1.4-1.5-1.7 1.5z"/>
<path color="#484df0" d="M102.4 208.9l1.7-1.4-1.3-1.5-1.8 1.5z"/>
<path color="#4849ed" d="M100.6 210.2l1.8-1.3-1.4-1.4-1.7 1.4z"/>
<path color="#4745ea" d="M98.9 211.5l1.7-1.3-1.3-1.3-1.7 1.4z"/>
<path color="#4742e7" d="M97.2 212.7l1.7-1.2-1.3-1.2-1.8 1.2z"/>
<path color="#4740e4" d="M95.4 213.8l1.8-1.1-1.4-1.2-1.7 1.2z"/>
<path color="#463ee1" d="M93.7 214.8l1.7-1-1.3-1.1-1.8 1.1z"/>
<path color="#463cdf" d="M91.9 215.8l1.8-1-1.4-1-1.7 1.1z"/>
<path color="#463bdd" d="M90.2 216.7l1.7-.9-1.3-.9-1.8 .9z"/>
<path color="#463adc" d="M88.4 217.5l1.8-.8-1.4-.9-1.7 .9z"/>
<path color="#463adb" d="M86.7 218.2l1.7-.7-1.3-.8-1.7 .8z"/>
<path color="#4639da" d="M84.9 218.9l1.8-.7-1.3-.7-1.8 .7z"/>
<path color="#4639da" d="M83.2 219.4l1.7-.5-1.3-.7-1.7 .7z"/>
<path color="#4639d9" d="M81.5 219.9l1.7-.5-1.3-.5-1.8 .6z"/>
<path color="#4639da" d="M79.7 220.4l1.8-.5-1.4-.4-1.7 .5z"/>
<path color="#4639da" d="M78 220.7l1.7-.3-1.3-.4-1.8 .4z"/>
<path color="#463adb" d="M76.2 221l1.8-.3-1.4-.3-1.7 .3z"/>
<path color="#463adc" d="M74.5 221.2l1.7-.2-1.3-.3-1.8 .3z"/>
<path color="#463bdd" d="M72.7 221.3l1.8-.1-1.4-.2-1.7 .2z"/>
<path color="#463cdf" d="M71 221.3l1.7 0-1.3-.1-1.7 .1z"/>
<path color="#463ee1" d="M69.3 221.3l1.7 0-1.3 0-1.8 .1z"/>
<path color="#4740e4" d="M67.5 221.2l1.8 .1-1.4 .1-1.7-.1z"/>
<path color="#4742e7" d="M65.8 221l1.7 .2-1.3 .1-1.8-.1z"/>
<path color="#4745ea" d="M64 220.7l1.8 .3-1.4 .2-1.7-.2z"/>
<path color="#4849ed" d="M62.3 220.4l1.7 .3-1.3 .3-1.8-.2z"/>
<path color="#484df0" d="M60.5 220l1.8 .4-1.4 .4-1.7-.4z"/>
<path color="#4851f4" d="M58.8 219.5l1.7 .5-1.3 .4-1.8-.4z"/>
<path color="#4757f7" d="M57 218.9l1.8 .6-1.4 .5-1.7-.5z"/>
<path color="#475cfa" d="M55.3 218.3l1.7 .6-1.3 .6-1.7-.6z"/>
<path color="#4563fc" d="M53.6 217.5l1.7 .8-1.3 .6-1.8-.6z"/>
<path color="#426afe" d="M51.8 216.7l1.8 .8-1.4 .8-1.7-.7z"/>
<path color="#3b72fe" d="M50.1 215.9l1.7 .8-1.3 .9-1.8-.8z"/>
<path color="#484ef1" d="M105.5 208.8l1.7-1.4-1.3-1.4-1.8 1.5z"/>
<path color="#484aee" d="M103.7 210.1l1.8-1.3-1.4-1.3-1.7 1.4z"/>
<path color="#4746eb" d="M102 211.4l1.7-1.3-1.3-1.2-1.8 1.3z"/>
<path color="#4743e7" d="M100.2 212.6l1.8-1.2-1.4-1.2-1.7 1.3z"/>
<path color="#4741e5" d="M98.5 213.7l1.7-1.1-1.3-1.1-1.7 1.2z"/>
<path color="#473fe2" d="M96.8 214.7l1.7-1-1.3-1-1.8 1.1z"/>
<path color="#463de0" d="M95 215.7l1.8-1-1.4-.9-1.7 1z"/>
<path color="#463cde" d="M93.3 216.6l1.7-.9-1.3-.9-1.8 1z"/>
<path color="#463bdd" d="M91.5 217.4l1.8-.8-1.4-.8-1.7 .9z"/>
<path color="#463adc" d="M89.8 218.1l1.7-.7-1.3-.7-1.8 .8z"/>
<path color="#463adb" d="M88 218.8l1.8-.7-1.4-.6-1.7 .7z"/>
<path color="#463ada" d="M86.3 219.3l1.7-.5-1.3-.6-1.8 .7z"/>
<path color="#463ada" d="M84.5 219.8l1.8-.5-1.4-.4-1.7 .5z"/>
<path color="#463ada" d="M82.8 220.3l1.7-.5-1.3-.4-1.7 .5z"/>
<path color="#463adb" d="M81.1 220.6l1.7-.3-1.3-.4-1.8 .5z"/>
<path color="#463adc" d="M79.3 220.9l1.8-.3-1.4-.2-1.7 .3z"/>
<path color="#463bdd" d="M77.6 221.1l1.7-.2-1.3-.2-1.8 .3z"/>
<path color="#463cde" d="M75.8 221.2l1.8-.1-1.4-.1-1.7 .2z"/>
<path color="#463de0" d="M74.1 221.2l1.7 0-1.3 0-1.8 .1z"/>
<path color="#473fe2" d="M72.3 221.2l1.8 0-1.4 .1-1.7 0z"/>
<path color="#4741e5" d="M70.6 221.1l1.7 .1-1.3 .1-1.7 0z"/>
<path color="#4743e7" d="M68.8 220.9l1.8 .2-1.3 .2-1.8-.1z"/>
<path color="#4746eb" d="M67.1 220.6l1.7 .3-1.3 .3-1.7-.2z"/>
<path color="#484aee" d="M65.4 220.3l1.7 .3-1.3 .4-1.8-.3z"/>
<path color="#484ef1" d="M63.6 219.9l1.8 .4-1.4 .4-1.7-.3z"/>
<path color="#4853f4" d="M61.9 219.4l1.7 .5-1.3 .5-1.8-.4z"/>
<path color="#4758f8" d="M60.1 218.8l1.8 .6-1.4 .6-1.7-.5z"/>
<path color="#465dfb" d="M58.4 218.2l1.7 .6-1.3 .7-1.8-.6z"/>
<path color="#4564fd" d="M56.6 217.4l1.8 .8-1.4 .7-1.7-.6z"/>
<path color="#416bfe" d="M54.9 216.6l1.7 .8-1.3 .9-1.7-.8z"/>
<path color="#3a74fe" d="M53.2 215.8l1.7 .8-1.3 .9-1.8-.8z"/>
<path color="#317dfc" d="M51.4 214.8l1.8 1-1.4 .9-1.7-.8z"/>
<path color="#484bef" d="M106.8 210l1.8-1.4-1.4-1.2-1.7 1.4z"/>
<path color="#4848ec" d="M105.1 211.2l1.7-1.2-1.3-1.2-1.8 1.3z"/>
<path color="#4745e9" d="M103.3 212.4l1.8-1.2-1.4-1.1-1.7 1.3z"/>
<path color="#4742e6" d="M101.6 213.5l1.7-1.1-1.3-1-1.8 1.2z"/>
<path color="#4740e3" d="M99.8 214.6l1.8-1.1-1.4-.9-1.7 1.1z"/>
<path color="#473ee1" d="M98.1 215.5l1.7-.9-1.3-.9-1.7 1z"/>
<path color="#463ddf" d="M96.3 216.4l1.8-.9-1.3-.8-1.8 1z"/>
<path color="#463cde" d="M94.6 217.2l1.7-.8-1.3-.7-1.7 .9z"/>
<path color="#463bdd" d="M92.9 217.9l1.7-.7-1.3-.6-1.8 .8z"/>
<path color="#463bdc" d="M91.1 218.6l1.8-.7-1.4-.5-1.7 .7z"/>
<path color="#463adc" d="M89.4 219.2l1.7-.6-1.3-.5-1.8 .7z"/>
<path color="#463adb" d="M87.6 219.7l1.8-.5-1.4-.4-1.7 .5z"/>
<path color="#463adc" d="M85.9 220.1l1.7-.4-1.3-.4-1.8 .5z"/>
<path color="#463bdc" d="M84.1 220.4l1.8-.3-1.4-.3-1.7 .5z"/>
<path color="#463bdd" d="M82.4 220.7l1.7-.3-1.3-.1-1.7 .3z"/>
<path color="#463cde" d="M80.7 220.9l1.7-.2-1.3-.1-1.8 .3z"/>
<path color="#463ddf" d="M78.9 221l1.8-.1-1.4 0-1.7 .2z"/>
<path color="#473ee1" d="M77.2 221l1.7 0-1.3 .1-1.8 .1z"/>
<path color="#4740e3" d="M75.4 221l1.8 0-1.4 .2-1.7 0z"/>
<path color="#4742e6" d="M73.7 220.9l1.7 .1-1.3 .2-1.8 0z"/>
<path color="#4745e9" d="M71.9 220.7l1.8 .2-1.4 .3-1.7-.1z"/>
<path color="#4848ec" d="M70.2 220.4l1.7 .3-1.3 .4-1.8-.2z"/>
<path color="#484bef" d="M68.4 220.1l1.8 .3-1.4 .5-1.7-.3z"/>
<path color="#484ff2" d="M66.7 219.7l1.7 .4-1.3 .5-1.7-.3z"/>
<path color="#4854f5" d="M65 219.2l1.7 .5-1.3 .6-1.8-.4z"/>
<path color="#4759f8" d="M63.2 218.6l1.8 .6-1.4 .7-1.7-.5z"/>
<path color="#465ffb" d="M61.5 218l1.7 .6-1.3 .8-1.8-.6z"/>
<path color="#4466fd" d="M59.7 217.3l1.8 .7-1.4 .8-1.7-.6z"/>
<path color="#406dfe" d="M58 216.5l1.7 .8-1.3 .9-1.8-.8z"/>
<path color="#3876fe" d="M56.2 215.6l1.8 .9-1.4 .9-1.7-.8z"/>
<path color="#307ffb" d="M54.5 214.6l1.7 1-1.3 1-1.7-.8z"/>
<path color="#2d88f6" d="M52.8 213.6l1.7 1-1.3 1.2-1.8-1z"/>
<path color="#4849ed" d="M108.2 211l1.7-1.3-1.3-1.1-1.8 1.4z"/>
<path color="#4746ea" d="M106.4 212.2l1.8-1.2-1.4-1-1.7 1.2z"/>
<path color="#4744e8" d="M104.7 213.3l1.7-1.1-1.3-1-1.8 1.2z"/>
<path color="#4741e5" d="M102.9 214.3l1.8-1-1.4-.9-1.7 1.1z"/>
<path color="#473fe3" d="M101.2 215.3l1.7-1-1.3-.8-1.8 1.1z"/>
<path color="#463ee1" d="M99.4 216.1l1.8-.8-1.4-.7-1.7 .9z"/>
<path color="#463de0" d="M97.7 216.9l1.7-.8-1.3-.6-1.8 .9z"/>
<path color="#463cdf" d="M95.9 217.7l1.8-.8-1.4-.5-1.7 .8z"/>
<path color="#463bde" d="M94.2 218.3l1.7-.6-1.3-.5-1.7 .7z"/>
<path color="#463bdd" d="M92.5 218.9l1.7-.6-1.3-.4-1.8 .7z"/>
<path color="#463bdd" d="M90.7 219.4l1.8-.5-1.4-.3-1.7 .6z"/>
<path color="#463bdd" d="M89 219.8l1.7-.4-1.3-.2-1.8 .5z"/>
<path color="#463bde" d="M87.2 220.2l1.8-.4-1.4-.1-1.7 .4z"/>
<path color="#463cdf" d="M85.5 220.4l1.7-.2-1.3-.1-1.8 .3z"/>
<path color="#463de0" d="M83.7 220.6l1.8-.2-1.4 0-1.7 .3z"/>
<path color="#463ee1" d="M82 220.7l1.7-.1-1.3 .1-1.7 .2z"/>
<path color="#473fe3" d="M80.2 220.8l1.8-.1-1.3 .2-1.8 .1z"/>
<path color="#4741e5" d="M78.5 220.8l1.7 0-1.3 .2-1.7 0z"/>
<path color="#4744e8" d="M76.8 220.6l1.7 .2-1.3 .2-1.8 0z"/>
<path color="#4746ea" d="M75 220.5l1.8 .1-1.4 .4-1.7-.1z"/>
<path color="#4849ed" d="M73.3 220.2l1.7 .3-1.3 .4-1.8-.2z"/>
<path color="#484df0" d="M71.5 219.8l1.8 .4-1.4 .5-1.7-.3z"/>
<path color="#4851f4" d="M69.8 219.4l1.7 .4-1.3 .6-1.8-.3z"/>
<path color="#4756f7" d="M68 218.9l1.8 .5-1.4 .7-1.7-.4z"/>
<path color="#475bf9" d="M66.3 218.4l1.7 .5-1.3 .8-1.7-.5z"/>
<path color="#4561fc" d="M64.6 217.7l1.7 .7-1.3 .8-1.8-.6z"/>
<path color="#4368fe" d="M62.8 217l1.8 .7-1.4 .9-1.7-.6z"/>
<path color="#3e70ff" d="M61.1 216.2l1.7 .8-1.3 1-1.8-.7z"/>
<path color="#3578fd" d="M59.3 215.3l1.8 .9-1.4 1.1-1.7-.8z"/>
<path color="#2f81fa" d="M57.6 214.4l1.7 .9-1.3 1.2-1.8-.9z"/>
<path color="#2d8af4" d="M55.8 213.3l1.8 1.1-1.4 1.2-1.7-1z"/>
<path color="#2994ed" d="M54.1 212.2l1.7 1.1-1.3 1.3-1.7-1z"/>
<path color="#4848ec" d="M109.5 211.8l1.7-1.2-1.3-.9-1.7 1.3z"/>
<path color="#4745ea" d="M107.7 212.9l1.8-1.1-1.3-.8-1.8 1.2z"/>
<path color="#4743e7" d="M106 214l1.7-1.1-1.3-.7-1.7 1.1z"/>
<path color="#4741e5" d="M104.3 214.9l1.7-.9-1.3-.7-1.8 1z"/>
<path color="#4740e3" d="M102.5 215.8l1.8-.9-1.4-.6-1.7 1z"/>
<path color="#473ee2" d="M100.8 216.6l1.7-.8-1.3-.5-1.8 .8z"/>
<path color="#463de0" d="M99 217.3l1.8-.7-1.4-.5-1.7 .8z"/>
<path color="#463de0" d="M97.3 218l1.7-.7-1.3-.4-1.8 .8z"/>
<path color="#463ddf" d="M95.5 218.6l1.8-.6-1.4-.3-1.7 .6z"/>
<path color="#463cdf" d="M93.8 219.1l1.7-.5-1.3-.3-1.7 .6z"/>
<path color="#463ddf" d="M92.1 219.5l1.7-.4-1.3-.2-1.8 .5z"/>
<path color="#463de0" d="M90.3 219.8l1.8-.3-1.4-.1-1.7 .4z"/>
<path color="#463de0" d="M88.6 220.1l1.7-.3-1.3 0-1.8 .4z"/>
<path color="#473ee2" d="M86.8 220.3l1.8-.2-1.4 .1-1.7 .2z"/>
<path color="#4740e3" d="M85.1 220.4l1.7-.1-1.3 .1-1.8 .2z"/>
<path color="#4741e5" d="M83.3 220.5l1.8-.1-1.4 .2-1.7 .1z"/>
<path color="#4743e7" d="M81.6 220.4l1.7 .1-1.3 .2-1.8 .1z"/>
<path color="#4745ea" d="M79.8 220.3l1.8 .1-1.4 .4-1.7 0z"/>
<path color="#4848ec" d="M78.1 220.1l1.7 .2-1.3 .5-1.7-.2z"/>
<path color="#484cef" d="M76.4 219.9l1.7 .2-1.3 .5-1.8-.1z"/>
<path color="#484ff2" d="M74.6 219.5l1.8 .4-1.4 .6-1.7-.3z"/>
<path color="#4854f5" d="M72.9 219.1l1.7 .4-1.3 .7-1.8-.4z"/>
<path color="#4758f8" d="M71.1 218.6l1.8 .5-1.4 .7-1.7-.4z"/>
<path color="#465efb" d="M69.4 218l1.7 .6-1.3 .8-1.8-.5z"/>
<path color="#4564fd" d="M67.6 217.4l1.8 .6-1.4 .9-1.7-.5z"/>
<path color="#416bfe" d="M65.9 216.7l1.7 .7-1.3 1-1.7-.7z"/>
<path color="#3b73fe" d="M64.2 215.9l1.7 .8-1.3 1-1.8-.7z"/>
<path color="#327bfc" d="M62.4 215l1.8 .9-1.4 1.1-1.7-.8z"/>
<path color="#2e84f8" d="M60.7 214l1.7 1-1.3 1.2-1.8-.9z"/>
<path color="#2d8df2" d="M58.9 213l1.8 1-1.4 1.3-1.7-.9z"/>
<path color="#2796eb" d="M57.2 211.9l1.7 1.1-1.3 1.4-1.8-1.1z"/>
<path color="#23a0e5" d="M55.4 210.7l1.8 1.2-1.4 1.4-1.7-1.1z"/>
<path color="#4848ec" d="M110.8 212.5l1.8-1.1-1.4-.8-1.7 1.2z"/>
<path color="#4745e9" d="M109.1 213.6l1.7-1.1-1.3-.7-1.8 1.1z"/>
<path color="#4743e7" d="M107.3 214.5l1.8-.9-1.4-.7-1.7 1.1z"/>
<path color="#4742e6" d="M105.6 215.4l1.7-.9-1.3-.5-1.7 .9z"/>
<path color="#4740e4" d="M103.9 216.2l1.7-.8-1.3-.5-1.8 .9z"/>
<path color="#473fe3" d="M102.1 216.9l1.8-.7-1.4-.4-1.7 .8z"/>
<path color="#473fe2" d="M100.4 217.6l1.7-.7-1.3-.3-1.8 .7z"/>
<path color="#473ee1" d="M98.6 218.2l1.8-.6-1.4-.3-1.7 .7z"/>
<path color="#473ee1" d="M96.9 218.7l1.7-.5-1.3-.2-1.8 .6z"/>
<path color="#473ee1" d="M95.1 219.1l1.8-.4-1.4-.1-1.7 .5z"/>
<path color="#473fe2" d="M93.4 219.4l1.7-.3-1.3 0-1.7 .4z"/>
<path color="#473fe3" d="M91.6 219.7l1.8-.3-1.3 .1-1.8 .3z"/>
<path color="#4740e4" d="M89.9 219.9l1.7-.2-1.3 .1-1.7 .3z"/>
<path color="#4742e6" d="M88.2 220l1.7-.1-1.3 .2-1.8 .2z"/>
<path color="#4743e7" d="M86.4 220l1.8 0-1.4 .3-1.7 .1z"/>
<path color="#4745e9" d="M84.7 220l1.7 0-1.3 .4-1.8 .1z"/>
<path color="#4848ec" d="M82.9 219.9l1.8 .1-1.4 .5-1.7-.1z"/>
<path color="#484bee" d="M81.2 219.7l1.7 .2-1.3 .5-1.8-.1z"/>
<path color="#484ef1" d="M79.4 219.4l1.8 .3-1.4 .6-1.7-.2z"/>
<path color="#4852f4" d="M77.7 219.1l1.7 .3-1.3 .7-1.7-.2z"/>
<path color="#4756f7" d="M76 218.7l1.7 .4-1.3 .8-1.8-.4z"/>
<path color="#475bf9" d="M74.2 218.2l1.8 .5-1.4 .8-1.7-.4z"/>
<path color="#4661fc" d="M72.5 217.6l1.7 .6-1.3 .9-1.8-.5z"/>
<path color="#4367fd" d="M70.7 217l1.8 .6-1.4 1-1.7-.6z"/>
<path color="#3f6eff" d="M69 216.3l1.7 .7-1.3 1-1.8-.6z"/>
<path color="#3876fe" d="M67.2 215.5l1.8 .8-1.4 1.1-1.7-.7z"/>
<path color="#307ffb" d="M65.5 214.6l1.7 .9-1.3 1.2-1.7-.8z"/>
<path color="#2d87f7" d="M63.7 213.6l1.8 1-1.3 1.3-1.8-.9z"/>
<path color="#2b90f0" d="M62 212.6l1.7 1-1.3 1.4-1.7-1z"/>
<path color="#2699e9" d="M60.3 211.5l1.7 1.1-1.3 1.4-1.8-1z"/>
<path color="#21a3e4" d="M58.5 210.3l1.8 1.2-1.4 1.5-1.7-1.1z"/>
<path color="#1aacdd" d="M56.8 209l1.7 1.3-1.3 1.6-1.8-1.2z"/>
<path color="#4848ec" d="M112.2 213.1l1.7-1.1-1.3-.6-1.8 1.1z"/>
<path color="#4746ea" d="M110.4 214l1.8-.9-1.4-.6-1.7 1.1z"/>
<path color="#4744e8" d="M108.7 214.9l1.7-.9-1.3-.4-1.8 .9z"/>
<path color="#4743e7" d="M106.9 215.7l1.8-.8-1.4-.4-1.7 .9z"/>
<path color="#4742e6" d="M105.2 216.4l1.7-.7-1.3-.3-1.7 .8z"/>
<path color="#4741e5" d="M103.5 217.1l1.7-.7-1.3-.2-1.8 .7z"/>
<path color="#4740e4" d="M101.7 217.7l1.8-.6-1.4-.2-1.7 .7z"/>
<path color="#4740e4" d="M100 218.2l1.7-.5-1.3-.1-1.8 .6z"/>
<path color="#4740e4" d="M98.2 218.6l1.8-.4-1.4 0-1.7 .5z"/>
<path color="#4741e5" d="M96.5 218.9l1.7-.3-1.3 .1-1.8 .4z"/>
<path color="#4742e6" d="M94.7 219.2l1.8-.3-1.4 .2-1.7 .3z"/>
<path color="#4743e7" d="M93 219.4l1.7-.2-1.3 .2-1.8 .3z"/>
<path color="#4744e8" d="M91.2 219.5l1.8-.1-1.4 .3-1.7 .2z"/>
<path color="#4746ea" d="M89.5 219.6l1.7-.1-1.3 .4-1.7 .1z"/>
<path color="#4848ec" d="M87.8 219.5l1.7 .1-1.3 .4-1.8 0z"/>
<path color="#484aee" d="M86 219.4l1.8 .1-1.4 .5-1.7 0z"/>
<path color="#484df1" d="M84.3 219.2l1.7 .2-1.3 .6-1.8-.1z"/>
<path color="#4851f3" d="M82.5 219l1.8 .2-1.4 .7-1.7-.2z"/>
<path color="#4755f6" d="M80.8 218.6l1.7 .4-1.3 .7-1.8-.3z"/>
<path color="#4759f8" d="M79 218.2l1.8 .4-1.4 .8-1.7-.3z"/>
<path color="#465efb" d="M77.3 217.7l1.7 .5-1.3 .9-1.7-.4z"/>
<path color="#4564fd" d="M75.6 217.1l1.7 .6-1.3 1-1.8-.5z"/>
<path color="#416afe" d="M73.8 216.5l1.8 .6-1.4 1.1-1.7-.6z"/>
<path color="#3c72ff" d="M72.1 215.8l1.7 .7-1.3 1.1-1.8-.6z"/>
<path color="#347afd" d="M70.3 215l1.8 .8-1.4 1.2-1.7-.7z"/>
<path color="#2f82f9" d="M68.6 214.1l1.7 .9-1.3 1.3-1.8-.8z"/>
<path color="#2d8bf4" d="M66.8 213.1l1.8 1-1.4 1.4-1.7-.9z"/>
<path color="#2994ed" d="M65.1 212.1l1.7 1-1.3 1.5-1.8-1z"/>
<path color="#259de7" d="M63.3 211l1.8 1.1-1.4 1.5-1.7-1z"/>
<path color="#1fa6e2" d="M61.6 209.8l1.7 1.2-1.3 1.6-1.7-1.1z"/>
<path color="#16afd9" d="M59.9 208.6l1.7 1.2-1.3 1.7-1.8-1.2z"/>
<path color="#03b7cc" d="M58.1 207.2l1.8 1.4-1.4 1.7-1.7-1.3z"/>
<path color="#4849ed" d="M113.5 213.5l1.8-1-1.4-.5-1.7 1.1z"/>
<path color="#4747eb" d="M111.8 214.3l1.7-.8-1.3-.4-1.8 .9z"/>
<path color="#4745ea" d="M110 215.1l1.8-.8-1.4-.3-1.7 .9z"/>
<path color="#4744e8" d="M108.3 215.9l1.7-.8-1.3-.2-1.8 .8z"/>
<path color="#4744e8" d="M106.5 216.5l1.8-.6-1.4-.2-1.7 .7z"/>
<path color="#4743e7" d="M104.8 217.1l1.7-.6-1.3-.1-1.7 .7z"/>
<path color="#4743e7" d="M103 217.6l1.8-.5-1.3 0-1.8 .6z"/>
<path color="#4743e7" d="M101.3 218l1.7-.4-1.3 .1-1.7 .5z"/>
<path color="#4744e8" d="M99.6 218.4l1.7-.4-1.3 .2-1.8 .4z"/>
<path color="#4744e8" d="M97.8 218.6l1.8-.2-1.4 .2-1.7 .3z"/>
<path color="#4745ea" d="M96.1 218.8l1.7-.2-1.3 .3-1.8 .3z"/>
<path color="#4747eb" d="M94.3 219l1.8-.2-1.4 .4-1.7 .2z"/>
<path color="#4849ed" d="M92.6 219l1.7 0-1.3 .4-1.8 .1z"/>
<path color="#484bef" d="M90.8 219l1.8 0-1.4 .5-1.7 .1z"/>
<path color="#484ef1" d="M89.1 218.8l1.7 .2-1.3 .6-1.7-.1z"/>
<path color="#4851f3" d="M87.4 218.7l1.7 .1-1.3 .7-1.8-.1z"/>
<path color="#4854f5" d="M85.6 218.4l1.8 .3-1.4 .7-1.7-.2z"/>
<path color="#4758f8" d="M83.9 218.1l1.7 .3-1.3 .8-1.8-.2z"/>
<path color="#465dfa" d="M82.1 217.6l1.8 .5-1.4 .9-1.7-.4z"/>
<path color="#4562fc" d="M80.4 217.1l1.7 .5-1.3 1-1.8-.4z"/>
<path color="#4368fe" d="M78.6 216.6l1.8 .5-1.4 1.1-1.7-.5z"/>
<path color="#3f6fff" d="M76.9 215.9l1.7 .7-1.3 1.1-1.7-.6z"/>
<path color="#3776fe" d="M75.1 215.2l1.8 .7-1.3 1.2-1.8-.6z"/>
<path color="#307efb" d="M73.4 214.4l1.7 .8-1.3 1.3-1.7-.7z"/>
<path color="#2e87f7" d="M71.7 213.5l1.7 .9-1.3 1.4-1.8-.8z"/>
<path color="#2c8ff1" d="M69.9 212.6l1.8 .9-1.4 1.5-1.7-.9z"/>
<path color="#2798ea" d="M68.2 211.5l1.7 1.1-1.3 1.5-1.8-1z"/>
<path color="#23a1e5" d="M66.4 210.4l1.8 1.1-1.4 1.6-1.7-1z"/>
<path color="#1caadf" d="M64.7 209.3l1.7 1.1-1.3 1.7-1.8-1.1z"/>
<path color="#0fb2d5" d="M62.9 208l1.8 1.3-1.4 1.7-1.7-1.2z"/>
<path color="#01b9c6" d="M61.2 206.7l1.7 1.3-1.3 1.8-1.7-1.2z"/>
<path color="#18bfb6" d="M59.5 205.3l1.7 1.4-1.3 1.9-1.8-1.4z"/>
<path color="#484aee" d="M114.9 213.7l1.7-.9-1.3-.3-1.8 1z"/>
<path color="#4849ed" d="M113.1 214.5l1.8-.8-1.4-.2-1.7 .8z"/>
<path color="#4848ec" d="M111.4 215.2l1.7-.7-1.3-.2-1.8 .8z"/>
<path color="#4747eb" d="M109.6 215.9l1.8-.7-1.4-.1-1.7 .8z"/>
<path color="#4746ea" d="M107.9 216.5l1.7-.6-1.3 0-1.8 .6z"/>
<path color="#4746ea" d="M106.1 217l1.8-.5-1.4 0-1.7 .6z"/>
<path color="#4746ea" d="M104.4 217.4l1.7-.4-1.3 .1-1.8 .5z"/>
<path color="#4747eb" d="M102.6 217.7l1.8-.3-1.4 .2-1.7 .4z"/>
<path color="#4848ec" d="M100.9 218l1.7-.3-1.3 .3-1.7 .4z"/>
<path color="#4849ed" d="M99.2 218.2l1.7-.2-1.3 .4-1.8 .2z"/>
<path color="#484aee" d="M97.4 218.3l1.8-.1-1.4 .4-1.7 .2z"/>
<path color="#484cf0" d="M95.7 218.4l1.7-.1-1.3 .5-1.8 .2z"/>
<path color="#484ff1" d="M93.9 218.3l1.8 .1-1.4 .6-1.7 0z"/>
<path color="#4851f4" d="M92.2 218.2l1.7 .1-1.3 .7-1.8 0z"/>
<path color="#4854f6" d="M90.4 218l1.8 .2-1.4 .8-1.7-.2z"/>
<path color="#4758f8" d="M88.7 217.8l1.7 .2-1.3 .8-1.7-.1z"/>
<path color="#475cfa" d="M87 217.4l1.7 .4-1.3 .9-1.8-.3z"/>
<path color="#4561fc" d="M85.2 217l1.8 .4-1.4 1-1.7-.3z"/>
<path color="#4466fd" d="M83.5 216.5l1.7 .5-1.3 1.1-1.8-.5z"/>
<path color="#406dfe" d="M81.7 215.9l1.8 .6-1.4 1.1-1.7-.5z"/>
<path color="#3a74fe" d="M80 215.3l1.7 .6-1.3 1.2-1.8-.5z"/>
<path color="#327bfc" d="M78.2 214.6l1.8 .7-1.4 1.3-1.7-.7z"/>
<path color="#2e83f9" d="M76.5 213.8l1.7 .8-1.3 1.3-1.8-.7z"/>
<path color="#2d8bf4" d="M74.7 212.9l1.8 .9-1.4 1.4-1.7-.8z"/>
<path color="#2994ed" d="M73 211.9l1.7 1-1.3 1.5-1.7-.9z"/>
<path color="#259ce7" d="M71.3 210.9l1.7 1-1.3 1.6-1.8-.9z"/>
<path color="#20a5e2" d="M69.5 209.8l1.8 1.1-1.4 1.7-1.7-1.1z"/>
<path color="#18aedb" d="M67.8 208.6l1.7 1.2-1.3 1.7-1.8-1.1z"/>
<path color="#06b5cf" d="M66 207.4l1.8 1.2-1.4 1.8-1.7-1.1z"/>
<path color="#06bcc0" d="M64.3 206l1.7 1.4-1.3 1.9-1.8-1.3z"/>
<path color="#23c1af" d="M62.5 204.6l1.8 1.4-1.4 2-1.7-1.3z"/>
<path color="#35c79b" d="M60.8 203.1l1.7 1.5-1.3 2.1-1.7-1.4z"/>
<path color="#484df0" d="M116.2 213.8l1.7-.8-1.3-.2-1.7 .9z"/>
<path color="#484bef" d="M114.4 214.5l1.8-.7-1.3-.1-1.8 .8z"/>
<path color="#484aee" d="M112.7 215.2l1.7-.7-1.3 0-1.7 .7z"/>
<path color="#484aee" d="M111 215.7l1.7-.5-1.3 0-1.8 .7z"/>
<path color="#484aee" d="M109.2 216.2l1.8-.5-1.4 .2-1.7 .6z"/>
<path color="#484aee" d="M107.5 216.7l1.7-.5-1.3 .3-1.8 .5z"/>
<path color="#484aee" d="M105.7 217l1.8-.3-1.4 .3-1.7 .4z"/>
<path color="#484bef" d="M104 217.3l1.7-.3-1.3 .4-1.8 .3z"/>
<path color="#484df0" d="M102.2 217.5l1.8-.2-1.4 .4-1.7 .3z"/>
<path color="#484ef1" d="M100.5 217.6l1.7-.1-1.3 .5-1.7 .2z"/>
<path color="#4850f3" d="M98.8 217.6l1.7 0-1.3 .6-1.8 .1z"/>
<path color="#4853f4" d="M97 217.6l1.8 0-1.4 .7-1.7 .1z"/>
<path color="#4755f6" d="M95.3 217.5l1.7 .1-1.3 .8-1.8-.1z"/>
<path color="#4759f8" d="M93.5 217.3l1.8 .2-1.4 .8-1.7-.1z"/>
<path color="#475cfa" d="M91.8 217l1.7 .3-1.3 .9-1.8-.2z"/>
<path color="#4561fc" d="M90 216.7l1.8 .3-1.4 1-1.7-.2z"/>
<path color="#4466fd" d="M88.3 216.3l1.7 .4-1.3 1.1-1.7-.4z"/>
<path color="#416bfe" d="M86.6 215.8l1.7 .5-1.3 1.1-1.8-.4z"/>
<path color="#3c72ff" d="M84.8 215.2l1.8 .6-1.4 1.2-1.7-.5z"/>
<path color="#3579fd" d="M83.1 214.6l1.7 .6-1.3 1.3-1.8-.6z"/>
<path color="#2f81fa" d="M81.3 213.8l1.8 .8-1.4 1.3-1.7-.6z"/>
<path color="#2d88f6" d="M79.6 213l1.7 .8-1.3 1.5-1.8-.7z"/>
<path color="#2b90f0" d="M77.8 212.2l1.8 .8-1.4 1.6-1.7-.8z"/>
<path color="#2698ea" d="M76.1 211.2l1.7 1-1.3 1.6-1.8-.9z"/>
<path color="#23a1e4" d="M74.3 210.2l1.8 1-1.4 1.7-1.7-1z"/>
<path color="#1ca9df" d="M72.6 209.1l1.7 1.1-1.3 1.7-1.7-1z"/>
<path color="#11b2d5" d="M70.9 207.9l1.7 1.2-1.3 1.8-1.8-1.1z"/>
<path color="#01b8c8" d="M69.1 206.6l1.8 1.3-1.4 1.9-1.7-1.2z"/>
<path color="#13beb8" d="M67.4 205.3l1.7 1.3-1.3 2-1.8-1.2z"/>
<path color="#2cc4a7" d="M65.6 203.9l1.8 1.4-1.4 2.1-1.7-1.4z"/>
<path color="#3cc991" d="M63.9 202.4l1.7 1.5-1.3 2.1-1.8-1.4z"/>
<path color="#5dcc75" d="M62.1 200.8l1.8 1.6-1.4 2.2-1.7-1.5z"/>
<path color="#4850f2" d="M117.5 213.7l1.8-.7-1.4 0-1.7 .8z"/>
<path color="#484ff2" d="M115.8 214.4l1.7-.7-1.3 .1-1.8 .7z"/>
<path color="#484ef1" d="M114 215l1.8-.6-1.4 .1-1.7 .7z"/>
<path color="#484ef1" d="M112.3 215.5l1.7-.5-1.3 .2-1.7 .5z"/>
<path color="#484ef1" d="M110.6 215.9l1.7-.4-1.3 .2-1.8 .5z"/>
<path color="#484ff2" d="M108.8 216.2l1.8-.3-1.4 .3-1.7 .5z"/>
<path color="#4850f2" d="M107.1 216.5l1.7-.3-1.3 .5-1.8 .3z"/>
<path color="#4851f3" d="M105.3 216.7l1.8-.2-1.4 .5-1.7 .3z"/>
<path color="#4853f4" d="M103.6 216.8l1.7-.1-1.3 .6-1.8 .2z"/>
<path color="#4755f6" d="M101.8 216.8l1.8 0-1.4 .7-1.7 .1z"/>
<path color="#4757f7" d="M100.1 216.8l1.7 0-1.3 .8-1.7 0z"/>
<path color="#475af9" d="M98.4 216.7l1.7 .1-1.3 .8-1.8 0z"/>
<path color="#465dfb" d="M96.6 216.5l1.8 .2-1.4 .9-1.7-.1z"/>
<path color="#4561fc" d="M94.9 216.2l1.7 .3-1.3 1-1.8-.2z"/>
<path color="#4466fd" d="M93.1 215.9l1.8 .3-1.4 1.1-1.7-.3z"/>
<path color="#416bfe" d="M91.4 215.5l1.7 .4-1.3 1.1-1.8-.3z"/>
<path color="#3c71ff" d="M89.6 215l1.8 .5-1.4 1.2-1.7-.4z"/>
<path color="#3678fe" d="M87.9 214.4l1.7 .6-1.3 1.3-1.7-.5z"/>
<path color="#307ffb" d="M86.1 213.8l1.8 .6-1.3 1.4-1.8-.6z"/>
<path color="#2e86f7" d="M84.4 213.1l1.7 .7-1.3 1.4-1.7-.6z"/>
<path color="#2c8ef2" d="M82.7 212.3l1.7 .8-1.3 1.5-1.8-.8z"/>
<path color="#2896ec" d="M80.9 211.4l1.8 .9-1.4 1.5-1.7-.8z"/>
<path color="#249ee6" d="M79.2 210.4l1.7 1-1.3 1.6-1.8-.8z"/>
<path color="#1fa6e2" d="M77.4 209.4l1.8 1-1.4 1.8-1.7-1z"/>
<path color="#17aeda" d="M75.7 208.3l1.7 1.1-1.3 1.8-1.8-1z"/>
<path color="#06b5cf" d="M73.9 207.1l1.8 1.2-1.4 1.9-1.7-1.1z"/>
<path color="#06bcc0" d="M72.2 205.9l1.7 1.2-1.3 2-1.7-1.2z"/>
<path color="#22c1b0" d="M70.5 204.5l1.7 1.4-1.3 2-1.8-1.3z"/>
<path color="#33c69d" d="M68.7 203.1l1.8 1.4-1.4 2.1-1.7-1.3z"/>
<path color="#49cb85" d="M67 201.6l1.7 1.5-1.3 2.2-1.8-1.4z"/>
<path color="#6ecd67" d="M65.2 200.1l1.8 1.5-1.4 2.3-1.7-1.5z"/>
<path color="#99c946" d="M63.5 198.4l1.7 1.7-1.3 2.3-1.8-1.6z"/>
<path color="#4854f5" d="M118.9 213.5l1.7-.6-1.3 .1-1.8 .7z"/>
<path color="#4853f5" d="M117.1 214.1l1.8-.6-1.4 .2-1.7 .7z"/>
<path color="#4853f5" d="M115.4 214.6l1.7-.5-1.3 .3-1.8 .6z"/>
<path color="#4853f5" d="M113.6 215l1.8-.4-1.4 .4-1.7 .5z"/>
<path color="#4854f5" d="M111.9 215.4l1.7-.4-1.3 .5-1.7 .4z"/>
<path color="#4854f6" d="M110.2 215.6l1.7-.2-1.3 .5-1.8 .3z"/>
<path color="#4756f6" d="M108.4 215.8l1.8-.2-1.4 .6-1.7 .3z"/>
<path color="#4758f8" d="M106.7 215.9l1.7-.1-1.3 .7-1.8 .2z"/>
<path color="#475af9" d="M104.9 216l1.8-.1-1.4 .8-1.7 .1z"/>
<path color="#475cfa" d="M103.2 215.9l1.7 .1-1.3 .8-1.8 0z"/>
<path color="#465ffb" d="M101.4 215.8l1.8 .1-1.4 .9-1.7 0z"/>
<path color="#4563fc" d="M99.7 215.6l1.7 .2-1.3 1-1.7-.1z"/>
<path color="#4367fd" d="M97.9 215.4l1.8 .2-1.3 1.1-1.8-.2z"/>
<path color="#406cfe" d="M96.2 215l1.7 .4-1.3 1.1-1.7-.3z"/>
<path color="#3c71ff" d="M94.5 214.6l1.7 .4-1.3 1.2-1.8-.3z"/>
<path color="#3678fe" d="M92.7 214.1l1.8 .5-1.4 1.3-1.7-.4z"/>
<path color="#317efb" d="M91 213.6l1.7 .5-1.3 1.4-1.8-.5z"/>
<path color="#2e85f8" d="M89.2 212.9l1.8 .7-1.4 1.4-1.7-.6z"/>
<path color="#2d8cf3" d="M87.5 212.2l1.7 .7-1.3 1.5-1.8-.6z"/>
<path color="#2994ed" d="M85.7 211.4l1.8 .8-1.4 1.6-1.7-.7z"/>
<path color="#259be8" d="M84 210.5l1.7 .9-1.3 1.7-1.7-.8z"/>
<path color="#21a3e3" d="M82.3 209.6l1.7 .9-1.3 1.8-1.8-.9z"/>
<path color="#1aabdd" d="M80.5 208.5l1.8 1.1-1.4 1.8-1.7-1z"/>
<path color="#0db3d3" d="M78.8 207.4l1.7 1.1-1.3 1.9-1.8-1z"/>
<path color="#01b9c6" d="M77 206.2l1.8 1.2-1.4 2-1.7-1.1z"/>
<path color="#15bfb7" d="M75.3 205l1.7 1.2-1.3 2.1-1.8-1.2z"/>
<path color="#2cc4a6" d="M73.5 203.6l1.8 1.4-1.4 2.1-1.7-1.2z"/>
<path color="#3cc991" d="M71.8 202.2l1.7 1.4-1.3 2.3-1.7-1.4z"/>
<path color="#5bcc77" d="M70 200.7l1.8 1.5-1.3 2.3-1.8-1.4z"/>
<path color="#82cc57" d="M68.3 199.2l1.7 1.5-1.3 2.4-1.7-1.5z"/>
<path color="#adc638" d="M66.6 197.5l1.7 1.7-1.3 2.4-1.8-1.5z"/>
<path color="#d4bf28" d="M64.8 195.8l1.8 1.7-1.4 2.6-1.7-1.7z"/>
<path color="#4758f8" d="M120.2 213.1l1.8-.5-1.4 .3-1.7 .6z"/>
<path color="#4758f8" d="M118.5 213.6l1.7-.5-1.3 .4-1.8 .6z"/>
<path color="#4758f8" d="M116.7 214.1l1.8-.5-1.4 .5-1.7 .5z"/>
<path color="#4759f8" d="M115 214.4l1.7-.3-1.3 .5-1.8 .4z"/>
<path color="#475af9" d="M113.2 214.7l1.8-.3-1.4 .6-1.7 .4z"/>
<path color="#475bf9" d="M111.5 214.9l1.7-.2-1.3 .7-1.7 .2z"/>
<path color="#465dfa" d="M109.8 215l1.7-.1-1.3 .7-1.8 .2z"/>
<path color="#465ffb" d="M108 215l1.8 0-1.4 .8-1.7 .1z"/>
<path color="#4562fc" d="M106.3 215l1.7 0-1.3 .9-1.8 .1z"/>
<path color="#4465fd" d="M104.5 214.9l1.8 .1-1.4 1-1.7-.1z"/>
<path color="#4269fe" d="M102.8 214.7l1.7 .2-1.3 1-1.8-.1z"/>
<path color="#3f6dfe" d="M101 214.4l1.8 .3-1.4 1.1-1.7-.2z"/>
<path color="#3b73fe" d="M99.3 214.1l1.7 .3-1.3 1.2-1.8-.2z"/>
<path color="#3578fd" d="M97.5 213.7l1.8 .4-1.4 1.3-1.7-.4z"/>
<path color="#307efb" d="M95.8 213.2l1.7 .5-1.3 1.3-1.7-.4z"/>
<path color="#2e85f8" d="M94.1 212.6l1.7 .6-1.3 1.4-1.8-.5z"/>
<path color="#2d8bf3" d="M92.3 212l1.8 .6-1.4 1.5-1.7-.5z"/>
<path color="#2a92ee" d="M90.6 211.2l1.7 .8-1.3 1.6-1.8-.7z"/>
<path color="#269ae9" d="M88.8 210.4l1.8 .8-1.4 1.7-1.7-.7z"/>
<path color="#22a1e4" d="M87.1 209.6l1.7 .8-1.3 1.8-1.8-.8z"/>
<path color="#1ca9e0" d="M85.3 208.6l1.8 1-1.4 1.8-1.7-.9z"/>
<path color="#13b0d7" d="M83.6 207.6l1.7 1-1.3 1.9-1.7-.9z"/>
<path color="#02b7cb" d="M81.9 206.5l1.7 1.1-1.3 2-1.8-1.1z"/>
<path color="#0abdbd" d="M80.1 205.3l1.8 1.2-1.4 2-1.7-1.1z"/>
<path color="#25c2ad" d="M78.4 204l1.7 1.3-1.3 2.1-1.8-1.2z"/>
<path color="#35c79b" d="M76.6 202.7l1.8 1.3-1.4 2.2-1.7-1.2z"/>
<path color="#4bcb83" d="M74.9 201.3l1.7 1.4-1.3 2.3-1.8-1.4z"/>
<path color="#6fcd66" d="M73.1 199.8l1.8 1.5-1.4 2.3-1.7-1.4z"/>
<path color="#98c947" d="M71.4 198.2l1.7 1.6-1.3 2.4-1.8-1.5z"/>
<path color="#c1c32c" d="M69.6 196.6l1.8 1.6-1.4 2.5-1.7-1.5z"/>
<path color="#e4bb2c" d="M67.9 194.9l1.7 1.7-1.3 2.6-1.7-1.7z"/>
<path color="#febe3c" d="M66.2 193.1l1.7 1.8-1.3 2.6-1.8-1.7z"/>
<path color="#465efb" d="M121.6 212.6l1.7-.5-1.3 .5-1.8 .5z"/>
<path color="#465efb" d="M119.8 213l1.8-.4-1.4 .5-1.7 .5z"/>
<path color="#465ffb" d="M118.1 213.4l1.7-.4-1.3 .6-1.8 .5z"/>
<path color="#4660fb" d="M116.3 213.7l1.8-.3-1.4 .7-1.7 .3z"/>
<path color="#4561fc" d="M114.6 213.9l1.7-.2-1.3 .7-1.8 .3z"/>
<path color="#4563fd" d="M112.8 214l1.8-.1-1.4 .8-1.7 .2z"/>
<path color="#4466fd" d="M111.1 214l1.7 0-1.3 .9-1.7 .1z"/>
<path color="#4369fe" d="M109.4 214l1.7 0-1.3 1-1.8 0z"/>
<path color="#406cfe" d="M107.6 213.9l1.8 .1-1.4 1-1.7 0z"/>
<path color="#3d70ff" d="M105.9 213.7l1.7 .2-1.3 1.1-1.8-.1z"/>
<path color="#3975fe" d="M104.1 213.4l1.8 .3-1.4 1.2-1.7-.2z"/>
<path color="#347afd" d="M102.4 213.1l1.7 .3-1.3 1.3-1.8-.3z"/>
<path color="#3080fb" d="M100.6 212.7l1.8 .4-1.4 1.3-1.7-.3z"/>
<path color="#2e85f8" d="M98.9 212.2l1.7 .5-1.3 1.4-1.8-.4z"/>
<path color="#2d8cf3" d="M97.1 211.6l1.8 .6-1.4 1.5-1.7-.5z"/>
<path color="#2a92ee" d="M95.4 210.9l1.7 .7-1.3 1.6-1.7-.6z"/>
<path color="#2699e9" d="M93.7 210.2l1.7 .7-1.3 1.7-1.8-.6z"/>
<path color="#23a0e5" d="M91.9 209.4l1.8 .8-1.4 1.8-1.7-.8z"/>
<path color="#1ea8e1" d="M90.2 208.5l1.7 .9-1.3 1.8-1.8-.8z"/>
<path color="#16afd9" d="M88.4 207.6l1.8 .9-1.4 1.9-1.7-.8z"/>
<path color="#06b5cf" d="M86.7 206.6l1.7 1-1.3 2-1.8-1z"/>
<path color="#04bbc2" d="M84.9 205.5l1.8 1.1-1.4 2-1.7-1z"/>
<path color="#1dc0b3" d="M83.2 204.3l1.7 1.2-1.3 2.1-1.7-1.1z"/>
<path color="#30c5a2" d="M81.4 203l1.8 1.3-1.3 2.2-1.8-1.2z"/>
<path color="#40ca8d" d="M79.7 201.7l1.7 1.3-1.3 2.3-1.7-1.3z"/>
<path color="#5fcd73" d="M78 200.3l1.7 1.4-1.3 2.3-1.8-1.3z"/>
<path color="#86cb54" d="M76.2 198.8l1.8 1.5-1.4 2.4-1.7-1.4z"/>
<path color="#afc637" d="M74.5 197.2l1.7 1.6-1.3 2.5-1.8-1.5z"/>
<path color="#d5be28" d="M72.7 195.6l1.8 1.6-1.4 2.6-1.7-1.6z"/>
<path color="#f4ba39" d="M71 193.9l1.7 1.7-1.3 2.6-1.8-1.6z"/>
<path color="#fec834" d="M69.2 192.1l1.8 1.8-1.4 2.7-1.7-1.7z"/>
<path color="#f6df29" d="M67.5 190.2l1.7 1.9-1.3 2.8-1.7-1.8z"/>
</g>
<text x="70.7" y="246" font-size="4.5" text-anchor="start" fill="#444">− 100</text>
<text x="84.7" y="241.7" font-size="4.5" text-anchor="start" fill="#444">− 50</text>
<text x="97.6" y="237.4" font-size="4.5" text-anchor="start" fill="#444">0</text>
<text x="111.5" y="233.1" font-size="4.5" text-anchor="start" fill="#444">50</text>
<text x="125.5" y="228.8" font-size="4.5" text-anchor="start" fill="#444">100</text>
<text x="62.9" y="246.3" font-size="4.5" text-anchor="end" fill="#444">− 100</text>
<text x="42.8" y="234.5" font-size="4.5" text-anchor="end" fill="#444">0</text>
<text x="21.4" y="223.3" font-size="4.5" text-anchor="end" fill="#444">100</text>
<text x="22.4" y="218.3" font-size="4.5" text-anchor="end" fill="#444">0</text>
<text x="22.4" y="208.5" font-size="4.5" text-anchor="end" fill="#444">1</text>
<text x="22.4" y="198.8" font-size="4.5" text-anchor="end" fill="#444">2</text>
<text x="22.4" y="189" font-size="4.5" text-anchor="end" fill="#444">3</text>
<text x="22.4" y="179.2" font-size="4.5" text-anchor="end" fill="#444">4</text>
<text x="22.4" y="169.4" font-size="4.5" text-anchor="end" fill="#444">5</text>
<text x="73.5" y="149.3" font-size="4.65" text-anchor="middle" fill="#333">Parameter space</text>
<text x="19.6" y="164.1" font-size="4.4" fill="#444" text-anchor="middle">× 10<tspan dy="-2" font-size="3.2">4</tspan></text>
<text x="13.6" y="193" font-size="4.4" fill="#444" text-anchor="middle" transform="rotate(-90 13.6 193)">F3( x<tspan dy="1.2" font-size="3.2">1</tspan><tspan dy="-1.2"> , x</tspan><tspan dy="1.2" font-size="3.2">2</tspan><tspan dy="-1.2"> )</tspan></text>
<text x="97" y="247.1" font-size="4.6" fill="#444" text-anchor="middle">x<tspan dy="1.2" font-size="3.2">1</tspan></text>
<text x="40" y="246.6" font-size="4.6" fill="#444" text-anchor="middle">x<tspan dy="1.2" font-size="3.2">2</tspan></text>
<path d="M348.6 246.9L302.6 223.7M302.6 223.7L302.6 173M363.6 242.5L317.6 219.3M317.6 219.3L317.6 168.6M378.6 238L332.6 214.8M332.6 214.8L332.6 164.1M393.6 233.6L347.6 210.4M347.6 210.4L347.6 159.7M348.6 246.9L408.6 229.1M408.6 229.1L408.6 178.4M325.6 235.3L385.6 217.5M385.6 217.5L385.6 166.8M302.6 223.7L362.6 205.9M362.6 205.9L362.6 155.2M302.6 223.7L362.6 205.9M362.6 205.9L408.6 229.1M302.6 213.6L362.6 195.8M362.6 195.8L408.6 219M302.6 203.4L362.6 185.6M362.6 185.6L408.6 208.8M302.6 193.3L362.6 175.5M362.6 175.5L408.6 198.7M302.6 183.1L362.6 165.3M362.6 165.3L408.6 188.5M302.6 173L362.6 155.2M362.6 155.2L408.6 178.4" stroke="#e9e9e9" stroke-width=".5" fill="none"/>
<path d="M354.9 228.5L354.3 228.2L353.2 227.6L352 227L350.9 226.4L350.3 226.1L351.8 225.7L353.3 225.2L354.8 224.8L356.3 224.4L356.9 224.6L358 225.2L359.2 225.8L360.3 226.4L360.9 226.7L359.4 227.1L357.9 227.6L356.4 228L354.9 228.5L354.9 228.5" fill="none" stroke="#4743e7" stroke-width="0.45" opacity=".62"/>
<path d="M354.2 230.5L353.6 230.2L352.5 229.6L351.3 229.1L350.2 228.5L349 227.9L347.9 227.3L346.7 226.7L345.6 226.2L345 225.9L346.5 225.4L348 225L349.5 224.5L351 224.1L352.5 223.6L354 223.2L355.5 222.7L357 222.3L357.6 222.6L358.7 223.2L359.9 223.8L361 224.3L362.2 224.9L363.3 225.5L364.5 226.1L365.6 226.7L366.2 226.9L364.7 227.4L363.2 227.8L361.7 228.3L360.2 228.7L358.7 229.2L357.2 229.6L355.7 230.1L354.2 230.5L354.2 230.5" fill="none" stroke="#4367fd" stroke-width="0.45" opacity=".62"/>
<path d="M353.5 232.6L352.9 232.3L351.8 231.7L350.6 231.1L349.5 230.5L348.3 229.9L347.2 229.4L346 228.8L344.9 228.2L343.7 227.6L342.6 227L341.4 226.5L340.3 225.9L339.7 225.6L341.2 225.1L342.7 224.7L344.2 224.3L345.7 223.8L347.2 223.4L348.7 222.9L350.2 222.5L351.7 222L353.2 221.6L354.7 221.1L356.2 220.7L357.7 220.2L358.3 220.5L359.4 221.1L360.6 221.7L361.7 222.3L362.9 222.9L364 223.4L365.2 224L366.3 224.6L367.5 225.2L368.6 225.8L369.8 226.3L370.9 226.9L371.5 227.2L370 227.7L368.5 228.1L367 228.5L365.5 229L364 229.4L362.5 229.9L361 230.3L359.5 230.8L358 231.2L356.5 231.7L355 232.1L353.5 232.6L353.5 232.6" fill="none" stroke="#2d8cf3" stroke-width="0.45" opacity=".62"/>
<path d="M352.8 234.6L352.2 234.3L351.1 233.7L349.9 233.2L348.8 232.6L347.6 232L346.5 231.4L345.3 230.8L344.2 230.2L343 229.7L341.9 229.1L340.7 228.5L339.6 227.9L338.4 227.3L337.3 226.8L336.1 226.2L335 225.6L334.4 225.3L335.9 224.9L337.4 224.4L338.9 224L340.4 223.5L341.9 223.1L343.4 222.7L344.9 222.2L346.4 221.8L347.9 221.3L349.4 220.9L350.9 220.4L352.4 220L353.9 219.5L355.4 219.1L356.9 218.6L358.4 218.2L359 218.5L360.1 219.1L361.3 219.7L362.4 220.2L363.6 220.8L364.7 221.4L365.9 222L367 222.6L368.2 223.1L369.3 223.7L370.5 224.3L371.6 224.9L372.8 225.4L373.9 226L375.1 226.6L376.2 227.2L376.8 227.5L375.3 227.9L373.8 228.4L372.3 228.8L370.8 229.3L369.3 229.7L367.8 230.2L366.3 230.6L364.8 231L363.3 231.5L361.8 231.9L360.3 232.4L358.8 232.8L357.3 233.3L355.8 233.7L354.3 234.2L352.8 234.6L352.8 234.6" fill="none" stroke="#1caadf" stroke-width="0.45" opacity=".62"/>
<path d="M352.1 236.7L351.5 236.4L350.4 235.8L349.2 235.2L348.1 234.6L346.9 234L345.8 233.5L344.6 232.9L343.5 232.3L342.3 231.7L341.2 231.1L340 230.6L338.9 230L337.7 229.4L336.6 228.8L335.4 228.2L334.3 227.7L333.1 227.1L332 226.5L330.8 225.9L329.7 225.3L329.1 225.1L330.6 224.6L332.1 224.2L333.6 223.7L335.1 223.3L336.6 222.8L338.1 222.4L339.6 221.9L341.1 221.5L342.6 221L344.1 220.6L345.6 220.2L347.1 219.7L348.6 219.3L350.1 218.8L351.6 218.4L353.1 217.9L354.6 217.5L356.1 217L357.6 216.6L359.1 216.2L359.7 216.4L360.8 217L362 217.6L363.1 218.2L364.3 218.8L365.4 219.3L366.6 219.9L367.7 220.5L368.9 221.1L370 221.7L371.2 222.2L372.3 222.8L373.5 223.4L374.6 224L375.8 224.6L376.9 225.1L378.1 225.7L379.2 226.3L380.4 226.9L381.5 227.5L382.1 227.8L380.6 228.2L379.1 228.6L377.6 229.1L376.1 229.5L374.6 230L373.1 230.4L371.6 230.9L370.1 231.3L368.6 231.8L367.1 232.2L365.6 232.6L364.1 233.1L362.6 233.5L361.1 234L359.6 234.4L358.1 234.9L356.6 235.3L355.1 235.8L353.6 236.2L352.1 236.7L352.1 236.7" fill="none" stroke="#12beb9" stroke-width="0.45" opacity=".62"/>
<path d="M351.4 238.7L350.8 238.4L349.7 237.8L348.5 237.2L347.4 236.7L346.2 236.1L345.1 235.5L343.9 234.9L342.8 234.3L341.6 233.8L340.5 233.2L339.3 232.6L338.2 232L337 231.5L335.9 230.9L334.7 230.3L333.6 229.7L332.4 229.1L331.3 228.6L330.1 228L329 227.4L327.8 226.8L326.7 226.2L325.5 225.7L324.4 225.1L323.8 224.8L325.3 224.3L326.8 223.9L328.3 223.4L329.8 223L331.3 222.6L332.8 222.1L334.3 221.7L335.8 221.2L337.3 220.8L338.8 220.3L340.3 219.9L341.8 219.4L343.3 219L344.8 218.6L346.3 218.1L347.8 217.7L349.3 217.2L350.8 216.8L352.3 216.3L353.8 215.9L355.3 215.4L356.8 215L358.3 214.5L359.8 214.1L360.4 214.4L361.5 215L362.7 215.6L363.8 216.1L365 216.7L366.1 217.3L367.3 217.9L368.4 218.4L369.6 219L370.7 219.6L371.9 220.2L373 220.8L374.2 221.3L375.3 221.9L376.5 222.5L377.6 223.1L378.8 223.7L379.9 224.2L381.1 224.8L382.2 225.4L383.4 226L384.5 226.6L385.7 227.2L386.8 227.7L387.4 228L385.9 228.5L384.4 228.9L382.9 229.4L381.4 229.8L379.9 230.2L378.4 230.7L376.9 231.1L375.4 231.6L373.9 232L372.4 232.5L370.9 232.9L369.4 233.4L367.9 233.8L366.4 234.3L364.9 234.7L363.4 235.1L361.9 235.6L360.4 236L358.9 236.5L357.4 236.9L355.9 237.4L354.4 237.8L352.9 238.3L351.4 238.7L351.4 238.7" fill="none" stroke="#48cb86" stroke-width="0.45" opacity=".62"/>
<path d="M350.7 240.8L350.1 240.5L349 239.9L347.8 239.3L346.7 238.7L345.5 238.1L344.4 237.6L343.2 237L342.1 236.4L340.9 235.8L339.8 235.2L338.6 234.7L337.5 234.1L336.3 233.5L335.2 232.9L334 232.3L332.9 231.8L331.7 231.2L330.6 230.6L329.4 230L328.3 229.4L327.1 228.9L326 228.3L324.8 227.7L323.7 227.1L322.5 226.5L321.4 226L320.2 225.4L319.1 224.8L318.5 224.5L320 224.1L321.5 223.6L323 223.2L324.5 222.7L326 222.3L327.5 221.8L329 221.4L330.5 221L332 220.5L333.5 220.1L335 219.6L336.5 219.2L338 218.7L339.5 218.3L341 217.8L342.5 217.4L344 216.9L345.5 216.5L347 216.1L348.5 215.6L350 215.2L351.5 214.7L353 214.3L354.5 213.8L356 213.4L357.5 212.9L359 212.5L360.5 212.1L361.1 212.3L362.2 212.9L363.4 213.5L364.5 214.1L365.7 214.7L366.8 215.2L368 215.8L369.1 216.4L370.3 217L371.4 217.6L372.6 218.1L373.7 218.7L374.9 219.3L376 219.9L377.2 220.5L378.3 221L379.5 221.6L380.6 222.2L381.8 222.8L382.9 223.4L384.1 223.9L385.2 224.5L386.4 225.1L387.5 225.7L388.7 226.3L389.8 226.8L391 227.4L392.1 228L392.7 228.3L391.2 228.7L389.7 229.2L388.2 229.6L386.7 230.1L385.2 230.5L383.7 231L382.2 231.4L380.7 231.9L379.2 232.3L377.7 232.7L376.2 233.2L374.7 233.6L373.2 234.1L371.7 234.5L370.2 235L368.7 235.4L367.2 235.9L365.7 236.3L364.2 236.7L362.7 237.2L361.2 237.6L359.7 238.1L358.2 238.5L356.7 239L355.2 239.4L353.7 239.9L352.2 240.3L350.7 240.8L350.7 240.8" fill="none" stroke="#9fc942" stroke-width="0.45" opacity=".62"/>
<path d="M350 242.8L349.4 242.5L348.3 241.9L347.1 241.3L346 240.8L344.8 240.2L343.7 239.6L342.5 239L341.4 238.5L340.2 237.9L339.1 237.3L337.9 236.7L336.8 236.1L335.6 235.6L334.5 235L333.3 234.4L332.2 233.8L331 233.2L329.9 232.7L328.7 232.1L327.6 231.5L326.4 230.9L325.3 230.3L324.1 229.8L323 229.2L321.8 228.6L320.7 228L319.5 227.4L318.4 226.8L317.2 226.3L316.1 225.7L314.9 225.1L313.8 224.5L313.2 224.2L314.7 223.8L316.2 223.4L317.7 222.9L319.2 222.5L320.7 222L322.2 221.6L323.7 221.1L325.2 220.7L326.7 220.2L328.2 219.8L329.7 219.3L331.2 218.9L332.7 218.5L334.2 218L335.7 217.6L337.2 217.1L338.7 216.7L340.2 216.2L341.7 215.8L343.2 215.3L344.7 214.9L346.2 214.5L347.7 214L349.2 213.6L350.7 213.1L352.2 212.7L353.7 212.2L355.2 211.8L356.7 211.3L358.2 210.9L359.7 210.4L361.2 210L361.8 210.3L362.9 210.9L364.1 211.4L365.2 212L366.4 212.6L367.5 213.2L368.7 213.8L369.8 214.3L371 214.9L372.1 215.5L373.3 216.1L374.4 216.7L375.6 217.2L376.7 217.8L377.9 218.4L379 219L380.2 219.6L381.3 220.2L382.5 220.7L383.6 221.3L384.8 221.9L385.9 222.5L387.1 223L388.2 223.6L389.4 224.2L390.5 224.8L391.7 225.4L392.8 225.9L394 226.5L395.1 227.1L396.3 227.7L397.4 228.3L398 228.6L396.5 229L395 229.5L393.5 229.9L392 230.3L390.5 230.8L389 231.2L387.5 231.7L386 232.1L384.5 232.6L383 233L381.5 233.5L380 233.9L378.5 234.3L377 234.8L375.5 235.2L374 235.7L372.5 236.1L371 236.6L369.5 237L368 237.5L366.5 237.9L365 238.4L363.5 238.8L362 239.2L360.5 239.7L359 240.1L357.5 240.6L356 241L354.5 241.5L353 241.9L351.5 242.4L350 242.8L350 242.8" fill="none" stroke="#eaba31" stroke-width="0.45" opacity=".62"/>
<path d="M349.3 244.9L348.7 244.6L347.6 244L346.4 243.4L345.3 242.8L344.1 242.2L343 241.7L341.8 241.1L340.7 240.5L339.5 239.9L338.4 239.3L337.2 238.8L336.1 238.2L334.9 237.6L333.8 237L332.6 236.4L331.5 235.9L330.3 235.3L329.2 234.7L328 234.1L326.9 233.5L325.7 233L324.6 232.4L323.4 231.8L322.3 231.2L321.1 230.6L320 230.1L318.8 229.5L317.7 228.9L316.5 228.3L315.4 227.7L314.2 227.2L313.1 226.6L311.9 226L310.8 225.4L309.6 224.8L308.5 224.3L307.9 224L309.4 223.5L310.9 223.1L312.4 222.6L313.9 222.2L315.4 221.7L316.9 221.3L318.4 220.9L319.9 220.4L321.4 220L322.9 219.5L324.4 219.1L325.9 218.6L327.4 218.2L328.9 217.7L330.4 217.3L331.9 216.9L333.4 216.4L334.9 216L336.4 215.5L337.9 215.1L339.4 214.6L340.9 214.2L342.4 213.7L343.9 213.3L345.4 212.8L346.9 212.4L348.4 212L349.9 211.5L351.4 211.1L352.9 210.6L354.4 210.2L355.9 209.7L357.4 209.3L358.9 208.8L360.4 208.4L361.9 208L362.5 208.2L363.6 208.8L364.8 209.4L365.9 210L367.1 210.6L368.2 211.1L369.4 211.7L370.5 212.3L371.7 212.9L372.8 213.5L374 214L375.1 214.6L376.3 215.2L377.4 215.8L378.6 216.4L379.7 216.9L380.9 217.5L382 218.1L383.2 218.7L384.3 219.3L385.5 219.8L386.6 220.4L387.8 221L388.9 221.6L390.1 222.2L391.2 222.7L392.4 223.3L393.5 223.9L394.7 224.5L395.8 225.1L397 225.6L398.1 226.2L399.3 226.8L400.4 227.4L401.6 228L402.7 228.5L403.3 228.8L401.8 229.3L400.3 229.7L398.8 230.2L397.3 230.6L395.8 231.1L394.3 231.5L392.8 231.9L391.3 232.4L389.8 232.8L388.3 233.3L386.8 233.7L385.3 234.2L383.8 234.6L382.3 235.1L380.8 235.5L379.3 236L377.8 236.4L376.3 236.8L374.8 237.3L373.3 237.7L371.8 238.2L370.3 238.6L368.8 239.1L367.3 239.5L365.8 240L364.3 240.4L362.8 240.8L361.3 241.3L359.8 241.7L358.3 242.2L356.8 242.6L355.3 243.1L353.8 243.5L352.3 244L350.8 244.4L349.3 244.9L349.3 244.9" fill="none" stroke="#fad42e" stroke-width="0.45" opacity=".62"/>
<path d="M348.6 246.9L408.6 229.1" stroke="#8a8a8a" stroke-width="0.6"/>
<path d="M302.6 223.7L348.6 246.9" stroke="#8a8a8a" stroke-width="0.6"/>
<path d="M302.6 223.7L302.6 173" stroke="#8a8a8a" stroke-width="0.6"/>
<linearGradient id="p348a" gradientUnits="userSpaceOnUse" x1="355.6" y1="226.4" x2="385.65" y2="166.82"><stop offset="0.000" stop-color="#3e26a8"/><stop offset="0.031" stop-color="#422ebf"/><stop offset="0.062" stop-color="#4536d5"/><stop offset="0.094" stop-color="#4741e5"/><stop offset="0.125" stop-color="#484cef"/><stop offset="0.156" stop-color="#4757f7"/><stop offset="0.188" stop-color="#4562fc"/><stop offset="0.219" stop-color="#3f6efe"/><stop offset="0.250" stop-color="#347afd"/><stop offset="0.281" stop-color="#2e85f8"/><stop offset="0.312" stop-color="#2c90f0"/><stop offset="0.344" stop-color="#269ae9"/><stop offset="0.375" stop-color="#21a3e3"/><stop offset="0.406" stop-color="#1aacdd"/><stop offset="0.438" stop-color="#0cb3d3"/><stop offset="0.469" stop-color="#01b9c6"/><stop offset="0.500" stop-color="#12beb9"/><stop offset="0.531" stop-color="#28c2ab"/><stop offset="0.562" stop-color="#34c79c"/><stop offset="0.594" stop-color="#44ca8a"/><stop offset="0.625" stop-color="#5ccc76"/><stop offset="0.656" stop-color="#77cc60"/><stop offset="0.688" stop-color="#94ca4a"/><stop offset="0.719" stop-color="#afc637"/><stop offset="0.750" stop-color="#c8c129"/><stop offset="0.781" stop-color="#debc2a"/><stop offset="0.812" stop-color="#f1ba37"/><stop offset="0.844" stop-color="#febe3c"/><stop offset="0.875" stop-color="#feca33"/><stop offset="0.906" stop-color="#f9d62d"/><stop offset="0.938" stop-color="#f5e327"/><stop offset="0.969" stop-color="#f6ef20"/><stop offset="1.000" stop-color="#f9fb15"/></linearGradient>
<linearGradient id="p348b" gradientUnits="userSpaceOnUse" x1="355.6" y1="226.4" x2="336.75" y2="162.87"><stop offset="0.000" stop-color="#3e26a8"/><stop offset="0.031" stop-color="#422ebf"/><stop offset="0.062" stop-color="#4536d5"/><stop offset="0.094" stop-color="#4741e5"/><stop offset="0.125" stop-color="#484cef"/><stop offset="0.156" stop-color="#4757f7"/><stop offset="0.188" stop-color="#4562fc"/><stop offset="0.219" stop-color="#3f6efe"/><stop offset="0.250" stop-color="#347afd"/><stop offset="0.281" stop-color="#2e85f8"/><stop offset="0.312" stop-color="#2c90f0"/><stop offset="0.344" stop-color="#269ae9"/><stop offset="0.375" stop-color="#21a3e3"/><stop offset="0.406" stop-color="#1aacdd"/><stop offset="0.438" stop-color="#0cb3d3"/><stop offset="0.469" stop-color="#01b9c6"/><stop offset="0.500" stop-color="#12beb9"/><stop offset="0.531" stop-color="#28c2ab"/><stop offset="0.562" stop-color="#34c79c"/><stop offset="0.594" stop-color="#44ca8a"/><stop offset="0.625" stop-color="#5ccc76"/><stop offset="0.656" stop-color="#77cc60"/><stop offset="0.688" stop-color="#94ca4a"/><stop offset="0.719" stop-color="#afc637"/><stop offset="0.750" stop-color="#c8c129"/><stop offset="0.781" stop-color="#debc2a"/><stop offset="0.812" stop-color="#f1ba37"/><stop offset="0.844" stop-color="#febe3c"/><stop offset="0.875" stop-color="#feca33"/><stop offset="0.906" stop-color="#f9d62d"/><stop offset="0.938" stop-color="#f5e327"/><stop offset="0.969" stop-color="#f6ef20"/><stop offset="1.000" stop-color="#f9fb15"/></linearGradient>
<linearGradient id="p348c" gradientUnits="userSpaceOnUse" x1="355.6" y1="226.4" x2="366.32" y2="205.14"><stop offset="0.000" stop-color="#3e26a8"/><stop offset="0.031" stop-color="#422ebf"/><stop offset="0.062" stop-color="#4536d5"/><stop offset="0.094" stop-color="#4741e5"/><stop offset="0.125" stop-color="#484cef"/><stop offset="0.156" stop-color="#4757f7"/><stop offset="0.188" stop-color="#4562fc"/><stop offset="0.219" stop-color="#3f6efe"/><stop offset="0.250" stop-color="#347afd"/><stop offset="0.281" stop-color="#2e85f8"/><stop offset="0.312" stop-color="#2c90f0"/><stop offset="0.344" stop-color="#269ae9"/><stop offset="0.375" stop-color="#21a3e3"/><stop offset="0.406" stop-color="#1aacdd"/><stop offset="0.438" stop-color="#0cb3d3"/><stop offset="0.469" stop-color="#01b9c6"/><stop offset="0.500" stop-color="#12beb9"/><stop offset="0.531" stop-color="#28c2ab"/><stop offset="0.562" stop-color="#34c79c"/><stop offset="0.594" stop-color="#44ca8a"/><stop offset="0.625" stop-color="#5ccc76"/><stop offset="0.656" stop-color="#77cc60"/><stop offset="0.688" stop-color="#94ca4a"/><stop offset="0.719" stop-color="#afc637"/><stop offset="0.750" stop-color="#c8c129"/><stop offset="0.781" stop-color="#debc2a"/><stop offset="0.812" stop-color="#f1ba37"/><stop offset="0.844" stop-color="#febe3c"/><stop offset="0.875" stop-color="#feca33"/><stop offset="0.906" stop-color="#f9d62d"/><stop offset="0.938" stop-color="#f5e327"/><stop offset="0.969" stop-color="#f6ef20"/><stop offset="1.000" stop-color="#f9fb15"/></linearGradient>
<linearGradient id="p348d" gradientUnits="userSpaceOnUse" x1="355.6" y1="226.4" x2="346.80" y2="196.73"><stop offset="0.000" stop-color="#3e26a8"/><stop offset="0.031" stop-color="#422ebf"/><stop offset="0.062" stop-color="#4536d5"/><stop offset="0.094" stop-color="#4741e5"/><stop offset="0.125" stop-color="#484cef"/><stop offset="0.156" stop-color="#4757f7"/><stop offset="0.188" stop-color="#4562fc"/><stop offset="0.219" stop-color="#3f6efe"/><stop offset="0.250" stop-color="#347afd"/><stop offset="0.281" stop-color="#2e85f8"/><stop offset="0.312" stop-color="#2c90f0"/><stop offset="0.344" stop-color="#269ae9"/><stop offset="0.375" stop-color="#21a3e3"/><stop offset="0.406" stop-color="#1aacdd"/><stop offset="0.438" stop-color="#0cb3d3"/><stop offset="0.469" stop-color="#01b9c6"/><stop offset="0.500" stop-color="#12beb9"/><stop offset="0.531" stop-color="#28c2ab"/><stop offset="0.562" stop-color="#34c79c"/><stop offset="0.594" stop-color="#44ca8a"/><stop offset="0.625" stop-color="#5ccc76"/><stop offset="0.656" stop-color="#77cc60"/><stop offset="0.688" stop-color="#94ca4a"/><stop offset="0.719" stop-color="#afc637"/><stop offset="0.750" stop-color="#c8c129"/><stop offset="0.781" stop-color="#debc2a"/><stop offset="0.812" stop-color="#f1ba37"/><stop offset="0.844" stop-color="#febe3c"/><stop offset="0.875" stop-color="#feca33"/><stop offset="0.906" stop-color="#f9d62d"/><stop offset="0.938" stop-color="#f5e327"/><stop offset="0.969" stop-color="#f6ef20"/><stop offset="1.000" stop-color="#f9fb15"/></linearGradient>
<g filter="url(#bl)">
<path d="M355.6 226.4L408.6 178.4L362.6 155.2Z" fill="url(#p348a)" stroke="url(#p348a)" stroke-width="0.9" stroke-linejoin="round"/>
<path d="M355.6 226.4L302.6 173L362.6 155.2Z" fill="url(#p348b)" stroke="url(#p348b)" stroke-width="0.9" stroke-linejoin="round"/>
<path d="M355.6 226.4L348.6 196.2L302.6 173Z" fill="url(#p348c)" stroke="url(#p348c)" stroke-width="0.3" stroke-linejoin="round"/>
<path d="M355.6 226.4L348.6 196.2L408.6 178.4Z" fill="url(#p348d)" stroke="url(#p348d)" stroke-width="0.3" stroke-linejoin="round"/>
</g>
<text x="351.8" y="253.8" font-size="4.5" text-anchor="start" fill="#444">− 100</text>
<text x="366.8" y="249.4" font-size="4.5" text-anchor="start" fill="#444">− 50</text>
<text x="380.8" y="244.9" font-size="4.5" text-anchor="start" fill="#444">0</text>
<text x="395.8" y="240.5" font-size="4.5" text-anchor="start" fill="#444">50</text>
<text x="344" y="254.1" font-size="4.5" text-anchor="end" fill="#444">− 100</text>
<text x="322.4" y="241.9" font-size="4.5" text-anchor="end" fill="#444">0</text>
<text x="299.4" y="230.3" font-size="4.5" text-anchor="end" fill="#444">100</text>
<text x="300.4" y="225.3" font-size="4.5" text-anchor="end" fill="#444">0</text>
<text x="300.4" y="215.2" font-size="4.5" text-anchor="end" fill="#444">20</text>
<text x="300.4" y="205" font-size="4.5" text-anchor="end" fill="#444">40</text>
<text x="300.4" y="194.9" font-size="4.5" text-anchor="end" fill="#444">60</text>
<text x="300.4" y="184.8" font-size="4.5" text-anchor="end" fill="#444">80</text>
<text x="300.4" y="174.6" font-size="4.5" text-anchor="end" fill="#444">100</text>
<text x="355.8" y="154.9" font-size="4.65" text-anchor="middle" fill="#333">Parameter space</text>
<text x="287" y="199" font-size="4.4" fill="#444" text-anchor="middle" transform="rotate(-90 287 199)">F4( x<tspan dy="1.2" font-size="3.2">1</tspan><tspan dy="-1.2"> , x</tspan><tspan dy="1.2" font-size="3.2">2</tspan><tspan dy="-1.2"> )</tspan></text>
<text x="381" y="255.1" font-size="4.6" fill="#444" text-anchor="middle">x<tspan dy="1.2" font-size="3.2">1</tspan></text>
<text x="318" y="253.6" font-size="4.6" fill="#444" text-anchor="middle">x<tspan dy="1.2" font-size="3.2">2</tspan></text>
<path d="M164.5 26.1H266M164.5 34.2H266M164.5 42.2H266M164.5 50.3H266M164.5 66.5H266M164.5 74.6H266M164.5 82.6H266M164.5 90.7H266M164.5 98.8H266" stroke="#f1f1f1" stroke-width=".5" fill="none"/>
<path d="M184.6 13V101.5M204.9 13V101.5M225.3 13V101.5M245.7 13V101.5M266 13V101.5M164.5 18H266M164.5 58.4H266M164.5 97.3H266" stroke="#e9e9e9" stroke-width=".5" fill="none"/>
<rect x="164.5" y="13" width="101.5" height="88.5" fill="none" stroke="#8a8a8a" stroke-width=".6"/>
<text x="184.6" y="108.1" font-size="4.2" text-anchor="middle" fill="#444">100</text>
<text x="204.9" y="108.1" font-size="4.2" text-anchor="middle" fill="#444">200</text>
<text x="225.3" y="108.1" font-size="4.2" text-anchor="middle" fill="#444">300</text>
<text x="245.7" y="108.1" font-size="4.2" text-anchor="middle" fill="#444">400</text>
<text x="266" y="108.1" font-size="4.2" text-anchor="middle" fill="#444">500</text>
<text x="162.9" y="19.7" font-size="4.2" fill="#444" text-anchor="end">10<tspan dy="-1.9" font-size="2.8">0</tspan></text>
<text x="162.9" y="60.1" font-size="4.2" fill="#444" text-anchor="end">10<tspan dy="-1.9" font-size="2.8">−50</tspan></text>
<text x="162.9" y="99" font-size="4.2" fill="#444" text-anchor="end">10<tspan dy="-1.9" font-size="2.8">−100</tspan></text>
<text x="215.3" y="114.6" font-size="4.5" text-anchor="middle" fill="#444">iteration</text>
<text x="148" y="58.6" font-size="4.5" text-anchor="middle" fill="#444" transform="rotate(-90 148 57)">fitness</text>
<clipPath id="c164"><rect x="164.5" y="12.4" width="102.1" height="89.7"/></clipPath>
<g clip-path="url(#c164)" stroke-linejoin="round">
<path d="M164.5 13.8L168.5 15.8L172.7 18.3L179 21.2L185.5 24L192 26.7L198.2 29.1L204.5 30.9L210.9 32.3L217 33.6L223.6 34.8L230 35.9L237 36.9L245 37.8L255 38.4L266 38.9" fill="none" stroke="#ea3449" stroke-width="1.3"/>
<path d="M164.5 13.7L200 14.3L240 15.4L266 16.2" fill="none" stroke="#1a1acc" stroke-width="1.15"/>
<path d="M164.5 17.5L166 19.5L168 23L168.8 26L169.3 30.5L171 31L174.6 31.6L177 33L179 34.2L183 36.5L188 38L190 40L194 43L198 45L202 47L205 48L212 50.5L220 52.5L226 54L232 56.5L239 59L241 61.5L245 65L250 66.5L258 69L266 71.3" fill="none" stroke="#f4f032" stroke-width="1.3"/>
<path d="M164.5 13.9L200 14.7L240 16.1L266 17.2" fill="none" stroke="#333338" stroke-width="0.9"/>
<path d="M164.5 17.5L166 19.5L169.5 23.5L171 27L173 33L174.5 38.5L176 39.3L183 40L184.5 43.5L186 44L192 45L194 48L198.5 54L202 57L205.5 60L208 65L211 70L213.5 72.6L216 74L218.6 76.4L221 82L223.6 87.7L228 93L232.5 97.8L233 101.5L266 101.5" fill="none" stroke="#2ee83c" stroke-width="1.3"/>
</g>
<rect x="168.7" y="70.8" width="27.3" height="26.3" fill="#fff" stroke="#8a8a8a" stroke-width=".5"/>
<path d="M170.3 74.1L182.9 74.1" stroke="#ea3449" stroke-width="1"/>
<text x="184.1" y="75.5" font-size="3.7" text-anchor="start" fill="#444">GWO</text>
<path d="M170.3 79.2L182.9 79.2" stroke="#1a1acc" stroke-width="1"/>
<text x="184.1" y="80.6" font-size="3.7" text-anchor="start" fill="#444">PSO</text>
<path d="M170.3 84.3L182.9 84.3" stroke="#f4f032" stroke-width="1"/>
<text x="184.1" y="85.7" font-size="3.7" text-anchor="start" fill="#444">SSA</text>
<path d="M170.3 89.4L182.9 89.4" stroke="#333338" stroke-width="1"/>
<text x="184.1" y="90.8" font-size="3.7" text-anchor="start" fill="#444">MFO</text>
<path d="M170.3 94.5L182.9 94.5" stroke="#2ee83c" stroke-width="1"/>
<text x="184.1" y="95.9" font-size="3.7" text-anchor="start" fill="#444">ISSA</text>
<path d="M432 15.2H535.4M432 23.4H535.4M432 39.6H535.4M432 47.8H535.4M432 55.9H535.4M432 72.1H535.4M432 80.2H535.4M432 88.4H535.4" stroke="#f1f1f1" stroke-width=".5" fill="none"/>
<path d="M452.3 14.6V101.6M473 14.6V101.6M493.7 14.6V101.6M514.4 14.6V101.6M535.1 14.6V101.6M432 31.5H535.4M432 64H535.4M432 96.5H535.4" stroke="#e9e9e9" stroke-width=".5" fill="none"/>
<rect x="432" y="14.6" width="103.4" height="87" fill="none" stroke="#8a8a8a" stroke-width=".6"/>
<text x="452.3" y="107.5" font-size="4.2" text-anchor="middle" fill="#444">100</text>
<text x="473" y="107.5" font-size="4.2" text-anchor="middle" fill="#444">200</text>
<text x="493.7" y="107.5" font-size="4.2" text-anchor="middle" fill="#444">300</text>
<text x="514.4" y="107.5" font-size="4.2" text-anchor="middle" fill="#444">400</text>
<text x="535.1" y="107.5" font-size="4.2" text-anchor="middle" fill="#444">500</text>
<text x="430.4" y="33.2" font-size="4.2" fill="#444" text-anchor="end">10<tspan dy="-1.9" font-size="2.8">0</tspan></text>
<text x="430.4" y="65.7" font-size="4.2" fill="#444" text-anchor="end">10<tspan dy="-1.9" font-size="2.8">−20</tspan></text>
<text x="430.4" y="98.2" font-size="4.2" fill="#444" text-anchor="end">10<tspan dy="-1.9" font-size="2.8">−40</tspan></text>
<text x="484.3" y="114" font-size="4.5" text-anchor="middle" fill="#444">iteration</text>
<text x="416" y="59.6" font-size="4.5" text-anchor="middle" fill="#444" transform="rotate(-90 416 58)">fitness</text>
<clipPath id="c432"><rect x="432" y="14" width="104" height="88.2"/></clipPath>
<g clip-path="url(#c432)" stroke-linejoin="round">
<path d="M432.2 14.8L432.2 29L440 33L452 39L462 44L473 49L483 52L494 54L505 55.7L515 56.7L525 57.2L535.4 57.4" fill="none" stroke="#ea3449" stroke-width="1.3"/>
<path d="M432.2 22L432.2 29L440 29.4L535.4 30" fill="none" stroke="#1a1acc" stroke-width="1.15"/>
<path d="M432 30.5L434 32L438.4 36.5L445 39L452 41.5L462 45L473 49L478 51L482.5 53L484 56L487.5 59L492 62L495 64L497 68L500 70L503 75L506.5 79L509 83L511.5 85L517 87.5L523 89.7L529 91.5L535.4 93.5" fill="none" stroke="#f4f032" stroke-width="1.3"/>
<path d="M432 14.6L433.5 15L435 19L437 22L439 25L441 28.3L445 28.8L535.4 29.5" fill="none" stroke="#333338" stroke-width="0.9"/>
<path d="M432 31L433.4 33.5L435.5 37L438 40L441 42.5L444 45L446 50L448 55L450 57.5L452.3 60.5L455 65L458.6 69L459.9 70L462 74L464.9 77L468 78L472.5 79L476 84L481.3 90L484 92L485 95L487.6 97.8L489 98L491.3 101.6L535.4 101.6" fill="none" stroke="#2ee83c" stroke-width="1.3"/>
</g>
<rect x="433" y="73" width="27" height="26" fill="#fff" stroke="#8a8a8a" stroke-width=".5"/>
<path d="M434.6 76.2L447.2 76.2" stroke="#ea3449" stroke-width="1"/>
<text x="448.4" y="77.5" font-size="3.7" text-anchor="start" fill="#444">GWO</text>
<path d="M434.6 81.3L447.2 81.3" stroke="#1a1acc" stroke-width="1"/>
<text x="448.4" y="82.6" font-size="3.7" text-anchor="start" fill="#444">PSO</text>
<path d="M434.6 86.4L447.2 86.4" stroke="#f4f032" stroke-width="1"/>
<text x="448.4" y="87.7" font-size="3.7" text-anchor="start" fill="#444">SSA</text>
<path d="M434.6 91.5L447.2 91.5" stroke="#333338" stroke-width="1"/>
<text x="448.4" y="92.8" font-size="3.7" text-anchor="start" fill="#444">MFO</text>
<path d="M434.6 96.6L447.2 96.6" stroke="#2ee83c" stroke-width="1"/>
<text x="448.4" y="97.9" font-size="3.7" text-anchor="start" fill="#444">ISSA</text>
<path d="M163.2 155.9H269M163.2 170.5H269M163.2 177.8H269M163.2 185.2H269M163.2 199.8H269M163.2 207.1H269M163.2 214.5H269M163.2 221.8H269M163.2 229.1H269M163.2 236.4H269M163.2 243.8H269" stroke="#f1f1f1" stroke-width=".5" fill="none"/>
<path d="M184.1 155.2V247.1M205.3 155.2V247.1M226.5 155.2V247.1M247.7 155.2V247.1M268.9 155.2V247.1M163.2 163.2H269M163.2 192.5H269M163.2 222.7H269" stroke="#e9e9e9" stroke-width=".5" fill="none"/>
<rect x="163.2" y="155.2" width="105.8" height="91.9" fill="none" stroke="#8a8a8a" stroke-width=".6"/>
<text x="184.1" y="253.5" font-size="4.2" text-anchor="middle" fill="#444">100</text>
<text x="205.3" y="253.5" font-size="4.2" text-anchor="middle" fill="#444">200</text>
<text x="226.5" y="253.5" font-size="4.2" text-anchor="middle" fill="#444">300</text>
<text x="247.7" y="253.5" font-size="4.2" text-anchor="middle" fill="#444">400</text>
<text x="268.9" y="253.5" font-size="4.2" text-anchor="middle" fill="#444">500</text>
<text x="161.6" y="164.9" font-size="4.2" fill="#444" text-anchor="end">10<tspan dy="-1.9" font-size="2.8">0</tspan></text>
<text x="161.6" y="194.2" font-size="4.2" fill="#444" text-anchor="end">10<tspan dy="-1.9" font-size="2.8">−20</tspan></text>
<text x="161.6" y="224.4" font-size="4.2" fill="#444" text-anchor="end">10<tspan dy="-1.9" font-size="2.8">−40</tspan></text>
<text x="215.6" y="259.6" font-size="4.5" text-anchor="middle" fill="#444">iteration</text>
<text x="147.5" y="199.6" font-size="4.5" text-anchor="middle" fill="#444" transform="rotate(-90 147.5 198)">fitness</text>
<clipPath id="c163"><rect x="163.2" y="154.6" width="106.4" height="93.1"/></clipPath>
<g clip-path="url(#c163)" stroke-linejoin="round">
<path d="M163.2 156L175 158.2L184 160L195 162.2L205 164L216 165.4L226 166.5L237 167.5L247.6 168.3L258 169L269 169.5" fill="none" stroke="#ea3449" stroke-width="1.3"/>
<path d="M163.2 155.7L200 156L269 156.3" fill="none" stroke="#1a1acc" stroke-width="1.15"/>
<path d="M163.2 157.5L163.9 160.1L166.4 166.4L170.2 167L174 170.2L177.7 170.8L182 173L186.6 175.7L195 178L201 181.6L203 185L206 186.7L211 188L216 189L217.3 193L221 193.5L226 194L230 196.5L233.7 198L238 199L243.8 200L248 201L253.9 202.5L259 203L264 203.8L265 208L266.5 210L269 211.3" fill="none" stroke="#f4f032" stroke-width="1.3"/>
<path d="M163.2 155.9L200 156.3L269 156.8" fill="none" stroke="#333338" stroke-width="0.9"/>
<path d="M163.2 157.5L164 163L165 171.5L165.4 172.2L175.8 172.3L176.5 176L178.3 177.9L179.5 183L180.8 186.7L183 188L185.9 190.5L189 193L192.2 195.5L195 197L198.5 198L204.7 198.5L206 200L207.3 205L212 206L218.6 207.6L223 210L226.2 211.3L228 216L229.9 220.2L232 228L235 237.8L239 240L243.8 242.8L246 245L247.6 247.1L269 247.1" fill="none" stroke="#2ee83c" stroke-width="1.3"/>
</g>
<rect x="168.7" y="213" width="27.7" height="26.8" fill="#fff" stroke="#8a8a8a" stroke-width=".5"/>
<path d="M170.3 216.6L182.9 216.6" stroke="#ea3449" stroke-width="1"/>
<text x="184.1" y="217.9" font-size="3.7" text-anchor="start" fill="#444">GWO</text>
<path d="M170.3 221.7L182.9 221.7" stroke="#1a1acc" stroke-width="1"/>
<text x="184.1" y="223" font-size="3.7" text-anchor="start" fill="#444">PSO</text>
<path d="M170.3 226.8L182.9 226.8" stroke="#f4f032" stroke-width="1"/>
<text x="184.1" y="228.1" font-size="3.7" text-anchor="start" fill="#444">SSA</text>
<path d="M170.3 231.9L182.9 231.9" stroke="#333338" stroke-width="1"/>
<text x="184.1" y="233.2" font-size="3.7" text-anchor="start" fill="#444">MFO</text>
<path d="M170.3 237L182.9 237" stroke="#2ee83c" stroke-width="1"/>
<text x="184.1" y="238.3" font-size="3.7" text-anchor="start" fill="#444">ISSA</text>
<path d="M429.1 162.7H532.4M429.1 170.9H532.4M429.1 179.2H532.4M429.1 195.7H532.4M429.1 203.9H532.4M429.1 212.2H532.4M429.1 228.7H532.4M429.1 236.9H532.4" stroke="#f1f1f1" stroke-width=".5" fill="none"/>
<path d="M449.3 150.7V242.3M470.1 150.7V242.3M490.8 150.7V242.3M511.6 150.7V242.3M532.3 150.7V242.3M429.1 154.4H532.4M429.1 187.4H532.4M429.1 220.7H532.4" stroke="#e9e9e9" stroke-width=".5" fill="none"/>
<rect x="429.1" y="150.7" width="103.3" height="91.6" fill="none" stroke="#8a8a8a" stroke-width=".6"/>
<text x="449.3" y="248.5" font-size="4.2" text-anchor="middle" fill="#444">100</text>
<text x="470.1" y="248.5" font-size="4.2" text-anchor="middle" fill="#444">200</text>
<text x="490.8" y="248.5" font-size="4.2" text-anchor="middle" fill="#444">300</text>
<text x="511.6" y="248.5" font-size="4.2" text-anchor="middle" fill="#444">400</text>
<text x="532.3" y="248.5" font-size="4.2" text-anchor="middle" fill="#444">500</text>
<text x="427.5" y="156.1" font-size="4.2" fill="#444" text-anchor="end">10<tspan dy="-1.9" font-size="2.8">0</tspan></text>
<text x="427.5" y="189.1" font-size="4.2" fill="#444" text-anchor="end">10<tspan dy="-1.9" font-size="2.8">−20</tspan></text>
<text x="427.5" y="222.4" font-size="4.2" fill="#444" text-anchor="end">10<tspan dy="-1.9" font-size="2.8">−40</tspan></text>
<text x="480.5" y="254.6" font-size="4.5" text-anchor="middle" fill="#444">iteration</text>
<text x="414" y="198.1" font-size="4.5" text-anchor="middle" fill="#444" transform="rotate(-90 414 196.5)">fitness</text>
<clipPath id="c429"><rect x="429.1" y="150.1" width="103.9" height="92.8"/></clipPath>
<g clip-path="url(#c429)" stroke-linejoin="round">
<path d="M429.1 152L438 153.9L449.3 156.3L460 158.5L470.4 160.4L480 161.8L490.8 162.8L500 163.4L512 164L522 164.3L532.4 164.5" fill="none" stroke="#ea3449" stroke-width="1.3"/>
<path d="M429.1 151.3L480 151.7L532.4 152.2" fill="none" stroke="#1a1acc" stroke-width="1.15"/>
<path d="M429.1 154.3L429.6 155L430.9 158.9L437.2 161.4L443.5 163.3L449 164.3L451 164.8L451.6 167L452.3 168.3L456 169.5L462.4 171.2L468 174L475 176.6L481 179L487.6 181.6L492 185L497.6 187.9L501 190.5L505.2 193L509 195L512.8 196.7L514 200L514 208.8L518 210L522.8 211.3L528 214L532.4 216.4" fill="none" stroke="#f4f032" stroke-width="1.3"/>
<path d="M429.1 151.5L480 152L532.4 152.7" fill="none" stroke="#333338" stroke-width="0.9"/>
<path d="M429.1 154.3L429.8 157L432.2 162L434.7 166.5L437.2 169.6L440.3 173.6L443.5 174.6L445.5 176.6L446.5 180L448.5 182.9L455 183.5L462.4 184.2L465.5 187L468.7 189.2L471 195L473.7 200L475 201.3L477.5 204L480 207L484 209.5L487.6 211.3L492 212L496.4 212.6L498 216L500.2 218.9L504 222L507.7 225.2L512 226L516.5 226.4L518 229L519 230.2L524 231.5L526 235L527.9 239L530 241L532.4 242.3" fill="none" stroke="#2ee83c" stroke-width="1.3"/>
</g>
<rect x="435.2" y="211.3" width="26.6" height="26" fill="#fff" stroke="#8a8a8a" stroke-width=".5"/>
<path d="M436.8 214.5L449.4 214.5" stroke="#ea3449" stroke-width="1"/>
<text x="450.6" y="215.8" font-size="3.7" text-anchor="start" fill="#444">GWO</text>
<path d="M436.8 219.6L449.4 219.6" stroke="#1a1acc" stroke-width="1"/>
<text x="450.6" y="220.9" font-size="3.7" text-anchor="start" fill="#444">PSO</text>
<path d="M436.8 224.7L449.4 224.7" stroke="#f4f032" stroke-width="1"/>
<text x="450.6" y="226" font-size="3.7" text-anchor="start" fill="#444">SSA</text>
<path d="M436.8 229.8L449.4 229.8" stroke="#333338" stroke-width="1"/>
<text x="450.6" y="231.1" font-size="3.7" text-anchor="start" fill="#444">MFO</text>
<path d="M436.8 234.9L449.4 234.9" stroke="#2ee83c" stroke-width="1"/>
<text x="450.6" y="236.2" font-size="3.7" text-anchor="start" fill="#444">ISSA</text>
<text x="132.8" y="132.8" font-size="7.05" font-weight="bold" style="font-family:'Liberation Serif',serif;stroke:#111;stroke-width:.12px" fill="#111" text-anchor="middle">(a) F1 convergence curve</text>
<text x="408.1" y="133.5" font-size="7.05" font-weight="bold" style="font-family:'Liberation Serif',serif;stroke:#111;stroke-width:.12px" fill="#111" text-anchor="middle">(b) F2 convergence curve</text>
<text x="132.8" y="268.8" font-size="7.05" font-weight="bold" style="font-family:'Liberation Serif',serif;stroke:#111;stroke-width:.12px" fill="#111" text-anchor="middle">(c) F3 convergence curve</text>
<text x="416.4" y="270.8" font-size="7.05" font-weight="bold" style="font-family:'Liberation Serif',serif;stroke:#111;stroke-width:.12px" fill="#111" text-anchor="middle">(d) F4 convergence curve</text>
</svg></body></html>
